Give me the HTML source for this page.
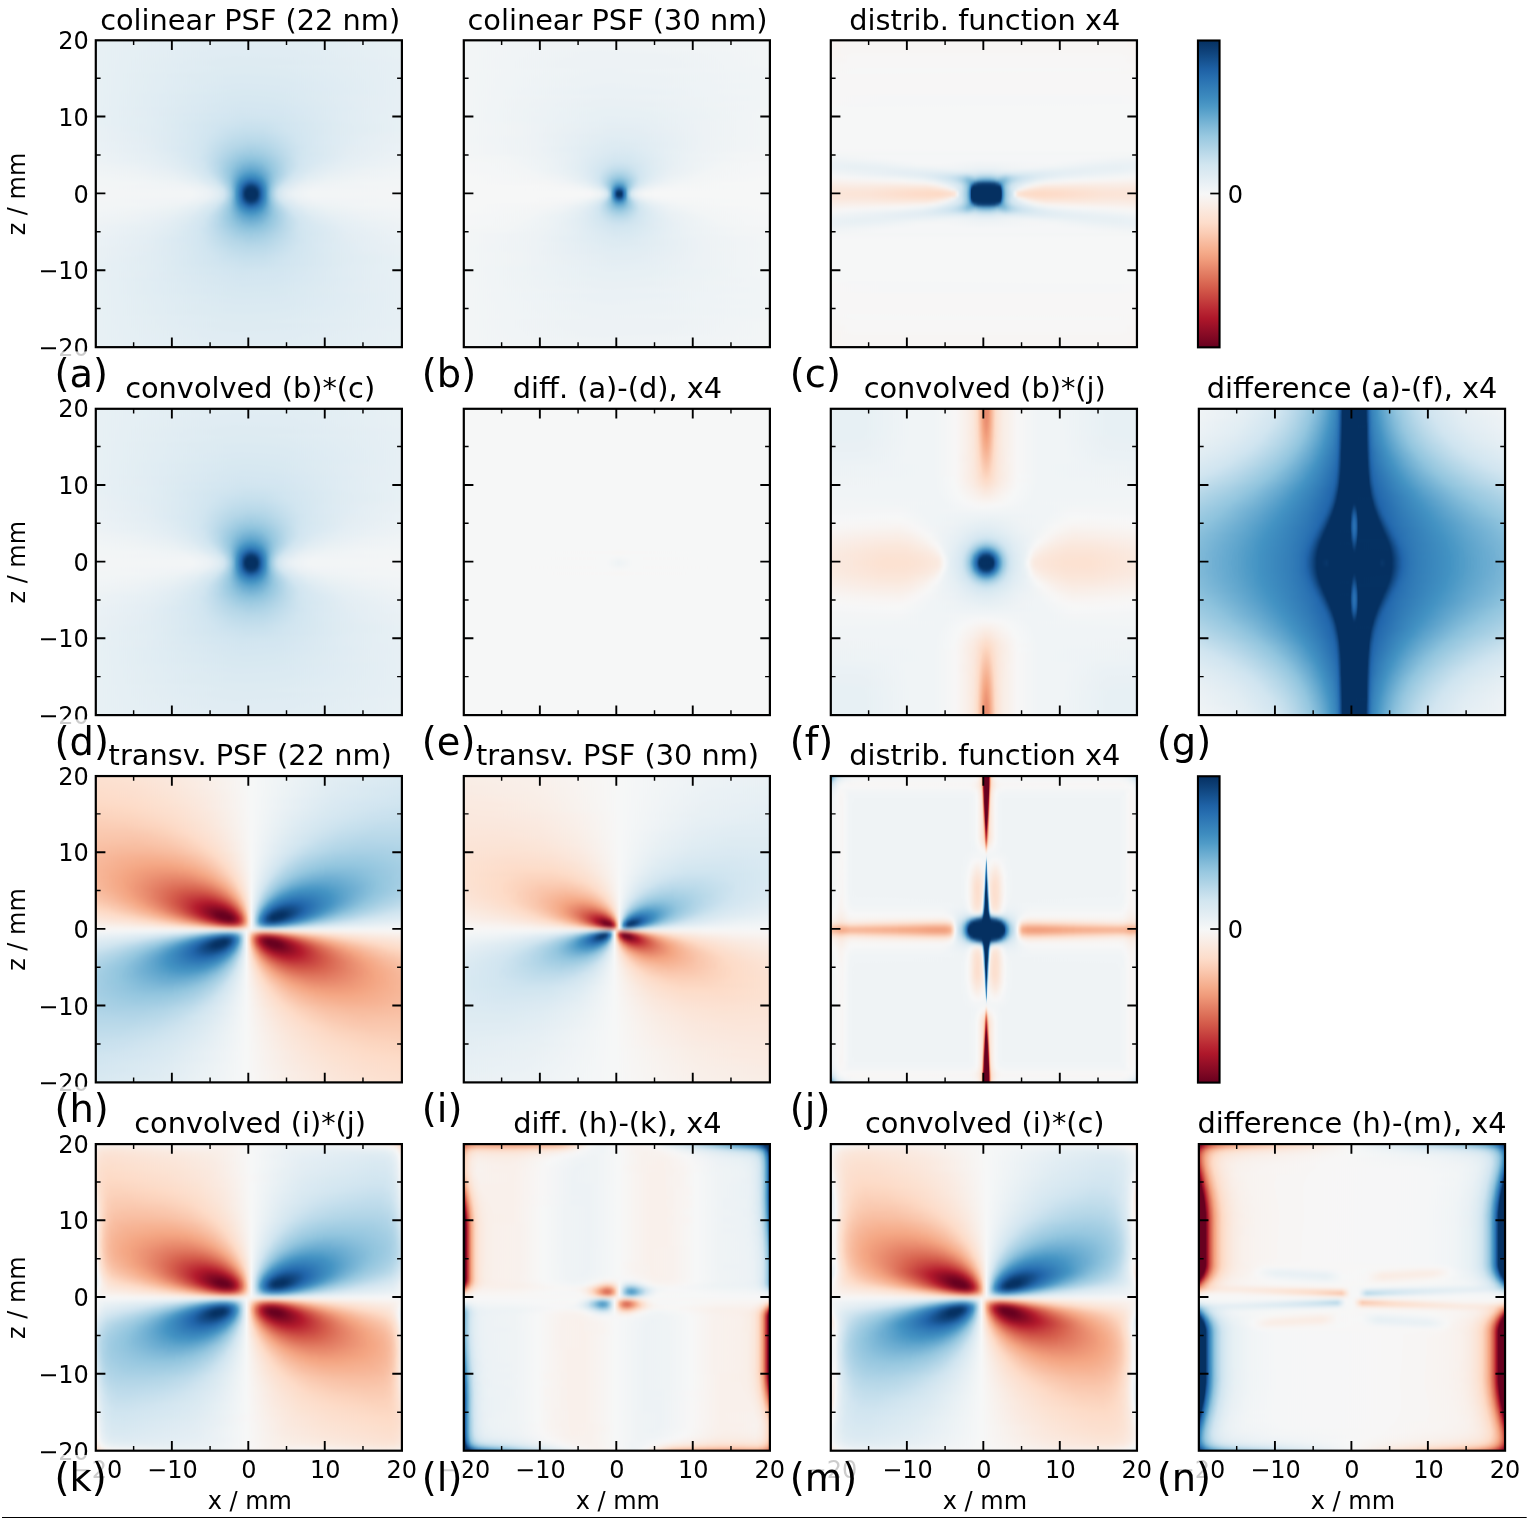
<!DOCTYPE html><html><head><meta charset="utf-8"><title>PSF figure</title><style>html,body{margin:0;padding:0;background:#fff}#fig{position:relative;width:1529px;height:1520px;overflow:hidden;background:#fff}.p{position:absolute;width:306px;height:306px;overflow:hidden;background:#f7f7f7}.q{position:absolute;left:0;top:-6px;margin-top:1px;width:306px;filter:url(#vb)}.q i{display:block;height:3px;width:306px}.f{transform:scaleX(-1)}text{font-family:"DejaVu Sans","Liberation Sans",sans-serif;fill:#000}.t{font-size:24px}.T{font-size:28.8px}.L{font-size:38.4px}.g0{background:linear-gradient(90deg,#e7f0f4 0%,#e1edf3 33%,#e1edf3 50.5%,#e1edf3 68.7%,#e7f0f4 100%)}.g1{background:linear-gradient(90deg,#e7f0f4 0%,#e0ecf3 45.6%,#e1edf3 70.6%,#e7f0f4 100%)}.g2{background:linear-gradient(90deg,#e7f0f4 0%,#e0ecf3 40.7%,#e0ecf3 60.9%,#e7f0f4 100%)}.g3{background:linear-gradient(90deg,#e7f0f4 0%,#e0ecf3 37.5%,#e0ecf3 64.1%,#e7f0f4 100%)}.g4{background:linear-gradient(90deg,#e7f0f4 0%,#e0ecf3 34.9%,#dfecf3 48.2%,#e0ecf3 66.4%,#e7f0f4 100%)}.g5{background:linear-gradient(90deg,#e7f0f4 0%,#deebf2 45.3%,#e0ecf3 68.7%,#e7f0f4 100%)}.g6{background:linear-gradient(90deg,#e7f0f4 0%,#deebf2 40.7%,#deebf2 60.6%,#e7eff4 100%)}.g7{background:linear-gradient(90deg,#e7f0f4 0%,#deebf2 37.8%,#deebf2 63.8%,#e6eff4 100%)}.g8{background:linear-gradient(90deg,#e7f0f4 0%,#e0ecf3 28.1%,#ddebf2 49.5%,#e6eff4 100%)}.g9{background:linear-gradient(90deg,#e7f0f4 0%,#ddebf2 42.7%,#ddebf2 58.9%,#e6eff4 100%)}.ga{background:linear-gradient(90deg,#e7f0f4 0%,#ddebf2 39.4%,#ddebf2 62.2%,#e6eff4 100%)}.gb{background:linear-gradient(90deg,#e7f0f4 0%,#deebf2 30.4%,#dbeaf2 48.9%,#ddebf2 64.4%,#e6eff4 100%)}.gc{background:linear-gradient(90deg,#e7f0f4 0%,#dbeaf2 42.7%,#dbeaf2 58.6%,#e6eff4 100%)}.gd{background:linear-gradient(90deg,#e7f0f4 0%,#ddebf2 33.3%,#dbeaf2 48.2%,#dbeaf2 61.9%,#e6eff4 100%)}.ge{background:linear-gradient(90deg,#e7f0f4 0%,#dae9f2 45.6%,#dbeaf2 64.1%,#e6eff4 100%)}.gf{background:linear-gradient(90deg,#e7f0f4 0%,#dae9f2 41.7%,#dae9f2 59.6%,#e6eff4 100%)}.g10{background:linear-gradient(90deg,#e7f0f4 0%,#d8e9f1 48.2%,#dae9f2 62.2%,#e6eff4 100%)}.g11{background:linear-gradient(90deg,#e7f0f4 0%,#d8e9f1 43%,#d8e9f1 58.3%,#e6eff4 100%)}.g12{background:linear-gradient(90deg,#e7f0f4 0%,#dae9f2 35.6%,#d7e8f1 49.2%,#d8e9f1 61.2%,#e3edf3 86.5%,#e6eff4 100%)}.g13{background:linear-gradient(90deg,#e7f0f4 0%,#d7e8f1 43.7%,#d7e8f1 58%,#e3edf3 86.9%,#e6eff4 100%)}.g14{background:linear-gradient(90deg,#e7f0f4 0%,#d5e7f1 47.9%,#d7e8f1 60.6%,#e4eef4 91.1%,#e6eff4 100%)}.g15{background:linear-gradient(90deg,#e7f0f4 0%,#e1edf3 18%,#d7e8f1 38.8%,#d5e7f1 48.2%,#d5e7f1 58%,#e3edf3 87.2%,#e6eff4 100%)}.g16{background:linear-gradient(90deg,#e7f0f4 0%,#d4e6f1 46.3%,#d5e7f1 60.6%,#e4eef4 91.1%,#e6eff4 100%)}.g17{background:linear-gradient(90deg,#e7f0f4 0%,#e3edf3 14.1%,#d3e6f0 47.2%,#d4e6f1 58.6%,#e1edf3 83.9%,#e7eff4 100%)}.g18{background:linear-gradient(90deg,#e7f0f4 0%,#e3edf3 14.1%,#d5e7f1 37.5%,#d2e5f0 47.9%,#d4e6f1 60.9%,#e0ecf3 81%,#e7f0f4 100%)}.g19{background:linear-gradient(90deg,#e7f0f4 0%,#e1edf3 17.4%,#d0e5f0 47.6%,#d2e6f0 59.6%,#e0ecf3 81.3%,#e7f0f4 100%)}.g1a{background:linear-gradient(90deg,#e7f0f4 0%,#e1edf3 17.4%,#cee3ef 48.5%,#cfe4ef 55.4%,#e0ecf3 81.3%,#e7f0f4 100%)}.g1b{background:linear-gradient(90deg,#e7f0f4 0%,#e1edf3 17.4%,#cbe2ee 49.2%,#cce2ef 54.7%,#e1edf3 84.3%,#e7f0f4 100%)}.g1c{background:linear-gradient(90deg,#e8f0f4 0%,#e0ecf3 20%,#c9e1ee 48.9%,#cae2ee 55.7%,#d1e5f0 61.5%,#deebf2 79.1%,#e7f0f4 100%)}.g1d{background:linear-gradient(90deg,#e9f0f4 0%,#ddebf2 24.5%,#d1e5f0 38.8%,#cce2ef 41.7%,#c6e0ed 47.9%,#c7e0ed 54.7%,#d1e5f0 62.8%,#deebf2 79.1%,#e7f0f4 100%)}.g1e{background:linear-gradient(90deg,#e9f0f4 0%,#e4eef4 12.2%,#dbeaf2 26.5%,#d1e5f0 37.8%,#c7e0ed 44%,#c3deec 48.9%,#c4deec 54.4%,#d1e5f0 63.8%,#deebf2 79.1%,#e8f0f4 100%)}.g1f{background:linear-gradient(90deg,#e9f0f4 0%,#e4eef4 12.8%,#dae9f2 28.1%,#d1e5f0 36.9%,#c4deec 44.3%,#bfdceb 49.2%,#c1ddec 55.4%,#d1e5f0 64.8%,#dbeaf2 75.2%,#e3edf3 85.9%,#e9f0f4 100%)}.g20{background:linear-gradient(90deg,#e9f0f4 0%,#e3edf3 16.1%,#d7e8f1 31%,#d1e5f0 36.2%,#bfdceb 45.3%,#bcdaea 48.9%,#bcdbea 54.1%,#c1ddec 57.6%,#d1e5f0 65.4%,#dbeaf2 75.2%,#e4eef4 88.1%,#e9f0f4 100%)}.g21{background:linear-gradient(90deg,#eaf1f5 0%,#e3edf3 16.4%,#d8e9f1 29.4%,#d1e5f0 35.6%,#bcdbea 44.6%,#b7d8e8 49.8%,#bad9e9 55.4%,#d1e5f0 65.7%,#dae9f2 73.5%,#e4eef4 87.5%,#e9f0f4 100%)}.g22{background:linear-gradient(90deg,#eaf1f5 0%,#e4eef4 14.8%,#dae9f2 28.1%,#d1e5f0 35.2%,#bad9e9 44%,#b2d5e7 49.8%,#b3d6e8 53.7%,#b7d8e9 56.3%,#d1e5f0 66.4%,#dae9f2 73.5%,#e4eef4 86.9%,#eaf1f5 100%)}.g23{background:linear-gradient(90deg,#eaf1f5 0%,#e4eef4 15.4%,#d5e7f1 32%,#d1e5f0 34.9%,#bad9e9 42.7%,#acd2e5 49.2%,#acd2e5 52.1%,#b1d5e7 55.4%,#cae1ee 63.8%,#d5e7f1 69.6%,#e3edf3 83.6%,#eaf1f5 100%)}.g24{background:linear-gradient(90deg,#ebf1f5 0%,#e3edf3 18.7%,#d5e7f1 32%,#cfe4ef 35.6%,#acd2e5 45.9%,#a5cee3 50.5%,#a7d0e4 53.4%,#afd4e6 56.7%,#d1e5f0 66.7%,#d7e8f1 70.6%,#e3edf3 83%,#eaf1f5 100%)}.g25{background:linear-gradient(90deg,#ecf2f5 0%,#e4eef4 17.4%,#ddebf2 26.1%,#d2e6f0 33.9%,#cce2ef 36.2%,#a7d0e4 45.6%,#a2cde3 47.9%,#a0cce2 48.2%,#a0cce2 49.8%,#9dcbe1 50.5%,#9dcbe1 51.1%,#a0cce2 51.5%,#a0cce2 53.1%,#a2cde3 53.4%,#a5cee3 55%,#c9e1ee 64.4%,#d2e6f0 67.7%,#e3edf3 82%,#ecf2f5 100%)}.g26{background:linear-gradient(90deg,#ecf2f5 0%,#e6eff4 16.4%,#e0ecf3 23.9%,#d2e6f0 33.9%,#c2ddec 38.5%,#a0cce2 45.9%,#9bc9e0 47.2%,#96c7df 49.8%,#96c7df 51.5%,#9bc9e0 54.1%,#a5cee3 56.7%,#c7e0ed 64.1%,#cfe4ef 66.1%,#d5e7f1 69.3%,#e4eef4 83%,#ecf2f5 100%)}.g27{background:linear-gradient(90deg,#edf2f5 0%,#e4eef4 19.6%,#ddebf2 27.4%,#d4e6f1 33.3%,#c7e0ed 37.2%,#a0cce2 44.6%,#9bc9e0 45.9%,#96c7df 46.6%,#8dc2dc 49.2%,#8dc2dc 52.1%,#90c4dd 53.4%,#98c8e0 55.4%,#b6d7e8 60.9%,#c5dfec 64.1%,#cae1ee 64.8%,#d1e5f0 66.7%,#d5e7f1 69%,#e4eef4 81.7%,#edf2f5 100%)}.g28{background:linear-gradient(90deg,#edf2f5 0%,#e7f0f4 17%,#e0ecf3 25.8%,#d4e6f1 33.6%,#cfe4ef 35.6%,#c2ddec 37.8%,#c2ddec 38.1%,#8ac0db 47.2%,#81bad8 50.2%,#81bad8 51.5%,#88bfdb 53.7%,#90c4dd 55%,#90c4dd 55.4%,#c0dceb 62.8%,#d1e5f0 66.7%,#d5e7f1 68.7%,#e4eef4 80.4%,#eaf1f5 89.8%,#edf2f5 100%)}.g29{background:linear-gradient(90deg,#eff3f5 0%,#eaf1f5 13.8%,#e4eef4 22.6%,#ddebf2 29.1%,#d1e5f0 35.2%,#c2ddec 38.1%,#bbdaea 39.1%,#bbdaea 39.4%,#90c4dd 45.3%,#87beda 46.3%,#87beda 46.6%,#7bb6d6 48.2%,#75b2d4 50.5%,#77b4d5 52.1%,#81bad8 54.4%,#8ac0db 55.4%,#96c7df 57%,#bddbea 62.5%,#d2e5f0 66.7%,#dfecf3 74.2%,#e5eff4 80%,#eef3f5 100%)}.g2a{background:linear-gradient(90deg,#eff3f5 0%,#ecf2f5 12.8%,#e5eef4 23.9%,#ddebf2 30%,#d3e6f0 34.9%,#c7e0ed 37.5%,#bbdaea 39.4%,#92c5de 44.3%,#7fb9d7 46.3%,#7eb8d7 46.6%,#71b0d3 47.9%,#67aacf 50.5%,#6bacd1 52.4%,#75b2d4 54.1%,#94c6df 57.3%,#a5cee3 59.3%,#c0dceb 62.8%,#d2e6f0 66.4%,#dceaf2 70.9%,#e6eff4 79.4%,#ecf2f5 88.5%,#eff3f5 100%)}.g2b{background:linear-gradient(90deg,#f0f4f6 0%,#edf2f5 12.2%,#e8f0f4 22.6%,#e2edf3 28.4%,#d6e7f1 34.6%,#cfe4f0 36.5%,#bcdaea 39.4%,#acd2e5 41.4%,#a7d0e4 41.7%,#96c7df 43.7%,#6eaed2 46.9%,#5da3cc 49.2%,#59a1ca 50.5%,#59a1ca 51.1%,#61a6cd 53.1%,#78b4d5 55.4%,#93c6de 57.6%,#a2cde3 59.3%,#a7d0e4 59.6%,#c1ddec 62.8%,#d1e5f0 65.4%,#e0ecf3 71.9%,#e6eff4 77.1%,#edf2f5 88.1%,#f0f4f6 100%)}.g2c{background:linear-gradient(90deg,#f0f4f6 0%,#eff3f5 11.2%,#e8f0f4 25.2%,#e0ecf3 31.3%,#d2e6f0 36.5%,#c9e1ee 38.1%,#b7d8e8 40.4%,#a0cce2 42.7%,#90c4dd 44%,#68abd0 46.6%,#509bc8 48.5%,#4997c5 49.5%,#4694c4 50.8%,#4997c5 52.1%,#59a1ca 53.7%,#6eaed2 55.4%,#96c7df 58%,#a5cee3 59.3%,#c2ddec 62.5%,#d0e5f0 64.4%,#d4e6f1 65.4%,#dfecf3 69.6%,#e8f0f4 76.5%,#edf2f5 85.9%,#f0f4f6 100%)}.g2d{background:linear-gradient(90deg,#f2f5f6 0%,#eef3f5 16.7%,#e9f1f4 26.1%,#e1edf3 32.3%,#d2e6f0 37.5%,#c7e0ed 39.1%,#bbdaea 40.4%,#9dcbe1 43%,#88bfdb 44.3%,#4f9bc7 47.2%,#4694c4 47.9%,#3e8cbf 48.9%,#3986bc 50.2%,#3b89be 52.1%,#4493c3 53.4%,#4c99c6 54.1%,#85bdda 57%,#9bc9e0 58.3%,#aed3e6 59.9%,#c2ddec 61.9%,#cfe4ef 63.5%,#d5e7f1 64.8%,#e1edf3 69.3%,#e9f1f4 75.5%,#eff3f5 86.2%,#f1f4f6 100%)}.g2e{background:linear-gradient(90deg,#f2f5f6 0%,#f0f4f6 14.8%,#ecf2f5 25.5%,#e4eef4 32.6%,#d7e8f1 37.5%,#cfe4ef 39.1%,#c2ddec 40.4%,#b3d6e8 41.7%,#96c7df 43.7%,#81bad8 44.6%,#4e9ac7 46.6%,#408fc1 47.2%,#317bb7 48.9%,#2b73b3 49.8%,#2a71b2 50.5%,#2a71b2 51.1%,#2e77b5 52.1%,#3480b9 53.1%,#4291c2 54.4%,#84bcd9 57%,#9dcbe1 58.3%,#b1d5e7 59.6%,#cae1ee 61.9%,#d2e6f0 63.1%,#dae9f2 64.8%,#e6eff4 69.6%,#ecf2f5 76.1%,#f0f4f6 86.9%,#f2f5f6 100%)}.g2f{background:linear-gradient(90deg,#f2f5f6 0%,#f2f5f6 12.8%,#eef3f5 27.1%,#e7f0f4 33.3%,#dae9f2 37.8%,#d3e6f0 39.4%,#c7e0ed 40.7%,#a7d0e4 43%,#92c5de 44%,#81bad8 44.6%,#4997c5 46.3%,#4190c1 46.6%,#3783bb 47.2%,#26a 48.9%,#1b5a9c 49.8%,#195696 50.5%,#195797 51.1%,#2063a6 52.4%,#2b73b2 53.4%,#4392c3 55%,#84bcd9 57%,#95c6df 57.6%,#aed3e6 58.9%,#c9e1ee 60.9%,#d2e5f0 61.9%,#dae9f2 63.5%,#e3edf3 66.1%,#e9f0f4 69%,#eef3f5 74.5%,#f2f5f6 88.5%,#f2f5f6 100%)}.g30{background:linear-gradient(90deg,#f3f5f6 0%,#eff3f6 29.1%,#e9f0f4 34.9%,#dbeaf2 39.1%,#d1e5f0 40.7%,#c5dfec 41.7%,#aed3e6 43%,#97c7df 44%,#81bad8 44.6%,#68abd0 45.3%,#408fc1 46.3%,#2267ab 47.9%,#154e8b 48.9%,#0f437b 49.5%,#0b3b71 50.2%,#0a396e 50.5%,#0a3a6f 51.1%,#0d4077 51.8%,#134a85 52.4%,#1f61a5 53.4%,#246aae 53.7%,#3d8bbf 55%,#4493c3 55.4%,#60a5cd 56%,#91c5de 57.3%,#b1d5e7 58.6%,#cbe2ee 60.2%,#d4e7f1 61.2%,#dae9f2 62.2%,#e9f0f4 66.7%,#eff3f6 72.6%,#f3f5f6 100%)}.g31{background:linear-gradient(90deg,#f3f5f6 0%,#f1f4f6 30.7%,#eaf1f5 36.2%,#e4eef4 38.1%,#dbeaf2 40.1%,#d2e6f0 41.4%,#cae1ee 42%,#aed3e6 43.3%,#92c5de 44.3%,#68abd0 45.3%,#4796c4 45.9%,#3e8dc0 46.3%,#2064a9 47.6%,#154e8b 48.2%,#0b3b71 48.9%,#073467 49.2%,#053162 49.5%,#053061 49.8%,#053061 51.8%,#063163 52.1%,#0d3f76 52.8%,#1c5da0 53.7%,#2369ad 54.1%,#4190c1 55.4%,#8bc1dc 57%,#97c7df 57.3%,#a9d1e5 58%,#c0dceb 58.9%,#d1e5f0 59.9%,#e0ecf3 62.2%,#ebf1f5 66.1%,#f1f4f6 70.9%,#f3f5f6 100%)}.g32{background:linear-gradient(90deg,#f3f5f6 0%,#f2f5f6 31.7%,#ebf1f5 36.9%,#e1edf3 39.8%,#d6e7f1 41.4%,#cfe4f0 42%,#bcdaea 43%,#aad1e5 43.7%,#96c7df 44.3%,#89bfdb 44.6%,#7ab6d6 45%,#4695c4 45.9%,#3c8abe 46.3%,#246aae 47.2%,#1d5fa2 47.6%,#0b3b71 48.5%,#063264 48.9%,#053061 49.2%,#053061 52.4%,#083669 52.8%,#134b86 53.4%,#2064a9 54.1%,#276fb0 54.4%,#3f8ec1 55.4%,#4c99c6 55.7%,#5fa5cd 56%,#8ec3dd 57%,#a5cee3 57.6%,#b7d8e8 58.3%,#c5dfed 58.9%,#d1e5f0 59.6%,#deebf2 61.2%,#e7eff4 63.1%,#ecf2f5 65.1%,#f2f5f6 70%,#f3f5f6 100%)}.g33{background:linear-gradient(90deg,#f2f5f6 0%,#eff3f5 31.3%,#eff3f5 76.5%,#f2f5f6 100%)}.g34{background:linear-gradient(90deg,#f2f5f6 0%,#eff3f5 23.9%,#eff3f5 77.8%,#f2f5f6 100%)}.g35{background:linear-gradient(90deg,#f2f5f6 0%,#eef3f5 47.2%,#f2f5f6 100%)}.g36{background:linear-gradient(90deg,#f2f5f6 0%,#edf2f5 42.4%,#f2f5f6 100%)}.g37{background:linear-gradient(90deg,#f2f5f6 0%,#edf2f5 38.8%,#edf2f5 62.8%,#f2f5f6 100%)}.g38{background:linear-gradient(90deg,#f2f5f6 0%,#edf2f5 37.8%,#edf2f5 65.4%,#f2f5f6 100%)}.g39{background:linear-gradient(90deg,#f2f5f6 0%,#edf2f5 33.9%,#edf2f5 67.7%,#f2f5f6 100%)}.g3a{background:linear-gradient(90deg,#f2f5f6 0%,#edf2f5 32%,#edf2f5 69.6%,#f2f5f6 100%)}.g3b{background:linear-gradient(90deg,#f2f5f6 0%,#edf2f5 31.3%,#edf2f5 71.3%,#f2f5f6 100%)}.g3c{background:linear-gradient(90deg,#f2f5f6 0%,#ecf2f5 47.6%,#f1f4f6 100%)}.g3d{background:linear-gradient(90deg,#f2f5f6 0%,#ecf2f5 43.3%,#f0f4f6 100%)}.g3e{background:linear-gradient(90deg,#f2f5f6 0%,#ecf2f5 40.1%,#ecf2f5 61.5%,#f0f4f6 100%)}.g3f{background:linear-gradient(90deg,#f2f5f6 0%,#ecf2f5 37.5%,#ecf2f5 64.1%,#f0f4f6 100%)}.g40{background:linear-gradient(90deg,#f2f5f6 0%,#ecf2f5 35.6%,#ecf2f5 66.1%,#f0f4f6 88.5%,#f0f4f6 100%)}.g41{background:linear-gradient(90deg,#f2f5f6 0%,#ebf1f5 47.6%,#f0f4f6 100%)}.g42{background:linear-gradient(90deg,#f2f5f6 0%,#eaf1f5 45.3%,#f0f4f6 100%)}.g43{background:linear-gradient(90deg,#f2f5f6 0%,#eaf1f5 41.7%,#eaf1f5 59.9%,#f0f4f6 89.8%,#f0f4f6 100%)}.g44{background:linear-gradient(90deg,#f2f5f6 0%,#eaf1f5 39.1%,#eaf1f5 62.5%,#f0f4f6 90.1%,#f0f4f6 100%)}.g45{background:linear-gradient(90deg,#f2f5f6 0%,#eaf1f5 49.5%,#f0f4f6 100%)}.g46{background:linear-gradient(90deg,#f2f5f6 0%,#e9f0f4 46.6%,#f0f4f6 100%)}.g47{background:linear-gradient(90deg,#f2f5f6 0%,#e9f0f4 42.7%,#e9f0f4 58.9%,#f0f4f6 90.7%,#f0f4f6 100%)}.g48{background:linear-gradient(90deg,#f2f5f6 0%,#e9f0f4 40.1%,#e9f0f4 61.5%,#eff3f5 83%,#f0f4f6 100%)}.g49{background:linear-gradient(90deg,#f2f5f6 0%,#e7f0f4 49.2%,#f1f4f6 100%)}.g4a{background:linear-gradient(90deg,#f2f5f6 0%,#e7f0f4 44%,#e7f0f4 57.6%,#f2f5f6 100%)}.g4b{background:linear-gradient(90deg,#f2f5f6 0%,#edf2f5 23.9%,#e7f0f4 41.4%,#e7f0f4 60.2%,#f2f5f6 100%)}.g4c{background:linear-gradient(90deg,#f2f5f6 0%,#e6eff4 47.2%,#e7f0f4 62.2%,#f2f5f6 100%)}.g4d{background:linear-gradient(90deg,#f2f5f6 0%,#e5eff4 49.5%,#e6eff4 58.6%,#edf2f5 78.7%,#f2f5f6 100%)}.g4e{background:linear-gradient(90deg,#f2f5f6 0%,#eff3f5 17.4%,#e4eef4 47.2%,#e6eff4 60.9%,#edf2f5 78.7%,#f2f5f6 100%)}.g4f{background:linear-gradient(90deg,#f2f5f6 0%,#eff3f5 17.4%,#e4eef3 48.9%,#e4eef4 57.6%,#edf2f5 79.1%,#f2f5f6 100%)}.g50{background:linear-gradient(90deg,#f2f5f6 0%,#eff3f5 17.7%,#e3edf3 47.2%,#e3edf3 54.7%,#edf2f5 79.1%,#f2f5f6 100%)}.g51{background:linear-gradient(90deg,#f2f5f6 0%,#eff3f5 17.7%,#e2edf3 48.9%,#e3edf3 57.6%,#edf2f5 79.1%,#f2f5f6 100%)}.g52{background:linear-gradient(90deg,#f2f5f6 0%,#eff3f5 18%,#e3edf3 42%,#e1edf3 50.2%,#e3edf3 59.6%,#edf2f5 79.1%,#f2f5f6 100%)}.g53{background:linear-gradient(90deg,#f2f5f6 0%,#edf2f5 22.2%,#e0ecf3 47.6%,#e1edf3 58%,#eff3f5 83.3%,#f2f5f6 100%)}.g54{background:linear-gradient(90deg,#f2f5f6 0%,#edf2f5 22.6%,#deebf2 49.5%,#e0ecf3 56.7%,#edf2f5 79.1%,#f2f5f6 100%)}.g55{background:linear-gradient(90deg,#f3f5f6 0%,#ecf2f5 26.1%,#ddebf2 48.2%,#deebf2 56%,#edf2f5 78.7%,#f2f5f6 100%)}.g56{background:linear-gradient(90deg,#f3f5f6 0%,#edf2f5 22.9%,#ddebf2 45.9%,#dceaf2 52.8%,#edf2f5 78.4%,#f3f5f6 100%)}.g57{background:linear-gradient(90deg,#f3f5f6 0%,#edf2f5 23.2%,#dae9f2 49.8%,#dbeaf2 54.7%,#e7f0f4 68.3%,#edf2f5 78.1%,#f3f5f6 100%)}.g58{background:linear-gradient(90deg,#f3f5f6 0%,#edf2f5 23.9%,#e7f0f4 33%,#d8e8f1 49.2%,#d9e9f2 55%,#e6eff4 66.7%,#ecf2f5 74.8%,#f2f5f6 89.8%,#f3f5f6 100%)}.g59{background:linear-gradient(90deg,#f3f5f6 0%,#f2f5f6 12.8%,#edf2f5 24.5%,#e6eff4 34.6%,#d6e7f1 49.2%,#d6e8f1 53.7%,#e4eef4 65.4%,#ecf2f5 74.5%,#f2f5f6 88.5%,#f3f5f6 100%)}.g5a{background:linear-gradient(90deg,#f4f6f6 0%,#f2f5f6 14.4%,#ecf2f5 27.4%,#e6eff4 34.6%,#d3e6f0 48.9%,#d5e7f1 54.4%,#e7f0f4 68.3%,#edf2f5 76.5%,#f3f5f6 93%,#f3f5f6 100%)}.g5b{background:linear-gradient(90deg,#f5f6f7 0%,#f2f5f6 15.7%,#ecf2f5 28.1%,#e3edf3 37.2%,#d2e5f0 47.6%,#cfe4f0 50.5%,#d3e6f0 54.7%,#e3edf3 64.4%,#ecf2f5 73.5%,#f2f5f6 85.6%,#f5f6f7 100%)}.g5c{background:linear-gradient(90deg,#f5f6f7 0%,#f2f5f6 17.4%,#ecf2f5 28.7%,#e1edf3 38.1%,#d3e6f0 45.6%,#cae1ee 49.2%,#cae1ee 52.1%,#e0ecf3 62.5%,#eaf1f5 70.9%,#f2f5f6 83.9%,#f5f6f7 100%)}.g5d{background:linear-gradient(90deg,#f5f6f7 0%,#f2f5f6 19.3%,#eaf1f5 31.3%,#deebf2 39.8%,#d1e5f0 45.3%,#c5dfec 48.2%,#c1ddec 50.5%,#c5dfec 53.1%,#d1e5f0 56.3%,#dbeaf2 60.2%,#e9f0f4 68.7%,#f2f5f6 82.3%,#f5f6f7 100%)}.g5e{background:linear-gradient(90deg,#f5f6f7 0%,#f2f5f6 21.3%,#e7f0f4 34.6%,#e0ecf3 39.1%,#d2e5f0 44.3%,#bad9e9 48.9%,#b7d8e8 50.5%,#b7d8e9 51.8%,#bddbea 53.4%,#d1e5f0 57%,#d8e9f1 59.3%,#e1edf3 63.1%,#e9f0f4 68%,#f2f5f6 80.4%,#f5f6f7 100%)}.g5f{background:linear-gradient(90deg,#f6f7f7 0%,#f2f5f6 23.2%,#edf2f5 30.4%,#e4eef3 37.5%,#dae9f2 41.7%,#d0e5f0 44.3%,#b3d6e7 48.2%,#a9d1e5 49.8%,#a9d1e5 51.5%,#b1d5e7 53.1%,#cde3ef 56.7%,#d4e6f1 58%,#dfecf3 61.9%,#e9f0f4 67%,#f2f5f6 78.1%,#f6f6f7 100%)}.g60{background:linear-gradient(90deg,#f6f7f7 0%,#f3f5f6 22.2%,#eef3f5 31.7%,#e6eff4 37.2%,#dceaf2 41.4%,#d1e5f0 44%,#b8d8e9 46.6%,#a2cde3 48.5%,#97c8df 50.5%,#97c8df 51.1%,#9fcbe2 52.4%,#d2e6f0 57.6%,#ddebf2 60.6%,#e5eef4 63.5%,#ecf2f5 68.3%,#f2f5f6 75.8%,#f6f7f7 100%)}.g61{background:linear-gradient(90deg,#f6f7f7 0%,#f3f5f6 26.5%,#eff3f6 32.3%,#e4eef3 39.4%,#dae9f2 42.4%,#cfe4f0 44.3%,#b7d8e8 46.3%,#93c5de 48.5%,#86bdda 49.5%,#81bad8 50.2%,#80bad8 50.8%,#84bcd9 51.8%,#90c4dd 52.8%,#bcdbea 55.7%,#d0e5f0 57.3%,#dbeaf2 59.3%,#e4eef4 62.2%,#eef3f5 67.7%,#f3f5f6 76.1%,#f6f7f7 100%)}.g62{background:linear-gradient(90deg,#f6f7f7 0%,#f4f5f6 27.8%,#eff3f5 35.2%,#e7f0f4 39.8%,#dbeaf2 43%,#d5e7f1 44%,#cfe4ef 44.6%,#bcdaea 45.9%,#93c6de 47.9%,#74b2d4 49.2%,#68abd0 49.8%,#62a7ce 50.5%,#62a7ce 51.1%,#6eaed2 52.1%,#96c7df 53.7%,#b1d5e7 55%,#c3deec 56%,#d1e5f0 57%,#d8e9f1 58%,#e6eff4 61.2%,#edf2f5 65.1%,#f2f5f6 70.3%,#f6f7f7 84.9%,#f6f7f7 100%)}.g63{background:linear-gradient(90deg,#f6f7f7 0%,#f6f7f7 22.9%,#f4f5f6 32.6%,#f0f4f6 37.5%,#e8f0f4 41.4%,#deebf2 43.7%,#d3e6f0 45%,#cae1ee 45.6%,#b4d6e8 46.6%,#98c8e0 47.6%,#8dc2dc 47.9%,#62a7ce 48.9%,#4b97c5 49.5%,#4390c2 49.8%,#3c89be 50.5%,#3e8abf 51.1%,#4593c3 51.8%,#4f9ac7 52.1%,#5ba2cb 52.4%,#91c5de 53.7%,#9ccae1 54.1%,#afd4e6 54.7%,#cce2ef 56%,#ddebf2 57.6%,#e8f0f4 59.9%,#f0f4f6 64.1%,#f4f6f6 70.3%,#f6f7f7 100%)}.g64{background:linear-gradient(90deg,#f6f7f7 0%,#f5f6f7 34.9%,#f2f5f6 40.1%,#e9f1f4 43.3%,#e4eef3 44.3%,#d8e9f1 45.6%,#cee3ef 46.3%,#bbdaea 46.9%,#aed3e6 47.2%,#8ec3dd 47.9%,#4493c3 48.9%,#3783bb 49.2%,#2c75b4 49.5%,#1d5d9d 50.2%,#195695 50.5%,#195593 50.8%,#1b5997 51.1%,#2061a2 51.5%,#266cad 51.8%,#3b89be 52.4%,#4c99c6 52.8%,#81bad8 53.4%,#96c7df 53.7%,#b3d6e7 54.4%,#c9e1ee 55%,#d0e4f0 55.4%,#dae9f2 56%,#e5eef4 57.3%,#ebf1f5 58.6%,#f3f5f6 62.5%,#f5f6f7 66.7%,#f6f7f7 100%)}.g65{background:linear-gradient(90deg,#f6f7f7 0%,#f6f7f7 38.8%,#f6f6f7 41.1%,#eef3f5 44.3%,#e4eef4 45.6%,#d6e8f1 46.6%,#cee4ef 46.9%,#c0dceb 47.2%,#aed3e6 47.6%,#97c8e0 47.9%,#79b5d5 48.2%,#569fc9 48.5%,#3a87bd 48.9%,#2970b1 49.2%,#1a5899 49.5%,#0e4179 49.8%,#063365 50.2%,#053061 50.5%,#053162 51.1%,#08366a 51.5%,#124984 51.8%,#1f61a5 52.1%,#2f79b6 52.4%,#408fc1 52.8%,#86bdda 53.4%,#a0cce2 53.7%,#b5d7e8 54.1%,#c5dfed 54.4%,#d2e6f0 54.7%,#d9e9f1 55%,#e5eff4 56%,#edf2f5 57%,#f4f6f6 59.3%,#f6f7f7 62.5%,#f6f7f7 100%)}.g66{background:linear-gradient(90deg,#f8f4f2 0%,#f7f5f4 7.6%,#f7f5f4 96.3%,#f8f4f2 96.9%,#f8f4f2 100%)}.g67{background:linear-gradient(90deg,#f8f4f2 0%,#f7f5f4 7.6%,#f7f5f4 96.6%,#f8f4f2 97.2%,#f8f4f2 100%)}.g68{background:linear-gradient(90deg,#f8f4f2 0%,#f7f5f4 4.7%,#f7f5f4 96.9%,#f8f4f2 100%)}.g69{background:linear-gradient(90deg,#f8f4f2 0%,#f7f5f4 4.1%,#f7f5f4 97.6%,#f8f4f2 100%)}.g6a{background:linear-gradient(90deg,#f8f4f2 0%,#f7f6f5 7.6%,#f7f6f5 94%,#f8f4f2 100%)}.g6b{background:linear-gradient(90deg,#f8f5f3 0%,#f7f6f6 6.7%,#f7f6f6 95%,#f7f5f4 100%)}.g6c{background:linear-gradient(90deg,#f7f5f4 0%,#f7f5f4 4.7%,#f7f6f6 5.7%,#f7f6f6 95.9%,#f7f5f4 96.6%,#f7f5f4 100%)}.g6d{background:linear-gradient(90deg,#f7f5f4 0%,#f7f6f6 5.7%,#f7f6f6 96.6%,#f7f5f4 100%)}.g6e{background:linear-gradient(90deg,#f7f5f4 0%,#f7f6f6 4.1%,#f7f6f6 97.6%,#f7f5f4 100%)}.g6f{background:linear-gradient(90deg,#f7f5f4 0%,#f6f7f7 8.6%,#f6f7f7 93.7%,#f7f5f4 100%)}.g70{background:linear-gradient(90deg,#f7f6f5 0%,#f6f7f7 6.3%,#f7f6f5 100%)}.g71{background:#f7f6f6}.g72{background:linear-gradient(90deg,#f7f6f6 0%,#f5f6f7 16.7%,#f5f6f7 93.3%,#f7f6f6 100%)}.g73{background:linear-gradient(90deg,#f7f6f6 0%,#f5f6f7 16.7%,#f5f6f7 94.3%,#f7f6f6 100%)}.g74{background:linear-gradient(90deg,#f7f6f6 0%,#f5f6f7 16.7%,#f5f6f7 94.6%,#f7f6f6 100%)}.g75{background:linear-gradient(90deg,#f7f7f6 0%,#f5f6f7 6.3%,#f6f7f7 100%)}.g76{background:#f6f7f7}.g77{background:linear-gradient(90deg,#f6f6f7 0%,#f6f7f7 100%)}.g78{background:#f4f6f6}.g79{background:linear-gradient(90deg,#f1f4f6 0%,#f5f6f7 15.1%,#f5f6f7 86.2%,#f2f5f6 100%)}.g7a{background:linear-gradient(90deg,#eef3f5 0%,#f5f6f7 21.6%,#f5f6f7 79.7%,#eff3f5 94.6%,#eff3f5 100%)}.g7b{background:linear-gradient(90deg,#ebf1f5 0%,#ecf2f5 9.3%,#f5f6f7 29.1%,#f5f6f7 38.5%,#f1f4f6 48.2%,#f5f6f7 72.2%,#ecf2f5 92.4%,#ebf1f5 100%)}.g7c{background:linear-gradient(90deg,#eaf1f5 0%,#e8f0f4 7%,#eaf1f5 15.7%,#f2f5f6 27.8%,#f4f5f6 35.6%,#eff3f5 47.9%,#eff3f5 53.4%,#f4f5f6 65.1%,#f2f5f6 73.5%,#eaf1f5 85.9%,#e8f0f4 93.3%,#eaf1f5 100%)}.g7d{background:linear-gradient(90deg,#ebf1f5 0%,#e7f0f4 8.6%,#e8f0f4 20%,#f0f4f6 40.1%,#eaf1f5 48.2%,#eaf1f5 53.1%,#eff3f5 58.3%,#f0f4f6 64.1%,#e8f0f4 81.7%,#e7f0f4 93%,#ebf1f5 100%)}.g7e{background:linear-gradient(90deg,#eff3f5 0%,#e5eef4 22.6%,#e6eff4 42%,#e4eef3 46.6%,#e0ecf3 48.9%,#e0ecf3 52.4%,#e4eef3 54.7%,#e6eff4 59.3%,#e4eef4 69.3%,#e6eff4 82.6%,#eaf1f5 94.6%,#eff3f5 100%)}.g7f{background:linear-gradient(90deg,#f3f5f6 0%,#e3edf3 28.1%,#d7e8f1 40.7%,#cee3ef 44.3%,#d4e6f0 46.6%,#d3e6f0 47.2%,#cbe2ee 49.5%,#cbe2ee 52.1%,#d3e6f0 54.4%,#d3e6f0 55.4%,#cee3ef 57%,#d7e8f1 60.9%,#e6eff4 77.1%,#f3f5f6 100%)}.g80{background:linear-gradient(90deg,#f7f5f4 0%,#f6f6f7 4.7%,#eff3f5 21.3%,#e6eff4 29.7%,#e0ecf3 32.6%,#cfe4f0 38.5%,#c1ddec 41.1%,#b2d5e7 43%,#a5cfe4 44%,#a1cde2 44.6%,#a3cee3 45.3%,#b1d5e7 46.9%,#b1d5e7 47.2%,#a2cde3 48.9%,#9dcae1 50.5%,#9fcce2 52.1%,#b1d5e7 54.4%,#aed3e6 55%,#a5cee3 56%,#a1cde2 57%,#a3cee3 57.3%,#bcdaea 59.6%,#cde3ef 62.5%,#dbeaf2 67%,#e4eef4 70.9%,#eaf1f5 75.2%,#f0f4f6 82.6%,#f7f6f5 100%)}.g81{background:linear-gradient(90deg,#f8f2ef 0%,#f6f6f6 23.5%,#f0f4f6 30%,#e6eff4 34.3%,#d0e5f0 39.4%,#c9e1ee 40.4%,#bfdceb 41.4%,#add3e6 42.7%,#92c5de 44%,#88bfdb 44.3%,#7fb9d7 45%,#7cb7d6 45.3%,#7cb7d6 46.3%,#78b4d5 47.2%,#64a7ce 48.2%,#5ba0ca 48.9%,#549bc7 49.8%,#539ac7 50.8%,#549bc7 51.8%,#60a4cc 53.1%,#65a9cf 53.4%,#76b3d4 54.1%,#79b5d5 54.4%,#7cb7d6 56%,#80bad8 56.7%,#8bc1dc 57.3%,#95c6df 57.6%,#afd4e6 58.9%,#c7e0ed 60.9%,#d4e6f1 62.8%,#e7f0f4 67.7%,#f0f4f6 71.6%,#f6f6f6 78.1%,#f8f4f2 94%,#f8f2ef 100%)}.g82{background:linear-gradient(90deg,#f9eee8 0%,#f9efea 6%,#f9f0eb 22.6%,#f8f3f0 31%,#f5f5f5 33.6%,#ecf2f5 36.2%,#d9e9f2 40.1%,#d1e5f0 41.4%,#c4deec 42.4%,#b7d8e8 43%,#a6cfe4 43.7%,#92c5de 44.3%,#7ab6d6 45%,#5ca3cb 45.6%,#3d88be 46.3%,#3178b1 46.6%,#24659d 46.9%,#13497f 47.9%,#10447b 48.2%,#0c3d74 49.5%,#0c3d73 50.2%,#0c3e75 52.1%,#11457c 53.4%,#154c83 53.7%,#205f98 54.4%,#296ca4 54.7%,#367fb8 55%,#529cc8 55.7%,#62a7ce 56%,#7fb9d7 56.7%,#96c7df 57.3%,#b2d5e7 58.3%,#c6e0ed 59.3%,#d2e5f0 60.2%,#e8f0f4 64.4%,#f3f5f5 67%,#f8f3f0 70.3%,#f9f0eb 79.1%,#f9eee8 100%)}.g83{background:linear-gradient(90deg,#faeae1 0%,#f9ebe3 7.6%,#fae9df 20%,#fae9df 31.3%,#f9ede6 34.3%,#f8f2ef 35.9%,#f2f4f6 37.8%,#dae9f2 41.4%,#d1e5f0 42.4%,#cbe2ee 42.7%,#bbdaea 43.3%,#9ac9e0 44.3%,#8ac0db 44.6%,#74b2d4 45%,#569fc9 45.3%,#3885bc 45.6%,#1f60a0 45.9%,#0b3b71 46.3%,#053061 46.6%,#053061 54.7%,#063163 55%,#10467f 55.4%,#2970b0 55.7%,#418ec1 56%,#62a7ce 56.3%,#7eb8d7 56.7%,#91c5de 57%,#abd2e5 57.6%,#bfdceb 58.3%,#cee3ef 58.9%,#d2e6f0 59.3%,#eff3f6 63.1%,#f4f5f5 64.1%,#f8f2ee 65.7%,#f9ede5 67.7%,#fae9df 70%,#fae9df 81.7%,#f9ebe3 93.7%,#faeae1 100%)}.g84{background:linear-gradient(90deg,#fae7dc 0%,#fae7dc 11.5%,#fce2d2 26.1%,#fce1d1 32.3%,#fbe6da 36.2%,#f9ebe3 37.8%,#f5f3f2 39.4%,#edf2f5 40.4%,#ddebf2 41.4%,#cee3ef 42.7%,#bcdbea 43.3%,#a6cfe4 44%,#98c8e0 44.3%,#84bcd9 44.6%,#68abd0 45%,#408fc1 45.3%,#256caf 45.6%,#073466 45.9%,#053061 46.3%,#053061 55.4%,#134a85 55.7%,#317bb7 56%,#4e9ac7 56.3%,#75b2d4 56.7%,#8dc2dc 57%,#9ecbe1 57.3%,#abd2e5 57.6%,#c0dceb 58.3%,#d0e5f0 58.9%,#dfecf3 60.2%,#eff3f5 61.2%,#f5f3f2 61.9%,#f8f0eb 62.8%,#fae7dc 64.8%,#fbe3d5 66.7%,#fce1d1 69.3%,#fce2d2 75.2%,#fae7dc 90.1%,#fae7dc 100%)}.g85{background:linear-gradient(90deg,#fbe6d9 0%,#fbe4d7 12.2%,#fddcca 27.8%,#fddbc7 33.6%,#fddbc7 35.6%,#fce0d0 39.1%,#fbe6da 40.4%,#f9ebe3 40.7%,#f0f3f4 41.4%,#e6eff4 41.7%,#dbeaf2 42%,#c5dfec 43%,#bbdaea 43.3%,#a4cee3 44%,#96c7df 44.3%,#7fb9d7 44.6%,#60a5cd 45%,#3c8abe 45.3%,#2064a9 45.6%,#053061 45.9%,#053061 55.4%,#0c3d74 55.7%,#2b74b3 56%,#4695c4 56.3%,#6daed1 56.7%,#88bfdb 57%,#9bc9e0 57.3%,#a9d1e4 57.6%,#bedbeb 58.3%,#d6e8f1 59.3%,#eaf1f5 59.9%,#f3f3f3 60.2%,#fae9df 60.9%,#fbe5d9 61.2%,#fbe3d5 61.5%,#fcdecc 63.5%,#fddbc7 67.7%,#fddcca 73.9%,#fbe4d7 89.1%,#fbe5d9 100%)}.g86{background:linear-gradient(90deg,#f6f7f7 0%,#f7f6f6 46.6%,#f8f5f3 50.2%,#f7f6f6 55%,#f6f7f7 100%)}.g87{background:linear-gradient(90deg,#f6f7f7 0%,#f7f6f6 41.4%,#f6f7f7 46.9%,#f3f5f6 50.5%,#f6f7f7 54.7%,#f7f6f6 59.9%,#f6f7f7 100%)}.g88{background:linear-gradient(90deg,#f6f7f7 0%,#f6f7f7 46.3%,#eef3f5 50.5%,#f6f7f7 55.4%,#f6f7f7 100%)}.g89{background:linear-gradient(90deg,#e7f0f4 0%,#e7f0f4 11.5%,#f0f4f6 26.5%,#f0f4f6 33.9%,#f7f6f6 40.7%,#f9efe9 44.3%,#fae8de 46.3%,#fce2d2 47.2%,#fdd9c4 47.9%,#fbd0b9 48.2%,#f4a683 49.5%,#ef9979 49.8%,#e98b6e 50.5%,#ea8e70 51.1%,#ec9374 51.5%,#f19e7d 51.8%,#f5a886 52.1%,#facab1 53.1%,#fddbc7 53.7%,#fbe3d4 54.4%,#faeae1 55.7%,#f9ede5 56.3%,#f7f6f6 60.9%,#f0f4f6 67.4%,#f0f4f6 74.8%,#e7f0f4 90.1%,#e7f0f4 100%)}.g8a{background:linear-gradient(90deg,#e7f0f4 0%,#e7f0f4 11.5%,#f0f4f6 26.5%,#f0f4f6 33.9%,#f7f6f6 40.7%,#f9efe9 44.3%,#fae8de 46.3%,#fce2d2 47.2%,#fdd9c4 47.9%,#fbd0b9 48.2%,#f4a683 49.5%,#ec9273 50.2%,#e98c6f 50.5%,#e98b6e 50.8%,#ea8e70 51.1%,#ed9475 51.5%,#f19e7d 51.8%,#f5aa89 52.1%,#facab1 53.1%,#fddbc7 53.7%,#fbe3d4 54.4%,#faeae1 55.7%,#f9ede5 56.3%,#f7f6f6 60.9%,#f0f4f6 67.4%,#f0f4f6 74.8%,#e7f0f4 90.1%,#e7f0f4 100%)}.g8b{background:linear-gradient(90deg,#e7f0f4 0%,#e7f0f4 11.5%,#f0f4f6 26.5%,#f0f4f6 33.9%,#f7f6f6 40.7%,#f9efe9 44.3%,#fae8de 46.3%,#fce2d2 47.2%,#fdd9c4 47.9%,#fbd0b9 48.2%,#f4a683 49.5%,#ec9374 50.2%,#ea8e70 50.5%,#e98c6f 50.8%,#ea8f71 51.1%,#f19f7d 51.8%,#f5aa89 52.1%,#facab1 53.1%,#fddbc7 53.7%,#fbe3d4 54.4%,#faeae1 55.7%,#f9ede5 56.3%,#f7f6f6 60.9%,#f0f4f6 67.4%,#f0f4f6 74.8%,#e7f0f4 90.1%,#e7f0f4 100%)}.g8c{background:linear-gradient(90deg,#e7f0f4 0%,#e7f0f4 11.5%,#f0f4f6 26.5%,#f0f4f6 33.9%,#f7f6f6 40.7%,#f9efe9 44.3%,#fae8de 46.3%,#fce2d2 47.2%,#fdd9c4 47.9%,#fbd0b9 48.2%,#f4a785 49.5%,#f19d7c 49.8%,#ed9475 50.2%,#ea8e70 50.8%,#eb9172 51.1%,#ee9777 51.5%,#f2a17f 51.8%,#f7b596 52.4%,#fcd5bf 53.4%,#fddcc9 53.7%,#fbe3d4 54.4%,#faeae1 55.7%,#f9ede5 56.3%,#f7f6f6 60.9%,#f0f4f6 67.4%,#f0f4f6 74.8%,#e7f0f4 90.1%,#e7f0f4 100%)}.g8d{background:linear-gradient(90deg,#e7f0f4 0%,#e7f0f4 11.5%,#f0f4f6 26.5%,#f0f4f6 33.9%,#f7f6f6 40.7%,#f9efe9 44.3%,#fae8de 46.3%,#fce2d2 47.2%,#fdd9c4 47.9%,#fac8af 48.5%,#f5a987 49.5%,#f19f7d 49.8%,#ee9677 50.2%,#ec9273 50.5%,#eb9172 50.8%,#ec9374 51.1%,#f3a380 51.8%,#fcd5bf 53.4%,#fddcc9 53.7%,#fbe3d4 54.4%,#faeae1 55.7%,#f9ede5 56.3%,#f7f6f6 60.9%,#f0f4f6 67.4%,#f0f4f6 74.8%,#e7f0f4 90.1%,#e7f0f4 100%)}.g8e{background:linear-gradient(90deg,#e7f0f4 0%,#e7f0f4 11.5%,#f0f4f6 26.5%,#f0f4f6 33.9%,#f7f6f6 40.7%,#f9efe9 44.3%,#fae8de 46.3%,#fce2d2 47.2%,#fddbc7 47.9%,#fcd3bc 48.2%,#f5aa89 49.5%,#f2a17f 49.8%,#ef9979 50.2%,#ed9475 50.5%,#ec9374 50.8%,#f09c7b 51.5%,#f4a583 51.8%,#fcd5bf 53.4%,#fddcc9 53.7%,#fbe3d4 54.4%,#faeae1 55.7%,#f9ede5 56.3%,#f7f6f6 60.9%,#f0f4f6 67.4%,#f0f4f6 74.8%,#e7f0f4 90.1%,#e7f0f4 100%)}.g8f{background:linear-gradient(90deg,#e7f0f4 0%,#e7f0f4 11.2%,#f0f4f6 26.5%,#f0f4f6 33.9%,#f7f6f6 40.7%,#f9efe9 44.3%,#fae8de 46.3%,#fbe4d7 46.9%,#fddbc7 47.9%,#facab1 48.5%,#f5ac8b 49.5%,#f4a482 49.8%,#ee9777 50.5%,#ee9677 50.8%,#ef9979 51.1%,#f4a785 51.8%,#fcd6c1 53.4%,#fddcc9 53.7%,#fbe3d4 54.4%,#faeae1 55.7%,#f9ede5 56.3%,#f7f6f6 60.9%,#f0f4f6 67.4%,#f0f4f6 75.2%,#e7f0f4 90.4%,#e7f0f4 100%)}.g90{background:linear-gradient(90deg,#e7f0f4 0%,#e7f0f4 10.9%,#f0f4f6 26.5%,#f0f4f6 33.9%,#f7f6f6 40.7%,#f9efe9 44.3%,#fbe5d8 46.9%,#fcdfcf 47.6%,#fcd4be 48.2%,#f6af8e 49.5%,#f4a784 49.8%,#f19f7d 50.2%,#ef9b7a 50.5%,#ef9a79 50.8%,#f3a280 51.5%,#f5aa88 51.8%,#fcd7c2 53.4%,#fdddcb 53.7%,#fce0d0 54.1%,#fae7dc 55%,#f9ede5 56.3%,#f7f6f6 60.9%,#f0f4f6 67.4%,#f0f4f6 75.2%,#e7f0f4 90.7%,#e7f0f4 100%)}.g91{background:linear-gradient(90deg,#e7f0f4 0%,#e7f0f4 10.2%,#f0f4f6 26.5%,#f0f4f6 33.9%,#f7f6f6 40.7%,#f9efe9 44.3%,#fae7dc 46.6%,#fbe5d8 46.9%,#fddcc9 47.9%,#f5aa88 49.8%,#f3a380 50.2%,#f19d7c 50.8%,#f4a583 51.5%,#f5ac8b 51.8%,#fcd7c2 53.4%,#fce0d0 54.1%,#fbe5d9 54.7%,#fae9df 55.4%,#f9ede5 56.3%,#f7f6f6 60.9%,#f0f4f6 67.4%,#f0f4f6 75.2%,#e7f0f4 91.4%,#e7f0f4 100%)}.g92{background:linear-gradient(90deg,#e7f0f4 0%,#e7f0f4 9.3%,#f0f4f6 26.5%,#f0f4f6 33.9%,#f7f6f6 40.7%,#f9efe9 44.3%,#fae7dc 46.6%,#fbe3d4 47.2%,#fddcc9 47.9%,#fcd6c1 48.2%,#f5ac8b 49.8%,#f3a380 50.5%,#f3a280 50.8%,#f4a482 51.1%,#f5a987 51.5%,#f7b698 52.1%,#fdd9c4 53.4%,#fbe4d6 54.4%,#fae9df 55.4%,#f9ede5 56.3%,#f7f6f6 60.9%,#f0f4f6 67.4%,#f0f4f6 75.2%,#e9f0f4 88.1%,#e7f0f4 100%)}.g93{background:linear-gradient(90deg,#e7f0f4 0%,#e9f0f4 12.5%,#f0f4f6 26.1%,#f0f4f6 33.9%,#f7f6f6 40.7%,#f9efe9 44.3%,#fae7dc 46.6%,#fdddca 47.9%,#fcd7c2 48.2%,#f6af8f 49.8%,#f5aa88 50.2%,#f4a683 50.8%,#f4a785 51.1%,#f6b192 51.8%,#fddac6 53.4%,#fcdecd 53.7%,#fbe6da 54.7%,#f9ede5 56.3%,#f7f6f6 60.9%,#f0f4f6 67.4%,#f0f4f6 75.2%,#e9f0f4 88.8%,#e7f0f4 100%)}.g94{background:linear-gradient(90deg,#e9f0f4 0%,#e9f0f4 11.9%,#f0f4f6 26.1%,#f0f4f6 33.9%,#f7f6f6 40.7%,#f9efe9 44.3%,#fae7dc 46.6%,#fce0d0 47.6%,#fdd9c4 48.2%,#f6b293 49.8%,#f5ad8c 50.2%,#f5aa88 50.8%,#f5ab8a 51.1%,#f7b495 51.8%,#fddbc7 53.4%,#fce2d2 54.1%,#fbe6da 54.7%,#f9ede5 56.3%,#f7f6f6 60.9%,#f0f4f6 67.4%,#f0f4f6 75.5%,#e9f0f4 89.8%,#e9f0f4 100%)}.g95{background:linear-gradient(90deg,#e9f0f4 0%,#e9f0f4 10.6%,#f0f4f6 26.1%,#f0f4f6 33.9%,#f7f6f6 40.7%,#f9efe9 44.3%,#fae7dc 46.6%,#fcdecc 47.9%,#fddac5 48.2%,#f7b697 49.8%,#f5ae8d 50.5%,#f5ad8c 50.8%,#f6b293 51.5%,#f7b89a 51.8%,#fddcc8 53.4%,#fbe6da 54.7%,#f9ede5 56.3%,#f7f6f6 60.9%,#f0f4f6 67.4%,#f0f4f6 75.5%,#e9f0f4 91.1%,#e9f0f4 100%)}.g96{background:linear-gradient(90deg,#e9f0f4 0%,#e9f0f4 8.6%,#f0f4f6 25.8%,#f0f4f6 33.9%,#f7f6f6 40.7%,#f9efe9 44.3%,#fbe6da 46.9%,#fddbc7 48.2%,#f7b99c 49.8%,#f6b293 50.5%,#f6b192 50.8%,#f7b698 51.5%,#f9c2a7 52.1%,#fddcc9 53.4%,#fce2d3 54.1%,#fae8de 55%,#f9f0eb 57.6%,#f7f6f6 60.9%,#f0f4f6 67.4%,#f0f4f6 75.8%,#eaf1f5 87.8%,#e9f0f4 100%)}.g97{background:linear-gradient(90deg,#eaf1f5 0%,#eaf1f5 12.5%,#f0f4f6 25.8%,#f0f4f6 33.9%,#f7f6f6 40.7%,#f9efe9 44.3%,#faeae1 45.6%,#faeae1 45.9%,#fbe6da 46.9%,#fddcc9 48.2%,#f8bda0 49.8%,#f7b89b 50.2%,#f7b697 50.8%,#f7b698 51.1%,#f7ba9d 51.5%,#f9c4aa 52.1%,#fdd9c4 53.1%,#fdddcb 53.4%,#fbe5d8 54.4%,#f9ede5 56.3%,#f7f6f6 60.9%,#f0f4f6 67.4%,#f0f4f6 75.8%,#eaf1f5 88.8%,#eaf1f5 100%)}.g98{background:linear-gradient(90deg,#eaf1f5 0%,#eaf1f5 10.9%,#f0f4f6 25.5%,#f0f4f6 33.9%,#f7f6f6 40.7%,#f9ebe3 45.6%,#fbe6da 46.9%,#fddcca 48.2%,#fdd8c3 48.5%,#f9c5ab 49.5%,#f9c0a5 49.8%,#f7ba9d 50.5%,#f8bb9e 51.1%,#f8bea2 51.5%,#fac7ae 52.1%,#fddac6 53.1%,#fce0d0 53.7%,#fae8de 55%,#f9f0eb 57.6%,#f7f6f6 60.9%,#f0f4f6 67.4%,#f0f4f6 76.1%,#eaf1f5 90.4%,#eaf1f5 100%)}.g99{background:linear-gradient(90deg,#eaf1f5 0%,#ecf2f5 14.8%,#f0f4f6 25.2%,#f0f4f6 33.9%,#f7f6f6 40.7%,#f9ebe3 45.6%,#fbe5d7 47.2%,#fddac6 48.5%,#fac9b0 49.5%,#f9c0a5 50.2%,#f8bda1 50.8%,#f8bfa3 51.1%,#f9c5ab 51.8%,#fddcc8 53.1%,#fae7dc 54.7%,#f9f0eb 57.6%,#f7f6f6 60.9%,#f0f4f6 67.4%,#f0f4f6 76.5%,#ecf2f5 86.9%,#eaf1f5 100%)}.g9a{background:linear-gradient(90deg,#ecf2f5 0%,#ecf2f5 13.1%,#f0f4f6 24.8%,#f0f4f6 33.9%,#f7f6f6 40.7%,#f9efe9 44.3%,#fae8de 46.6%,#fcdecd 48.2%,#fddbc8 48.5%,#fac7ae 49.8%,#f9c2a7 50.5%,#f9c2a7 50.8%,#f9c5ab 51.5%,#fddcca 53.1%,#fbe4d6 54.1%,#fae7dc 54.7%,#f9f0eb 57.6%,#f7f6f6 60.9%,#f0f4f6 67.4%,#f0f4f6 76.8%,#ecf2f5 88.1%,#ecf2f5 100%)}.g9b{background:linear-gradient(90deg,#ecf2f5 0%,#f0f4f6 33.9%,#f7f6f6 40.7%,#f9efe9 44.3%,#fae8de 46.6%,#fddcca 48.5%,#fbcfb8 49.5%,#fac8af 50.2%,#f9c6ac 50.8%,#fac9b0 51.5%,#fcd5c0 52.4%,#fddbc7 52.8%,#fbe6da 54.4%,#f9ede5 56.3%,#f7f6f6 60.9%,#f0f4f6 67.4%,#ecf2f5 100%)}.g9c{background:linear-gradient(90deg,#ecf2f5 0%,#f0f4f6 33.9%,#f7f6f6 40.7%,#f9efe9 44.3%,#fae7dc 46.9%,#fddbc7 48.9%,#fbd2bb 49.5%,#facab1 50.5%,#facbb2 51.1%,#fbcdb5 51.5%,#fddcc9 52.8%,#fbe6da 54.4%,#f9ede5 56.3%,#f7f6f6 60.9%,#f0f4f6 67.4%,#ecf2f5 100%)}.g9d{background:linear-gradient(90deg,#edf2f5 0%,#f0f4f6 33.9%,#f7f6f6 40.7%,#f9efe9 44.3%,#fbe6da 47.2%,#fddac5 49.2%,#fbd2bb 49.8%,#fbceb6 50.8%,#fcd3bd 51.8%,#fddbc7 52.4%,#fbe5d8 54.1%,#f9ede5 56.3%,#f7f6f6 60.9%,#f0f4f6 67.4%,#edf2f5 100%)}.g9e{background:linear-gradient(90deg,#edf2f5 0%,#f0f4f6 33.9%,#f7f6f6 40.7%,#f9ede5 45.3%,#fbe5d8 47.6%,#fcd6c1 49.8%,#fcd3bc 50.5%,#fcd3bc 51.1%,#fbe4d6 53.7%,#fae9df 55%,#f8f4f2 59.6%,#f6f7f7 61.5%,#f0f4f6 67.4%,#edf2f5 100%)}.g9f{background:linear-gradient(90deg,#eef3f5 0%,#f0f4f6 33.9%,#f6f7f7 40.1%,#f8f4f2 42%,#fae9df 46.6%,#fcd7c2 50.5%,#fdd9c4 51.5%,#fbe6da 54.1%,#f9ebe3 55.7%,#f8f3f0 58.9%,#f6f7f7 61.5%,#f0f4f6 67.4%,#eef3f5 100%)}.ga0{background:linear-gradient(90deg,#eff3f5 0%,#f0f4f6 34.3%,#f6f7f7 40.1%,#f8f3f0 42.7%,#faeae1 46.6%,#fddcc9 50.2%,#fddcc9 51.1%,#fcdecb 51.8%,#faeae1 55%,#f7f6f6 60.6%,#f0f4f6 67.4%,#eff3f5 100%)}.ga1{background:linear-gradient(90deg,#eff3f5 0%,#f0f4f6 34.3%,#f6f7f7 40.4%,#f8f4f2 42.4%,#faebe3 46.6%,#fce1d1 49.5%,#fcdecd 50.8%,#fcdfcf 51.5%,#f9ece4 55.4%,#f8f2ef 58%,#f6f7f7 61.2%,#f0f4f6 67.4%,#eff3f5 100%)}.ga2{background:linear-gradient(90deg,#f0f3f6 0%,#f0f4f6 34.3%,#f6f7f7 40.7%,#f8f0eb 45%,#fbe2d3 50.5%,#fbe4d6 51.8%,#f9efe9 56%,#f6f7f7 60.9%,#f0f4f6 67%,#f0f3f6 100%)}.ga3{background:linear-gradient(90deg,#f0f4f6 0%,#f0f4f6 34.6%,#f6f7f7 41.1%,#f9efea 46.3%,#fbe6da 50.5%,#fae7dc 51.8%,#f9eee8 54.7%,#f7f6f6 59.6%,#f6f7f7 60.6%,#f0f4f6 66.7%,#f0f4f6 100%)}.ga4{background:linear-gradient(90deg,#f0f4f6 0%,#f0f4f6 34.9%,#f6f7f7 41.4%,#f8f0eb 46.6%,#fae9df 50.2%,#faeae1 52.1%,#f8f2ef 56.3%,#f6f7f7 59.9%,#f0f4f6 66.4%,#f0f4f6 100%)}.ga5{background:linear-gradient(90deg,#f0f4f6 0%,#f0f4f6 35.2%,#f6f7f7 42%,#f8f2ef 46.3%,#f9ede5 50.2%,#f9ede5 51.5%,#f8f5f3 57%,#f6f7f7 59.6%,#f0f4f6 66.1%,#f0f4f6 100%)}.ga6{background:linear-gradient(90deg,#f1f4f6 0%,#f0f4f6 35.9%,#f6f7f7 42.7%,#f9f0eb 49.5%,#f9f0eb 51.8%,#f6f7f7 58.6%,#f0f4f6 65.7%,#f1f4f6 100%)}.ga7{background:linear-gradient(90deg,#f2f5f6 0%,#f0f4f6 36.5%,#f6f7f7 44%,#f8f3f0 50.2%,#f8f3f0 52.4%,#f6f7f7 57.6%,#f0f4f6 65.1%,#f2f5f6 100%)}.ga8{background:linear-gradient(90deg,#f2f5f6 0%,#f0f4f6 37.2%,#f6f6f7 45.6%,#f7f5f4 49.5%,#f7f7f7 55.4%,#f0f4f6 64.1%,#f2f5f6 100%)}.ga9{background:linear-gradient(90deg,#f2f5f6 0%,#f3f5f6 22.6%,#f0f4f6 28.7%,#f0f4f6 38.5%,#f6f6f7 49.5%,#f0f4f6 62.8%,#f0f4f6 72.6%,#f3f5f6 79.1%,#f2f5f6 100%)}.gaa{background:linear-gradient(90deg,#f3f5f6 0%,#f4f5f6 21.6%,#f0f4f6 29.7%,#f2f5f6 46.6%,#f0f4f6 71.9%,#f4f5f6 79.7%,#f3f5f6 100%)}.gab{background:linear-gradient(90deg,#f3f5f6 0%,#f5f6f7 23.2%,#f0f4f6 30.4%,#eff3f6 43.3%,#f0f4f6 70.9%,#f5f6f7 78.4%,#f3f5f6 100%)}.gac{background:linear-gradient(90deg,#f5f6f7 0%,#f6f7f7 21.9%,#f0f4f6 31.3%,#ecf2f5 53.1%,#f0f4f6 70.3%,#f6f7f7 79.7%,#f5f6f7 100%)}.gad{background:linear-gradient(90deg,#f5f6f7 0%,#f7f7f6 23.2%,#f0f4f6 32%,#e9f1f4 52.1%,#eff3f5 61.5%,#f0f4f6 69.6%,#f7f7f6 78.4%,#f6f6f7 100%)}.gae{background:linear-gradient(90deg,#f7f7f7 0%,#f7f5f4 17%,#f7f6f6 24.8%,#f0f4f6 32.6%,#eff3f5 38.8%,#e6eff4 49.8%,#e8f0f4 55.7%,#eff3f5 62.8%,#f0f4f6 69%,#f7f6f6 76.5%,#f7f5f4 84.6%,#f7f7f7 100%)}.gaf{background:linear-gradient(90deg,#f7f6f5 0%,#f8f4f2 22.9%,#f7f6f6 26.8%,#f0f4f6 33%,#edf2f5 39.8%,#e5eff4 46.9%,#e4eef3 51.8%,#eff3f5 63.8%,#f0f4f6 68.3%,#f6f7f7 73.2%,#f7f6f5 74.8%,#f8f4f2 79.7%,#f7f6f5 100%)}.gb0{background:linear-gradient(90deg,#f7f5f4 0%,#f8f2ef 22.6%,#f7f6f6 28.4%,#e0ecf3 50.2%,#e2edf3 53.7%,#edf2f5 62.5%,#f0f4f6 68%,#f7f6f5 73.2%,#f8f2ef 78.7%,#f7f5f4 100%)}.gb1{background:linear-gradient(90deg,#f8f4f2 0%,#f8f1ec 15.4%,#f8f1ec 22.9%,#f7f6f6 29.7%,#eff3f5 35.2%,#ecf2f5 39.4%,#deebf2 47.9%,#ddebf2 52.4%,#ecf2f5 61.9%,#eff3f5 66.4%,#f7f6f5 71.9%,#f8f1ec 78.7%,#f8f1ec 85.9%,#f8f4f1 100%)}.gb2{background:linear-gradient(90deg,#f8f2ef 0%,#f9eee8 21.6%,#f8f0eb 25.5%,#f7f6f5 30.7%,#f6f7f7 31.7%,#edf2f5 36.5%,#e8f0f4 41.1%,#dae9f2 47.9%,#d8e8f1 50.2%,#d8e9f1 52.4%,#e7f0f4 59.9%,#eff3f5 66.1%,#f7f6f5 70.6%,#f8f1ec 75.5%,#f9eee8 79.7%,#f8f2ef 100%)}.gb3{background:linear-gradient(90deg,#f8f1ed 0%,#f9ede6 14.1%,#f9ede5 21.9%,#f9eee8 25.8%,#f7f6f5 32%,#eff3f5 35.6%,#e5eef4 42%,#d5e7f1 47.9%,#d0e5f0 50.8%,#d8e9f1 55%,#e6eff4 60.2%,#edf2f5 65.1%,#f7f6f5 69.6%,#f9efea 74.5%,#f9ede5 79.7%,#f8f1ec 100%)}.gb4{background:linear-gradient(90deg,#f9efea 0%,#faebe3 15.1%,#faebe2 22.6%,#f9ede6 26.5%,#f8f1ec 29.7%,#f7f6f5 33%,#ecf2f5 37.2%,#e5eff4 41.1%,#dae9f2 45%,#d2e5f0 46.9%,#c5dfec 49.2%,#c1ddec 50.5%,#c4deec 52.1%,#d5e7f1 55.4%,#e3eef3 59.6%,#edf2f5 65.1%,#f7f7f7 68%,#f9eee8 73.9%,#faebe2 78.7%,#faebe3 86.2%,#f9efea 100%)}.gb5{background:linear-gradient(90deg,#f9eee8 0%,#fae9df 16.4%,#fae9de 21.9%,#faeae1 25.5%,#f9efe9 30%,#f7f7f7 34.3%,#edf2f5 36.5%,#e4eef3 41.1%,#d8e9f1 44.3%,#d1e5f0 45.6%,#bbdaea 47.9%,#aed3e6 49.5%,#a9d1e5 50.5%,#a9d1e5 51.1%,#b3d6e7 52.8%,#c2ddec 54.4%,#c7e0ed 54.7%,#d4e6f1 56.3%,#e0ecf3 59.3%,#ecf2f5 64.4%,#f7f7f6 67.4%,#f9eee7 72.2%,#fae9df 78.1%,#fae9df 85.2%,#f9eee8 100%)}.gb6{background:linear-gradient(90deg,#f9ede6 0%,#fae7db 18%,#fae7db 22.6%,#fae9de 26.1%,#f9eee7 31%,#f7f6f6 34.9%,#ecf2f5 37.2%,#e4eef4 40.4%,#d4e6f1 44.3%,#cfe4ef 45%,#c2ddec 45.9%,#92c5de 48.9%,#8ac0db 49.5%,#83bbd9 50.5%,#86bdda 51.5%,#90c3dd 52.4%,#bfdceb 55.4%,#d2e6f0 57%,#dfecf3 59.6%,#ecf2f5 64.4%,#f7f6f6 66.7%,#f8f1ed 68.7%,#f9ede5 71.3%,#fae9df 74.8%,#fae7db 79.1%,#fae8dd 87.5%,#f9ede6 100%)}.gb7{background:linear-gradient(90deg,#f9ece4 0%,#fbe6d9 15.7%,#fbe6d9 24.5%,#f9ece4 31.3%,#f9f0eb 33.6%,#f7f7f6 35.6%,#edf2f5 37.2%,#e2edf3 40.7%,#d8e8f1 43%,#cee3ef 44.3%,#b8d8e9 45.6%,#9bc9e0 46.9%,#93c5de 47.2%,#6aacd0 48.5%,#5aa1cb 49.2%,#549dc8 49.5%,#4c97c5 50.2%,#4b96c5 50.8%,#4e99c6 51.5%,#569fc9 52.1%,#6daed1 53.1%,#95c6df 54.4%,#add3e6 55.4%,#bbdaea 56%,#d2e6f0 57.6%,#dfecf3 59.9%,#e9f0f4 63.5%,#f6f6f7 65.7%,#f8f2ef 67%,#f9ede5 69.6%,#fae9de 72.9%,#fbe6d9 77.1%,#fbe6d9 85.6%,#f9ebe3 100%)}.gb8{background:linear-gradient(90deg,#faebe2 0%,#fbe4d7 16.4%,#fbe4d7 24.2%,#fae7db 28.7%,#faeae1 32%,#f9eee7 33.9%,#f6f6f7 36.2%,#eaf1f5 37.8%,#dbeaf2 42%,#cfe4ef 43.7%,#c5dfec 44.3%,#b7d8e9 45%,#9ecbe1 45.9%,#87beda 46.6%,#4f9ac7 47.9%,#3c88be 48.5%,#317bb7 49.2%,#2970b0 49.8%,#256aab 50.8%,#266bab 51.1%,#2a71b1 51.8%,#3784bb 52.8%,#3e8bbf 53.1%,#4793c3 53.4%,#529dc8 53.7%,#70b0d3 54.4%,#98c8e0 55.4%,#b3d6e8 56.3%,#cce2ef 57.6%,#d1e5f0 58%,#d8e8f1 58.9%,#e1edf3 60.9%,#e9f1f4 63.5%,#f7f7f6 65.4%,#f9f0eb 66.7%,#faebe2 69.3%,#fae8dd 71.6%,#fbe4d7 77.1%,#fbe4d7 84.9%,#faeae1 100%)}.gb9{background:linear-gradient(90deg,#faeae1 0%,#fbe3d5 16.4%,#fbe3d4 23.5%,#fbe5d9 28.7%,#faeae0 33%,#f9efe9 35.2%,#f7f7f7 36.5%,#e7f0f4 38.5%,#e0ecf3 40.7%,#d5e7f1 42.7%,#cae1ee 43.7%,#b4d6e8 44.6%,#a2cde3 45.3%,#88bfdb 45.9%,#4492c3 47.2%,#3a87bd 47.6%,#2970b1 48.2%,#2165a7 48.5%,#114780 49.5%,#0d4077 49.8%,#0a3b70 50.5%,#0a3a6f 50.8%,#0c3d74 51.5%,#0e427a 51.8%,#185493 52.4%,#256aac 53.1%,#3d8bbf 54.1%,#4a97c5 54.4%,#6eaed2 55%,#8ec2dd 55.7%,#9bc9e0 56%,#afd4e6 56.7%,#c0dceb 57.3%,#cbe2ee 58%,#d3e6f0 58.6%,#dae9f2 59.6%,#eaf1f5 63.5%,#f7f6f6 65.1%,#f9f0eb 66.1%,#faeae1 68%,#fbe6d9 72.2%,#fbe3d5 76.8%,#fbe3d5 85.2%,#faeae0 100%)}.gba{background:linear-gradient(90deg,#fae9df 0%,#fae8de 5%,#fce2d2 18.3%,#fbe3d4 26.1%,#fbe6da 31%,#faeae1 34.6%,#f9eee8 35.6%,#f7f7f7 36.9%,#e6eff4 38.8%,#dae9f2 41.7%,#d0e5f0 43%,#bddbea 44%,#a2cde3 45%,#96c7df 45.3%,#86bdda 45.6%,#62a7ce 46.3%,#4b98c6 46.6%,#3d8bbf 46.9%,#2970b1 47.6%,#2063a6 47.9%,#0f437b 48.5%,#08366a 48.9%,#053162 49.2%,#053061 49.5%,#053061 52.1%,#063365 52.4%,#0a3a6f 52.8%,#114882 53.1%,#1a5899 53.4%,#2267ab 53.7%,#2d76b4 54.1%,#4190c2 54.7%,#7cb7d6 55.7%,#8cc1dc 56%,#9bc9e0 56.3%,#b8d8e9 57.3%,#c1ddeb 57.6%,#d1e5f0 58.6%,#ddebf2 60.2%,#e7f0f4 62.8%,#f7f6f5 64.8%,#f9ede6 66.1%,#faeae1 67%,#fbe6da 70%,#fbe3d4 75.5%,#fce2d2 83%,#fae9df 100%)}.gbb{background:linear-gradient(90deg,#fae9df 0%,#fae7dc 7%,#fbe6da 7.3%,#fce2d2 16.4%,#fce2d2 24.8%,#fbe4d6 29.4%,#fae9de 34.3%,#faeae0 34.9%,#f9ede5 35.6%,#f7f6f5 36.9%,#f5f6f7 37.2%,#e4eef4 39.1%,#dae9f2 41.7%,#d2e6f0 42.7%,#c2ddec 43.7%,#a7d0e4 44.6%,#8ec3dd 45.3%,#69abd0 45.9%,#408fc1 46.6%,#2b73b2 47.2%,#2063a8 47.6%,#0d4077 48.2%,#053162 48.5%,#053061 52.8%,#083568 53.1%,#1a5899 53.7%,#2369ae 54.1%,#4695c4 55%,#70b0d3 55.7%,#83bcd9 56%,#94c6df 56.3%,#a0cce2 56.7%,#bddbea 57.6%,#d1e5f0 58.6%,#d8e9f1 59.6%,#e7f0f4 62.8%,#f7f7f7 64.4%,#f9eee7 65.7%,#fae9df 66.7%,#fbe5d8 70.6%,#fce2d2 76.5%,#fce2d2 84.9%,#fae9df 100%)}.gbc{background:linear-gradient(90deg,#f0f4f6 0%,#e4eef4 15.1%,#ddebf2 20.3%,#d1e5f0 26.1%,#b8d8e9 31.3%,#a6cfe4 34.3%,#93c6de 36.9%,#78b4d5 39.4%,#529dc8 42.4%,#4393c3 43.3%,#3a87bd 44.6%,#307ab6 45.3%,#2166ac 45.9%,#185595 46.3%,#053061 46.9%,#053061 54.4%,#08366a 54.7%,#1c5c9f 55.4%,#246aae 55.7%,#337eb8 56.3%,#3b88be 57%,#4291c2 58%,#59a1ca 59.6%,#84bcd9 63.1%,#91c5de 64.4%,#9bcae1 65.7%,#bbdaea 70.6%,#d1e5f0 75.5%,#e3edf3 85.2%,#eaf1f5 92.4%,#eff3f5 100%)}.gbd{background:linear-gradient(90deg,#eff3f5 0%,#e6eff4 13.1%,#d5e7f1 23.9%,#d0e5f0 25.8%,#c2ddec 29.1%,#a2cde3 34.6%,#93c6de 36.5%,#84bcd9 38.1%,#62a7ce 41.1%,#4695c4 43%,#3c8abe 44.3%,#307ab6 45.3%,#2065ab 45.9%,#053061 46.9%,#053061 53.7%,#053061 54.4%,#083568 54.7%,#124984 55%,#1b5a9c 55.4%,#246aae 55.7%,#2c75b4 56%,#3783bb 56.7%,#4393c3 58.3%,#4997c5 58.6%,#7bb6d6 62.5%,#92c5de 64.8%,#b3d6e8 69.6%,#d1e5f0 75.8%,#e3edf3 85.9%,#eff3f5 100%)}.gbe{background:linear-gradient(90deg,#eff3f5 0%,#eaf1f5 7.6%,#e1edf3 16.1%,#d1e5f0 25.2%,#b6d7e8 31%,#94c6df 36.2%,#77b4d5 39.1%,#529dc8 42%,#4494c3 43%,#3885bc 44.6%,#2f79b5 45.3%,#2064aa 45.9%,#053061 46.9%,#053061 54.4%,#073467 54.7%,#1b5a9c 55.4%,#2369ad 55.7%,#327cb7 56.3%,#3986bc 57%,#4695c4 58.6%,#65a9cf 60.9%,#89bfdb 64.1%,#9ccae1 66.4%,#b8d8e9 70.9%,#cae1ee 74.5%,#d2e5f0 76.8%,#e4eef4 87.8%,#edf2f5 100%)}.gbf{background:linear-gradient(90deg,#eef3f5 0%,#e3edf3 14.1%,#d1e5f0 24.5%,#c4deec 27.8%,#b2d5e7 31.3%,#94c6df 35.9%,#7bb6d6 38.5%,#59a1ca 41.4%,#4695c4 42.7%,#3c8abe 44%,#3783bb 44.6%,#2f78b5 45.3%,#276fb0 45.6%,#1f63a8 45.9%,#0d3f76 46.6%,#053061 46.9%,#053061 54.4%,#073466 54.7%,#114781 55%,#1a5899 55.4%,#2368ad 55.7%,#307ab6 56.3%,#3885bc 57%,#4494c3 58.6%,#66a9cf 61.2%,#83bcd9 63.8%,#9ccae1 66.7%,#b3d6e7 70.3%,#c1ddec 73.2%,#d2e5f0 77.4%,#e1edf3 86.2%,#edf2f5 100%)}.gc0{background:linear-gradient(90deg,#edf2f5 0%,#e1edf3 14.4%,#d2e5f0 23.5%,#c3deec 27.4%,#afd4e6 31.3%,#94c6df 35.6%,#75b2d4 38.8%,#4997c5 42.4%,#4494c3 42.7%,#3986bc 44.3%,#2e77b5 45.3%,#276eb0 45.6%,#1f61a6 45.9%,#0d3f76 46.6%,#053061 46.9%,#053061 54.4%,#063264 54.7%,#195898 55.4%,#2267ac 55.7%,#2f79b6 56.3%,#3784bb 57%,#4392c3 58.6%,#67aacf 61.5%,#7db8d7 63.5%,#9ac9e0 66.7%,#b0d4e7 70.3%,#c1ddeb 73.5%,#d1e5f0 77.8%,#e0ecf3 85.9%,#edf2f5 100%)}.gc1{background:linear-gradient(90deg,#edf2f5 0%,#e1edf3 13.5%,#d2e5f0 22.9%,#c1ddeb 27.4%,#add3e6 31.3%,#94c6df 35.2%,#6aacd0 39.4%,#4392c3 42.7%,#3885bc 44.3%,#327cb7 45%,#266caf 45.6%,#1e61a5 45.9%,#0c3d73 46.6%,#053061 46.9%,#053162 54.7%,#195696 55.4%,#2166ab 55.7%,#2f79b5 56.3%,#3783bb 57%,#4393c3 58.9%,#559ec9 60.2%,#7db8d7 63.8%,#95c6df 66.4%,#a8d0e4 69.3%,#bedbeb 73.5%,#d1e5f0 78.4%,#e0ecf3 86.9%,#ecf2f5 100%)}.gc2{background:linear-gradient(90deg,#ecf2f5 0%,#e1edf3 12.5%,#d1e5f0 22.6%,#b9d9e9 28.4%,#a8d0e4 31.7%,#93c6de 34.9%,#7fb9d7 37.2%,#58a0ca 40.7%,#4393c3 42.4%,#3783bb 44.3%,#2c74b3 45.3%,#256caf 45.6%,#1d5fa2 45.9%,#0b3c72 46.6%,#053061 46.9%,#053061 54.7%,#185594 55.4%,#2064aa 55.7%,#286fb1 56%,#2e77b5 56.3%,#3884bb 57.3%,#4291c2 58.9%,#61a6cd 61.5%,#80bad8 64.4%,#97c7df 67%,#b7d8e8 72.6%,#c8e0ed 76.5%,#d2e5f0 79.4%,#e0ecf3 87.8%,#ebf1f5 100%)}.gc3{background:linear-gradient(90deg,#ebf1f5 0%,#e1edf3 11.9%,#d1e5f0 21.6%,#b9d9e9 27.8%,#aad1e5 30.7%,#92c5de 34.6%,#6aacd0 38.8%,#4494c3 42%,#3885bc 44%,#2f79b6 45%,#246aae 45.6%,#1c5da0 45.9%,#0a3b70 46.6%,#053061 46.9%,#053061 54.7%,#185493 55.4%,#1f63a8 55.7%,#276eb0 56%,#2d76b4 56.3%,#3783bb 57.3%,#4392c3 59.3%,#5aa1cb 61.2%,#6fafd2 63.1%,#8ec3dd 66.4%,#9ac9e0 68%,#b7d8e8 73.2%,#d1e5f0 79.7%,#e0ecf3 88.8%,#eaf1f5 100%)}.gc4{background:linear-gradient(90deg,#eaf1f5 0%,#e0ecf3 11.5%,#d1e5f0 20.6%,#b9d9e9 27.1%,#a5cfe4 31%,#91c5de 34.3%,#6daed1 38.1%,#4594c4 41.7%,#3783bb 44%,#2f78b5 45%,#2369ad 45.6%,#1c5c9e 45.9%,#0a396e 46.6%,#053061 46.9%,#053061 54.7%,#1f61a6 55.7%,#266caf 56%,#2b74b3 56.3%,#3681ba 57.3%,#4392c3 59.6%,#5aa1cb 61.5%,#7cb7d6 64.8%,#97c7df 68%,#b7d8e8 73.9%,#cfe4f0 80%,#deebf2 88.8%,#e9f0f4 100%)}.gc5{background:linear-gradient(90deg,#e9f0f4 0%,#deebf2 11.9%,#cfe4f0 20.6%,#b4d6e8 27.4%,#a0cce2 31.3%,#94c6df 33.3%,#85bdda 35.2%,#63a7ce 38.8%,#4594c4 41.4%,#3884bb 43.7%,#2d76b4 45%,#2267ad 45.6%,#1b5a9c 45.9%,#09386c 46.6%,#053061 46.9%,#053061 54.7%,#1e5fa3 55.7%,#256baf 56%,#2f79b5 56.7%,#3783bb 57.6%,#4393c3 59.9%,#64a8ce 62.8%,#83bcd9 66.1%,#95c6df 68.3%,#a3cee3 70.6%,#b9d9e9 75.2%,#d1e5f0 81.7%,#dfecf3 90.4%,#e8f0f4 100%)}.gc6{background:linear-gradient(90deg,#e8f0f4 0%,#dceaf2 12.2%,#cfe4f0 19.6%,#afd4e6 27.8%,#a0cce2 30.7%,#8ec3dd 33.6%,#65a9cf 38.1%,#4594c4 41.1%,#3783bb 43.7%,#2c75b4 45%,#2166ab 45.6%,#1a5899 45.9%,#08366a 46.6%,#053061 46.9%,#053061 54.7%,#0c3d73 55%,#154f8c 55.4%,#1d5ea1 55.7%,#2369ae 56%,#2a71b2 56.3%,#317bb7 57%,#3581ba 57.6%,#4191c2 59.9%,#5aa1cb 62.2%,#82bbd9 66.4%,#83bcd9 66.7%,#91c5de 68.3%,#a3cee3 71.3%,#bcdaea 76.5%,#cfe4f0 82%,#ddebf2 90.4%,#e7eff4 100%)}.gc7{background:linear-gradient(90deg,#e6eff4 0%,#dfecf3 8%,#d1e5f0 17.7%,#c3deec 22.2%,#b2d5e7 26.5%,#99c9e0 31.3%,#8ec3dd 33%,#70b0d3 36.5%,#4d9ac7 40.1%,#4594c4 40.7%,#3581ba 43.7%,#2b73b3 45%,#2064aa 45.6%,#195797 45.9%,#073467 46.6%,#053061 46.9%,#053061 54.7%,#0b3b71 55%,#1c5c9f 55.7%,#2368ad 56%,#2870b1 56.3%,#2f79b6 57%,#347fb9 57.6%,#4291c2 60.2%,#4e9ac7 61.5%,#7db8d7 66.4%,#94c6df 69.3%,#afd4e6 74.5%,#cfe4f0 83%,#dceaf2 91.1%,#e5eff4 100%)}.gc8{background:linear-gradient(90deg,#e5eef4 0%,#dae9f2 10.6%,#cfe4f0 17.4%,#afd4e6 26.1%,#9ecbe1 29.7%,#8ec3dd 32.3%,#70b0d3 35.9%,#6fafd2 36.2%,#4594c4 40.4%,#347fb9 43.7%,#2a71b2 45%,#256caf 45.3%,#1f62a7 45.6%,#10457e 46.3%,#063365 46.6%,#053061 46.9%,#053061 54.7%,#0a3a6f 55%,#134c87 55.4%,#1b5a9c 55.7%,#2166ac 56%,#276eb0 56.3%,#317bb7 57.3%,#4393c3 60.9%,#58a0ca 62.8%,#79b5d5 66.4%,#91c5de 69.6%,#add3e6 74.8%,#cde3ef 83.3%,#d9e9f1 89.8%,#e4eef3 100%)}.gc9{background:linear-gradient(90deg,#e3eef3 0%,#dceaf2 8%,#cfe4f0 16.1%,#c5dfed 19.3%,#afd4e6 25.2%,#a0cce2 28.4%,#8ec3dd 31.7%,#76b3d4 34.9%,#4494c3 40.1%,#2f78b5 44.3%,#2870b1 45%,#246aae 45.3%,#1e61a5 45.6%,#175392 45.9%,#063163 46.6%,#053061 46.9%,#053061 54.7%,#09386d 55%,#1a5899 55.7%,#2064aa 56%,#2a72b2 56.7%,#3580b9 58.3%,#4392c3 61.2%,#63a7ce 64.4%,#64a8ce 64.8%,#7cb7d6 67.4%,#91c5de 70.3%,#aad1e5 75.2%,#b7d8e8 78.1%,#d1e5f0 86.2%,#e2edf3 100%)}.gca{background:linear-gradient(90deg,#e2edf3 0%,#d7e8f1 9.9%,#cfe4f0 14.8%,#bedbeb 20.3%,#afd4e6 24.2%,#99c9e0 29.1%,#8bc1dc 31.3%,#63a7ce 36.5%,#4494c3 39.8%,#3682ba 42.7%,#2d76b4 44.3%,#276fb0 45%,#2368ad 45.3%,#1d5fa2 45.6%,#16518f 45.9%,#053061 46.6%,#053061 54.7%,#08366a 55%,#114781 55.4%,#1f63a8 56%,#246aae 56.3%,#2970b1 56.7%,#337eb8 58.3%,#4392c3 61.5%,#6cadd1 66.1%,#92c5de 71.3%,#aad1e5 76.1%,#c3deec 82.6%,#cde3ef 85.9%,#d7e8f1 91.7%,#e0ecf3 100%)}.gcb{background:linear-gradient(90deg,#e0ecf3 0%,#d7e8f1 8.3%,#cae2ee 15.1%,#b7d8e9 20.9%,#a5cfe4 25.5%,#94c6df 29.1%,#88bfdb 31%,#66a9cf 35.6%,#4392c3 39.4%,#317bb7 43.3%,#2c74b3 44.3%,#266daf 45%,#2166ac 45.3%,#1c5c9f 45.6%,#154f8c 45.9%,#053061 46.6%,#053061 54.7%,#073467 55%,#185594 55.7%,#1e61a5 56%,#2369ae 56.3%,#276fb0 56.7%,#307ab6 58%,#4494c3 62.2%,#6cadd1 66.7%,#91c5de 71.9%,#add3e6 77.8%,#bcdaea 81.7%,#cfe4f0 88.1%,#dfecf3 100%)}.gcc{background:linear-gradient(90deg,#deebf2 0%,#d1e5f0 10.9%,#c5dfed 15.4%,#a8d0e4 23.9%,#95c6df 28.1%,#85bdda 30.7%,#579fca 36.9%,#4494c3 38.8%,#307ab6 43.3%,#2b73b2 44.3%,#256baf 45%,#2064aa 45.3%,#1b5a9c 45.6%,#053061 46.6%,#053061 54.7%,#063264 55%,#175391 55.7%,#1d5fa2 56%,#2267ad 56.3%,#266daf 56.7%,#2b74b3 57.3%,#327db8 58.6%,#4392c3 62.5%,#6cadd1 67.4%,#8ec3dd 72.2%,#a9d1e5 78.1%,#bcdaea 83%,#cae2ee 87.8%,#d4e7f1 92.7%,#dceaf2 100%)}.gcd{background:linear-gradient(90deg,#dceaf2 0%,#cfe4f0 10.2%,#bad9e9 17.7%,#9ecbe1 25.2%,#8ec3dd 28.4%,#82bbd9 30.4%,#5aa1cb 35.9%,#4392c3 38.5%,#2f78b5 43.3%,#2971b2 44.3%,#2369ae 45%,#1f62a7 45.3%,#134b86 45.9%,#0a3b70 46.3%,#053061 46.6%,#053061 55%,#15508d 55.7%,#1c5c9e 56%,#2166ab 56.3%,#256baf 56.7%,#2a72b2 57.3%,#327db8 58.9%,#4494c3 63.1%,#6cadd1 68%,#92c5de 73.9%,#afd4e6 80.7%,#c8e0ed 88.5%,#d1e5f0 92.4%,#dae9f2 100%)}.gce{background:linear-gradient(90deg,#d9e9f2 0%,#d3e6f0 6.3%,#cde3ef 9.6%,#b7d8e8 17.4%,#a5cfe4 22.2%,#8ec3dd 27.4%,#6fafd2 32.3%,#4494c3 37.8%,#2f78b5 43%,#286fb1 44.3%,#2267ad 45%,#1e60a4 45.3%,#185595 45.6%,#09386d 46.3%,#053061 46.6%,#053061 55%,#144e8a 55.7%,#1b5a9b 56%,#1f63a8 56.3%,#2369ae 56.7%,#2b73b2 57.6%,#3e8dc0 62.2%,#4392c3 63.5%,#60a5cd 67%,#73b1d3 69.6%,#8bc1dc 73.5%,#9ecbe1 77.4%,#afd4e6 82%,#c5dfed 89.1%,#cfe4f0 93%,#d8e8f1 100%)}.gcf{background:linear-gradient(90deg,#d7e8f1 0%,#cfe4f0 6.7%,#bedbeb 13.5%,#9bcae1 23.5%,#8ec3dd 26.5%,#6cadd1 32%,#4392c3 37.5%,#2d76b4 43%,#276db0 44.3%,#2166ab 45%,#1c5da0 45.3%,#175391 45.6%,#10467f 45.9%,#083669 46.3%,#053061 46.6%,#053061 55%,#0b3c72 55.4%,#195898 56%,#1e61a5 56.3%,#2267ad 56.7%,#2971b2 57.6%,#3783bb 60.9%,#4594c4 64.4%,#549dc9 66.1%,#76b3d4 70.9%,#8bc1dc 74.5%,#97c7df 76.8%,#afd4e6 83.3%,#c3deec 89.8%,#d1e5f0 95.9%,#d6e7f1 100%)}.gd0{background:linear-gradient(90deg,#d5e7f1 0%,#cfe4f0 4.7%,#bedbeb 11.9%,#aad1e5 18.3%,#91c5de 24.8%,#69abd0 31.7%,#4392c3 36.9%,#3985bc 39.8%,#2970b1 43.7%,#2368ad 44.6%,#1f63a8 45%,#1b5b9d 45.3%,#16508e 45.6%,#063365 46.3%,#053061 46.6%,#053061 55%,#0a396e 55.4%,#185594 56%,#2166ab 56.7%,#266daf 57.3%,#2f79b5 59.3%,#4292c2 64.4%,#61a6cd 68.7%,#82bbd9 73.9%,#93c6de 77.1%,#add3e6 83.9%,#bcdaea 88.8%,#cde3ef 95.6%,#d3e6f0 100%)}.gd1{background:linear-gradient(90deg,#d3e6f0 0%,#cde3ef 4.1%,#bedbeb 10.2%,#a8d0e4 17.7%,#90c4dd 23.9%,#76b3d4 28.7%,#579fca 33.6%,#4594c4 35.9%,#337eb8 40.7%,#266daf 44%,#2166ac 44.6%,#1e60a4 45%,#144d89 45.6%,#053061 46.3%,#053061 55%,#083669 55.4%,#16518f 56%,#1c5c9e 56.3%,#1f63a8 56.7%,#2368ad 57%,#2b73b3 58.6%,#4494c3 65.4%,#5aa1cb 68.3%,#79b5d5 73.2%,#91c5de 77.8%,#a0cce2 81.7%,#b9d9e9 89.4%,#d1e5f0 100%)}.gd2{background:linear-gradient(90deg,#d0e5f0 0%,#b4d6e8 12.2%,#91c5de 22.6%,#73b1d3 28.4%,#4d9ac7 34.3%,#4594c4 35.2%,#3985bc 38.8%,#286fb1 43.3%,#2368ad 44.3%,#2064aa 44.6%,#1d5ea1 45%,#124984 45.6%,#0b3b71 45.9%,#053061 46.3%,#053061 55%,#063163 55.4%,#154e8b 56%,#1a599a 56.3%,#1e60a4 56.7%,#2166ab 57%,#2369ae 57.3%,#2a71b2 58.6%,#4494c3 66.1%,#509bc8 67.7%,#6fafd2 72.6%,#91c5de 79.1%,#b2d5e7 88.5%,#c1ddeb 94%,#cde3ef 100%)}.gd3{background:linear-gradient(90deg,#cbe2ee 0%,#b7d8e8 9.6%,#a4cee3 16.1%,#91c5de 21.3%,#7fb9d7 25.2%,#69abd0 29.1%,#549dc9 32.6%,#4594c4 34.6%,#3b89be 37.5%,#256caf 43.7%,#2166ac 44.3%,#1b5b9d 45%,#10457e 45.6%,#09376b 45.9%,#053061 46.3%,#053061 55.4%,#134a85 56%,#185594 56.3%,#2064a9 57%,#2267ad 57.3%,#2a71b2 58.9%,#4494c3 66.7%,#66a9cf 71.9%,#8fc3dd 79.7%,#b2d5e7 90.1%,#c9e1ee 100%)}.gd4{background:linear-gradient(90deg,#c8e0ed 0%,#add3e6 11.5%,#90c4dd 20.3%,#66a9cf 28.7%,#4594c4 33.9%,#327db8 39.8%,#246aae 43.7%,#2064a9 44.3%,#1d5ea1 44.6%,#195797 45%,#144d89 45.3%,#0e4179 45.6%,#063264 45.9%,#053061 46.3%,#053061 55.4%,#09386d 55.7%,#16518f 56.3%,#1b5a9b 56.7%,#2166ab 57.3%,#2870b1 58.9%,#4494c3 67.4%,#63a7ce 72.2%,#8ec3dd 80.7%,#9bcae1 84.3%,#b2d5e7 91.7%,#c5dfec 100%)}.gd5{background:linear-gradient(90deg,#c2ddec 0%,#acd2e5 9.9%,#90c3dd 19%,#75b2d4 24.8%,#4393c3 33.6%,#2e78b5 40.4%,#2268ad 43.7%,#1e61a5 44.3%,#1b5a9c 44.6%,#114781 45.3%,#0a3a6f 45.6%,#053061 45.9%,#053061 55.4%,#063263 55.7%,#0d4077 56%,#185695 56.7%,#1f62a7 57.3%,#2166ab 57.6%,#266caf 58.6%,#3580ba 63.1%,#4594c4 68.3%,#4e9ac7 69.6%,#6bacd1 74.8%,#90c4dd 82.6%,#a7d0e4 89.8%,#c0dceb 100%)}.gd6{background:linear-gradient(90deg,#bedbeb 0%,#a8d0e4 9.6%,#91c5de 17%,#88bfdb 19.3%,#63a7ce 27.1%,#4292c2 33%,#3580b9 37.8%,#2368ad 43.3%,#2166ab 43.7%,#1c5c9f 44.3%,#185595 44.6%,#134c87 45%,#0e4179 45.3%,#063365 45.6%,#053061 45.9%,#053061 55.7%,#09386d 56%,#15508d 56.7%,#1d5fa2 57.3%,#2064a9 57.6%,#2166ac 58%,#266caf 58.9%,#3682ba 64.1%,#4594c4 69.3%,#5da3cc 73.2%,#67aacf 75.5%,#6fafd2 76.8%,#8bc1dc 83%,#a5cfe4 91.1%,#bad9e9 100%)}.gd7{background:linear-gradient(90deg,#b9d9e9 0%,#a8d0e4 8%,#97c7df 14.1%,#88bfdb 18%,#60a5cd 26.8%,#4392c3 32%,#3682ba 36.9%,#2368ad 43%,#2166ac 43.3%,#1d5ea1 44%,#1a5899 44.3%,#15508d 44.6%,#053061 45.6%,#053061 55.7%,#063264 56%,#0d3f76 56.3%,#185493 57%,#1e60a4 57.6%,#2267ac 58.3%,#266caf 59.3%,#3a87bd 66.1%,#4594c4 70%,#5aa1cb 73.5%,#82bbd9 82%,#94c6df 86.5%,#b7d8e8 100%)}.gd8{background:linear-gradient(90deg,#b5d7e8 0%,#99c9e0 11.9%,#82bbd9 18.3%,#5aa1cb 27.1%,#4594c4 30.7%,#2f79b5 38.8%,#2368ad 42.7%,#2064a9 43.3%,#1b5a9c 44%,#124984 44.6%,#063264 45.3%,#053061 45.6%,#053061 56%,#09376b 56.3%,#144e8a 57%,#1c5c9f 57.6%,#1f61a6 58%,#2267ac 58.6%,#266caf 59.6%,#4393c3 70.3%,#549dc9 73.2%,#85bdda 83.9%,#97c7df 88.8%,#b2d5e7 100%)}.gd9{background:linear-gradient(90deg,#b2d5e7 0%,#94c6df 12.2%,#82bbd9 17%,#6daed1 21.6%,#6cadd1 22.2%,#4392c3 30.7%,#3784bb 35.2%,#2369ad 42.4%,#2064a9 43%,#1b5b9d 43.7%,#185493 44%,#0f427a 44.6%,#08366a 45%,#053061 45.3%,#053162 56.3%,#114780 57%,#15508d 57.3%,#1c5da0 58%,#2065ab 58.6%,#266caf 59.9%,#4392c3 70.9%,#73b1d3 80.7%,#74b2d4 81.3%,#85bdda 85.2%,#91c5de 88.5%,#9bcae1 92%,#aed3e6 100%)}.gda{background:linear-gradient(90deg,#aed3e6 0%,#91c5de 11.5%,#76b3d4 19%,#5da3cc 24.5%,#4494c3 29.4%,#337eb8 36.2%,#2369ad 42%,#2064aa 42.7%,#195696 43.7%,#10447d 44.3%,#053061 45%,#053061 56.3%,#063264 56.7%,#114882 57.3%,#1a5899 58%,#1f62a7 58.6%,#2267ad 59.3%,#317bb7 64.4%,#4392c3 71.6%,#79b5d5 83.3%,#94c6df 90.7%,#aad1e5 100%)}.gdb{background:linear-gradient(90deg,#a9d1e4 0%,#a0cce2 4.4%,#91c5de 10.2%,#8cc1dc 11.2%,#79b5d5 17%,#63a7ce 22.2%,#4392c3 29.1%,#337eb8 35.9%,#2368ad 41.7%,#2064a9 42.4%,#1c5c9e 43%,#195696 43.3%,#10467f 44%,#053162 44.6%,#053061 45%,#053061 50.2%,#063163 50.5%,#053061 51.5%,#053061 56.7%,#073466 57%,#0d4077 57.3%,#175290 58%,#1a5899 58.3%,#1f62a7 58.9%,#2267ad 59.6%,#327cb7 65.1%,#4494c3 72.9%,#549dc9 75.8%,#7cb7d6 85.2%,#80bad8 86.9%,#91c5de 91.4%,#a6cfe4 100%)}.gdc{background:linear-gradient(90deg,#a5cfe4 0%,#8fc3dd 9.3%,#6cadd1 19%,#4392c3 28.4%,#327cb7 35.9%,#2368ad 41.4%,#2064a9 42%,#195696 43%,#10467f 43.7%,#063163 44.3%,#053061 44.6%,#053061 49.8%,#073467 50.2%,#0c3d73 50.5%,#0d3f76 50.8%,#0a3b70 51.1%,#063163 51.5%,#053061 51.8%,#053061 57%,#083568 57.3%,#124983 58%,#1a5899 58.6%,#1f61a6 59.3%,#2064aa 59.6%,#246aae 60.6%,#3784bb 68%,#4392c3 73.2%,#6fafd2 83.3%,#82bbd9 88.1%,#89bfdb 90.7%,#8ec3dd 91.7%,#a3cee3 100%)}.gdd{background:linear-gradient(90deg,#a2cde3 0%,#8fc3dd 8%,#63a7ce 20.3%,#4393c3 27.4%,#2f79b5 36.5%,#2368ad 41.1%,#1f63a8 41.7%,#1b5a9c 42.4%,#144d89 43%,#063163 44%,#053061 44.3%,#053061 49.5%,#063163 49.8%,#0e4179 50.2%,#134c87 50.5%,#144c88 50.8%,#114781 51.1%,#053061 51.8%,#053061 57.3%,#073467 57.6%,#0d3f76 58%,#16508e 58.6%,#1c5c9f 59.3%,#2064aa 59.9%,#246aae 60.9%,#327cb7 66.1%,#4392c3 73.9%,#66a9cf 82%,#82bbd9 89.4%,#93c6de 95%,#9fcbe2 100%)}.gde{background:linear-gradient(90deg,#9fcbe2 0%,#8ec3dd 7%,#63a7ce 19.3%,#4392c3 26.8%,#327cb7 34.9%,#2267ad 40.7%,#2166ab 41.1%,#1d5fa2 41.7%,#144c88 42.7%,#063163 43.7%,#053061 44%,#053061 49.5%,#0a3a6f 49.8%,#134c87 50.2%,#195797 50.5%,#1a5899 50.8%,#185493 51.1%,#10467f 51.5%,#063264 51.8%,#053061 52.1%,#053061 57.6%,#073467 58%,#114780 58.6%,#185595 59.3%,#1e60a4 59.9%,#2064a9 60.2%,#2368ad 60.9%,#2f79b5 65.4%,#4393c3 74.8%,#5da3cc 80.7%,#7fb9d7 89.8%,#92c5de 95.9%,#9bcae1 100%)}.gdf{background:linear-gradient(90deg,#9bcae1 0%,#8ec3dd 5.7%,#7fb9d7 10.6%,#63a7ce 18.3%,#4392c3 26.1%,#307ab6 35.2%,#2369ae 40.1%,#2064aa 40.7%,#195898 41.7%,#16518f 42%,#053162 43.3%,#053061 43.7%,#053061 49.5%,#0e4179 49.8%,#185595 50.2%,#1f61a6 50.5%,#2063a8 50.8%,#1d5ea1 51.1%,#154e8b 51.5%,#09386d 51.8%,#053061 52.1%,#053061 58%,#063365 58.3%,#10447d 58.9%,#1b5a9b 59.9%,#2166ab 60.9%,#246aae 61.5%,#327cb7 67%,#4393c3 75.5%,#579fca 80%,#79b5d5 89.1%,#91c5de 96.9%,#97c8e0 100%)}.ge0{background:linear-gradient(90deg,#98c8e0 0%,#8ec3dd 4.4%,#76b3d4 12.2%,#579fca 20.6%,#4393c3 25.2%,#2f79b5 35.2%,#2368ad 39.8%,#1f63a8 40.4%,#1b5a9c 41.1%,#114781 42%,#08366a 42.7%,#053061 43%,#053061 49.5%,#1c5c9f 50.2%,#2369ad 50.5%,#246aae 50.8%,#2065aa 51.1%,#195696 51.5%,#0d3f76 51.8%,#053061 52.1%,#053061 58.3%,#063163 58.6%,#134a85 59.6%,#1c5c9f 60.6%,#2064aa 61.2%,#2369ae 61.9%,#2c75b4 65.1%,#4393c3 76.1%,#6fafd2 87.5%,#95c6df 100%)}.ge1{background:linear-gradient(90deg,#95c6df 0%,#8ec3dd 3.1%,#79b5d5 10.2%,#5aa1cb 19%,#4393c3 24.5%,#337eb8 33%,#2a71b2 37.2%,#2267ad 39.4%,#2065aa 39.8%,#1a5899 40.7%,#10447d 41.7%,#073466 42.4%,#053061 42.7%,#053061 49.2%,#063264 49.5%,#144c88 49.8%,#1f61a6 50.2%,#276db0 50.5%,#286fb1 50.8%,#246aae 51.1%,#1b5a9b 51.5%,#0f427a 51.8%,#053061 52.1%,#053061 58.6%,#053162 58.9%,#08366a 59.3%,#114781 59.9%,#1b5a9c 60.9%,#1f63a8 61.5%,#2368ad 62.2%,#276db0 63.1%,#2e77b5 66.1%,#4392c3 76.8%,#73b1d3 89.4%,#91c5de 100%)}.ge2{background:linear-gradient(90deg,#92c5de 0%,#88bfdb 4.1%,#67aacf 14.4%,#4393c3 23.9%,#2f78b5 34.6%,#256baf 38.5%,#2166ac 39.1%,#1b5a9c 40.1%,#124983 41.1%,#063163 42%,#053061 42.4%,#053061 49.2%,#073467 49.5%,#144e8a 49.8%,#2064a9 50.2%,#286fb1 50.5%,#2a71b2 50.8%,#266caf 51.1%,#1c5c9f 51.5%,#10447d 51.8%,#053061 52.1%,#053061 59.3%,#073467 59.6%,#0f447c 60.2%,#195898 61.2%,#2064aa 62.2%,#2369ae 62.8%,#2870b1 64.1%,#2f79b5 67%,#4393c3 77.4%,#71b0d3 90.1%,#8ec3dd 100%)}.ge3{background:linear-gradient(90deg,#8fc3dd 0%,#85bdda 4.1%,#62a7ce 15.1%,#4393c3 23.2%,#2b73b3 35.9%,#246aae 38.1%,#2065aa 38.8%,#1a5899 39.8%,#144c88 40.4%,#08366a 41.4%,#053162 41.7%,#053061 42%,#053061 49.2%,#073466 49.5%,#144e8a 49.8%,#1f63a8 50.2%,#276fb0 50.5%,#2971b2 50.8%,#256caf 51.1%,#1c5c9e 51.5%,#0f447c 51.8%,#053061 52.1%,#053061 59.6%,#063163 59.9%,#114882 60.9%,#1b5a9c 61.9%,#1f63a8 62.5%,#246aae 63.5%,#2c74b3 66.1%,#4393c3 78.1%,#6bacd1 89.1%,#8bc1dc 100%)}.ge4{background:linear-gradient(90deg,#8cc1dc 0%,#7bb6d6 6.7%,#65a9cf 13.5%,#4393c3 22.6%,#3480b9 31%,#2b73b3 35.6%,#256baf 37.5%,#2166ac 38.1%,#1b5a9c 39.1%,#0f427a 40.4%,#063365 41.1%,#053061 41.4%,#053162 49.5%,#134b86 49.8%,#1e60a4 50.2%,#266caf 50.5%,#276eb0 50.8%,#2369ad 51.1%,#1a599a 51.5%,#0e427a 51.8%,#053061 52.1%,#053061 59.9%,#053162 60.2%,#134c87 61.5%,#1c5c9f 62.5%,#2064aa 63.1%,#256caf 64.1%,#2a71b2 65.4%,#317bb7 69%,#4393c3 78.7%,#5fa5cd 86.2%,#88bfdb 100%)}.ge5{background:linear-gradient(90deg,#8ac0db 0%,#59a1ca 16.4%,#4393c3 21.9%,#337eb8 31.3%,#2c75b4 34.6%,#246aae 37.2%,#2065aa 37.8%,#1a5899 38.8%,#0d4077 40.1%,#063163 40.7%,#053061 41.1%,#053061 49.5%,#1b5a9c 50.2%,#2267ac 50.5%,#2369ad 50.8%,#1f63a8 51.1%,#185493 51.5%,#0c3d73 51.8%,#053061 52.1%,#053061 60.6%,#073466 60.9%,#0f427a 61.5%,#1b5a9c 62.8%,#1f63a8 63.5%,#256baf 64.4%,#307ab6 68.7%,#4393c3 79.4%,#62a7ce 87.8%,#86bdda 100%)}.ge6{background:linear-gradient(90deg,#87beda 0%,#7bb6d6 5%,#5ca3cb 14.8%,#4393c3 21.6%,#337eb8 31%,#2c75b4 34.3%,#256baf 36.5%,#2166ac 37.2%,#195696 38.5%,#0c3d74 39.8%,#083669 40.1%,#053162 40.4%,#053061 40.7%,#053061 49.5%,#0d3f76 49.8%,#175392 50.2%,#1e5fa3 50.5%,#1f61a6 50.8%,#1c5c9e 51.1%,#144c88 51.5%,#08366a 51.8%,#053061 52.1%,#053061 60.9%,#063264 61.2%,#1a5899 63.1%,#2064aa 64.1%,#246aae 64.8%,#2971b2 66.1%,#307ab6 69%,#4393c3 80%,#5fa5cd 87.5%,#84bcd9 100%)}.ge7{background:linear-gradient(90deg,#85bdda 0%,#65a9cf 11.5%,#4393c3 20.9%,#337eb8 30.7%,#2c75b4 33.9%,#266daf 35.9%,#2065aa 36.9%,#185493 38.1%,#073467 39.8%,#053061 40.1%,#053061 49.5%,#09386c 49.8%,#134a85 50.2%,#185595 50.5%,#195898 50.8%,#175391 51.1%,#0f447c 51.5%,#053162 51.8%,#053162 61.5%,#134b86 62.8%,#195696 63.5%,#2166ac 64.8%,#276db0 65.7%,#2b73b3 67%,#3681ba 72.2%,#4393c3 80.4%,#5ca3cb 87.2%,#71b0d3 94%,#81bad8 100%)}.ge8{background:linear-gradient(90deg,#84bcd9 0%,#5ca3cb 13.8%,#4393c3 20.6%,#3480b9 29.7%,#2c75b4 33.6%,#276eb0 35.2%,#2267ad 36.2%,#1e61a5 36.9%,#144e8a 38.1%,#073467 39.4%,#053061 39.8%,#053162 49.8%,#0d4078 50.2%,#134b86 50.5%,#144e8a 50.8%,#114882 51.1%,#053061 51.8%,#053162 61.9%,#15508d 63.5%,#1d5ea1 64.4%,#2166ab 65.1%,#256baf 65.7%,#2b73b3 67.4%,#307ab6 69.6%,#4393c3 81%,#4695c4 81.3%,#4c99c6 83.6%,#4f9bc7 83.9%,#75b2d4 95.6%,#75b2d4 96.3%,#80bad8 100%)}.ge9{background:linear-gradient(90deg,#81bad8 0%,#81bad8 0.8%,#68abd0 8.9%,#68abd0 9.6%,#65a9cf 9.9%,#65a9cf 10.6%,#62a7ce 10.9%,#62a7ce 11.5%,#5fa5cd 12.5%,#5ca3cb 12.8%,#5ca3cb 13.5%,#59a1ca 13.8%,#59a1ca 14.4%,#569fc9 14.8%,#4c99c6 18%,#4997c5 18.3%,#4393c3 20.3%,#3681ba 28.7%,#2d76b4 33%,#2870b1 34.6%,#2369ae 35.6%,#2064a9 36.2%,#175290 37.5%,#114781 38.1%,#073467 39.1%,#053061 39.4%,#053061 49.8%,#0d4078 50.5%,#0f427a 50.8%,#0c3d74 51.1%,#063264 51.5%,#053061 51.8%,#053162 62.2%,#124984 63.5%,#1c5da0 64.8%,#2065aa 65.4%,#266daf 66.4%,#2b73b3 67.7%,#327cb7 70.6%,#4393c3 81.3%,#4695c4 81.7%,#4f9bc7 84.9%,#529dc8 85.2%,#5ca3cb 88.1%,#6eaed2 94%,#6eaed2 94.6%,#78b4d5 97.2%,#78b4d5 97.9%,#7eb8d7 100%)}.gea{background:linear-gradient(90deg,#81bad8 0%,#7eb8d7 0.8%,#7bb6d6 2.8%,#78b4d5 3.1%,#78b4d5 3.7%,#71b0d3 5.4%,#71b0d3 6%,#6eaed2 6.3%,#6eaed2 7%,#62a7ce 10.6%,#62a7ce 11.2%,#5fa5cd 11.5%,#5ca3cb 13.1%,#59a1ca 13.5%,#4c99c6 17.7%,#4997c5 18%,#4997c5 18.7%,#4695c4 19%,#4393c3 20%,#337eb8 30%,#2e77b5 32.6%,#276eb0 34.6%,#2064a9 35.9%,#175290 37.2%,#114781 37.8%,#073467 38.8%,#053061 39.1%,#053061 50.2%,#083669 50.5%,#09386c 50.8%,#053061 51.5%,#053162 62.5%,#124984 63.8%,#1c5da0 65.1%,#1f61a6 65.4%,#2267ad 66.1%,#266daf 66.7%,#2e77b5 69%,#3480b9 72.2%,#4393c3 81.7%,#4695c4 82%,#4f9bc7 85.2%,#529dc8 85.6%,#529dc8 86.2%,#569fc9 86.5%,#5ca3cb 88.5%,#7db8d7 100%)}.geb{background:linear-gradient(90deg,#80bad8 0%,#71b0d3 5%,#71b0d3 5.7%,#6eaed2 6%,#6eaed2 6.7%,#65a9cf 9.3%,#65a9cf 9.9%,#62a7ce 10.2%,#62a7ce 10.9%,#5fa5cd 11.2%,#5ca3cb 12.8%,#59a1ca 13.1%,#59a1ca 13.8%,#569fc9 14.1%,#569fc9 14.8%,#529dc8 15.1%,#4997c5 18.3%,#4695c4 18.7%,#4695c4 19.3%,#4393c3 19.6%,#3480b9 29.1%,#2e77b5 32.3%,#266caf 34.6%,#2064aa 35.6%,#195898 36.5%,#114882 37.5%,#053061 38.8%,#053061 62.5%,#063264 62.8%,#134a85 64.1%,#1d5ea1 65.4%,#2166ab 66.1%,#266daf 67%,#2c75b4 68.7%,#327cb7 70.9%,#4393c3 82%,#4695c4 82.3%,#4c99c6 84.6%,#4f9bc7 84.9%,#529dc8 86.5%,#569fc9 86.9%,#5ca3cb 88.8%,#62a7ce 90.7%,#62a7ce 91.4%,#65a9cf 91.7%,#65a9cf 92.4%,#68abd0 92.7%,#68abd0 93.3%,#6bacd1 93.7%,#6bacd1 94.3%,#71b0d3 95.9%,#71b0d3 96.6%,#75b2d4 96.9%,#7bb6d6 100%)}.gec{background:linear-gradient(90deg,#7eb8d7 0%,#7bb6d6 2.1%,#78b4d5 2.4%,#71b0d3 5.4%,#6eaed2 5.7%,#68abd0 8.6%,#65a9cf 8.9%,#65a9cf 9.6%,#62a7ce 9.9%,#62a7ce 10.6%,#5fa5cd 10.9%,#5ca3cb 12.5%,#59a1ca 12.8%,#569fc9 14.4%,#529dc8 14.8%,#4f9bc7 16.4%,#4c99c6 16.7%,#4c99c6 17.4%,#4997c5 17.7%,#4695c4 19%,#4393c3 19.3%,#337eb8 29.7%,#2c75b4 32.6%,#266daf 34.3%,#2065ab 35.2%,#1d5ea1 35.9%,#134a85 37.2%,#063365 38.5%,#053061 38.8%,#053061 62.8%,#195797 65.1%,#1e5fa3 65.7%,#2166ac 66.4%,#276eb0 67.4%,#2e77b5 69.3%,#3480b9 72.6%,#4393c3 82%,#4695c4 83%,#4997c5 83.3%,#4c99c6 84.9%,#4f9bc7 85.2%,#5ca3cb 89.1%,#68abd0 93%,#68abd0 93.7%,#6bacd1 94%,#6bacd1 94.6%,#6eaed2 95%,#71b0d3 96.9%,#75b2d4 97.2%,#75b2d4 97.9%,#78b4d5 98.2%,#7bb6d6 100%)}.ged{background:linear-gradient(90deg,#7eb8d7 0%,#7eb8d7 0.8%,#7bb6d6 1.1%,#7bb6d6 1.8%,#78b4d5 2.1%,#78b4d5 3.1%,#75b2d4 3.4%,#75b2d4 4.1%,#71b0d3 4.4%,#6eaed2 6.3%,#6bacd1 6.7%,#6bacd1 7.3%,#68abd0 7.6%,#62a7ce 10.6%,#5fa5cd 10.9%,#5fa5cd 11.5%,#5ca3cb 11.9%,#5ca3cb 12.5%,#59a1ca 12.8%,#59a1ca 13.5%,#569fc9 13.8%,#529dc8 15.4%,#4f9bc7 15.7%,#4c99c6 17%,#4997c5 17.4%,#4695c4 19%,#4393c3 19.3%,#327cb7 30.4%,#2c75b4 32.6%,#266caf 34.3%,#2267ac 34.9%,#195898 36.2%,#114882 37.2%,#053061 38.5%,#053061 62.8%,#063264 63.1%,#15508d 64.8%,#1f61a6 66.1%,#2368ad 66.7%,#276fb0 67.7%,#2e77b5 69.3%,#3480b9 72.6%,#4393c3 82.3%,#4695c4 82.6%,#4997c5 83.9%,#4c99c6 84.3%,#4c99c6 84.9%,#4f9bc7 85.2%,#529dc8 86.9%,#569fc9 87.2%,#569fc9 87.8%,#59a1ca 88.1%,#59a1ca 88.8%,#5ca3cb 89.1%,#5ca3cb 89.8%,#5fa5cd 90.1%,#5fa5cd 90.7%,#62a7ce 91.1%,#62a7ce 91.7%,#65a9cf 92%,#65a9cf 92.7%,#68abd0 93%,#6bacd1 95%,#6eaed2 95.3%,#6eaed2 95.9%,#71b0d3 96.3%,#75b2d4 98.2%,#78b4d5 98.5%,#78b4d5 99.2%,#7bb6d6 99.5%,#7bb6d6 100%)}.gee{background:linear-gradient(90deg,#7eb8d7 0%,#7bb6d6 1.8%,#78b4d5 2.1%,#75b2d4 4.1%,#71b0d3 4.4%,#71b0d3 5%,#6eaed2 5.4%,#6eaed2 6.3%,#6bacd1 6.7%,#6bacd1 7.3%,#68abd0 7.6%,#65a9cf 9.3%,#62a7ce 9.6%,#62a7ce 10.2%,#5fa5cd 10.6%,#5ca3cb 12.5%,#59a1ca 12.8%,#59a1ca 13.5%,#569fc9 13.8%,#529dc8 15.1%,#4f9bc7 15.4%,#4c99c6 17%,#4997c5 17.4%,#4695c4 19%,#4393c3 19.3%,#327cb7 30.4%,#2c75b4 32.6%,#266caf 34.3%,#2267ac 34.9%,#1f63a8 35.2%,#175290 36.5%,#053162 38.5%,#053061 38.8%,#053061 40.1%,#083669 41.7%,#053061 42.7%,#053061 58.9%,#083568 59.6%,#083669 59.9%,#053061 61.2%,#053061 62.8%,#063365 63.1%,#185493 65.1%,#2065ab 66.4%,#246aae 67%,#2c75b4 69%,#337eb8 71.9%,#4393c3 82.3%,#4695c4 82.6%,#4695c4 83.3%,#4997c5 83.6%,#4c99c6 84.9%,#4f9bc7 85.2%,#529dc8 86.9%,#569fc9 87.2%,#569fc9 87.8%,#59a1ca 88.1%,#59a1ca 88.8%,#5ca3cb 89.1%,#5fa5cd 90.7%,#62a7ce 91.1%,#62a7ce 91.7%,#65a9cf 92%,#68abd0 94%,#6bacd1 94.3%,#6bacd1 95%,#6eaed2 95.3%,#6eaed2 95.9%,#71b0d3 96.3%,#71b0d3 97.2%,#75b2d4 97.6%,#75b2d4 98.2%,#78b4d5 98.5%,#78b4d5 99.5%,#7bb6d6 100%)}.gef{background:linear-gradient(90deg,#fce0d0 0%,#fce2d2 8.3%,#fae7dc 23.5%,#f6f7f7 50.8%,#e1edf3 78.1%,#d8e9f1 100%)}.gf0{background:linear-gradient(90deg,#fcdfcf 0%,#fce2d2 10.6%,#fbe6da 22.2%,#f9eee7 36.9%,#f6f7f7 50.8%,#e1edf3 76.8%,#d7e8f1 100%)}.gf1{background:linear-gradient(90deg,#fcdfce 0%,#fce0d0 8.9%,#fbe5d8 21.3%,#f9eee7 37.5%,#f6f7f7 50.8%,#deebf2 80.4%,#d7e8f1 100%)}.gf2{background:linear-gradient(90deg,#fcdecd 0%,#fce0d0 11.2%,#fbe6da 24.8%,#f6f7f7 50.8%,#e1edf3 74.5%,#dae9f2 86.9%,#d5e7f1 100%)}.gf3{background:linear-gradient(90deg,#fdddcb 0%,#fce0d0 13.5%,#fbe5d8 23.9%,#f9ebe3 35.2%,#f6f7f7 50.8%,#e0ecf3 75.5%,#d7e8f1 91.4%,#d5e7f1 100%)}.gf4{background:linear-gradient(90deg,#fdddca 0%,#fcdfcf 12.5%,#fbe5d8 25.2%,#f9ede5 37.5%,#f6f7f7 50.8%,#ddebf2 78.4%,#d4e6f1 100%)}.gf5{background:linear-gradient(90deg,#fddcc9 0%,#fcdecd 11.5%,#fbe3d4 22.2%,#f9ebe3 36.5%,#f6f7f7 50.8%,#ddebf2 77.1%,#d2e6f0 100%)}.gf6{background:linear-gradient(90deg,#fddbc8 0%,#fdddcb 10.6%,#fce2d2 21.6%,#fae9df 34.3%,#f6f7f7 50.8%,#e6eff4 65.7%,#dbeaf2 77.8%,#d1e5f0 100%)}.gf7{background:linear-gradient(90deg,#fddac6 0%,#fdddcb 13.1%,#fce2d2 23.2%,#f9ebe3 37.8%,#f6f7f7 50.8%,#e6eff4 65.1%,#dae9f2 78.4%,#d4e6f1 88.5%,#d1e5f0 100%)}.gf8{background:linear-gradient(90deg,#fdd9c4 0%,#fddcc9 12.5%,#fbe3d4 26.5%,#fae8de 34.3%,#f6f7f7 50.8%,#dbeaf2 75.2%,#d4e6f1 85.9%,#cfe4ef 100%)}.gf9{background:linear-gradient(90deg,#fcd7c2 0%,#fdd9c4 8%,#fce0d0 24.2%,#fbe6da 32.3%,#f6f7f7 50.8%,#dae9f2 75.5%,#cfe4ef 93.7%,#cde3ef 100%)}.gfa{background:linear-gradient(90deg,#fcd5c0 0%,#fdd9c4 11.5%,#fce2d2 27.4%,#fae9df 37.2%,#f6f7f7 50.8%,#e6eff4 63.1%,#d8e9f1 75.8%,#cce2ef 94.3%,#cae2ee 100%)}.gfb{background:linear-gradient(90deg,#fcd4be 0%,#fcd7c2 11.2%,#fcdfcf 25.5%,#fae9df 37.8%,#f6f7f7 50.8%,#e6eff4 62.5%,#d9e9f1 73.9%,#cce2ef 90.4%,#c9e1ee 100%)}.gfc{background:linear-gradient(90deg,#fcd3bc 0%,#fcd5bf 10.9%,#fcdecc 24.8%,#fae7dc 36.2%,#f6f7f7 50.8%,#e3edf3 64.1%,#d7e8f1 74.5%,#cae1ee 90.7%,#c7e0ed 100%)}.gfd{background:linear-gradient(90deg,#fbd0b9 0%,#fcd4be 13.5%,#fcdecc 26.5%,#fae9df 39.1%,#f6f7f7 50.8%,#e1edf3 64.4%,#d5e7f1 74.5%,#c9e1ee 88.1%,#c5dfec 100%)}.gfe{background:linear-gradient(90deg,#fbceb7 0%,#fbd0b9 9.3%,#fcd6c1 19.3%,#fbe4d6 34.6%,#f6f7f7 50.8%,#dbeaf2 68%,#cae2ee 83%,#c4deec 92.4%,#c2ddec 100%)}.gff{background:linear-gradient(90deg,#fbcdb5 0%,#fbceb6 9.6%,#fcd6c1 21.9%,#fbe5d8 36.5%,#f6f7f7 50.8%,#dbeaf2 67%,#c9e1ee 81.7%,#c1ddec 92%,#c1ddeb 100%)}.g100{background:linear-gradient(90deg,#facbb2 0%,#facbb3 10.2%,#fbd2bb 20.3%,#fddbc8 27.8%,#fae8de 40.1%,#f6f7f7 50.8%,#deebf2 64.1%,#c6e0ed 81.3%,#bfdceb 91.1%,#bedbeb 100%)}.g101{background:linear-gradient(90deg,#fac9b0 0%,#fac9b0 11.2%,#facbb3 15.7%,#fbd2bb 22.9%,#fddbc8 29.1%,#fbe5d8 38.1%,#f6f7f7 50.8%,#dbeaf2 65.4%,#c4deec 80.7%,#bcdbea 90.1%,#bcdbea 100%)}.g102{background:linear-gradient(90deg,#fac8af 0%,#fac7ad 3.1%,#fac7ae 12.8%,#fac9b0 17%,#fbd0b9 23.5%,#fddbc8 30.7%,#fbe6da 39.8%,#f6f7f7 50.8%,#ddebf2 63.1%,#c1ddec 79.7%,#bad9e9 88.8%,#bad9e9 100%)}.g103{background:linear-gradient(90deg,#f9c6ac 0%,#f9c4aa 11.9%,#fac7ae 18%,#facbb3 22.6%,#fcd6c1 29.7%,#fddbc8 32%,#fbe2d4 37.8%,#f6f7f7 50.8%,#dceaf2 62.8%,#bfdceb 78.7%,#b7d8e9 87.2%,#b7d8e9 100%)}.g104{background:linear-gradient(90deg,#f9c4a9 0%,#f9c2a7 14.1%,#fac9b0 23.5%,#fbd2bb 29.1%,#fddbc8 33.6%,#fbe6da 41.1%,#f6f7f7 50.8%,#dfecf3 60.9%,#d0e5f0 68.7%,#c4deec 73.5%,#bad9e9 79.7%,#b4d6e8 87.5%,#b6d7e8 100%)}.g105{background:linear-gradient(90deg,#f9c2a7 0%,#f8bfa3 12.8%,#f9c5ab 22.9%,#fbd0b9 29.7%,#fddbc8 34.9%,#fae8de 43%,#f6f7f7 50.8%,#e2edf3 58.9%,#d0e5f0 67.4%,#c1ddec 72.9%,#b7d8e9 78.7%,#b3d6e7 83.3%,#b0d4e7 88.8%,#b3d6e8 100%)}.g106{background:linear-gradient(90deg,#f9c0a5 0%,#f8bda0 7.6%,#f8bda0 16.4%,#f9c3a8 24.2%,#fac7ae 27.1%,#fcd4be 33.3%,#fddbc8 35.9%,#fce1d2 39.8%,#f6f7f7 50.8%,#dceaf2 60.6%,#d1e5f0 65.7%,#cbe2ee 67.4%,#bcdbea 73.2%,#b5d7e8 77.4%,#aed3e6 84.9%,#aed3e6 94%,#b1d5e7 100%)}.g107{background:linear-gradient(90deg,#f8bfa3 0%,#f7ba9d 8.9%,#f7ba9d 17.4%,#f8bfa3 23.9%,#f9c4aa 27.8%,#fbd0b9 33%,#fddcc8 37.5%,#f6f7f7 50.8%,#d1e5f0 64.4%,#c1ddec 69.3%,#b1d5e7 77.1%,#aad1e5 84.3%,#aad1e5 92.7%,#aed3e6 100%)}.g108{background:linear-gradient(90deg,#f8bda0 0%,#f7b698 10.9%,#f7b698 18%,#f8bc9f 25.5%,#facbb2 33%,#fddcc8 38.5%,#fae7db 44%,#f6f7f7 50.8%,#d1e5f0 63.5%,#b9d9e9 70.3%,#aad1e5 77.8%,#a6cfe4 83.6%,#a6cfe4 90.7%,#add2e6 100%)}.g109{background:linear-gradient(90deg,#f8bb9e 0%,#f7b495 8.3%,#f6b192 14.8%,#f6b293 20.3%,#f7b799 25.8%,#f8bda1 29.7%,#fac8af 33.9%,#fddbc8 39.4%,#fae8dd 45%,#f6f7f7 50.8%,#d2e5f0 61.9%,#b8d8e9 68.3%,#a8d0e4 75.2%,#a2cde3 80%,#a0cce2 86.5%,#a3cee3 92%,#aad1e5 100%)}.g10a{background:linear-gradient(90deg,#f7ba9d 0%,#f6b293 8%,#f5ae8d 14.4%,#f5ae8d 20.3%,#f6b394 26.5%,#f7b99c 30%,#f9c2a7 33.6%,#fbceb7 37.2%,#fddbc8 40.4%,#f6f7f7 50.8%,#d2e5f0 60.9%,#b3d6e8 68%,#a5cee3 73.5%,#9dcbe1 79.4%,#9ccae1 87.2%,#a9d1e4 100%)}.g10b{background:linear-gradient(90deg,#f7b99c 0%,#f6af8f 8.6%,#f5aa88 16.7%,#f5aa89 23.2%,#f6b191 28.7%,#f6b394 29.1%,#f7b799 31.7%,#f9c2a7 35.2%,#fbceb7 38.5%,#fddbc7 41.1%,#fbe2d4 44%,#f6f7f7 50.8%,#d0e5f0 60.6%,#b8d8e9 65.1%,#a9d1e5 69%,#9dcbe1 74.2%,#98c8e0 78.4%,#97c8e0 84.9%,#9ccae1 91.4%,#a7d0e4 100%)}.g10c{background:linear-gradient(90deg,#f7b89a 0%,#f5aa88 11.9%,#f4a583 18%,#f4a683 24.5%,#f5aa89 28.4%,#f5ac8b 28.7%,#f6af8e 30.7%,#f6b191 31%,#f6b394 32.3%,#f8bfa4 36.2%,#fddcc9 42.4%,#f6f7f7 50.8%,#d1e5f0 59.6%,#bddbea 62.8%,#acd2e5 66.4%,#a5cee3 68.3%,#a5cee3 69%,#a0cce2 70%,#98c8e0 73.2%,#98c8e0 74.2%,#96c7df 74.5%,#93c6de 76.8%,#92c5de 83.6%,#97c8e0 89.8%,#a5cfe4 100%)}.g10d{background:linear-gradient(90deg,#f7b799 0%,#f3a380 15.1%,#f19f7d 20%,#f19f7d 23.5%,#f3a481 28.4%,#f4a683 28.7%,#f5a886 30.7%,#f5aa89 31%,#f5ac8b 32.3%,#f7b99c 36.2%,#f8bda1 36.9%,#f8bda1 37.2%,#f9c2a7 37.8%,#f9c2a7 38.1%,#fac8af 39.4%,#fddac6 42.7%,#f6f7f7 50.8%,#d1e5f0 58.6%,#b6d7e8 62.8%,#b6d7e8 63.1%,#a5cee3 66.4%,#98c8e0 70%,#96c7df 71.6%,#93c6de 71.9%,#93c6de 72.9%,#90c4dd 73.2%,#90c4dd 74.5%,#8dc2dc 74.8%,#8bc1dc 77.8%,#8cc1dc 83.3%,#92c5de 88.5%,#a5cee3 100%)}.g10e{background:linear-gradient(90deg,#f7b799 0%,#f4a784 10.2%,#f19d7c 16.1%,#ef9979 20.6%,#ef9979 26.5%,#f09c7b 26.8%,#f09c7b 28.4%,#f19e7d 29.7%,#f4a683 32.6%,#f7b596 36.9%,#f9c2a7 39.4%,#fddbc8 43.7%,#f6f7f7 50.8%,#d1e5f0 58%,#aed3e6 62.8%,#aed3e6 63.1%,#a0cce2 65.7%,#93c6de 69%,#90c4dd 70.3%,#8dc2dc 70.6%,#8dc2dc 71.3%,#87beda 73.2%,#87beda 74.5%,#84bcd9 74.8%,#84bcd9 81%,#89bfdb 85.6%,#a5cee3 100%)}.g10f{background:linear-gradient(90deg,#f7b799 0%,#f6b191 4.1%,#f6af8e 4.4%,#f5aa89 7.6%,#f2a07e 12.5%,#ee9878 16.7%,#eb9172 22.9%,#eb9172 26.8%,#ec9374 27.4%,#ec9374 28.7%,#ef9979 31.3%,#f4a683 34.9%,#f6b191 37.5%,#f7b99c 39.1%,#fddbc8 44.3%,#f7f5f4 50.5%,#f6f7f7 50.8%,#d1e5f0 57.3%,#b1d5e7 61.2%,#9dcbe1 64.4%,#87beda 69.3%,#81bad8 71.3%,#7eb8d7 74.2%,#7bb6d6 74.8%,#7bb6d6 78.7%,#83bcd9 84.6%,#96c7df 92.7%,#a0cce2 98.2%,#a2cde3 98.5%,#a2cde3 99.5%,#a5cee3 100%)}.g110{background:linear-gradient(90deg,#f7b799 0%,#f3a481 9.9%,#ec9374 17.4%,#e98b6e 21.9%,#e98b6e 23.2%,#e8896c 24.2%,#e8896c 27.4%,#ea8e70 31%,#ec9374 32.6%,#f2a07e 35.9%,#f5ac8b 38.1%,#f9c2a7 41.7%,#fdddca 45.3%,#f7f5f4 50.5%,#f6f7f7 50.8%,#d1e5f0 56.7%,#c2ddec 58.3%,#bddbea 58.6%,#a9d1e4 61.2%,#86bdda 66.7%,#78b4d5 70.6%,#71b0d3 74.2%,#71b0d3 77.4%,#7db8d7 84.3%,#93c6de 92.4%,#9bc9e0 96.3%,#a0cce2 97.6%,#a2cde3 99.5%,#a5cee3 100%)}.g111{background:linear-gradient(90deg,#f7b799 0%,#f6b191 4.1%,#f6af8e 4.4%,#f6af8e 5%,#f5ac8b 5.4%,#f5ac8b 6%,#f5aa89 6.3%,#f5aa89 7%,#f5a886 7.3%,#f5a886 8%,#f3a481 9.3%,#f3a481 9.9%,#f2a17f 10.2%,#f2a17f 10.9%,#e98c6f 18.3%,#e58368 22.9%,#e58368 24.2%,#e48066 24.8%,#e48066 29.1%,#e68469 31.3%,#ec9374 35.6%,#f3a482 38.5%,#f9c2a7 42.7%,#fddcc8 45.6%,#f7f5f4 50.5%,#f6f7f7 50.8%,#d1e5f0 56%,#b8d8e9 58.3%,#a4cee3 60.6%,#86bdda 64.4%,#77b4d5 67%,#70b0d3 68.7%,#68abd0 72.6%,#68abd0 76.8%,#6bacd1 77.4%,#6bacd1 78.7%,#77b4d5 83.6%,#93c6de 92.7%,#a5cee3 100%)}.g112{background:linear-gradient(90deg,#f7b99c 0%,#f5ac8b 6%,#f5aa89 6.3%,#f4a683 8.9%,#f2a17f 9.9%,#f19e7d 11.5%,#f09c7b 11.9%,#e58167 20.9%,#e17860 25.2%,#e0775e 29.4%,#e17a61 32.3%,#e68469 35.2%,#eb9172 37.5%,#f3a482 40.1%,#f7b698 42.4%,#fddcc9 46.3%,#f7f5f4 50.5%,#f6f7f7 50.8%,#cfe4ef 55.7%,#bddbea 57%,#9fcbe2 59.9%,#7ab6d6 64.1%,#67aacf 67.4%,#5ea4cc 70.6%,#5da3cc 73.9%,#5fa5cd 76.5%,#62a7ce 76.8%,#65a9cf 79.1%,#74b2d4 83.9%,#84bcd9 88.8%,#87beda 89.1%,#87beda 89.8%,#8ac0db 90.1%,#8dc2dc 91.4%,#90c4dd 91.7%,#90c4dd 92.4%,#93c6de 92.7%,#93c6de 93.3%,#96c7df 93.7%,#a5cee3 100%)}.g113{background:linear-gradient(90deg,#f7ba9d 0%,#f4a683 8.9%,#f09c7b 11.5%,#f09c7b 12.2%,#ee9677 13.1%,#ec9374 14.4%,#eb9172 14.8%,#e48065 20%,#dd7059 25.5%,#db6c56 29.4%,#db6d57 31.7%,#dd7059 33.6%,#e17860 35.9%,#e6866a 38.1%,#f3a381 41.4%,#f8bda0 44%,#fddbc7 46.6%,#f7f5f4 50.5%,#f6f7f7 50.8%,#d2e6f0 54.7%,#b0d4e7 57.3%,#8ac0db 60.6%,#68abd0 64.1%,#59a1ca 67%,#519cc8 69.6%,#509bc8 72.2%,#569fc9 76.1%,#59a1ca 76.5%,#5ca3cb 78.1%,#71b0d3 84.3%,#7eb8d7 87.5%,#84bcd9 88.5%,#84bcd9 89.1%,#8ac0db 90.1%,#8ac0db 90.7%,#90c4dd 91.7%,#a7d0e4 100%)}.g114{background:linear-gradient(90deg,#f8bc9f 0%,#f4a683 9.3%,#ee9677 13.1%,#ec9374 14.4%,#e6866a 17.4%,#df755d 21.9%,#db6b55 24.8%,#da6853 26.5%,#d86551 26.8%,#d6614e 29.4%,#d6614e 32.6%,#d86450 34.3%,#dc6e57 36.9%,#df765e 38.1%,#e6866a 40.1%,#f3a381 42.7%,#f9c2a7 45.3%,#fdd9c4 46.9%,#f7f5f4 50.5%,#f6f7f7 50.8%,#d1e5f0 54.4%,#aed3e6 56.7%,#90c4dd 58.9%,#75b2d4 60.9%,#569fc9 64.1%,#569fc9 64.4%,#4f9bc7 65.1%,#4f9bc7 65.4%,#4997c5 66.4%,#4594c3 68.7%,#4695c4 73.5%,#4997c5 74.2%,#4997c5 74.8%,#4c99c6 75.2%,#4c99c6 75.8%,#4f9bc7 76.1%,#529dc8 77.4%,#75b2d4 85.6%,#84bcd9 88.5%,#8ac0db 90.4%,#8dc2dc 90.7%,#a9d1e5 100%)}.g115{background:linear-gradient(90deg,#f8bfa3 0%,#f6b394 5%,#f3a280 10.9%,#e6866a 17.7%,#e27b62 19.6%,#da6954 23.9%,#d6604d 26.1%,#d25849 28.7%,#cf5347 31.3%,#cf5347 33.6%,#d25849 35.9%,#d6604d 37.5%,#dc6e58 39.4%,#e37f65 41.1%,#ec9374 42.7%,#f19e7d 43.3%,#f5aa89 44.3%,#fddbc7 47.6%,#f8f4f2 50.5%,#f6f7f7 50.8%,#d3e6f0 53.7%,#acd2e5 56%,#93c5de 57.6%,#81bad8 58.6%,#6daed1 59.9%,#5da3cc 61.2%,#4997c5 63.1%,#4291c2 64.4%,#3e8cbf 66.4%,#3d8bbf 70.9%,#4494c3 75.5%,#90c4dd 91.1%,#add3e6 100%)}.g116{background:linear-gradient(90deg,#f9c2a7 0%,#f7b697 5.4%,#f4a482 10.9%,#e6866a 17.7%,#e37e64 19%,#e27b62 20%,#df765e 20.6%,#df765e 20.9%,#d65f4d 25.2%,#ce4f45 28.4%,#c94641 31.7%,#c84440 35.2%,#cb4942 36.9%,#d05548 38.8%,#d96753 40.7%,#e68569 43%,#f2a17f 44.6%,#f6b191 45.6%,#fdd9c4 47.9%,#f8f4f2 50.5%,#f6f7f7 50.8%,#d2e6f0 53.4%,#9dcbe1 56%,#93c5de 56.7%,#78b4d5 58%,#579fca 59.9%,#4a97c5 60.9%,#4493c3 61.5%,#3c8abe 63.1%,#3681ba 66.4%,#3783bb 70%,#3a87bd 72.2%,#4292c2 76.1%,#4f9bc7 78.7%,#59a1ca 80%,#59a1ca 80.4%,#5fa5cd 81%,#62a7ce 82%,#68abd0 82.6%,#68abd0 83%,#75b2d4 84.9%,#94c6df 91.1%,#b0d4e7 100%)}.g117{background:linear-gradient(90deg,#f9c6ac 0%,#f7b89b 5.7%,#f4a683 11.5%,#ed9475 15.4%,#d6604d 24.5%,#c53e3d 30.4%,#bf3338 33.9%,#bf3338 35.9%,#c03539 36.9%,#c53e3d 38.8%,#ce4f45 40.7%,#d6604e 42%,#db6b55 42.7%,#e27b62 43.7%,#f3a381 45.6%,#f9c3a8 47.2%,#fdd8c3 48.2%,#f8f4f2 50.5%,#f6f7f7 50.8%,#d2e5f0 53.1%,#8dc2dc 56%,#75b2d4 57%,#5fa5cd 58%,#4795c4 59.3%,#3c8abe 60.6%,#3580b9 62.2%,#307ab6 63.8%,#2e77b5 65.1%,#2e77b5 67.4%,#307ab6 69.3%,#3681ba 72.2%,#4392c3 76.8%,#7cb7d6 85.6%,#94c6df 90.1%,#a7d0e4 95.3%,#b4d6e8 100%)}.g118{background:linear-gradient(90deg,#facab1 0%,#f8bda1 5.7%,#f4a683 12.8%,#e7876b 18.7%,#d86551 23.9%,#d55d4c 24.8%,#d35a4a 25.5%,#ce4f45 26.8%,#bd2d35 32%,#b82431 34.3%,#b6202f 36.5%,#b6212f 37.5%,#ba2832 39.1%,#c13639 40.7%,#cc4b43 42.4%,#d76350 43.7%,#e6866a 45.3%,#f2a07e 46.3%,#f6b090 46.9%,#fdddcb 48.9%,#f6f7f7 50.8%,#d1e5f0 52.8%,#92c5de 55%,#62a7ce 56.7%,#4593c3 58%,#3e8cbf 58.6%,#327cb7 60.2%,#2b74b3 61.5%,#256caf 64.1%,#266caf 66.7%,#2b74b3 69.6%,#4392c3 76.8%,#75b2d4 83.6%,#90c4dd 88.1%,#a9d1e5 94.3%,#bad9e9 100%)}.g119{background:linear-gradient(90deg,#fbd0b9 0%,#fbceb7 0.5%,#fbceb7 1.1%,#fbccb4 1.5%,#fbccb4 2.1%,#facab1 2.4%,#fac8af 3.7%,#f9c6ac 4.1%,#f9c6ac 4.7%,#f9c2a7 5.7%,#f9c2a7 6.3%,#f6af8e 12.2%,#f5a886 13.5%,#f2a17f 15.4%,#ec9374 17.4%,#ec9374 17.7%,#e58368 20.3%,#dd7059 22.9%,#d55e4c 25.2%,#b41c2d 33.3%,#a9152a 35.9%,#a61429 37.8%,#aa162a 39.4%,#b01a2c 40.4%,#b6212f 41.4%,#bd2e35 42.4%,#c3393b 43%,#c94641 43.7%,#d45c4c 44.6%,#e8896c 46.3%,#f5a987 47.2%,#fcdecc 49.2%,#f6f7f7 50.8%,#d2e5f0 52.4%,#92c5de 54.4%,#59a1ca 56%,#4e9ac7 56.3%,#408fc1 57%,#337db8 58.3%,#2870b1 59.6%,#1e61a4 61.9%,#1d5fa2 62.5%,#1c5da0 63.5%,#1d5fa2 65.4%,#2064a9 67%,#2b74b3 70.6%,#4392c3 76.5%,#6eaed2 81.7%,#93c6de 87.2%,#acd2e5 93%,#c0dceb 100%)}.g11a{background:linear-gradient(90deg,#fcd5bf 0%,#fcd5bf 0.8%,#fcd3bc 1.1%,#fbccb4 4.7%,#facab1 5%,#fac8af 6.3%,#f8bda1 9.9%,#f5a886 15.4%,#ee9677 18.7%,#e17860 22.9%,#d35a4a 26.5%,#b41c2d 32.6%,#b1182b 33.3%,#9f1228 35.2%,#970f27 36.5%,#900d26 38.5%,#910d26 39.4%,#970f27 40.7%,#a41329 42%,#b11c2d 43%,#bd2d35 44%,#c94741 45%,#d35a4b 45.6%,#dd6f59 46.3%,#e7876b 46.9%,#f2a07e 47.6%,#f5ac8b 47.9%,#fdd8c3 49.2%,#f8f2ef 50.5%,#f5f6f7 50.8%,#d4e6f1 52.1%,#c9e1ee 52.4%,#95c6df 53.7%,#5da3cc 55%,#4694c4 55.7%,#3f8dc0 56%,#2a71b2 57.6%,#2165a8 58.6%,#185595 60.2%,#15508d 61.2%,#154e8b 61.9%,#144e8a 63.1%,#16508e 64.4%,#195696 65.7%,#2368ad 68.7%,#4291c2 75.5%,#68abd0 79.7%,#8dc2dc 84.6%,#a1cde2 88.5%,#b6d7e8 93.7%,#c7e0ed 100%)}.g11b{background:linear-gradient(90deg,#fddbc7 0%,#fcd5bf 4.1%,#f8bea2 12.2%,#f5a987 17.4%,#ea8e70 21.6%,#d55e4c 27.1%,#b1182b 33.3%,#970f27 35.6%,#840924 37.5%,#7c0722 39.1%,#7b0622 40.1%,#7f0823 41.4%,#880b24 42.4%,#920e26 43%,#a51429 44%,#b82531 45%,#cf5246 46.3%,#db6d57 46.9%,#f4a685 48.2%,#fddbc7 49.5%,#f8f1ed 50.5%,#f5f6f7 50.8%,#cbe2ee 52.1%,#8dc2dc 53.4%,#7bb6d6 53.7%,#5ba2cb 54.4%,#4c98c6 54.7%,#408fc1 55%,#2a71b2 56.3%,#266caf 56.7%,#26a 57%,#1b5a9c 57.6%,#144e8a 58.6%,#10447d 59.6%,#0d4077 60.6%,#0c3e75 61.2%,#0d4077 62.5%,#114882 64.4%,#1a5899 66.7%,#2267ac 68.3%,#4392c2 74.5%,#76b3d4 79.7%,#8fc3dd 83%,#a3cee3 86.5%,#b9d9e9 92%,#c7e0ed 96.6%,#cfe4ef 100%)}.g11c{background:linear-gradient(90deg,#fcdfcf 0%,#fdd9c4 5.7%,#facbb2 11.2%,#f7b596 17.4%,#f5aa89 19.3%,#f5aa89 19.6%,#f09c7b 21.9%,#e48066 25.2%,#d6604d 28.4%,#b1192c 33.9%,#960f27 35.9%,#770522 38.5%,#6e0220 39.4%,#69011f 41.1%,#6c0220 42%,#740421 43%,#8b0c25 44.3%,#a71529 45.3%,#b82531 45.9%,#cd4e45 46.9%,#dc6e58 47.6%,#f3a482 48.5%,#f6b394 48.9%,#fcd3bc 49.5%,#fcdfcf 49.8%,#f9f0eb 50.5%,#f5f6f7 50.8%,#d2e5f0 51.8%,#aed3e6 52.4%,#88bfdb 53.1%,#4c99c6 54.1%,#408ec1 54.4%,#3884bb 54.7%,#256bae 55.7%,#114882 57.3%,#0a3b70 58.3%,#073467 59.3%,#063163 60.6%,#073467 61.9%,#0d3f76 63.5%,#15508d 65.4%,#1f61a6 67%,#2267ac 67.7%,#4291c2 72.9%,#66a9cf 76.1%,#90c4dd 80.7%,#a9d1e5 85.2%,#bddbea 90.1%,#cfe4ef 95.9%,#d5e7f1 100%)}.g11d{background:linear-gradient(90deg,#fbe3d5 0%,#fddcca 7.6%,#fcd3bc 12.5%,#f9c6ac 16.4%,#f7ba9d 19.3%,#f5ab8a 22.2%,#f09c7b 24.5%,#e37e64 27.8%,#d25849 31%,#b51e2e 34.9%,#a81529 35.9%,#710321 39.4%,#67001f 40.7%,#67001f 43%,#69011f 43.7%,#7a0622 44.6%,#8b0c25 45.3%,#af192b 46.3%,#b82531 46.6%,#c03438 46.9%,#d15648 47.6%,#e27c62 48.2%,#f4a684 48.9%,#fddbc7 49.8%,#f9efea 50.5%,#f5f6f7 50.8%,#dae9f2 51.5%,#cae1ee 51.8%,#a0cce2 52.4%,#8ac0db 52.8%,#5ba2cb 53.4%,#4694c4 53.7%,#3b88be 54.1%,#246aae 55%,#1e61a4 55.4%,#154e8b 56%,#0e4179 56.7%,#09376b 57.3%,#063365 57.6%,#053061 58.3%,#053061 60.6%,#073466 61.5%,#0d3f76 62.8%,#2165a9 66.1%,#2a71b2 67.4%,#3e8cbf 70.3%,#4694c4 71.3%,#71b0d3 74.8%,#95c7df 78.7%,#a5cfe4 81.3%,#c2ddec 87.5%,#d3e6f0 93.7%,#dae9f2 100%)}.g11e{background:linear-gradient(90deg,#fae7dc 0%,#fcdfcf 10.6%,#fcd5c0 16.1%,#fac8af 20%,#f7b99c 23.2%,#f5ac8c 25.5%,#f09b7b 27.8%,#e68469 30%,#d96854 32.3%,#c43c3c 35.2%,#b92632 36.5%,#ad1a2c 37.5%,#9e1228 38.5%,#820923 40.1%,#720321 41.4%,#6b0120 42.7%,#6a011f 43.3%,#6c0220 44%,#7b0622 45%,#8b0c25 45.6%,#a21328 46.3%,#b0172b 46.6%,#b92631 46.9%,#ca4841 47.6%,#d45b4b 47.9%,#dc6e58 48.2%,#f09c7b 48.9%,#f6af8f 49.2%,#fcd7c2 49.8%,#f9eee8 50.5%,#f5f6f7 50.8%,#d7e8f1 51.5%,#c3deec 51.8%,#97c7df 52.4%,#7cb7d6 52.8%,#4b98c6 53.4%,#3d8bbf 53.7%,#2b74b3 54.4%,#256baf 54.7%,#195898 55.4%,#114882 56%,#0c3d73 56.7%,#083669 57.3%,#063264 58%,#063365 58.9%,#0a396e 60.2%,#0e427a 61.2%,#1d5ea0 63.5%,#2970b1 65.1%,#3c8abe 67.7%,#4693c3 68.7%,#65a9cf 70.9%,#81bad8 73.2%,#99c8e0 75.8%,#aad1e5 78.4%,#b8d8e9 81%,#cde3ef 86.2%,#d2e6f0 88.1%,#d8e9f1 92%,#e0ecf3 100%)}.g11f{background:linear-gradient(90deg,#f9ebe3 0%,#fbe6da 10.6%,#fcddca 18.7%,#fcd3bd 22.2%,#f9c4aa 25.8%,#f4a888 30.4%,#ea8f71 33%,#df765e 34.9%,#d2594b 36.9%,#c03438 39.1%,#b1212f 40.4%,#9f1429 42%,#950f26 43.3%,#950f26 44%,#981027 44.6%,#9c1127 45%,#a5162a 45.6%,#b4202f 46.3%,#c03539 46.9%,#cf5347 47.6%,#d86451 47.9%,#e8896d 48.5%,#f2a07e 48.9%,#f6b394 49.2%,#fdd9c4 49.8%,#f9eee8 50.5%,#f5f6f7 50.8%,#d7e8f1 51.5%,#c5dfed 51.8%,#9ac9e0 52.4%,#559ec9 53.4%,#4391c2 53.7%,#3a87bd 54.1%,#276daf 55%,#1c5c9d 56%,#175392 57%,#16518f 57.6%,#16518f 58.3%,#1d5d9d 59.9%,#286eae 61.5%,#3682ba 63.5%,#509ac7 65.7%,#71b0d3 68%,#8abfdb 70%,#a0cce2 72.2%,#a9d1e5 73.5%,#bddbea 76.8%,#cae1ee 79.7%,#d5e7f1 83.6%,#e0ecf3 91.1%,#e7eff4 100%)}.g120{background:linear-gradient(90deg,#f8f0eb 0%,#f9eee7 8.6%,#fae8de 17.7%,#fce1d1 24.2%,#fbd4be 29.4%,#f9c2a7 33%,#f6b496 34.9%,#f1a284 36.9%,#ea9174 38.5%,#e68469 39.4%,#db6c59 41.4%,#d35c4e 43%,#d0564b 44.3%,#d25a4d 45.3%,#d66151 45.9%,#db6d59 46.6%,#e37f65 47.2%,#f1a182 48.2%,#f8bb9e 48.9%,#fcd6c1 49.5%,#fce0d0 49.8%,#f8f0eb 50.5%,#f5f6f7 50.8%,#d4e6f0 51.8%,#7ab6d6 53.7%,#62a7ce 54.4%,#4f98c6 55.4%,#4992c3 56%,#458ec1 57%,#4a93c3 58.6%,#559bc8 59.9%,#69abd0 61.9%,#78b4d5 62.8%,#8cc0dc 64.4%,#aad1e5 67.4%,#bddbea 70%,#cbe2ee 72.6%,#d7e8f1 76.5%,#e1edf3 82.6%,#eaf1f5 92.7%,#edf2f5 100%)}.g121{background:linear-gradient(90deg,#f8f5f3 0%,#f8f2ef 18%,#f9eee7 28.1%,#fae7dc 34.6%,#fadecf 38.5%,#f9d0bb 43%,#f9ceb9 45%,#f9cfba 45.6%,#f9d3bf 46.6%,#fad9c8 47.6%,#fbe6da 48.9%,#f6f7f7 50.8%,#d6e7f0 53.4%,#cce2ee 54.4%,#c6dfec 55.4%,#c3ddeb 56.7%,#c5dfec 58.6%,#deebf2 65.4%,#e6eff4 69.6%,#eaf1f5 73.5%,#f0f4f6 83.3%,#f4f5f6 100%)}.g122{background:linear-gradient(90deg,#f9ede5 0%,#f9f0eb 25.2%,#f6f7f7 50.8%,#edf2f5 76.1%,#e9f0f4 100%)}.g123{background:linear-gradient(90deg,#f9ede5 0%,#f9efe9 21.3%,#f6f7f7 50.8%,#ecf2f5 80.4%,#e9f0f4 100%)}.g124{background:linear-gradient(90deg,#f9ece4 0%,#f9efe9 22.6%,#f6f7f7 50.8%,#ecf2f5 79.1%,#e9f0f4 100%)}.g125{background:linear-gradient(90deg,#f9ebe3 0%,#f9efe9 23.9%,#f6f7f7 50.8%,#ecf2f5 77.8%,#e7f0f4 100%)}.g126{background:linear-gradient(90deg,#f9ebe3 0%,#f9efe9 25.2%,#f6f7f7 50.8%,#eaf1f5 81.3%,#e7f0f4 100%)}.g127{background:linear-gradient(90deg,#f9ebe3 0%,#f9eee7 21.6%,#f6f7f7 50.8%,#eaf1f5 80%,#e7f0f4 100%)}.g128{background:linear-gradient(90deg,#faeae1 0%,#f9eee7 23.2%,#f6f7f7 50.8%,#eaf1f5 78.4%,#e6eff4 100%)}.g129{background:linear-gradient(90deg,#faeae1 0%,#f9eee7 24.5%,#f6f7f7 50.8%,#eaf1f5 77.1%,#e6eff4 100%)}.g12a{background:linear-gradient(90deg,#faeae1 0%,#faeae1 8.6%,#f9eee7 25.8%,#f6f7f7 50.8%,#e9f0f4 80%,#e6eff4 100%)}.g12b{background:linear-gradient(90deg,#faeae0 0%,#faeae1 11.9%,#f9eee7 27.1%,#f6f7f7 50.8%,#e9f0f4 78.4%,#e5eef4 100%)}.g12c{background:linear-gradient(90deg,#fae9df 0%,#f9ede5 24.5%,#f6f7f7 50.8%,#e9f0f4 76.8%,#e4eef4 100%)}.g12d{background:linear-gradient(90deg,#fae9df 0%,#fae9df 9.9%,#f9ede5 26.1%,#f6f7f7 50.8%,#e7f0f4 79.4%,#e4eef4 100%)}.g12e{background:linear-gradient(90deg,#fae8de 0%,#f9ebe3 23.9%,#f9f0eb 36.5%,#f6f7f7 50.8%,#e9f0f4 73.9%,#e3eef3 100%)}.g12f{background:linear-gradient(90deg,#fae8de 0%,#fae8de 8.3%,#f9ebe3 25.5%,#f9f0eb 37.2%,#f6f7f7 50.8%,#e7f0f4 76.1%,#e3edf3 100%)}.g130{background:linear-gradient(90deg,#fae8dd 0%,#fae8de 12.8%,#faeae1 23.5%,#f9efe9 35.6%,#f6f7f7 50.8%,#e6eff4 78.1%,#e2edf3 100%)}.g131{background:linear-gradient(90deg,#fae7dc 0%,#fae8de 16.1%,#faeae1 25.2%,#f8f1ed 40.7%,#f6f7f7 50.8%,#e6eff4 76.1%,#e1edf3 100%)}.g132{background:linear-gradient(90deg,#fae7dc 0%,#fae7dc 12.5%,#fae9df 23.5%,#f9efe9 37.2%,#f6f7f7 50.8%,#e6eff4 74.5%,#e1edf3 88.8%,#e1edf3 100%)}.g133{background:linear-gradient(90deg,#fbe6da 0%,#fae7dc 16.7%,#fae9df 25.5%,#f9eee7 35.9%,#f6f7f7 50.8%,#e4eef4 76.1%,#e1edf3 84.9%,#e0ecf3 100%)}.g134{background:linear-gradient(90deg,#fbe6da 0%,#fbe6da 13.1%,#fae8de 24.2%,#f9eee7 36.9%,#f6f7f7 50.8%,#e9f0f4 66.7%,#e3edf3 77.4%,#e0ecf3 88.1%,#e0ecf3 100%)}.g135{background:linear-gradient(90deg,#fbe6da 0%,#fbe5d9 9.6%,#fae8de 26.1%,#f9ede5 35.9%,#f6f7f7 50.8%,#eaf1f5 63.8%,#e3edf3 75.5%,#e0ecf3 83.6%,#dfecf3 100%)}.g136{background:linear-gradient(90deg,#fbe5d8 0%,#fbe5d8 15.1%,#fae7dc 25.2%,#f9ede5 36.9%,#f6f7f7 50.8%,#e9f0f4 64.8%,#e1edf3 76.5%,#deebf2 86.2%,#deebf2 100%)}.g137{background:linear-gradient(90deg,#fbe5d8 0%,#fbe4d7 13.5%,#fbe6da 24.2%,#f9ebe3 35.9%,#f6f7f7 50.8%,#e7f0f4 65.4%,#e1edf3 74.2%,#ddebf2 88.1%,#deebf2 100%)}.g138{background:linear-gradient(90deg,#fbe4d7 0%,#fbe4d6 18%,#fbe6da 26.5%,#f9eee7 40.1%,#f6f7f7 50.8%,#e9f0f4 62.8%,#e0ecf3 74.8%,#ddebf2 83.3%,#ddebf2 100%)}.g139{background:linear-gradient(90deg,#fbe4d6 0%,#fbe3d4 15.4%,#fbe5d8 26.1%,#faeae1 36.5%,#f6f7f7 50.8%,#e7f0f4 63.5%,#dfecf3 74.5%,#dbeaf2 86.2%,#ddebf2 100%)}.g13a{background:linear-gradient(90deg,#fbe4d6 0%,#fce2d3 14.4%,#fbe5d8 28.4%,#faeae1 37.5%,#f6f7f7 50.8%,#e7f0f4 62.5%,#ddebf2 74.8%,#dae9f2 87.2%,#dceaf2 100%)}.g13b{background:linear-gradient(90deg,#fbe3d5 0%,#fce1d2 20.3%,#fbe4d6 28.4%,#fae9df 37.2%,#f6f7f7 50.8%,#e7eff4 61.9%,#ddeaf2 73.2%,#dae9f2 81.3%,#dbeaf2 100%)}.g13c{background:linear-gradient(90deg,#fbe3d4 0%,#fce0d0 15.1%,#fbe2d4 28.7%,#fae9df 38.8%,#f6f7f7 50.8%,#e6eff4 61.5%,#dbeaf2 72.9%,#d8e8f1 86.5%,#dbeaf2 100%)}.g13d{background:linear-gradient(90deg,#fbe3d4 0%,#fcdfcf 12.2%,#fcdfcf 22.6%,#fce1d2 29.1%,#fae9df 39.4%,#f6f7f7 50.8%,#e2edf3 63.1%,#d9e9f2 72.6%,#d7e8f1 78.7%,#d7e8f1 89.1%,#dae9f2 100%)}.g13e{background:linear-gradient(90deg,#fce2d2 0%,#fcdecd 14.8%,#fcdfce 27.1%,#fbe3d5 34.9%,#fae7db 38.5%,#f6f7f7 50.8%,#dfecf3 64.1%,#d8e8f1 71.9%,#d5e7f1 86.9%,#dae9f2 100%)}.g13f{background:linear-gradient(90deg,#fce2d2 0%,#fdddcb 16.4%,#fcdecc 28.1%,#fbe3d5 36.5%,#f9ebe3 43.3%,#f6f7f7 50.8%,#e1edf3 61.9%,#d6e8f1 70.9%,#d3e6f0 79.4%,#d4e6f1 85.2%,#dae9f2 100%)}.g140{background:linear-gradient(90deg,#fce2d2 0%,#fddcc9 17.4%,#fdddca 29.4%,#fcdfce 33.3%,#fbe5d7 39.1%,#f6f7f7 50.8%,#dfecf3 61.5%,#d3e6f0 71.9%,#d2e6f0 84.3%,#d9e9f2 100%)}.g141{background:linear-gradient(90deg,#fce2d2 0%,#fddac6 19.6%,#fddac6 28.1%,#fcdecc 34.3%,#fbe3d5 39.4%,#f9efe9 46.6%,#f6f7f7 50.8%,#dbeaf2 62.8%,#d0e5f0 73.5%,#d0e5f0 81.7%,#d8e9f1 100%)}.g142{background:linear-gradient(90deg,#fce2d2 0%,#fcd7c2 21.3%,#fcd7c2 28.7%,#fdddca 35.2%,#fbe3d5 40.7%,#f6f7f7 50.8%,#dbeaf2 61.5%,#d5e7f1 65.1%,#cde3ef 72.9%,#cde3ef 80.4%,#d8e9f1 100%)}.g143{background:linear-gradient(90deg,#fce2d2 0%,#fddbc7 14.4%,#fcd5c0 20.6%,#fcd4be 29.4%,#fcd7c2 33.3%,#fce0d0 40.1%,#fae7db 43.7%,#f6f7f7 50.8%,#e2edf3 57.3%,#d9e9f1 61.2%,#cce2ef 68.7%,#c9e1ee 72.2%,#c9e1ee 78.4%,#d1e5f0 87.2%,#d8e9f1 100%)}.g144{background:linear-gradient(90deg,#fce2d2 0%,#fddbc7 13.5%,#fcd7c2 16.4%,#fbd2bb 22.2%,#fbd0b9 28.4%,#fcd3bc 33.3%,#fddcc9 38.8%,#fbe6d9 44%,#f6f7f7 50.8%,#d9e9f1 59.9%,#cae1ee 66.7%,#c5dfec 70.9%,#c4deec 75.2%,#c6e0ed 79.1%,#d1e5f0 88.1%,#d8e9f1 100%)}.g145{background:linear-gradient(90deg,#fce2d2 0%,#fddbc7 12.8%,#fdd9c4 13.5%,#fbceb6 24.2%,#fbccb4 31.7%,#fbceb7 34.3%,#fcd7c2 38.5%,#fbe5d7 44.3%,#f6f7f7 50.8%,#ddebf2 57.3%,#cae1ee 63.8%,#c2ddec 67.4%,#c0dceb 70%,#c1ddec 77.1%,#cce2ef 86.2%,#cfe4ef 86.9%,#cfe4ef 88.1%,#d1e5f0 88.8%,#d9e9f2 100%)}.g146{background:linear-gradient(90deg,#fbe2d4 0%,#fddbc7 12.5%,#fdd9c4 13.1%,#fdd9c4 14.1%,#fcd7c2 14.8%,#fcd7c2 15.7%,#fcd5bf 16.4%,#fac9b0 25.5%,#fac8af 33.6%,#facab1 34.3%,#facab1 35.6%,#fbccb4 35.9%,#fbd0b9 38.5%,#fdd9c4 41.1%,#fddcc9 41.7%,#fcdfcf 43.3%,#fae8dd 46.3%,#f6f7f7 50.8%,#dae9f2 57.3%,#cfe4ef 60.9%,#c2ddec 63.8%,#bbdaea 68%,#bcdbea 75.8%,#cfe4ef 88.5%,#d1e5f0 88.8%,#dae9f2 100%)}.g147{background:linear-gradient(90deg,#fbe3d4 0%,#fddbc7 12.5%,#fdd9c4 12.8%,#fdd9c4 14.1%,#fcd7c2 14.4%,#fcd7c2 15.4%,#fcd5bf 15.7%,#fcd5bf 16.7%,#fac7ae 24.8%,#f9c2a7 31.3%,#f9c2a7 33.3%,#f9c4a9 33.9%,#f9c4a9 35.6%,#f9c6ac 36.9%,#fcd3bc 41.1%,#fddcc9 43%,#fddcc9 43.3%,#f6f7f7 50.8%,#c2ddec 61.5%,#b8d8e9 64.8%,#b6d7e8 67.7%,#b3d6e8 68%,#b7d8e9 74.8%,#c5dfec 83%,#cce2ef 86.2%,#cce2ef 87.2%,#d1e5f0 88.8%,#dae9f2 100%)}.g148{background:linear-gradient(90deg,#fbe3d5 0%,#fddbc7 12.8%,#fdd9c4 13.1%,#fcd5bf 16.7%,#fbd0b9 18%,#fbd0b9 19%,#fbceb7 19.3%,#f9c2a7 26.5%,#f8bb9e 33.3%,#f8bfa3 36.9%,#fac7ae 40.1%,#fbd1ba 42.4%,#fddcc9 44.3%,#fce2d2 45.9%,#f6f7f7 50.8%,#bbdaea 61.2%,#b1d5e7 64.1%,#acd2e5 68%,#b3d6e7 74.2%,#d1e5f0 88.8%,#dbeaf2 100%)}.g149{background:linear-gradient(90deg,#fbe4d7 0%,#fddbc7 13.1%,#fcd5bf 16.7%,#fbd0b9 18%,#fbd0b9 19%,#fbceb7 19.3%,#fbceb7 20%,#fbccb4 20.3%,#fbccb4 20.9%,#facab1 21.3%,#facab1 21.9%,#fac8af 22.2%,#fac8af 22.9%,#f8bda0 27.8%,#f7b799 31.3%,#f7b799 32.6%,#f7b596 33%,#f7b596 35.2%,#f8bb9e 39.1%,#f9c3a8 41.4%,#facbb3 43%,#fddbc8 45.3%,#fbe3d4 46.9%,#f6f7f7 50.8%,#d1e5f0 56.3%,#bad9e9 59.3%,#b3d6e7 60.6%,#a9d1e4 63.1%,#a5cee3 66.1%,#a5cee3 68.3%,#a7d0e4 68.7%,#a9d1e5 71.6%,#bddbea 80.4%,#c7e0ed 83.6%,#d1e5f0 88.5%,#dceaf2 100%)}.g14a{background:linear-gradient(90deg,#fbe5d8 0%,#fddbc7 13.8%,#fbd0b9 19%,#fbceb7 19.3%,#fbceb7 20%,#fbccb4 20.3%,#fbccb4 20.9%,#fac8af 21.9%,#f9c6ac 23.5%,#f8bfa4 25.5%,#f6b191 32%,#f5ad8c 34.9%,#f5ad8c 36.9%,#f6b394 40.1%,#f8bb9e 42%,#fac8af 44%,#fddbc8 46.3%,#f6f7f7 50.8%,#d1e5f0 55.4%,#b7d8e9 58%,#a9d1e5 59.9%,#a0cce2 62.2%,#9bcae1 64.4%,#9dcbe1 68.3%,#a0cce2 68.7%,#a6cfe4 72.2%,#bddbea 79.7%,#bddbea 80.4%,#c0dceb 80.7%,#d1e5f0 87.8%,#ddebf2 100%)}.g14b{background:linear-gradient(90deg,#fbe6da 0%,#fce1d1 8.3%,#fddbc7 14.4%,#f9c6ac 23.5%,#f8bfa4 25.2%,#f6b090 30.4%,#f5aa89 33%,#f5a886 33.3%,#f3a380 37.5%,#f3a381 39.1%,#f4a886 40.7%,#f5ac8b 41.7%,#f8bb9e 44%,#fbceb7 45.9%,#fddac6 46.9%,#f6f7f7 50.8%,#cee4ef 54.7%,#b8d8e9 56.3%,#a3cee3 58.6%,#98c8e0 60.2%,#93c5de 61.5%,#8fc3dd 63.8%,#8fc3dd 65.1%,#98c8e0 69%,#a9d1e5 74.2%,#b1d5e7 75.8%,#b3d6e8 77.1%,#bbdaea 78.7%,#d1e5f0 86.9%,#dfecf3 100%)}.g14c{background:linear-gradient(90deg,#fae7dc 0%,#fbe3d5 7.3%,#fddbc7 15.7%,#fac9b0 22.6%,#f7b799 28.1%,#f3a481 33%,#ed9576 37.2%,#ec9374 39.1%,#ee9878 41.1%,#f19d7c 42%,#f3a482 43%,#f6b293 44.6%,#f9c1a6 45.9%,#fddcca 47.9%,#f6f7f7 50.8%,#d2e5f0 53.7%,#bbdaea 55%,#a4cee3 56.7%,#95c7df 58%,#86bdda 59.9%,#7eb8d7 62.2%,#7fb9d7 63.8%,#84bcd9 65.7%,#97c7df 69.6%,#a7d0e4 73.9%,#acd2e5 74.5%,#bedbeb 79.4%,#cfe4f0 84.9%,#dae9f2 92.7%,#e0ecf3 100%)}.g14d{background:linear-gradient(90deg,#fae9de 0%,#fbe2d4 10.2%,#fddbc8 17%,#fcd7c2 18.7%,#f9c4aa 24.8%,#f6b191 29.4%,#f6b191 29.7%,#f3a481 32.3%,#ec9374 34.9%,#e58368 38.5%,#e58267 39.4%,#e58267 40.7%,#e6866a 42%,#e98c6f 43%,#f19d7c 44.6%,#f7b99c 46.6%,#fdddcb 48.5%,#f6f7f7 50.8%,#d2e6f0 53.1%,#a8d0e4 55%,#83bcd9 57.3%,#71b0d3 58.9%,#6bacd1 59.9%,#6aacd0 60.9%,#6bacd1 62.8%,#70b0d3 64.1%,#81bad8 67%,#96c7df 70%,#96c7df 70.3%,#add3e6 74.5%,#bedbeb 78.4%,#cae2ee 82%,#d1e5f0 84.6%,#d7e8f1 88.5%,#e2edf3 100%)}.g14e{background:linear-gradient(90deg,#faeae1 0%,#fae9de 4.1%,#fbe3d4 12.2%,#fdddcb 17.4%,#fcd7c2 20.6%,#f9c6ac 25.5%,#f5ad8c 30.7%,#f3a481 32.3%,#e8896d 35.6%,#de735c 38.8%,#db6b55 41.1%,#db6d57 42.4%,#de725b 43.3%,#e27b62 44.3%,#ea8e70 45.6%,#f09b7b 46.3%,#f4aa89 46.9%,#fac8af 48.2%,#fcdac6 48.9%,#fcdfcf 49.2%,#f6f7f7 50.8%,#d4e6f1 52.4%,#aed3e6 53.7%,#84bcd9 55.4%,#6aacd0 56.7%,#5ca3cb 57.6%,#569fc9 58.3%,#4f9bc7 59.9%,#519cc8 61.2%,#5ea4cc 63.5%,#90c4dd 69.3%,#a0cce2 71.6%,#bddbea 77.1%,#c6e0ed 79.4%,#d2e6f0 83.3%,#dae9f2 88.1%,#e5eef4 100%)}.g14f{background:linear-gradient(90deg,#f9ece4 0%,#fae9de 7.3%,#fbe4d6 13.8%,#fdddcb 19.6%,#fcd5bf 23.2%,#f9c2a7 27.8%,#f8bb9e 28.7%,#f7b99c 29.4%,#f4a683 32.3%,#e6866a 35.9%,#e48066 36.2%,#d86450 39.1%,#d05447 41.1%,#ce4f45 42.4%,#ce4f45 43.3%,#d05548 44.3%,#d66250 45.3%,#df765e 46.3%,#ec9273 47.2%,#f3a786 47.9%,#fcdecc 49.5%,#f8f2ee 50.5%,#f5f6f7 50.8%,#d1e5f0 52.1%,#91c4de 53.7%,#78b4d5 54.4%,#59a1ca 55.4%,#4693c3 56.3%,#3c8abe 57.6%,#3b88be 58.3%,#3d8bbf 60.2%,#4392c3 61.9%,#4f9bc7 63.1%,#82bbd9 67.4%,#98c8e0 69.6%,#aed3e6 72.9%,#c7e0ed 77.8%,#d2e6f0 81%,#dbeaf2 86.5%,#e7eff4 100%)}.g150{background:linear-gradient(90deg,#f9eee8 0%,#fae9df 10.2%,#fbe5d8 16.1%,#fddcca 22.6%,#fcd7c2 24.5%,#fbcdb5 27.1%,#f8bda1 30%,#f3a482 33.6%,#e37e64 36.9%,#d55d4c 39.1%,#c3393b 41.7%,#bd2d35 43%,#bb2a34 43.7%,#bd2d35 45%,#c13739 45.6%,#c43c3c 45.9%,#cc4c44 46.6%,#d76251 47.2%,#e37d63 47.9%,#f09d7d 48.5%,#f8bda1 49.2%,#fcddca 49.8%,#f9efea 50.5%,#f5f6f7 50.8%,#cee3ef 51.8%,#96c6df 52.8%,#5ea4cc 53.7%,#4592c2 54.4%,#3884bb 55%,#317bb7 55.7%,#2c75b4 56.3%,#2a71b2 57.3%,#2a71b2 58%,#2f79b6 59.6%,#4393c3 62.5%,#62a7ce 64.4%,#8bc1dc 67.4%,#9bcae1 69%,#b2d5e7 71.9%,#c8e0ed 75.8%,#d2e6f0 78.7%,#deebf2 85.6%,#eaf1f5 100%)}.g151{background:linear-gradient(90deg,#f9efea 0%,#f9ebe3 11.5%,#fbe5d9 19.3%,#fdddcb 25.2%,#fddac6 26.5%,#fcd3bc 28.4%,#f8bc9f 32.3%,#f5a987 34.6%,#ef9a79 35.9%,#e98c6f 36.9%,#db6c56 38.8%,#d25849 39.8%,#b41c2d 42.7%,#ab162a 43.3%,#9d1128 44.3%,#970f27 45.3%,#9a1027 45.9%,#a5172a 46.6%,#ad1c2d 46.9%,#bd2f36 47.6%,#d05448 48.2%,#da6955 48.5%,#e48066 48.9%,#ef9a7b 49.2%,#f6b394 49.5%,#fcdfce 50.2%,#f9ede5 50.5%,#f3f5f6 50.8%,#cee3ef 51.5%,#97c7df 52.1%,#5ea4cc 52.8%,#4894c3 53.1%,#3a86bc 53.4%,#2971b0 54.1%,#1f60a1 54.7%,#195797 55.4%,#175391 56.3%,#195797 57.3%,#2166ab 58.6%,#4190c1 61.9%,#6cadd1 64.1%,#87beda 65.7%,#98c8e0 67%,#a8d0e4 68.7%,#bcdaea 71.3%,#cae1ee 73.5%,#d3e6f0 76.1%,#e0ecf3 83%,#e7f0f4 89.8%,#ecf2f5 100%)}.g152{background:linear-gradient(90deg,#f8f2ee 0%,#f9efe9 11.5%,#fae7dc 22.6%,#fce0cf 27.8%,#fcdac6 30%,#fcd3bc 31.7%,#f9c4a9 33.9%,#f6af8f 36.2%,#f3a483 37.2%,#e8896c 38.8%,#dc6e57 40.1%,#cd4e45 41.4%,#bf3237 42.4%,#ba2832 42.7%,#ac182b 43.3%,#7f0823 45%,#6d0220 45.9%,#6f0320 46.6%,#780522 47.2%,#800823 47.6%,#910d26 47.9%,#a3162a 48.2%,#b52631 48.5%,#c6413e 48.9%,#d66250 49.2%,#e7876b 49.5%,#f5ad8d 49.8%,#fbd0b9 50.2%,#fae8dd 50.5%,#f2f5f6 50.8%,#d8e9f1 51.1%,#8cc1dc 51.8%,#5fa5cd 52.1%,#408cc0 52.4%,#2f78b5 52.8%,#2266a7 53.1%,#195696 53.4%,#124984 53.7%,#0d4078 54.1%,#0a3a6f 54.4%,#08366a 54.7%,#073467 55.4%,#083669 55.7%,#0f437b 56.7%,#1a5899 57.6%,#2266a9 58.3%,#266caf 58.6%,#337eb8 59.6%,#3c8abe 60.2%,#4795c4 60.9%,#6daed1 62.5%,#8dc1dc 64.1%,#9bcae1 65.1%,#b1d5e7 67%,#cce2ee 70.6%,#d6e7f1 73.2%,#dae9f2 75.2%,#e5eef4 81.7%,#ecf2f5 90.1%,#eff3f6 100%)}.g153{background:linear-gradient(90deg,#f8f4f2 0%,#f8f2ef 11.9%,#f9eee7 22.2%,#fae8de 28.1%,#fbe3d4 31.7%,#fcd8c4 34.9%,#fbceb7 36.5%,#f7b89b 38.8%,#f0a081 40.4%,#e68469 41.7%,#da6a57 42.7%,#c53e3d 44%,#ae2230 45%,#a21a2c 45.3%,#8f0e26 45.9%,#7f0823 46.6%,#7a0622 46.9%,#760521 47.6%,#7c0722 47.9%,#860a24 48.2%,#9a1027 48.5%,#b21b2d 48.9%,#c43c3c 49.2%,#d86550 49.5%,#ec9374 49.8%,#f8bfa4 50.2%,#fbe4d7 50.5%,#f1f4f6 50.8%,#d1e5f0 51.1%,#a0cce2 51.5%,#68abd0 51.8%,#3e8cbf 52.1%,#2b74b3 52.4%,#1e60a3 52.8%,#154f8c 53.1%,#0f437b 53.4%,#0b3c72 53.7%,#0a3b70 54.1%,#0b3b71 54.4%,#0f427a 55%,#16508c 55.7%,#2569a7 56.7%,#307ab6 57.3%,#4d96c5 58.6%,#67aacf 59.6%,#78b4d5 60.2%,#8ec1dc 61.2%,#a5cfe3 62.5%,#c1ddeb 64.8%,#d5e7f1 68%,#dae9f2 69.3%,#e1edf3 72.6%,#eaf1f5 79.4%,#f0f4f6 89.8%,#f2f5f6 100%)}.g154{background:linear-gradient(90deg,#f7f6f5 0%,#f8f4f2 21.9%,#f8f3f0 22.2%,#f8f1ed 30.7%,#f9ebe3 36.2%,#fae8de 38.1%,#fae3d6 39.8%,#fad7c4 42%,#f7c6b0 43.7%,#f1b29c 45%,#e99b87 46.3%,#e28b7d 47.2%,#e0877a 47.9%,#e1887b 48.2%,#e38d7d 48.5%,#e79684 48.9%,#eda38c 49.2%,#f2b49c 49.5%,#f8c8b1 49.8%,#fbdccc 50.2%,#f9ece4 50.5%,#f4f5f6 50.8%,#e1edf3 51.1%,#9cc8df 52.1%,#8cbeda 52.4%,#83b5d6 52.8%,#7eb1d3 53.1%,#7baed2 53.7%,#80b2d4 54.4%,#91c1dc 55.7%,#b7d7e8 57.6%,#c8e0ed 58.9%,#d1e5ef 59.9%,#dae9f1 61.2%,#e0ecf3 62.5%,#e6eff4 64.8%,#eff3f5 70.9%,#f3f5f6 79.7%,#f5f6f7 100%)}.g155{background:linear-gradient(90deg,#539ac7 0%,#73b2d4 0.5%,#91c3dd 0.8%,#a7d0e4 1.1%,#b9d9e9 1.5%,#c6e0ed 1.8%,#d0e4ef 2.1%,#dceaf2 2.8%,#e6eff4 3.7%,#ecf2f5 4.7%,#f2f5f6 7%,#f3f5f6 9.3%,#f3f5f6 45.6%,#f7f6f6 47.2%,#f9f0eb 48.2%,#f9ebe3 48.5%,#fbe3d5 48.9%,#fbccb4 49.2%,#e7876b 49.5%,#940e26 49.8%,#67001f 50.2%,#67001f 51.5%,#c2383a 51.8%,#f5aa89 52.1%,#fddbc7 52.4%,#fae7dc 52.8%,#f9ede6 53.1%,#f8f1ed 53.4%,#f7f5f4 54.1%,#f6f6f7 54.7%,#f3f5f6 56%,#f2f5f6 94.3%,#eef3f5 96.3%,#e5eef4 97.9%,#deebf2 98.5%,#d4e7f0 99.2%,#c2ddec 100%)}.g156{background:linear-gradient(90deg,#a4cee3 0%,#b6d7e8 0.5%,#c5dfec 0.8%,#d0e4ef 1.1%,#deebf2 1.8%,#e7f0f4 2.4%,#eef3f5 3.4%,#f4f5f6 5%,#f7f7f6 9.3%,#f7f6f6 45.9%,#f8f2ef 47.6%,#f9f0eb 47.9%,#fae9de 48.5%,#fce2d2 48.9%,#facbb2 49.2%,#e8896c 49.5%,#970f27 49.8%,#67001f 50.2%,#67001f 51.5%,#c33a3b 51.8%,#f5aa89 52.1%,#fdd9c4 52.4%,#fbe5d8 52.8%,#faeae1 53.1%,#f8f0eb 53.7%,#f8f4f2 54.4%,#f7f6f6 55.4%,#f6f6f7 95%,#f3f5f6 96.9%,#edf2f5 98.2%,#e6eff4 99.2%,#dceaf2 100%)}.g157{background:linear-gradient(90deg,#cde3ef 0%,#dae9f2 0.8%,#ecf2f5 2.1%,#f2f5f6 2.8%,#f7f7f7 4.4%,#f7f5f4 6.7%,#f7f5f4 45%,#f8f3f0 46.9%,#faebe3 48.2%,#fae7dc 48.5%,#fce1d1 48.9%,#facbb3 49.2%,#ea8e70 49.5%,#9f1228 49.8%,#67001f 50.2%,#67001f 51.5%,#c6413e 51.8%,#f5ac8b 52.1%,#fdd8c3 52.4%,#fbe4d6 52.8%,#fae9df 53.1%,#f8f1ed 54.1%,#f8f4f2 55%,#f7f5f4 56.7%,#f7f5f4 94.6%,#f7f6f6 96.3%,#f3f5f6 98.5%,#e7eff4 100%)}.g158{background:linear-gradient(90deg,#ddebf2 0%,#f0f4f6 2.1%,#f5f6f7 2.8%,#f7f7f7 3.4%,#f7f6f6 45.6%,#f8f3f0 47.2%,#f9ede5 48.2%,#fae9df 48.5%,#fbe3d4 48.9%,#fbd2bb 49.2%,#ef9979 49.5%,#ae182b 49.8%,#67001f 50.2%,#67001f 51.5%,#ce5045 51.8%,#f7b697 52.1%,#fddcca 52.4%,#fbe6da 52.8%,#faeae1 53.1%,#f8f2ef 54.1%,#f7f5f4 55%,#f7f6f6 56%,#f7f7f7 98.2%,#edf2f5 100%)}.g159{background:linear-gradient(90deg,#e5eff4 0%,#f5f6f7 2.4%,#f7f6f6 3.1%,#f3f5f6 5.4%,#f3f5f6 44.6%,#f7f6f5 47.2%,#f8f2ef 47.9%,#f9ece4 48.5%,#fae7db 48.9%,#fddbc7 49.2%,#f5a988 49.5%,#bc2b34 49.8%,#67001f 50.2%,#67001f 51.5%,#d86451 51.8%,#f9c2a7 52.1%,#fce0d0 52.4%,#fae9df 52.8%,#f9eee7 53.1%,#f7f5f4 54.1%,#f6f6f7 54.7%,#f3f5f6 57%,#f3f5f6 95.9%,#f7f6f6 98.2%,#f6f7f7 98.9%,#f0f4f6 100%)}.g15a{background:linear-gradient(90deg,#eaf1f5 0%,#f6f7f7 2.4%,#f7f6f5 3.1%,#f7f6f6 4.1%,#f1f4f6 6%,#f1f4f6 45.3%,#f3f5f6 46.6%,#f7f6f6 47.6%,#f9eee8 48.5%,#fae9df 48.9%,#fcdfcf 49.2%,#f7b596 49.5%,#c6413e 49.8%,#67001f 50.2%,#67001f 51.1%,#6b0120 51.5%,#e17860 51.8%,#facbb3 52.1%,#fbe4d6 52.4%,#f9ebe3 52.8%,#f8f3f0 53.4%,#f7f5f4 53.7%,#f7f7f7 54.1%,#f2f5f6 55%,#f1f4f6 56.3%,#f1f4f6 95.6%,#f7f7f7 97.2%,#f7f5f4 98.2%,#f6f7f7 99.2%,#f2f5f6 100%)}.g15b{background:linear-gradient(90deg,#edf2f5 0%,#f6f7f7 2.1%,#f7f5f4 3.1%,#f7f6f6 4.1%,#f0f4f6 6%,#f0f4f6 9.3%,#f0f4f6 44.3%,#f1f4f6 46.3%,#f6f7f7 47.6%,#f7f5f4 47.9%,#f9efea 48.5%,#faeae1 48.9%,#fce2d2 49.2%,#f8bea2 49.5%,#d05447 49.8%,#67001f 50.2%,#67001f 51.1%,#800823 51.5%,#e7886b 51.8%,#fcd3bc 52.1%,#fbe6da 52.4%,#f9ede5 52.8%,#f7f6f5 53.7%,#f0f4f6 55.4%,#f0f4f6 57.3%,#f0f4f6 94.3%,#f2f5f6 95.9%,#f6f7f7 96.9%,#f7f5f4 97.9%,#f7f6f6 98.9%,#f3f5f6 100%)}.g15c{background:linear-gradient(90deg,#eef3f5 0%,#f6f7f7 2.1%,#f7f5f4 2.8%,#f7f5f4 3.7%,#f6f7f7 4.4%,#f0f4f6 6%,#eff3f5 8%,#eff3f5 44.6%,#f0f4f6 46.3%,#f6f7f7 47.6%,#f7f5f4 47.9%,#f8f3f0 48.2%,#f9ebe3 48.9%,#fbe3d5 49.2%,#f9c6ac 49.5%,#d86551 49.8%,#67001f 50.2%,#67001f 51.1%,#950f26 51.5%,#ee9677 51.8%,#fdd8c3 52.1%,#fae7dc 52.4%,#f8f1ed 53.1%,#f7f6f6 53.7%,#f1f4f6 55%,#eff3f5 56.7%,#eff3f5 94%,#f2f5f6 95.9%,#f7f6f6 97.2%,#f7f5f4 97.9%,#f7f6f6 99.2%,#f4f6f6 100%)}.g15d{background:linear-gradient(90deg,#eff3f5 0%,#f6f7f7 2.1%,#f7f5f4 2.8%,#f7f5f4 3.7%,#f6f7f7 4.4%,#f0f4f6 6%,#eff3f5 8%,#eff3f5 45%,#f2f5f6 46.9%,#f6f7f7 47.6%,#f7f5f4 47.9%,#f9f0eb 48.5%,#f9ebe3 48.9%,#fbe5d7 49.2%,#fbccb4 49.5%,#df765e 49.8%,#68001f 50.2%,#67001f 51.1%,#ab162a 51.5%,#f3a381 51.8%,#fddcc9 52.1%,#fae8dd 52.4%,#f9eee7 52.8%,#f7f6f6 53.7%,#f0f4f6 55%,#eff3f5 56.3%,#eff3f5 94%,#f2f5f6 95.9%,#f7f6f6 97.2%,#f7f5f4 97.6%,#f7f5f4 98.9%,#f5f6f7 100%)}.g15e{background:linear-gradient(90deg,#f0f4f6 0%,#f7f6f6 2.4%,#f7f5f4 3.7%,#f6f7f7 4.4%,#f0f4f6 6%,#eff3f5 7.3%,#eff3f5 45%,#f2f5f6 46.9%,#f6f7f7 47.6%,#f7f5f4 47.9%,#f9f0eb 48.5%,#fbe6d9 49.2%,#fcd3bc 49.5%,#e6866a 49.8%,#7c0722 50.2%,#67001f 50.5%,#67001f 51.1%,#ba2833 51.5%,#f5ae8d 51.8%,#fcdecc 52.1%,#fae8de 52.4%,#f9eee7 52.8%,#f7f6f6 53.7%,#f0f4f6 55%,#eff3f5 56.3%,#eff3f5 94%,#f2f5f6 95.9%,#f7f6f6 97.2%,#f7f5f4 97.6%,#f7f5f4 98.9%,#f5f6f7 100%)}.g15f{background:linear-gradient(90deg,#f0f4f6 0%,#f7f6f6 2.4%,#f7f5f4 3.7%,#f6f7f7 4.4%,#f0f4f6 6%,#eff3f5 7.3%,#eff3f5 45%,#f2f5f6 46.9%,#f6f7f7 47.6%,#f7f5f4 47.9%,#f9f0eb 48.5%,#fbe6da 49.2%,#fdd9c4 49.5%,#ee9677 49.8%,#930e26 50.2%,#67001f 50.5%,#67001f 51.1%,#c63f3d 51.5%,#f7b89a 51.8%,#fce0d0 52.1%,#fae9df 52.4%,#f8f4f2 53.4%,#f7f6f6 53.7%,#f0f4f6 55%,#eff3f5 56.3%,#eff3f5 94%,#f2f5f6 95.9%,#f7f6f6 97.2%,#f7f5f4 97.6%,#f7f5f4 98.9%,#f5f6f7 100%)}.g160{background:linear-gradient(90deg,#f0f4f6 0%,#f7f6f6 2.4%,#f7f5f4 3.7%,#f6f7f7 4.4%,#f0f4f6 6%,#eff3f5 7.3%,#eff3f5 45%,#f2f5f6 46.9%,#f6f7f7 47.6%,#f7f5f4 47.9%,#f9f0eb 48.5%,#fae7dc 49.2%,#fddcc9 49.5%,#f4a684 49.8%,#ae192b 50.2%,#67001f 50.5%,#67001f 51.1%,#d15648 51.5%,#f9c1a6 51.8%,#fce2d2 52.1%,#fae9df 52.4%,#f9eee7 52.8%,#f7f6f6 53.7%,#f0f4f6 55%,#eff3f5 56.3%,#eff3f5 94%,#f2f5f6 95.9%,#f7f6f6 97.2%,#f7f5f4 97.6%,#f7f5f4 98.9%,#f5f6f7 100%)}.g161{background:linear-gradient(90deg,#f0f4f6 0%,#f7f6f6 2.4%,#f7f5f4 3.7%,#f6f7f7 4.4%,#f0f4f6 6%,#eff3f5 7.3%,#eff3f5 45%,#f2f5f6 46.9%,#f6f7f7 47.6%,#f7f5f4 47.9%,#f9ede5 48.9%,#fae7dc 49.2%,#fcdecd 49.5%,#f6b191 49.8%,#bd2d35 50.2%,#67001f 50.5%,#67001f 51.1%,#da6a55 51.5%,#fac9b0 51.8%,#fbe3d5 52.1%,#fae9df 52.4%,#f9eee7 52.8%,#f7f6f6 53.7%,#f0f4f6 55%,#eff3f5 56.3%,#eff3f5 94%,#f2f5f6 95.9%,#f7f6f6 97.2%,#f7f5f4 97.6%,#f7f5f4 98.9%,#f5f6f7 100%)}.g162{background:linear-gradient(90deg,#f0f4f6 0%,#f7f6f6 2.4%,#f7f5f4 3.7%,#f6f7f7 4.4%,#f0f4f6 6%,#eff3f5 7.3%,#eff3f5 45%,#f2f5f6 46.9%,#f6f7f7 47.6%,#f7f5f4 47.9%,#f9ede5 48.9%,#fae8de 49.2%,#fce0d0 49.5%,#f8bb9e 49.8%,#c94741 50.2%,#67001f 50.5%,#67001f 50.8%,#7a0622 51.1%,#e37f65 51.5%,#fbd0b9 51.8%,#fbe4d6 52.1%,#f9eee7 52.8%,#f7f6f6 53.7%,#f0f4f6 55%,#eff3f5 56.3%,#eff3f5 94%,#f2f5f6 95.9%,#f7f6f6 97.2%,#f7f5f4 97.6%,#f7f5f4 98.9%,#f5f6f7 100%)}.g163{background:linear-gradient(90deg,#f0f4f6 0%,#f7f6f6 2.4%,#f7f5f4 3.7%,#f6f7f7 4.4%,#f0f4f6 6%,#eff3f5 7.3%,#eff3f5 45%,#f2f5f6 46.9%,#f6f7f7 47.6%,#f7f5f4 47.9%,#f9ede5 48.9%,#fae8de 49.2%,#fce2d2 49.5%,#f9c4a9 49.8%,#d55f4d 50.2%,#68001f 50.5%,#67001f 50.8%,#970f27 51.1%,#eb9172 51.5%,#fcd6c1 51.8%,#fbe5d8 52.1%,#f9eee7 52.8%,#f7f6f6 53.7%,#f0f4f6 55%,#eff3f5 56.3%,#eff3f5 94%,#f2f5f6 95.9%,#f7f6f6 97.2%,#f7f5f4 97.6%,#f7f5f4 98.9%,#f5f6f7 100%)}.g164{background:linear-gradient(90deg,#f0f4f6 0%,#f7f6f6 2.4%,#f7f5f4 3.7%,#f6f7f7 4.4%,#f0f4f6 6%,#eff3f5 7.3%,#eff3f5 45%,#f2f5f6 46.9%,#f6f7f7 47.6%,#f7f5f4 47.9%,#f9ede5 48.9%,#fbe3d4 49.5%,#fbccb4 49.8%,#df755d 50.2%,#7e0723 50.5%,#67001f 50.8%,#b21c2d 51.1%,#f2a17f 51.5%,#fddbc7 51.8%,#fbe5d8 52.1%,#faeae1 52.4%,#f7f6f6 53.7%,#f0f4f6 55%,#eff3f5 56.3%,#eff3f5 94%,#f2f5f6 95.9%,#f7f6f6 97.2%,#f7f5f4 97.6%,#f7f5f4 98.9%,#f5f6f7 100%)}.g165{background:linear-gradient(90deg,#f0f4f6 0%,#f7f6f6 2.4%,#f7f5f4 3.7%,#f6f7f7 4.4%,#f0f4f6 6%,#eff3f5 7.3%,#eff3f5 45%,#f2f5f6 46.9%,#f6f7f7 47.6%,#f7f5f4 47.9%,#f9ede5 48.9%,#fbe3d5 49.5%,#fcd3bc 49.8%,#e8896c 50.2%,#9d1128 50.5%,#6c0220 50.8%,#c13639 51.1%,#f6af8e 51.5%,#fdddcb 51.8%,#fbe6da 52.1%,#faeae1 52.4%,#f7f6f6 53.7%,#f0f4f6 55%,#eff3f5 56.3%,#eff3f5 94%,#f2f5f6 95.9%,#f7f6f6 97.2%,#f7f5f4 97.6%,#f7f5f4 98.9%,#f5f6f7 100%)}.g166{background:linear-gradient(90deg,#f0f4f6 0%,#f7f6f6 2.4%,#f7f5f4 3.7%,#f6f7f7 4.4%,#f0f4f6 6%,#eff3f5 7.3%,#eff3f5 45%,#f2f5f6 46.9%,#f6f7f7 47.6%,#f7f5f4 47.9%,#f9ede5 48.9%,#fbe4d6 49.5%,#fdd8c3 49.8%,#f09c7b 50.2%,#b51f2e 50.5%,#880b24 50.8%,#ce4f45 51.1%,#f7ba9d 51.5%,#fcdfce 51.8%,#fbe6da 52.1%,#faeae1 52.4%,#f7f6f6 53.7%,#f0f4f6 55%,#eff3f5 56.3%,#eff3f5 94%,#f2f5f6 95.9%,#f7f6f6 97.2%,#f7f5f4 97.6%,#f7f5f4 98.9%,#f5f6f7 100%)}.g167{background:linear-gradient(90deg,#f0f4f6 0%,#f7f6f6 2.4%,#f7f5f4 3.7%,#f6f7f7 4.4%,#f0f4f6 6%,#eff3f5 7.3%,#eff3f5 45%,#f2f5f6 46.9%,#f6f7f7 47.6%,#f7f5f4 47.9%,#f9ede5 48.9%,#fbe5d7 49.5%,#fddcc8 49.8%,#f5aa89 50.2%,#c33a3b 50.5%,#a51429 50.8%,#d96652 51.1%,#f9c3a8 51.5%,#fce0d0 51.8%,#faeae1 52.4%,#f7f6f6 53.7%,#f0f4f6 55%,#eff3f5 56.3%,#eff3f5 94%,#f2f5f6 95.9%,#f7f6f6 97.2%,#f7f5f4 97.6%,#f7f5f4 98.9%,#f5f6f7 100%)}.g168{background:linear-gradient(90deg,#f0f4f6 0%,#f7f6f6 2.4%,#f7f5f4 3.7%,#f6f7f7 4.4%,#f0f4f6 6%,#eff3f5 7.3%,#eff3f5 45%,#f2f5f6 46.9%,#f6f7f7 47.6%,#f7f5f4 47.9%,#f9ede5 48.9%,#fbe5d8 49.5%,#fcdecc 49.8%,#f7b697 50.2%,#cf5246 50.5%,#b92631 50.8%,#e27c62 51.1%,#facbb3 51.5%,#fce1d2 51.8%,#faeae1 52.4%,#f7f6f6 53.7%,#f0f4f6 55%,#eff3f5 56.3%,#eff3f5 94%,#f2f5f6 95.9%,#f7f6f6 97.2%,#f7f5f4 97.6%,#f7f5f4 98.9%,#f5f6f7 100%)}.g169{background:linear-gradient(90deg,#f0f4f6 0%,#f7f6f6 2.4%,#f7f5f4 3.7%,#f6f7f7 4.4%,#f0f4f6 6%,#eff3f5 7.3%,#eff3f5 45%,#f2f5f6 46.9%,#f6f7f7 47.6%,#f7f6f5 47.9%,#f8f1ec 48.5%,#fbe6da 49.5%,#fce1d1 49.8%,#f9c3a8 50.2%,#db6d57 50.5%,#c7433f 50.8%,#ec9374 51.1%,#fcd5c0 51.5%,#fbe4d6 51.8%,#fae8de 52.1%,#f8f2ee 53.1%,#f7f6f6 53.7%,#f0f4f6 55%,#eff3f5 56.3%,#eff3f5 94%,#f2f5f6 95.9%,#f7f6f6 97.2%,#f7f5f4 97.6%,#f7f5f4 98.9%,#f5f6f7 100%)}.g16a{background:linear-gradient(90deg,#f0f4f6 0%,#f7f6f6 2.4%,#f7f5f4 3.7%,#f6f7f7 4.4%,#f0f4f6 6%,#eff3f5 7.3%,#eff3f5 45%,#f0f4f6 46.6%,#f7f7f6 47.9%,#f9f0eb 48.9%,#fbe6d9 49.8%,#fcd3bd 50.2%,#e8896d 50.5%,#d76350 50.8%,#f5ab8a 51.1%,#fcdfcd 51.5%,#fae8dd 51.8%,#f8f4f1 53.1%,#f6f7f7 53.7%,#f0f4f6 55%,#eff3f5 56.3%,#eff3f5 94%,#f2f5f6 95.9%,#f7f6f6 97.2%,#f7f5f4 97.6%,#f7f5f4 98.9%,#f5f6f7 100%)}.g16b{background:linear-gradient(90deg,#f0f4f6 0%,#f7f6f6 2.4%,#f7f5f4 3.7%,#f6f7f7 4.4%,#f0f4f6 6%,#eff3f5 7.3%,#eff3f5 45.3%,#f0f4f6 46.6%,#f7f7f6 48.2%,#faebe3 49.8%,#fce0d0 50.2%,#f5ad8d 50.5%,#e98c6f 50.8%,#f9c5ab 51.1%,#fbe6da 51.5%,#f9ede5 51.8%,#f7f7f7 53.4%,#f1f4f6 54.7%,#eff3f5 56.3%,#eff3f5 94%,#f2f5f6 95.9%,#f7f6f6 97.2%,#f7f5f4 97.6%,#f7f5f4 98.9%,#f5f6f7 100%)}.g16c{background:linear-gradient(90deg,#f0f4f6 0%,#f7f6f6 2.4%,#f7f5f4 3.7%,#f6f7f7 4.4%,#f0f4f6 6%,#eff3f5 7.3%,#eff3f5 45.3%,#f0f4f6 46.9%,#f7f7f7 48.5%,#f8f1ed 49.8%,#faeae1 50.2%,#fbd1bb 50.5%,#f8bda1 50.8%,#fcdfce 51.1%,#f9eee8 51.5%,#f8f2ee 51.8%,#f6f6f7 53.1%,#f2f5f6 54.1%,#eff3f5 56%,#eff3f5 94%,#f2f5f6 95.9%,#f7f6f6 97.2%,#f7f5f4 97.6%,#f7f5f4 98.9%,#f5f6f7 100%)}.g16d{background:linear-gradient(90deg,#f0f4f6 0%,#f7f6f6 2.4%,#f7f5f4 3.7%,#f6f7f7 4.4%,#f0f4f6 6%,#eff3f5 7.3%,#eff3f5 45.6%,#f0f4f6 47.2%,#f6f6f7 49.2%,#f7f6f5 49.8%,#f8f3f0 50.2%,#fae8de 50.5%,#fce2d2 50.8%,#f9ede6 51.1%,#f7f5f4 51.5%,#f6f6f7 52.1%,#eff3f5 55.7%,#eff3f5 94%,#f2f5f6 95.9%,#f7f6f6 97.2%,#f7f5f4 97.6%,#f7f5f4 98.9%,#f5f6f7 100%)}.g16e{background:linear-gradient(90deg,#f0f4f6 0%,#f6f7f7 2.1%,#f7f5f4 2.8%,#f6f7f7 4.7%,#f0f4f6 6%,#eff3f5 7.3%,#eff3f5 43.7%,#f4f6f6 50.2%,#f7f3f1 50.8%,#f5f5f5 51.1%,#f3f5f6 51.5%,#eff3f5 57.6%,#eff3f5 94%,#f2f5f6 95.9%,#f7f6f6 97.2%,#f7f5f4 97.6%,#f7f5f4 98.9%,#f5f6f7 100%)}.g16f{background:linear-gradient(90deg,#f0f4f6 0%,#f6f7f7 2.1%,#f7f5f4 2.8%,#f6f7f7 4.7%,#f0f4f6 6%,#eff3f5 7.3%,#eff3f5 43%,#f3f5f6 47.9%,#f2f5f6 50.2%,#eff3f6 50.8%,#f2f5f6 51.5%,#f3f5f6 54.1%,#eff3f5 58.3%,#eff3f5 94%,#f2f5f6 95.9%,#f7f6f6 97.2%,#f7f5f4 97.6%,#f7f5f4 98.9%,#f5f6f7 100%)}.g170{background:linear-gradient(90deg,#f0f4f6 0%,#f6f7f7 2.1%,#f7f5f4 2.8%,#f6f7f7 4.7%,#f0f4f6 6%,#eff3f5 7.3%,#eff3f5 42.7%,#f0f4f6 44.6%,#f6f6f7 46.9%,#f6f6f7 48.5%,#f1f4f6 50.5%,#c7e0ed 50.8%,#f2f5f6 51.1%,#f6f6f7 52.8%,#f6f6f7 54.4%,#eff3f5 58.6%,#eff3f5 94%,#f2f5f6 95.9%,#f7f6f6 97.2%,#f7f5f4 97.6%,#f7f5f4 98.9%,#f5f6f7 100%)}.g171{background:linear-gradient(90deg,#f0f4f6 0%,#f7f6f6 2.4%,#f7f5f4 3.7%,#f6f7f7 4.4%,#f0f4f6 6%,#eff3f5 7.3%,#eff3f5 42.7%,#f0f4f6 44.3%,#f7f7f7 46.3%,#f8f4f2 48.2%,#f7f7f7 49.5%,#f4f6f6 50.2%,#e2edf3 50.5%,#5ea4cc 50.8%,#f1f4f6 51.1%,#f7f7f6 52.1%,#f8f4f2 53.4%,#f6f6f7 55.4%,#f0f4f6 57.3%,#eff3f5 58.9%,#eff3f5 94%,#f2f5f6 95.9%,#f7f6f6 97.2%,#f7f5f4 97.6%,#f7f5f4 98.9%,#f5f6f7 100%)}.g172{background:linear-gradient(90deg,#f0f4f6 0%,#f7f6f6 2.4%,#f7f5f4 3.7%,#f6f7f7 4.4%,#f0f4f6 6%,#eff3f5 7.3%,#eff3f5 42.4%,#f0f4f6 44%,#f6f7f7 45.6%,#f8f1ed 47.6%,#f8f1ed 48.2%,#f6f6f7 50.2%,#c5dfec 50.5%,#3986bc 50.8%,#e9f0f4 51.1%,#f7f7f7 51.5%,#f8f1ed 53.4%,#f8f2ef 54.4%,#f6f6f7 56%,#f0f4f6 57.6%,#eff3f5 59.3%,#eff3f5 94%,#f2f5f6 95.9%,#f7f6f6 97.2%,#f7f5f4 97.6%,#f7f5f4 98.9%,#f5f6f7 100%)}.g173{background:linear-gradient(90deg,#f0f4f6 0%,#f7f6f6 2.4%,#f7f5f4 3.7%,#f6f7f7 4.4%,#f0f4f6 6%,#eff3f5 7.3%,#eff3f5 42.4%,#f2f5f6 44.3%,#f6f7f7 45.3%,#f9eee7 47.6%,#f9eee7 48.2%,#f8f5f3 49.8%,#f4f6f6 50.2%,#a0cce2 50.5%,#2f78b5 50.8%,#dbeaf2 51.1%,#f7f6f5 51.5%,#f8f1ed 52.4%,#f9eee7 53.4%,#f9eee7 54.1%,#f7f7f6 56%,#f6f6f7 56.3%,#f1f4f6 57.6%,#eff3f5 59.3%,#eff3f5 94%,#f2f5f6 95.9%,#f7f6f6 97.2%,#f7f5f4 97.6%,#f7f5f4 98.9%,#f5f6f7 100%)}.g174{background:linear-gradient(90deg,#f0f4f6 0%,#f6f7f7 2.1%,#f7f5f4 2.8%,#f6f7f7 4.7%,#f0f4f6 6%,#eff3f5 7.3%,#eff3f5 42%,#f0f4f6 43.7%,#f6f6f7 45%,#f7f6f6 45.3%,#f9ede5 46.9%,#faeae1 47.6%,#f9ebe3 48.5%,#f8f3f0 49.8%,#f0f4f6 50.2%,#7eb8d7 50.5%,#256caf 50.8%,#c7e0ed 51.1%,#f7f6f5 51.5%,#f8f2ef 51.8%,#f9ede5 52.8%,#faeae1 53.4%,#faeae1 54.1%,#f8f4f1 55.7%,#f7f7f6 56.3%,#f5f6f7 56.7%,#f0f4f6 58%,#eff3f5 60.2%,#eff3f5 94%,#f2f5f6 95.9%,#f7f6f6 97.2%,#f7f5f4 97.6%,#f7f5f4 98.9%,#f5f6f7 100%)}.g175{background:linear-gradient(90deg,#f0f4f6 0%,#f7f6f6 2.4%,#f7f5f4 3.7%,#f6f7f7 4.4%,#f0f4f6 6%,#eff3f5 7.3%,#eff3f5 42%,#f2f5f6 44%,#f7f7f7 45%,#fae7dc 47.6%,#fae8de 48.5%,#f9eee8 49.5%,#f8f2ee 49.8%,#e9f0f4 50.2%,#5ba2cb 50.5%,#1d5fa2 50.8%,#acd2e5 51.1%,#f6f6f7 51.5%,#f8f0eb 51.8%,#fae9df 52.8%,#fae7dc 53.7%,#faebe2 54.7%,#f7f6f5 56.3%,#f6f7f7 56.7%,#f0f4f6 58%,#eff3f5 59.6%,#eff3f5 94%,#f2f5f6 95.9%,#f7f6f6 97.2%,#f7f5f4 97.6%,#f7f5f4 98.9%,#f5f6f7 100%)}.g176{background:linear-gradient(90deg,#f0f4f6 0%,#f6f7f7 2.1%,#f7f5f4 2.8%,#f6f7f7 4.7%,#f0f4f6 6%,#eff3f5 7.3%,#eff3f5 42%,#f2f5f6 44%,#f6f6f7 44.6%,#f7f6f6 45%,#f8f4f2 45.3%,#fae7dc 46.9%,#fbe4d7 47.9%,#fae8dd 48.9%,#f9ede6 49.5%,#f8f1ed 49.8%,#e0ecf3 50.2%,#408ec1 50.5%,#15508d 50.8%,#91c4dd 51.1%,#f2f5f6 51.5%,#f9efe9 51.8%,#fbe5d9 53.1%,#fbe4d7 53.7%,#fbe6da 54.4%,#f7f7f7 56.7%,#f1f4f6 58%,#eff3f5 59.6%,#eff3f5 94%,#f2f5f6 95.9%,#f7f6f6 97.2%,#f7f5f4 97.6%,#f7f5f4 98.9%,#f5f6f7 100%)}.g177{background:linear-gradient(90deg,#f0f4f6 0%,#f7f6f6 2.4%,#f7f5f4 3.7%,#f6f7f7 4.4%,#f0f4f6 6%,#eff3f5 7.3%,#eff3f5 42%,#f0f4f6 43.3%,#f6f7f7 44.6%,#f8f1ed 45.6%,#fae8dd 46.6%,#fbe2d4 47.6%,#fbe3d5 48.5%,#f9ebe3 49.5%,#f8f2ef 49.8%,#d4e7f1 50.2%,#337eb8 50.5%,#0e4179 50.8%,#71b0d3 51.1%,#ebf1f5 51.5%,#f9efe9 51.8%,#faeae1 52.1%,#fbe5d8 52.8%,#fce2d3 53.4%,#fce2d3 53.7%,#fbe4d7 54.4%,#f8f2ef 56%,#f7f6f6 56.7%,#f5f6f7 57%,#f2f5f6 57.6%,#eff3f5 59.6%,#eff3f5 94%,#f2f5f6 95.9%,#f7f6f6 97.2%,#f7f5f4 97.6%,#f7f5f4 98.9%,#f5f6f7 100%)}.g178{background:linear-gradient(90deg,#f0f4f6 0%,#f7f6f6 2.4%,#f7f5f4 3.7%,#f6f7f7 4.4%,#f0f4f6 6%,#eff3f5 7.3%,#eff3f5 42%,#f0f4f6 43.3%,#f6f7f7 44.6%,#f8f3f0 45.3%,#fbe4d7 46.9%,#fce0d0 47.6%,#fce2d3 48.5%,#faeae1 49.5%,#f8f4f2 49.8%,#c2ddec 50.2%,#266caf 50.5%,#063365 50.8%,#519cc8 51.1%,#e2edf3 51.5%,#f9efea 51.8%,#fae9df 52.1%,#fbe3d5 52.8%,#fce1d2 53.1%,#fce0d0 53.7%,#fbe5d8 54.7%,#f8f4f2 56.3%,#f7f6f6 56.7%,#f6f7f7 57%,#f2f5f6 57.6%,#eff3f5 59.6%,#eff3f5 94%,#f2f5f6 95.9%,#f7f6f6 97.2%,#f7f5f4 97.6%,#f7f5f4 98.9%,#f5f6f7 100%)}.g179{background:linear-gradient(90deg,#f0f4f6 0%,#f6f7f7 1.8%,#f7f5f4 3.7%,#f6f7f7 4.4%,#f0f4f6 6%,#eff3f5 7.6%,#eff3f5 42%,#f0f4f6 43.3%,#f6f7f7 44.6%,#f9f0eb 45.6%,#fbe3d5 46.9%,#fcdfcf 47.6%,#fcdfcf 48.2%,#fbe6da 49.2%,#faebe2 49.5%,#f6f6f6 49.8%,#acd2e5 50.2%,#1b5a9c 50.5%,#053061 50.8%,#3c8abe 51.1%,#d8e8f1 51.5%,#f8f1ed 51.8%,#fae9de 52.1%,#fbe5d8 52.4%,#fce0d0 53.1%,#fcdfcf 53.7%,#fce2d2 54.4%,#f8f1ed 56%,#f6f7f7 57%,#f2f5f6 57.6%,#eff3f5 59.6%,#eff3f5 94%,#f2f5f6 95.9%,#f7f6f6 97.2%,#f7f5f4 97.6%,#f7f5f4 98.9%,#f5f6f7 100%)}.g17a{background:linear-gradient(90deg,#f0f4f6 0%,#f6f7f7 1.8%,#f7f5f4 3.7%,#f6f7f7 4.7%,#f0f4f6 6%,#eff3f5 7.6%,#eff3f5 42%,#f0f4f6 43.3%,#f6f7f7 44.6%,#f9f0eb 45.6%,#fbe3d4 46.9%,#fcdfcf 47.6%,#fcdfcf 48.2%,#fbe6da 49.2%,#f9ece4 49.5%,#eff3f5 49.8%,#94c6df 50.2%,#114781 50.5%,#053061 50.8%,#2f79b5 51.1%,#c9e1ee 51.5%,#f8f4f2 51.8%,#fae9df 52.1%,#fbe5d8 52.4%,#fce0d0 53.1%,#fcdfcf 53.7%,#fbe4d6 54.7%,#f8f1ed 56%,#f6f7f7 57%,#f2f5f6 57.6%,#eff3f5 59.6%,#eff3f5 94%,#f2f5f6 95.9%,#f7f6f6 97.2%,#f7f5f4 97.6%,#f7f5f4 98.9%,#f5f6f7 100%)}.g17b{background:linear-gradient(90deg,#f0f4f6 0%,#f6f7f7 1.8%,#f7f5f4 3.7%,#f6f7f7 4.7%,#f0f4f6 6%,#eff3f5 7.6%,#eff3f5 42%,#f0f4f6 43.3%,#f6f7f7 44.6%,#f9f0eb 45.6%,#fbe3d5 46.9%,#fcdfcf 47.6%,#fcdfcf 48.2%,#fbe4d6 48.9%,#fae7dc 49.2%,#f9eee7 49.5%,#e7eff4 49.8%,#78b4d5 50.2%,#083669 50.5%,#053061 50.8%,#2267ab 51.1%,#b3d6e8 51.5%,#f6f6f6 51.8%,#faeae1 52.1%,#fbe5d9 52.4%,#fce0d0 53.1%,#fcdfcf 53.7%,#fbe4d6 54.7%,#f8f1ed 56%,#f6f7f7 57%,#f2f5f6 57.6%,#eff3f5 59.6%,#eff3f5 93.7%,#f2f5f6 95.9%,#f7f6f6 97.2%,#f7f5f4 97.6%,#f7f5f4 98.9%,#f5f6f7 100%)}.g17c{background:linear-gradient(90deg,#f0f4f6 0%,#f7f6f6 2.1%,#f7f5f4 3.7%,#f6f7f7 4.7%,#f0f4f6 6.3%,#eff3f5 8.6%,#eff3f5 42%,#f0f4f6 43.3%,#f6f7f7 44.6%,#f8f3f0 45.3%,#fbe6da 46.6%,#fcdfcf 47.6%,#fce0cf 48.2%,#fbe4d6 48.9%,#fae7dc 49.2%,#f9f0eb 49.5%,#ddebf2 49.8%,#5aa1cb 50.2%,#053061 50.5%,#053061 50.8%,#185493 51.1%,#a0cce2 51.5%,#eff3f6 51.8%,#f9ece4 52.1%,#fbe6da 52.4%,#fbe3d4 52.8%,#fce0d0 53.1%,#fcdfcf 53.7%,#fce2d2 54.4%,#f7f6f6 56.7%,#f6f7f7 57%,#f2f5f6 57.6%,#eff3f5 59.3%,#eff3f5 92.7%,#f0f4f6 95.3%,#f7f6f6 97.2%,#f8f5f3 98.2%,#f5f6f7 100%)}.g17d{background:linear-gradient(90deg,#f0f4f6 0%,#f6f7f7 1.8%,#f8f4f2 3.4%,#f6f7f7 4.7%,#f0f4f6 6.3%,#eff3f5 42.4%,#f0f4f6 43.3%,#f6f7f7 44.6%,#f8f3f0 45.3%,#fbe4d6 46.9%,#fcdfcf 47.9%,#fce2d2 48.5%,#fbe4d7 48.9%,#fae9de 49.2%,#f8f3f0 49.5%,#d3e6f0 49.8%,#408fc1 50.2%,#053061 50.5%,#053061 50.8%,#0d3f76 51.1%,#86bdda 51.5%,#e7f0f4 51.8%,#f9eee7 52.1%,#fbe6da 52.4%,#fbe3d5 52.8%,#fcdfcf 53.7%,#fbe2d4 54.4%,#fae7dc 55%,#f8f4f2 56.3%,#f7f6f6 56.7%,#f5f6f7 57%,#f1f4f6 58%,#eff3f5 59.3%,#f0f4f6 95.3%,#f6f7f7 96.9%,#f8f4f2 98.2%,#f5f6f7 100%)}.g17e{background:linear-gradient(90deg,#f1f4f6 0%,#f6f7f7 1.8%,#f8f4f2 3.4%,#f6f7f7 4.7%,#f0f4f6 6.7%,#eff3f5 42.7%,#f0f4f6 43.7%,#f6f6f7 44.6%,#f7f6f5 45%,#f8f1ec 45.6%,#fbe4d7 46.9%,#fce1d1 47.6%,#fce1d1 48.2%,#fbe3d4 48.5%,#fbe5d9 48.9%,#faeae1 49.2%,#f6f6f6 49.5%,#c2ddec 49.8%,#337db8 50.2%,#053061 50.5%,#053061 50.8%,#053162 51.1%,#68abd0 51.5%,#deebf2 51.8%,#f8f1ed 52.1%,#fae8dd 52.4%,#fce2d3 53.1%,#fce0d0 53.7%,#fce1d2 54.1%,#fbe5d9 54.7%,#f8f4f2 56.3%,#f7f6f6 56.7%,#f5f6f7 57%,#eff3f5 58.6%,#eff3f5 62.2%,#f0f4f6 95%,#f7f6f6 97.2%,#f8f4f2 97.9%,#f8f4f2 98.5%,#f6f6f7 100%)}.g17f{background:linear-gradient(90deg,#f2f5f6 0%,#f7f7f7 1.8%,#f8f4f2 2.8%,#f8f4f2 3.7%,#f7f7f7 4.7%,#f2f5f6 6%,#f0f4f6 7.6%,#f0f4f6 38.8%,#eef3f5 42.7%,#f1f4f6 44%,#f7f7f6 45%,#fbe6d9 46.9%,#fbe3d5 47.2%,#fce2d3 47.9%,#fbe4d7 48.5%,#fae7dc 48.9%,#f9ede6 49.2%,#eff3f5 49.5%,#acd2e5 49.8%,#246aad 50.2%,#053061 50.5%,#053061 51.1%,#4996c5 51.5%,#d3e6f0 51.8%,#f7f5f4 52.1%,#faeae1 52.4%,#fbe6d9 52.8%,#fbe3d5 53.1%,#fce2d3 53.4%,#fbe3d4 54.1%,#fae7db 54.7%,#f7f6f5 56.3%,#f6f6f7 56.7%,#eff3f6 58%,#eef3f5 59.9%,#f0f4f6 62.5%,#f0f4f6 94%,#f2f5f6 95.6%,#f6f7f7 96.6%,#f8f4f2 97.9%,#f8f4f2 98.5%,#f6f7f7 100%)}.g180{background:linear-gradient(90deg,#f3f5f6 0%,#f6f7f7 1.5%,#f8f3f0 3.1%,#f8f4f1 3.7%,#f6f7f7 5%,#f2f5f6 7%,#f2f5f6 35.2%,#edf2f5 43.3%,#f5f6f7 45%,#f7f6f6 45.3%,#faeae1 46.6%,#fbe5d8 47.6%,#fbe5d9 48.2%,#faeae1 48.9%,#f8f2ee 49.2%,#e5eef4 49.5%,#93c5de 49.8%,#175290 50.2%,#053061 50.5%,#053061 51.1%,#3681ba 51.5%,#bfdceb 51.8%,#f1f4f6 52.1%,#f9eee8 52.4%,#fae9de 52.8%,#fbe6da 53.1%,#fbe5d8 54.1%,#f9ebe3 55%,#f8f2ef 55.7%,#f6f6f7 56.3%,#eef3f5 57.6%,#edf2f5 59.6%,#f2f5f6 66.1%,#f2f5f6 94.6%,#f6f6f7 96.3%,#f8f3f0 98.5%,#f7f7f6 100%)}.g181{background:linear-gradient(90deg,#f4f6f6 0%,#f7f7f7 1.1%,#f8f2ef 3.1%,#f6f6f7 5.7%,#f3f5f6 7.6%,#f3f5f6 36.5%,#ebf1f5 41.4%,#eaf1f5 43.7%,#ecf2f5 44.3%,#f6f6f6 45.6%,#f9ede5 46.9%,#faeae0 47.9%,#faebe2 48.2%,#f8f0eb 48.9%,#f4f5f6 49.2%,#d6e7f1 49.5%,#6bacd1 49.8%,#08366a 50.2%,#053061 50.5%,#053061 51.1%,#2368aa 51.5%,#a1cde2 51.8%,#e4eef4 52.1%,#f7f4f2 52.4%,#f9efea 52.8%,#f9ece4 53.1%,#faeae0 53.7%,#f9ebe3 54.4%,#f7f5f4 55.7%,#f5f6f6 56%,#eaf1f5 57.6%,#ebf1f5 59.6%,#f3f5f6 65.1%,#f3f5f6 94%,#f6f6f7 95.9%,#f8f2ef 98.2%,#f7f6f5 100%)}.g182{background:linear-gradient(90deg,#f7f7f7 0%,#f7f6f5 1.1%,#f8f1ec 2.8%,#f8f1ec 3.7%,#f7f7f7 6%,#f5f6f7 36.2%,#f4f5f6 37.8%,#e9f0f4 41.4%,#e4eef4 43.7%,#e5eff4 44.6%,#eef3f5 46.3%,#f1f3f4 46.9%,#f1f3f3 47.9%,#edf2f4 48.5%,#e7f0f4 48.9%,#d8e8f1 49.2%,#a8d0e4 49.5%,#3681ba 49.8%,#053061 50.2%,#053061 51.1%,#0c3d73 51.5%,#63a7ce 51.8%,#c1ddeb 52.1%,#e0ecf3 52.4%,#eaf1f5 52.8%,#f0f2f3 53.4%,#f2f3f3 54.4%,#f0f3f5 55%,#e6eff4 56.7%,#e4eef4 57.6%,#e7f0f4 59.6%,#f4f5f6 63.5%,#f5f6f7 65.4%,#f7f7f7 95.3%,#f8f1ec 97.9%,#f8f1ec 98.5%,#f8f4f2 100%)}.g183{background:linear-gradient(90deg,#f7f5f4 0%,#f9efe9 2.8%,#f9eee8 3.4%,#f7f5f4 6%,#f7f6f5 7.6%,#f7f5f4 36.5%,#f6f6f7 38.5%,#f2f5f6 39.4%,#e7f0f4 41.1%,#dceaf2 43.3%,#cde3ef 45.3%,#b8d8e9 47.2%,#a6cee3 48.2%,#9ec9e1 48.5%,#8ec1dc 48.9%,#72aed2 49.2%,#3c81b6 49.5%,#0a3b70 49.8%,#053061 50.2%,#053061 51.5%,#18538d 51.8%,#5397c5 52.1%,#7fb8d7 52.4%,#96c5de 52.8%,#a8cfe4 53.4%,#b5d6e8 54.1%,#c8e1ed 55.7%,#d9e9f2 57.6%,#e6eff4 60.2%,#f2f5f6 62.2%,#f6f6f7 63.1%,#f7f5f4 64.8%,#f7f6f5 94%,#f7f5f4 95.3%,#f9eee8 98.2%,#f9efe9 98.9%,#f8f2ef 100%)}.g184{background:linear-gradient(90deg,#f8f2ef 0%,#f8f1ed 1.1%,#f9ebe3 2.8%,#f9ebe3 3.7%,#f8f1ec 5.4%,#f8f3f0 7%,#f9eee7 36.5%,#f9f0eb 38.1%,#f7f5f4 39.4%,#f5f6f6 39.8%,#deebf2 41.7%,#d5e7f1 42.7%,#cbe2ee 43.3%,#c4deec 43.7%,#a3cee3 44.6%,#95c5de 45%,#72b0d3 45.6%,#63a5cd 45.9%,#458bbf 46.6%,#24649b 47.6%,#1b568d 48.2%,#0c3d73 49.2%,#053061 49.5%,#053061 51.8%,#063264 52.1%,#0e4179 52.4%,#215f97 53.7%,#28689e 54.1%,#4a91c2 55%,#68a9cf 55.7%,#8abfdb 56.3%,#9bc9e0 56.7%,#a8d0e4 57%,#c6e0ed 58%,#d4e6f0 58.6%,#dfecf3 59.9%,#f6f6f6 61.9%,#f9efe9 63.8%,#f9eee7 65.1%,#f8f3f0 92.4%,#f8f2ee 95.6%,#f9ebe3 97.9%,#f9ebe3 98.5%,#f9efe9 100%)}.g185{background:linear-gradient(90deg,#f9ede5 0%,#fbe6da 2.4%,#fbe5d7 3.4%,#faebe3 6.3%,#faebe3 8.6%,#fcdfce 35.6%,#fce0d0 37.5%,#fbe5d8 38.8%,#fae7dc 39.1%,#f7f5f3 40.1%,#f1f4f6 40.4%,#dceaf2 41.4%,#d3e6f0 42%,#c5dfec 42.7%,#acd2e5 43.3%,#9ccae1 43.7%,#87beda 44%,#6eaed2 44.3%,#549cc8 44.6%,#3f89be 45%,#2c72ae 45.3%,#1c5995 45.6%,#114780 45.9%,#0a3a6f 46.3%,#063163 46.6%,#053061 46.9%,#053061 54.7%,#073467 55%,#0c3d73 55.4%,#154d87 55.7%,#2264a1 56%,#327cb7 56.3%,#5ca3cc 57%,#79b5d5 57.3%,#90c3dd 57.6%,#a2cde3 58%,#bddbea 58.6%,#d0e5f0 59.3%,#deebf2 60.2%,#f5f6f6 61.2%,#f8f3f0 61.5%,#f9eee7 61.9%,#fbe6da 62.5%,#fbe3d5 63.1%,#fce0d0 64.1%,#fcdfce 66.1%,#faebe3 93%,#faebe2 95.3%,#fbe5d7 98.2%,#fbe5d9 98.9%,#fae9de 100%)}.g186{background:linear-gradient(90deg,#fcdcca 0%,#fcdcca 0.5%,#fbd0b9 2.8%,#fbcfb8 3.4%,#fcd9c5 6.3%,#fcd9c5 8.3%,#fcd7c3 8.9%,#fcd7c3 10.9%,#fcd5c0 11.2%,#fcd5c0 13.1%,#fbd4be 13.5%,#fbceb7 21.6%,#fbccb4 22.2%,#facab1 25.5%,#fac8af 26.1%,#f8bfa4 33.3%,#f8bfa4 37.2%,#f9c4aa 38.1%,#facbb2 38.8%,#fbd1ba 39.1%,#fbe3d5 39.8%,#f7f5f4 40.4%,#edf2f5 40.7%,#e1edf3 41.1%,#bedbeb 42.4%,#b1d5e7 42.7%,#8dc2dc 43.3%,#71b0d3 43.7%,#519cc8 44%,#3885bc 44.3%,#266cad 44.6%,#144c88 45%,#083568 45.3%,#053061 45.6%,#053061 56%,#0a3b70 56.3%,#1b5999 56.7%,#2d76b4 57%,#418ec1 57.3%,#5da3cc 57.6%,#7cb7d6 58%,#95c7df 58.3%,#a8d0e4 58.6%,#c2ddec 59.3%,#dceaf2 60.2%,#f2f5f6 60.9%,#f8f1ed 61.2%,#fce0d0 61.9%,#fcd6c1 62.2%,#fbceb6 62.5%,#fac9b0 62.8%,#f9c2a7 63.8%,#f8bfa4 64.4%,#f8bfa4 68.3%,#f9c2a7 69%,#f9c2a7 70.3%,#f9c4a9 70.9%,#f9c6ac 73.9%,#fbccb4 78.1%,#fbccb4 79.4%,#fbceb7 80%,#fcd9c5 93.3%,#fcd9c5 95.3%,#fbd0b9 97.6%,#fbcfb8 98.2%,#fbd3bd 99.2%,#fcd6c2 100%)}.g187{background:linear-gradient(90deg,#f8bda0 0%,#f8bb9e 0.8%,#f5ae8d 2.8%,#f5ad8c 3.1%,#f6af8e 4.1%,#f7b99c 6.3%,#f7b99c 8.9%,#f7b495 16.4%,#f6b293 17.4%,#f6b293 19.3%,#f6b090 20%,#f6b090 21.6%,#f5ae8d 22.2%,#f5a987 28.1%,#f2a281 32.3%,#f1a07f 35.2%,#f2a280 37.2%,#f3a583 37.8%,#f6af8e 38.8%,#f7b799 39.1%,#f9c5ab 39.4%,#fcd7c2 39.8%,#fbe4d7 40.1%,#f9f0eb 40.4%,#f1f4f6 40.7%,#d6e7f1 41.4%,#b5d7e8 42.4%,#a7d0e4 42.7%,#94c6df 43%,#7ab6d6 43.3%,#59a1ca 43.7%,#3c8abe 44%,#2970b1 44.3%,#15508d 44.6%,#053061 45%,#053061 56.3%,#09386d 56.7%,#1d5ea1 57%,#317bb7 57.3%,#4392c3 57.6%,#66a9cf 58%,#84bcd9 58.3%,#9bcae1 58.6%,#add3e6 58.9%,#bad9e9 59.3%,#dae9f2 60.2%,#f7f7f7 60.9%,#fce0cf 61.5%,#f8bfa3 62.2%,#f6b394 62.5%,#f5ad8c 62.8%,#f4a685 63.5%,#f2a280 64.4%,#f1a07f 66.4%,#f2a281 69.3%,#f5a988 75.2%,#f5ac8b 75.8%,#f5ac8b 77.1%,#f5ae8d 77.8%,#f5ae8d 79.4%,#f6b090 80%,#f6b090 81.7%,#f6b293 82.3%,#f6b293 84.3%,#f7b495 85.2%,#f7b99c 92.7%,#f7b89a 95.6%,#f5ae8d 97.6%,#f5ad8c 98.2%,#f6af8e 98.9%,#f7b495 100%)}.g188{background:linear-gradient(90deg,#f8f4f1 0%,#f8f0eb 1.1%,#f9eee8 2.4%,#f9ede6 5%,#f8f4f2 28.4%,#f8f4f2 34.6%,#f8f1ed 39.4%,#f8f1ed 43.7%,#f7f6f6 50.5%,#eff3f5 58%,#ecf2f5 65.1%,#eef3f5 78.1%,#f5f5f4 93.3%,#f8f3f0 96.3%,#f9f0eb 97.2%,#faeae1 98.2%,#fbe5d8 98.9%,#fcddca 99.5%,#fcd5c0 100%)}.g189{background:linear-gradient(90deg,#f9eee8 0%,#f9ebe3 0.8%,#fae9de 2.4%,#fae7dc 6%,#f9f0eb 33%,#f9f0eb 41.7%,#f6f7f7 50.8%,#ecf2f5 61.5%,#e7f0f4 75.8%,#e9f0f4 92%,#ecf2f5 95.3%,#f3f5f6 97.2%,#f7f5f3 98.2%,#f9ece4 99.2%,#fbe3d5 100%)}.g18a{background:linear-gradient(90deg,#faeae1 0%,#fae7dc 1.1%,#fbe5d8 2.4%,#fbe4d6 5%,#f9efe9 40.4%,#f6f7f7 50.8%,#e9f0f4 64.4%,#e3edf3 83.3%,#e3eef3 94.3%,#e9f1f4 96.9%,#f6f6f6 98.5%,#f8f2ee 99.2%,#fae9df 100%)}.g18b{background:linear-gradient(90deg,#fae9de 0%,#fbe5d9 1.1%,#fbe2d4 2.8%,#fbe2d4 7%,#f9ede5 37.5%,#f8f1ed 44.6%,#f6f7f7 50.8%,#edf2f5 58.3%,#e6eff4 67.4%,#deebf2 90.4%,#dfecf3 94%,#e2edf3 95.9%,#ebf1f5 97.9%,#f5f6f7 98.9%,#f7f5f4 99.2%,#f9ece4 100%)}.g18c{background:linear-gradient(90deg,#fae7dc 0%,#fbe2d4 1.8%,#fce0d0 4.1%,#fae7db 25.5%,#f9ede5 38.8%,#f6f7f7 50.8%,#ecf2f5 59.3%,#e4eef4 68%,#dceaf2 90.1%,#deebf2 95.6%,#e6eff4 97.6%,#ebf1f5 98.2%,#f7f7f7 99.2%,#f9eee8 100%)}.g18d{background:linear-gradient(90deg,#fbe6da 0%,#fce2d3 1.5%,#fcdfcf 3.7%,#fbe6da 26.5%,#f9ebe3 38.1%,#f6f7f7 50.8%,#e4eef4 66.7%,#dae9f2 91.4%,#dae9f2 94.3%,#dfecf3 96.6%,#e9f0f4 98.2%,#f5f6f7 99.2%,#f8f5f3 99.5%,#f9f0eb 100%)}.g18e{background:linear-gradient(90deg,#fbe5d8 0%,#fce0cf 2.1%,#fcdecd 5.4%,#fbe5d8 25.8%,#f9ebe3 38.8%,#f6f7f7 50.8%,#e3edf3 67.7%,#d8e9f1 90.7%,#d9e9f1 94.3%,#ddebf2 96.6%,#e4eef4 97.9%,#f3f5f6 99.2%,#f7f6f5 99.5%,#f8f1ed 100%)}.g18f{background:linear-gradient(90deg,#fbe4d7 0%,#fcdfcf 1.8%,#fcdecb 3.7%,#fbe4d6 25.2%,#f9ebe3 39.4%,#f6f7f7 50.8%,#e3edf3 66.7%,#d7e8f1 91.4%,#d8e8f1 94.6%,#dceaf2 96.6%,#e6eff4 98.2%,#f7f6f6 99.5%,#f8f2ef 100%)}.g190{background:linear-gradient(90deg,#fbe4d6 0%,#fcdfcd 1.8%,#fdddca 4.1%,#fbe4d6 27.4%,#fae9df 37.2%,#f6f7f7 50.8%,#e7f0f4 61.5%,#e0ecf3 69.3%,#d6e7f1 90.4%,#d7e8f1 95%,#dbeaf2 96.6%,#e5eef4 98.2%,#ecf2f5 98.9%,#f6f7f7 99.5%,#f8f3f0 100%)}.g191{background:linear-gradient(90deg,#fbe4d6 0%,#fcdfcf 1.1%,#fddcc9 3.4%,#fddcc9 7%,#fbe3d4 26.8%,#fae9df 37.8%,#f6f7f7 50.8%,#e9f0f4 59.9%,#e0ecf3 68.3%,#d4e7f1 91.4%,#d5e7f1 94.6%,#dbeaf2 96.9%,#e7eff4 98.5%,#f5f6f7 99.5%,#f8f4f1 100%)}.g192{background:linear-gradient(90deg,#fbe4d6 0%,#fcdecd 1.5%,#fddbc7 4.1%,#fce0d0 23.2%,#fae8de 37.2%,#f7f6f6 50.5%,#e9f0f4 59.6%,#deebf2 69%,#d3e6f0 90.4%,#d4e7f1 95%,#d8e9f1 96.6%,#e2edf3 98.2%,#f4f5f6 99.5%,#f8f4f2 100%)}.g193{background:linear-gradient(90deg,#fbe4d6 0%,#fdddcb 1.8%,#fddac5 4.4%,#fcdfcf 22.9%,#fbe6da 35.2%,#f9ede5 42.4%,#f7f6f6 50.5%,#e7f0f4 60.2%,#deebf2 67.7%,#d8e9f1 75.8%,#d2e5f0 91.1%,#d2e6f0 94.3%,#d7e8f1 96.6%,#dceaf2 97.6%,#e4eef4 98.5%,#f3f5f6 99.5%,#f7f5f4 100%)}.g194{background:linear-gradient(90deg,#fbe5d8 0%,#fcdfcf 1.1%,#fddcc9 2.1%,#fdd9c4 3.7%,#fdd8c3 7%,#fcdfcd 23.5%,#fbe4d6 33.3%,#faeae1 40.7%,#f6f7f7 50.8%,#deebf2 66.7%,#d7e8f1 76.1%,#d0e5f0 91.7%,#d1e5f0 94.6%,#d7e8f1 96.9%,#e3eef3 98.5%,#f7f6f6 100%)}.g195{background:linear-gradient(90deg,#fbe6da 0%,#fcdecd 1.5%,#fdd9c4 3.1%,#fcd7c2 4.4%,#fcd7c2 8.3%,#fcdecd 25.2%,#fbe3d4 33%,#f9eee7 44%,#f6f7f7 50.8%,#e1edf3 63.5%,#dae9f2 69.6%,#cfe4ef 89.8%,#cfe4ef 93.7%,#d4e7f1 96.6%,#d9e9f2 97.6%,#e2edf3 98.5%,#f7f7f7 100%)}.g196{background:linear-gradient(90deg,#fae7dc 0%,#fcdfcd 1.5%,#fcd7c2 3.4%,#fcd5bf 5%,#fcd5bf 8%,#fdddca 24.5%,#fce2d2 32.6%,#fae9df 40.7%,#f6f7f7 50.8%,#e7f0f4 58.9%,#dceaf2 67%,#d4e7f1 75.5%,#cce2ef 89.8%,#cce2ef 93.7%,#d4e7f1 96.9%,#e1edf3 98.5%,#e9f1f4 99.2%,#f6f6f7 100%)}.g197{background:linear-gradient(90deg,#fae9de 0%,#fce1d1 1.1%,#fdd9c4 2.8%,#fcd3bd 5%,#fcd3bc 7.3%,#fdd8c3 19%,#fce1d1 33%,#faeae1 42%,#f6f7f7 50.8%,#dbeaf2 66.4%,#cae1ee 89.4%,#cae1ee 93.3%,#cee3ef 95.6%,#d5e7f1 97.2%,#dceaf2 98.2%,#e3eef3 98.9%,#f4f6f6 100%)}.g198{background:linear-gradient(90deg,#faeae1 0%,#fbe4d6 0.8%,#fdddcb 1.8%,#fcd7c2 3.1%,#fcd3bc 4.4%,#fbd1ba 9.9%,#fdd8c3 22.6%,#fce0d0 33.3%,#fae9df 41.7%,#f6f7f7 50.8%,#e1edf3 61.5%,#d9e9f1 67.4%,#cbe2ee 82%,#c6e0ed 90.7%,#c8e0ed 94.3%,#cbe2ee 95.6%,#d5e7f1 97.6%,#deebf2 98.5%,#f3f5f6 100%)}.g199{background:linear-gradient(90deg,#f9ece4 0%,#fae8dd 0.5%,#fcdfcf 1.5%,#fcd3bd 3.7%,#fbcfb8 6%,#fbcfb8 10.2%,#fcd6c1 23.2%,#fcdfcd 33%,#fae8de 41.4%,#f6f7f7 50.8%,#e6eff4 58.6%,#d7e8f1 67.4%,#cbe2ee 78.4%,#c4deec 89.8%,#c4deec 92.7%,#c9e1ee 95.6%,#d4e6f1 97.6%,#dceaf2 98.5%,#f1f4f6 100%)}.g19a{background:linear-gradient(90deg,#f9ede6 0%,#fbe3d4 1.1%,#fddcc9 2.1%,#fddbc7 2.4%,#fcd7c2 2.8%,#fbd0b9 4.1%,#fbcdb5 6.3%,#fbcdb5 11.2%,#fcd4be 23.9%,#fcdfcd 34.3%,#faeae1 43.3%,#f6f7f7 50.8%,#e0ecf3 61.2%,#d5e7f1 68%,#c9e1ee 77.4%,#c1ddec 88.5%,#c1ddec 93%,#c9e1ee 96.3%,#dbeaf2 98.5%,#e3eef3 99.2%,#f0f4f6 100%)}.g19b{background:linear-gradient(90deg,#f9efea 0%,#faeae1 0.5%,#fce0d0 1.5%,#fdd9c4 2.4%,#fbd0b9 3.7%,#facbb2 6.3%,#facbb2 12.5%,#fbd0b9 22.6%,#fdd8c3 30%,#fbe5d9 40.4%,#f6f7f7 50.8%,#e0ecf3 60.6%,#c9e1ee 74.5%,#c1ddec 82.3%,#bedbeb 89.8%,#bfdceb 93.3%,#c5dfec 95.9%,#cae2ee 96.9%,#d6e7f1 98.2%,#e2edf3 99.2%,#eef3f5 100%)}.g19c{background:linear-gradient(90deg,#f8f1ec 0%,#f9ebe3 0.5%,#fce0d0 1.5%,#fdd9c4 2.4%,#fbd0b9 3.7%,#facab1 5.4%,#fac8af 10.9%,#facbb3 20.9%,#fcd4be 29.4%,#fddbc8 33.3%,#fbe4d6 40.1%,#f6f7f7 50.8%,#ddebf2 61.2%,#c9e1ee 72.2%,#c1ddec 77.8%,#bcdaea 87.5%,#bcdaea 92.7%,#c1ddeb 95.6%,#cae2ee 97.2%,#d7e8f1 98.5%,#ebf1f5 100%)}.g19d{background:linear-gradient(90deg,#f8f2ee 0%,#fae8de 0.8%,#fce1d1 1.5%,#fcd5c0 2.8%,#fbccb4 4.1%,#fac7ad 6.7%,#f9c5ab 12.5%,#fac9b0 22.6%,#fbd2bb 30%,#fddbc8 34.6%,#fbe3d4 40.1%,#f6f7f7 50.8%,#dceaf2 61.2%,#c4deec 72.9%,#bcdbea 79.1%,#b8d8e9 88.5%,#b9d9e9 93.3%,#bfdceb 95.9%,#cbe2ee 97.6%,#d9e9f2 98.9%,#e9f1f4 100%)}.g19e{background:linear-gradient(90deg,#f8f3f0 0%,#fbe5d8 1.1%,#fcd5bf 2.8%,#fbcdb5 3.7%,#fac7ae 5%,#f9c3a8 8.3%,#f9c3a8 16.4%,#fac7ae 24.2%,#fbd0b9 30.7%,#fcd6c1 33.9%,#fddac5 34.9%,#fbe4d6 41.4%,#f6f7f7 50.8%,#ddebf2 59.9%,#d1e5f0 65.7%,#c3deec 71.3%,#bad9e9 77.4%,#b5d7e8 84.9%,#b5d7e8 92%,#bad9e9 95.3%,#bedbeb 96.3%,#c8e0ed 97.6%,#d7e8f1 98.9%,#e7eff4 100%)}.g19f{background:linear-gradient(90deg,#f8f4f2 0%,#fbe5d8 1.1%,#fcd7c2 2.4%,#facbb3 3.7%,#fac7ad 4.7%,#f9c3a8 6%,#f9c0a5 9.3%,#f9c0a5 17%,#f9c5ab 25.8%,#facbb3 30.4%,#fddbc8 37.2%,#fae7dc 43.7%,#f6f7f7 50.8%,#c1ddec 70%,#b5d7e8 78.1%,#b2d5e7 84.6%,#b2d5e7 91.4%,#b4d6e8 94%,#b8d8e9 95.6%,#bfdceb 96.9%,#c9e1ee 97.9%,#dae9f2 99.2%,#e5eef4 100%)}.g1a0{background:linear-gradient(90deg,#f7f5f4 0%,#f9efe9 0.5%,#fbe5d8 1.1%,#fddbc7 2.1%,#fcd3bc 2.8%,#fac8af 4.1%,#f9c1a6 6%,#f8bda0 11.2%,#f8bda0 17.7%,#f8bfa3 22.9%,#fac7ad 29.7%,#fbceb6 33.3%,#fddbc8 38.1%,#fce1d2 41.4%,#f6f7f7 50.8%,#dbeaf2 59.6%,#d1e5f0 63.5%,#c9e1ee 65.7%,#bcdaea 70.6%,#b3d6e7 76.1%,#aed3e6 83.6%,#aed3e6 89.8%,#b0d4e7 93.3%,#b4d6e8 95.3%,#bad9e9 96.6%,#c2ddec 97.6%,#e2edf3 100%)}.g1a1{background:linear-gradient(90deg,#f7f5f4 0%,#fae9df 0.8%,#fdddcb 1.8%,#fbceb6 3.1%,#f9c4aa 4.4%,#f8bea2 6%,#f8bca0 7.3%,#f7b99c 12.2%,#f7ba9c 22.2%,#f8bda1 26.8%,#f9c2a7 30%,#fbcfb7 35.6%,#fddcc8 39.4%,#fae8dd 45%,#f6f7f7 50.8%,#d1e5f0 62.5%,#bbdaea 68.3%,#afd4e6 74.2%,#a9d1e5 80.7%,#a9d1e5 89.1%,#add3e6 93.7%,#b0d4e7 95%,#b5d7e8 96.3%,#bedceb 97.6%,#c7e0ed 98.2%,#e0ecf3 100%)}.g1a2{background:linear-gradient(90deg,#f7f5f4 0%,#fae9df 0.8%,#fdd9c4 2.1%,#fbccb4 3.1%,#f9c2a7 4.4%,#f8bb9e 6.3%,#f7b89b 8.3%,#f7b495 16.4%,#f7b596 22.9%,#f7b799 25.8%,#f8bfa4 31.7%,#fac8af 34.9%,#fddcc8 40.4%,#fbe2d4 43.3%,#f6f7f7 50.8%,#d1e5f0 61.2%,#c3deec 64.4%,#b3d6e8 69%,#a9d1e5 73.5%,#a4cee3 81.3%,#a6cfe4 90.7%,#aed3e6 95.3%,#b6d7e8 96.9%,#bfdceb 97.9%,#ddebf2 100%)}.g1a3{background:linear-gradient(90deg,#f7f5f4 0%,#fbe4d7 1.1%,#fcd3bc 2.4%,#facbb2 3.1%,#f9c2a7 4.1%,#f8bfa3 4.7%,#f7b799 7.6%,#f7b495 9.9%,#f6b191 17%,#f6b191 23.9%,#f6b394 26.8%,#f8bda1 33%,#fbccb4 37.5%,#fddbc8 41.1%,#fbe5d7 44.6%,#f6f7f7 50.8%,#cfe4f0 60.9%,#c1ddeb 63.8%,#b3d6e8 67%,#a7d0e4 71.6%,#a0cce2 77.4%,#a1cde2 88.5%,#a4cee3 91.4%,#abd2e5 95.3%,#b3d6e8 96.9%,#bcdbea 97.9%,#dbeaf2 100%)}.g1a4{background:linear-gradient(90deg,#f7f5f4 0%,#fae8de 0.8%,#fddcc8 1.8%,#fbd1ba 2.4%,#f9c6ac 3.4%,#f8bb9e 5%,#f6b293 9.6%,#f5ac8b 19.6%,#f5ac8b 25.5%,#f6b191 29.4%,#f6b394 30.7%,#f7b596 31%,#f7b596 31.7%,#f7b799 32%,#f7b799 32.6%,#f9c6ac 37.2%,#fddcc8 42%,#f6f7f7 50.8%,#d0e5f0 59.9%,#b6d7e8 64.8%,#a9d1e5 68%,#a0cce2 72.2%,#9bc9e0 75.8%,#9ac9e0 81.7%,#9ccae1 86.9%,#a1cde2 91.7%,#a9d1e4 95.3%,#aed3e6 96.6%,#bad9e9 97.9%,#c2ddec 98.5%,#d9e9f1 100%)}.g1a5{background:linear-gradient(90deg,#f8f4f2 0%,#fbe3d4 1.1%,#fddbc7 1.8%,#fcd5bf 2.1%,#f9c4aa 3.4%,#f7ba9d 5%,#f6b394 7.6%,#f5ae8d 11.2%,#f4a784 21.3%,#f5a886 27.4%,#f6af8e 31.7%,#f6b191 32%,#f6b394 33.3%,#f8bda1 36.5%,#facab1 39.4%,#fddbc8 42.7%,#f6f7f7 50.8%,#cfe4f0 59.3%,#bbdaea 62.5%,#a5cee3 67.4%,#a5cee3 68%,#a0cce2 69%,#a0cce2 69.6%,#9bc9e0 70.9%,#9bc9e0 71.9%,#98c8e0 72.2%,#94c6df 77.1%,#97c8e0 85.9%,#9fcbe2 92%,#a5cfe4 95%,#aed3e6 96.9%,#b7d8e9 97.9%,#c0dceb 98.5%,#d7e8f1 100%)}.g1a6{background:linear-gradient(90deg,#f8f4f2 0%,#fae7dc 0.8%,#fbe3d4 1.1%,#fddbc7 1.8%,#facab1 2.8%,#f8bea2 4.1%,#f7b799 5.4%,#f6b394 6.7%,#f5aa88 12.5%,#f2a17f 21.3%,#f2a17f 27.1%,#f3a481 27.8%,#f3a481 29.1%,#f5a886 31.7%,#f5aa89 32%,#f5ac8b 33.3%,#f7b799 36.5%,#f8bb9e 37.2%,#f8bfa4 38.5%,#fddbc8 43.3%,#f6f7f7 50.8%,#d2e6f0 58%,#b6d7e8 62.2%,#b6d7e8 62.5%,#aed3e6 63.5%,#a7d0e4 65.4%,#a2cde3 66.1%,#98c8e0 69%,#96c7df 70.6%,#93c6de 70.9%,#93c6de 71.9%,#90c4dd 72.2%,#90c4dd 73.9%,#8dc2dc 74.2%,#8dc2dc 80.4%,#95c6df 87.2%,#a2cde3 94.6%,#aad1e5 96.6%,#b2d5e7 97.6%,#bddbea 98.5%,#d5e7f1 100%)}.g1a7{background:linear-gradient(90deg,#f8f4f2 0%,#fae7dc 0.8%,#fdd9c4 1.8%,#fbceb7 2.4%,#f9c2a7 3.4%,#f7b799 5%,#f6b191 7%,#f4a785 12.2%,#f3a380 15.1%,#ef9979 23.2%,#ef9979 27.1%,#f09c7b 27.8%,#f09c7b 29.4%,#f3a481 32.6%,#f5aa89 34.9%,#f7b99c 38.5%,#f9c2a7 39.8%,#f9c2a7 40.1%,#fddbc8 44%,#f6f7f7 50.8%,#d1e5f0 57.6%,#aed3e6 62.2%,#aed3e6 62.5%,#a7d0e4 63.5%,#9dcbe1 65.4%,#8dc2dc 69.6%,#8dc2dc 70.3%,#87beda 72.2%,#87beda 73.9%,#84bcd9 74.2%,#84bcd9 78.1%,#87beda 81%,#98c8e0 91.1%,#a2cde3 95.3%,#abd2e5 96.9%,#b3d6e8 97.9%,#c1ddeb 98.9%,#d4e6f1 100%)}.g1a8{background:linear-gradient(90deg,#f8f4f2 0%,#f9ede5 0.5%,#fae7dc 0.8%,#fcd3bc 2.1%,#f9c2a7 3.4%,#f7b596 5.4%,#f6af8e 7.3%,#f4a482 12.5%,#ef9b7a 17.4%,#eb9172 24.5%,#eb9172 27.8%,#ec9374 28.7%,#ec9374 30%,#f19e7d 33.9%,#f5aa89 36.9%,#f7b99c 39.8%,#fbccb4 42.7%,#fcd3bc 43.3%,#fddbc8 44.6%,#f6f7f7 50.8%,#d1e5f0 57%,#c7e0ed 58%,#a5cee3 62.5%,#9dcbe1 63.8%,#87beda 68.3%,#7eb8d7 71.6%,#7bb6d6 73.9%,#7bb6d6 77.1%,#7eb8d7 78.1%,#81bad8 81.3%,#a0cce2 95%,#a7d0e4 96.6%,#aed3e6 97.6%,#c5dfec 99.2%,#d2e6f0 100%)}.g1a9{background:linear-gradient(90deg,#f8f4f2 0%,#fae7dc 0.8%,#fcd3bc 2.1%,#f9c2a7 3.4%,#f8bb9e 4.1%,#f6b394 5.7%,#f5ac8b 8.3%,#f5aa89 8.6%,#f3a481 11.9%,#e98b6e 22.9%,#e98b6e 24.5%,#e8896c 24.8%,#e8896c 29.1%,#e98c6f 31.3%,#ee9677 34.6%,#f4a784 37.8%,#f5ae8d 39.1%,#f9c6ac 42.7%,#fddcc8 45.3%,#f6f7f7 50.8%,#cfe4ef 56.7%,#bddbea 58.3%,#a5cee3 61.2%,#87beda 65.7%,#79b5d5 69%,#71b0d3 72.6%,#71b0d3 76.5%,#75b2d4 77.1%,#78b4d5 80%,#9dcbe1 94.6%,#a5cee3 96.3%,#b1d5e7 97.9%,#bedbeb 98.9%,#d1e5f0 100%)}.g1aa{background:linear-gradient(90deg,#f8f4f2 0%,#fae7dc 0.8%,#fddac5 1.8%,#fbceb7 2.4%,#f9c2a7 3.4%,#f7b99c 4.4%,#f6b394 5.7%,#f5aa89 8.3%,#f4a683 10.2%,#ea8d70 19.3%,#e58368 23.5%,#e48065 27.4%,#e48065 30%,#e68469 32.6%,#eb9072 35.9%,#f19d7c 38.1%,#f7b799 41.7%,#facab1 44%,#fddac6 45.6%,#f6f7f7 50.8%,#d1e5f0 55.7%,#acd2e5 59.3%,#7db8d7 65.1%,#6daed1 68.3%,#67aacf 71.6%,#68abd0 76.5%,#6bacd1 76.8%,#6bacd1 77.8%,#71b0d3 80.4%,#90c4dd 90.1%,#9bc9e0 94%,#a2cde3 95.9%,#b1d5e7 97.9%,#c2ddec 99.2%,#d1e5f0 100%)}.g1ab{background:linear-gradient(90deg,#f7f5f4 0%,#f9eee7 0.5%,#fbe3d4 1.1%,#fddbc7 1.8%,#fbceb7 2.4%,#f8bfa4 3.7%,#f6b394 5.7%,#f5a886 8.9%,#f3a481 11.2%,#f2a17f 11.5%,#e88a6e 18.7%,#e27b62 24.2%,#e27b62 24.8%,#e17860 25.2%,#df755d 29.1%,#e0775f 32.6%,#e37f65 34.9%,#e98c6f 37.5%,#f19d7c 39.8%,#f5a987 41.1%,#f7b698 42.7%,#fddbc7 46.3%,#f6f7f7 50.8%,#d2e6f0 55%,#a1cde2 59.3%,#75b2d4 64.1%,#64a8ce 67%,#5ea4cc 69%,#5ba2cb 70.9%,#5ca3cb 74.5%,#5fa5cd 75.2%,#5fa5cd 76.1%,#62a7ce 76.5%,#62a7ce 77.4%,#70b0d3 82%,#76b3d4 83%,#8ac0db 89.1%,#8dc2dc 89.4%,#90c4dd 90.7%,#93c6de 91.1%,#93c6de 91.7%,#98c8e0 92.7%,#98c8e0 93.3%,#a2cde3 95.9%,#b1d5e7 97.9%,#b8d8e9 98.5%,#c2ddec 99.2%,#d1e5f0 100%)}.g1ac{background:linear-gradient(90deg,#f7f6f5 0%,#f9efe9 0.5%,#fbe4d6 1.1%,#fddcc8 1.8%,#facbb3 2.8%,#f9c4a9 3.4%,#f8bb9e 4.4%,#f6b192 6.3%,#f3a481 10.6%,#f3a481 11.2%,#f19e7d 12.2%,#f09c7b 13.5%,#ee9677 14.4%,#eb9172 16.4%,#e58267 20%,#de735c 24.5%,#dd7059 26.1%,#dc6e57 26.5%,#da6a55 29.4%,#da6a55 32%,#dd7059 34.9%,#df765e 36.2%,#e8896d 39.1%,#f09c7b 41.1%,#f4a784 42%,#f7b698 43.7%,#fddcc9 46.9%,#f6f7f7 50.8%,#d1e5f0 54.7%,#a9d1e4 57.6%,#7bb6d6 61.5%,#68abd0 63.5%,#65a9cf 64.1%,#5fa5cd 64.8%,#5fa5cd 65.1%,#569fc9 66.7%,#4e9ac7 69.6%,#4f9bc7 73.2%,#5ca3cb 77.8%,#7eb8d7 85.9%,#84bcd9 87.8%,#8ac0db 88.8%,#8ac0db 89.4%,#93c6de 91.1%,#93c6de 91.7%,#a2cde3 95.6%,#aed3e6 97.6%,#bad9e9 98.5%,#cae1ee 99.5%,#d1e5f0 100%)}.g1ad{background:linear-gradient(90deg,#f7f7f6 0%,#fbe5d8 1.1%,#fddcca 1.8%,#fac9b0 3.1%,#f8bfa4 4.1%,#f6b394 6.3%,#f3a481 11.2%,#d86551 26.5%,#d86551 27.1%,#d7634f 27.4%,#d6604d 28.7%,#d55d4c 31.7%,#d6604d 34.6%,#db6b55 37.2%,#e48065 39.8%,#ec9374 41.7%,#f4a886 43.3%,#f8bc9f 45%,#fddbc7 47.2%,#f6f7f7 50.8%,#d4e6f1 54.1%,#a6cfe4 57%,#90c4dd 58.6%,#78b4d5 60.2%,#71b0d3 60.9%,#68abd0 61.5%,#569fc9 63.5%,#4997c5 65.4%,#4493c3 67%,#4291c2 68.7%,#4493c3 72.6%,#4997c5 74.8%,#4c99c6 75.2%,#4c99c6 75.8%,#4f9bc7 76.1%,#58a0ca 78.4%,#7bb6d6 85.6%,#7bb6d6 85.9%,#7eb8d7 86.2%,#7eb8d7 86.5%,#81bad8 86.9%,#81bad8 87.2%,#84bcd9 87.5%,#84bcd9 87.8%,#8dc2dc 89.4%,#a2cde3 95.3%,#a7d0e4 96.3%,#b7d8e9 98.2%,#c0dceb 98.9%,#d2e5f0 100%)}.g1ae{background:linear-gradient(90deg,#f5f6f7 0%,#faebe3 0.8%,#fce2d3 1.5%,#fddac6 2.1%,#facbb3 3.1%,#f8bda1 4.7%,#f7b698 6%,#f3a481 11.5%,#ea8e70 16.7%,#e8896c 17.4%,#e6866a 18.3%,#d7634f 25.5%,#d05548 29.1%,#ce4f45 32.3%,#ce4f45 34.3%,#cf5246 34.6%,#d05548 36.2%,#d96753 39.1%,#dd7059 40.1%,#e7876b 42%,#ef9979 43.3%,#f4a886 44.3%,#fdd9c4 47.6%,#f6f7f7 50.8%,#d2e6f0 53.7%,#9ac9e0 57%,#73b1d3 59.3%,#58a0ca 61.2%,#4d9ac7 62.2%,#4493c3 63.5%,#3f8ec0 64.8%,#3b88be 67.4%,#3b88be 69.3%,#408fc1 74.2%,#4494c3 75.5%,#80bad8 86.5%,#92c5de 90.4%,#a6cfe4 95.6%,#aed3e6 96.9%,#bad9e9 98.2%,#d3e6f0 100%)}.g1af{background:linear-gradient(90deg,#f3f5f6 0%,#f8f3f0 0.5%,#fbe3d5 1.5%,#fddcca 2.1%,#fbcfb8 3.1%,#f9c5ab 4.1%,#f8bb9e 5.7%,#f4a683 11.5%,#ec9374 15.7%,#e37e64 19.6%,#e37e64 20%,#e17860 20.6%,#e17860 20.9%,#de735c 21.6%,#d65f4d 25.2%,#cc4c44 28.7%,#c7423f 32%,#c6403e 33.3%,#c6413e 35.6%,#cc4b43 38.1%,#d55f4d 40.4%,#e0775f 42.4%,#f19e7d 44.6%,#f6af8e 45.6%,#fdd8c3 47.9%,#f6f7f7 50.8%,#d1e5f0 53.4%,#96c7df 56.3%,#7ab6d6 57.6%,#67aacf 58.6%,#4d9ac7 60.2%,#3f8ec0 61.9%,#3884bb 63.8%,#3480b9 65.7%,#347fb9 68.3%,#3783bb 71.3%,#4594c4 76.8%,#71b0d3 83.6%,#8ec3dd 88.8%,#abd2e5 95.9%,#bad9e9 97.9%,#c1ddec 98.5%,#d5e7f1 100%)}.g1b0{background:linear-gradient(90deg,#f0f4f6 0%,#f7f5f4 0.5%,#faeae0 1.1%,#fce2d2 1.8%,#fddbc8 2.4%,#fbcfb8 3.4%,#f9c0a5 5.4%,#f7b99c 7%,#f19f7d 14.1%,#e68469 19%,#d6614e 24.5%,#cd4d44 27.4%,#c3393b 31%,#be3036 33.6%,#be2f36 35.2%,#be2f36 36.2%,#bf3338 37.5%,#c53e3d 39.4%,#ce4f45 41.1%,#d96753 42.7%,#e37e64 44%,#e98b6e 44.6%,#f2a17f 45.6%,#f6af8e 46.3%,#fddcca 48.5%,#f6f7f7 50.8%,#d1e5f0 53.1%,#92c5de 55.7%,#62a7ce 57.6%,#4593c3 59.3%,#3885bc 60.9%,#2f78b5 63.5%,#2c74b3 65.4%,#2c75b4 67.7%,#337eb8 71.6%,#4393c3 76.8%,#6fafd2 83%,#88bfdb 86.9%,#94c6df 89.1%,#abd2e5 95%,#b6d7e8 96.9%,#c5dfed 98.5%,#d8e8f1 100%)}.g1b1{background:linear-gradient(90deg,#edf2f5 0%,#f6f6f7 0.5%,#f8f1ed 0.8%,#fbe4d6 1.8%,#fddbc8 2.8%,#fbd0b9 3.7%,#f9c2a7 6%,#f6af8e 11.5%,#f4a683 13.5%,#f09c7b 15.7%,#e0775e 21.6%,#d55e4c 24.8%,#be3036 31%,#b82431 33.3%,#b41d2d 35.2%,#b41d2e 37.5%,#b82531 39.4%,#c3393b 41.4%,#ca4841 42.4%,#d86551 44%,#e58368 45.3%,#f19d7c 46.3%,#f5ae8d 46.9%,#fdddca 48.9%,#f6f7f7 50.8%,#d1e5f0 52.8%,#99c9e0 54.7%,#5fa5cd 56.7%,#4795c4 57.6%,#3f8dc0 58.3%,#3783bb 59.3%,#2c75b4 60.9%,#266daf 62.5%,#2369ad 64.8%,#2369ad 66.1%,#2a71b2 69.6%,#4393c3 76.8%,#6fafd2 82.3%,#8fc3dd 87.2%,#9bc9e0 89.4%,#acd2e5 94%,#b9d9e9 96.6%,#c7e0ed 98.2%,#dbeaf2 100%)}.g1b2{background:linear-gradient(90deg,#eaf1f5 0%,#f3f5f6 0.5%,#f8f4f2 0.8%,#faeae1 1.5%,#fce0d0 2.4%,#fcd3bc 4.1%,#facab1 5.4%,#facab1 5.7%,#f9c2a7 7.3%,#f6af8e 13.1%,#f4a683 14.8%,#f09c7b 17%,#e58368 20.6%,#d6614e 24.8%,#b6202f 32.3%,#b0182b 33.6%,#a21328 36.5%,#a11328 37.8%,#a51429 39.4%,#a81529 39.8%,#ae192b 40.7%,#b6212f 41.7%,#c13639 43%,#ce5146 44.3%,#d7624f 45%,#ec9273 46.6%,#f4a785 47.2%,#f6b090 47.6%,#fcd6c1 48.9%,#fdddcb 49.2%,#f8f3f0 50.5%,#f6f7f7 50.8%,#d2e5f0 52.4%,#8fc3dd 54.4%,#569fc9 56%,#4c98c6 56.3%,#3f8dc0 57%,#317bb7 58.3%,#2165a9 60.6%,#1c5c9f 62.2%,#1b5a9b 63.8%,#1c5c9f 65.7%,#2267ac 68.3%,#4191c2 76.1%,#75b2d4 82%,#78b4d5 82.6%,#81bad8 83.6%,#81bad8 83.9%,#8ac0db 84.9%,#8ac0db 85.2%,#90c4dd 85.9%,#90c4dd 86.2%,#9bc9e0 87.8%,#b1d5e7 93.7%,#bddbea 96.3%,#cae1ee 97.9%,#deebf2 100%)}.g1b3{background:linear-gradient(90deg,#e6eff4 0%,#f6f6f7 0.8%,#f8f2ef 1.1%,#fbe4d6 2.4%,#fdd9c4 4.1%,#fbd0b9 5.4%,#f8bb9e 11.5%,#f3a481 17%,#ea8e70 20.3%,#d55d4c 26.1%,#d05548 26.8%,#b3192c 32.6%,#920e26 36.5%,#8d0c25 37.5%,#8b0c25 38.8%,#8d0c25 39.8%,#950f26 41.1%,#a51429 42.4%,#af1a2c 43%,#b72330 43.7%,#bb2a34 44%,#c84440 45%,#d2584a 45.6%,#e17960 46.6%,#f19f7e 47.6%,#f5ab8a 47.9%,#fcd7c2 49.2%,#f8f2ef 50.5%,#f5f6f7 50.8%,#d4e6f1 52.1%,#94c6de 53.7%,#5ba2cb 55%,#4493c3 55.7%,#3d8bbf 56%,#256caf 58%,#1b5b9d 59.3%,#175391 60.2%,#134c87 61.5%,#134a85 62.8%,#154e8b 64.8%,#195696 66.4%,#2064a9 68.3%,#2267ad 69%,#4291c2 75.5%,#4997c5 76.5%,#6aacd0 79.7%,#8ac0db 83.6%,#93c6de 84.9%,#a4cee3 88.1%,#c5dfec 96.3%,#d5e7f1 98.5%,#e3edf3 100%)}.g1b4{background:linear-gradient(90deg,#e1edf3 0%,#f2f5f6 0.8%,#f7f5f4 1.1%,#fae7dc 2.4%,#fcdfcf 3.7%,#fcd5c0 6%,#f9c0a5 12.5%,#f6b394 15.7%,#f3a380 19%,#ea8d70 21.9%,#dc6e57 25.5%,#d45c4b 27.1%,#cf5347 28.1%,#b1182b 33%,#960f27 35.2%,#7f0823 37.8%,#790622 39.1%,#770522 40.4%,#7c0722 41.4%,#850a24 42.4%,#950f26 43.3%,#ab172a 44.3%,#b21c2d 44.6%,#bd2e35 45.3%,#ce5146 46.3%,#db6c56 46.9%,#f4a685 48.2%,#fddbc7 49.5%,#f8f1ed 50.5%,#f5f6f7 50.8%,#cce2ef 52.1%,#8ec2dd 53.4%,#6bacd1 54.1%,#4c98c6 54.7%,#408fc1 55%,#347fb9 55.7%,#256bae 56.7%,#1e5fa2 57.3%,#185493 58%,#10457e 59.3%,#0c3d73 60.6%,#0b3b71 61.2%,#0c3d74 62.8%,#0f437b 64.1%,#16508e 66.1%,#2064aa 68.3%,#2369ae 69%,#4594c3 74.8%,#65a9cf 77.8%,#7eb8d7 80.4%,#95c6df 83.3%,#add3e6 87.8%,#cfe4ef 96.6%,#dae9f2 98.5%,#e8f0f4 100%)}.g1b5{background:linear-gradient(90deg,#dfecf3 0%,#f6f6f7 1.1%,#faeae1 2.4%,#fbe6da 3.1%,#fce2d2 4.1%,#fddac6 7%,#f9c4a9 14.4%,#f5ac8b 19.6%,#f19f7e 21.6%,#e68469 24.8%,#d96652 27.8%,#c13639 31.7%,#b72230 33%,#ae172b 33.9%,#850a24 36.9%,#730421 38.5%,#68001f 40.1%,#68001f 41.1%,#69011f 41.7%,#740421 43%,#850a24 44%,#960f27 44.6%,#aa162a 45.3%,#b31d2d 45.6%,#c13639 46.3%,#d05447 46.9%,#d76450 47.2%,#df745c 47.6%,#f4a785 48.5%,#fcd5bf 49.5%,#fce0cf 49.8%,#f8f0eb 50.5%,#f5f6f7 50.8%,#d3e6f0 51.8%,#a0cce2 52.8%,#8dc2dc 53.1%,#529dc8 54.1%,#4392c3 54.4%,#3a87bd 54.7%,#2267ab 56%,#195696 56.7%,#0f447c 57.6%,#083568 58.9%,#053162 60.6%,#053162 61.5%,#083568 62.5%,#0f447c 64.4%,#1d5fa2 67%,#2369ad 68%,#4190c2 72.9%,#4a98c5 73.9%,#63a7ce 75.8%,#8dc2dc 80%,#9dcbe1 82.3%,#acd2e5 84.9%,#bad9e9 88.1%,#cde3ef 93.3%,#d6e7f1 96.6%,#deebf2 98.2%,#edf2f5 100%)}.g1b6{background:linear-gradient(90deg,#e3eef3 0%,#f6f7f7 1.1%,#f8f1ed 1.8%,#faebe2 2.8%,#fbe5d8 4.1%,#fce1d1 6%,#fddac6 10.9%,#fbd0b9 14.4%,#f8bda0 19.3%,#f2a17f 24.2%,#e58167 27.4%,#d35b4b 30.7%,#be3137 33.6%,#b6202f 34.6%,#b01a2c 35.2%,#a61429 35.9%,#7d0722 38.5%,#6d0220 39.8%,#67001f 41.1%,#67001f 42.7%,#6c0220 43.3%,#7e0723 44.3%,#8f0d25 45%,#b2192c 45.9%,#b82531 46.3%,#d05548 47.2%,#d86551 47.6%,#e8896d 48.2%,#f19e7d 48.5%,#f6af8f 48.9%,#fcdecc 49.8%,#f9f0eb 50.5%,#f5f6f7 50.8%,#cfe4f0 51.8%,#97c7df 52.8%,#569fc9 53.7%,#4392c3 54.1%,#256caf 55.4%,#1f63a8 55.7%,#134a85 56.7%,#0a396e 57.6%,#053061 58.6%,#063163 61.2%,#09386c 62.2%,#0f447c 63.5%,#1f63a7 66.1%,#266daf 67%,#3d8bbf 70.3%,#509bc8 72.2%,#579fca 72.6%,#73b1d3 74.8%,#81bad8 76.1%,#93c5de 78.1%,#9dcbe1 79.4%,#add3e6 82%,#c0dceb 85.9%,#cce2ef 89.1%,#ddebf2 96.9%,#e3edf3 98.2%,#f2f5f6 100%)}.g1b7{background:linear-gradient(90deg,#eaf1f5 0%,#f5f6f7 0.8%,#f7f6f5 1.1%,#f8f1ed 1.8%,#fae8de 4.1%,#fdddcb 13.8%,#fcd5c0 17%,#f9c4a9 21.6%,#f7b495 24.5%,#f2a382 27.1%,#e98c6f 29.4%,#dc6e57 32%,#cd4d44 34.3%,#c13739 35.6%,#ba2832 36.5%,#af1b2d 37.5%,#9a1027 38.8%,#810823 40.7%,#7c0722 41.4%,#7a0622 42.7%,#800823 43.7%,#890b24 44.3%,#981027 45%,#ab162a 45.6%,#b41d2e 45.9%,#c2383a 46.6%,#d15749 47.2%,#d96753 47.6%,#e98b6e 48.2%,#f19e7d 48.5%,#f6af8f 48.9%,#fcdecc 49.8%,#f9f0eb 50.5%,#f5f6f7 50.8%,#cfe4f0 51.8%,#97c8e0 52.8%,#579fca 53.7%,#4594c3 54.1%,#3480b9 54.7%,#2267ab 55.7%,#16518f 56.7%,#0d4078 58%,#0c3d74 58.6%,#0c3e75 59.9%,#0f447c 60.9%,#175391 62.5%,#1b5b9c 63.1%,#2266a9 64.1%,#2970b1 65.1%,#3b88bd 67.4%,#529dc8 69.6%,#6fafd2 71.6%,#87beda 73.5%,#9ecbe1 76.1%,#b3d6e8 79.4%,#cce2ef 84.9%,#d4e6f1 87.8%,#e3edf3 97.2%,#ebf1f5 98.9%,#f3f5f6 100%)}.g1b8{background:linear-gradient(90deg,#f2f5f6 0%,#f7f6f5 0.8%,#f8f0eb 2.1%,#f9ece4 4.1%,#fbe6da 11.9%,#fcddca 19.3%,#fbd1ba 23.2%,#f9c4a9 26.1%,#f6b394 29.1%,#f6af8f 29.4%,#f1a080 31.3%,#e27b62 34.6%,#cc4b43 37.8%,#bd2f36 39.8%,#b22230 41.4%,#ae1e2e 42.4%,#b01f2e 43.7%,#b42431 44.3%,#bc2d35 45%,#c33a3b 45.6%,#d2594b 46.6%,#d96653 46.9%,#de735c 47.2%,#f19f7e 48.2%,#f5ad8c 48.5%,#fcd7c2 49.5%,#f8f1ec 50.5%,#f5f6f7 50.8%,#d5e7f1 51.8%,#c7e0ed 52.1%,#96c7df 53.1%,#62a7ce 54.1%,#4895c4 54.7%,#3985bc 55.4%,#2971b1 56.7%,#256aab 57.3%,#2265a6 58.6%,#2468a9 59.9%,#2970b0 61.2%,#3884bb 63.5%,#4894c4 65.1%,#59a1ca 66.4%,#7bb6d6 68.7%,#8dc2dc 70.3%,#9ac9e0 71.6%,#acd2e5 73.9%,#bbdaea 76.1%,#bbdaea 76.5%,#c8e0ed 78.7%,#d4e6f0 82.3%,#d9e9f1 84.9%,#e7f0f4 96.9%,#f2f5f6 100%)}.g1b9{background:linear-gradient(90deg,#f7f6f6 0%,#f8f1ed 2.4%,#f9f0eb 4.1%,#f9eee7 10.2%,#f9ede5 10.6%,#fae8de 18.3%,#fbe3d4 23.2%,#fcd8c4 28.1%,#fbccb4 31%,#f7b597 34.6%,#f1a283 36.9%,#e37f65 40.4%,#df755f 42%,#df755e 43.7%,#e58368 45.3%,#ee9a7c 46.6%,#f6b293 47.6%,#fcd4be 48.9%,#fce2d3 49.5%,#f6f6f7 50.8%,#d7e8f1 52.1%,#8bbfdb 54.7%,#75b2d4 55.7%,#6aacd0 56.3%,#60a4cc 57.3%,#5ea2cb 58%,#5ea2cb 59.3%,#62a5cd 60.2%,#6fafd2 61.9%,#94c5de 65.1%,#a7d0e4 67%,#b3d6e8 68.7%,#c9e1ed 72.2%,#d3e6f0 74.8%,#dbeaf2 78.4%,#e3edf3 83.3%,#edf2f5 97.2%,#f2f5f6 100%)}.g1ba{background:linear-gradient(90deg,#f7f6f5 0%,#f8f2ef 18.7%,#f9efe9 26.1%,#fae8de 33.6%,#fad8c6 41.4%,#fad7c5 44%,#fadbca 45.6%,#fadfd0 46.6%,#faeae0 48.5%,#f6f7f7 50.8%,#d5e6f0 55.4%,#cee3ee 57.6%,#cee3ee 59.6%,#e1edf3 67%,#eaf1f5 73.5%,#f0f4f6 83%,#f5f6f7 100%)}.g1bb{background:linear-gradient(90deg,#dc6d58 0%,#e6866a 0.8%,#ed9779 1.5%,#f2a687 2.4%,#f5b293 4.1%,#f6b395 5.7%,#f5af91 10.2%,#f5b092 16.7%,#f7b698 21.6%,#f9c3a8 29.4%,#facbb2 32%,#fce1d2 35.9%,#f8f3f0 40.1%,#f6f6f6 41.4%,#f0f4f6 44%,#f0f4f6 45.3%,#f7f6f6 50.8%,#f8f3f0 54.7%,#f8f3f0 58.3%,#f6f6f6 63.1%,#dbeaf2 71.6%,#cfe4ef 74.8%,#bedbeb 78.1%,#add3e6 81%,#8dc1dc 85.2%,#69abd0 89.1%,#69abd0 89.4%,#5fa3cc 90.7%,#458ec1 94%,#3982ba 95.3%,#2c72ad 96.3%,#2263a0 96.9%,#1d5b97 97.2%,#114780 97.9%,#0b3b71 98.2%,#073467 98.5%,#053061 98.9%,#053061 100%)}.g1bc{background:linear-gradient(90deg,#f1a07f 0%,#f5ab8b 0.5%,#f8bda0 1.1%,#fac7ae 1.8%,#fbd0b9 2.4%,#fcd9c5 4.1%,#fcd9c5 7.6%,#fcd7c3 8.6%,#fcd7c3 16.7%,#fcd9c5 17.4%,#fcdac7 20.6%,#fcdcc9 20.9%,#fbe6d9 31.7%,#f7f5f4 38.5%,#f6f6f7 39.8%,#f1f4f6 42%,#f0f4f6 45.3%,#f6f7f7 49.5%,#f7f6f6 51.8%,#f8f2ef 56.7%,#f8f3f0 61.5%,#f7f5f4 64.4%,#f4f6f6 67%,#deebf2 77.4%,#d0e5f0 82.3%,#add3e6 91.4%,#a4cee3 93%,#95c6df 94.6%,#8dc1dc 95.3%,#76b3d4 96.3%,#6cadd1 96.6%,#60a5cd 96.9%,#4692c2 97.6%,#2f78b5 98.2%,#2367a8 98.5%,#16518f 98.9%,#0a3a6f 99.2%,#053061 99.5%,#053061 100%)}.g1bd{background:linear-gradient(90deg,#f7b698 0%,#fac9b0 0.8%,#fcd7c2 1.5%,#fcdbc8 1.8%,#fbe3d4 3.1%,#fbe6d9 4.4%,#fbe4d7 12.2%,#fbe5d8 17.4%,#f9efe9 30.4%,#f6f6f7 37.2%,#f1f4f6 40.7%,#f0f4f6 45.3%,#f6f7f7 50.5%,#f8f2ef 56.3%,#f8f1ed 59.6%,#f8f2ef 63.8%,#f7f6f6 68.7%,#d3e6f0 90.7%,#cee3ef 92.7%,#c5dfec 94.3%,#bedbeb 95%,#b0d4e7 95.9%,#a1cde2 96.6%,#97c7df 96.9%,#7ab6d6 97.6%,#4e9ac7 98.2%,#3b88be 98.5%,#2d76b4 98.9%,#1d5ea0 99.2%,#0c3e75 99.5%,#053061 100%)}.g1be{background:linear-gradient(90deg,#f9c2a7 0%,#fcd5bf 0.8%,#fddbc7 1.1%,#fce1d2 1.8%,#fae7dc 2.8%,#f9ebe3 4.7%,#faeae1 10.2%,#faeae1 17.4%,#f6f6f7 33.3%,#eff3f5 42.4%,#f6f7f7 50.5%,#f8f1ed 58.6%,#f8f2ee 65.1%,#f7f6f5 70.6%,#f6f6f7 72.6%,#e9f0f4 81%,#dbeaf2 93%,#d3e6f0 95%,#c7e0ed 95.9%,#b8d8e9 96.6%,#aed3e6 96.9%,#a4cee3 97.2%,#96c7df 97.6%,#83bcd9 97.9%,#6bacd1 98.2%,#4e9ac7 98.5%,#3a87bd 98.9%,#2971b2 99.2%,#175392 99.5%,#053162 100%)}.g1bf{background:linear-gradient(90deg,#fac7ae 0%,#fddac6 0.8%,#fbe4d7 1.8%,#faeae1 2.8%,#f9eee8 4.7%,#f9ede5 12.2%,#f9ede6 17%,#f7f7f7 29.7%,#eff3f6 37.8%,#eff3f5 43.3%,#f6f7f7 50.5%,#f8f1ed 58.3%,#f8f1ed 65.7%,#f7f6f6 72.9%,#ebf1f5 82.3%,#e6eff4 90.7%,#e1edf3 93.3%,#dceaf2 94.6%,#d2e6f0 95.9%,#c5dfec 96.6%,#b0d4e7 97.2%,#92c5de 97.9%,#7bb6d6 98.2%,#5fa5cd 98.5%,#408fc1 98.9%,#307ab6 99.2%,#1d5ea1 99.5%,#09386d 100%)}.g1c0{background:linear-gradient(90deg,#facab1 0%,#fcd5bf 0.5%,#fddcc9 0.8%,#fbe6d9 1.8%,#faeae1 2.4%,#f9eee7 3.4%,#f8f0eb 5%,#f9eee8 10.2%,#f9eee8 15.4%,#f8f1ed 20.6%,#f7f7f7 27.8%,#eff3f5 36.2%,#eff3f5 43.3%,#f6f7f7 50.5%,#f8f1ed 58.3%,#f9f0eb 63.5%,#f8f1ed 67%,#f7f6f6 74.2%,#edf2f5 83%,#e9f1f4 90.1%,#e5eef4 93.3%,#dceaf2 95.3%,#d2e5f0 96.3%,#cbe2ee 96.6%,#b7d8e8 97.2%,#99c9e0 97.9%,#83bcd9 98.2%,#67aacf 98.5%,#4594c4 98.9%,#337eb8 99.2%,#2064a9 99.5%,#0c3e75 100%)}.g1c1{background:linear-gradient(90deg,#fbccb4 0%,#fcd6c1 0.5%,#fdddca 0.8%,#fae7db 1.8%,#f9ede5 2.8%,#f8f1ed 4.7%,#f9efe9 14.1%,#f8f1ed 19.6%,#f6f7f7 27.1%,#edf2f5 38.5%,#eff3f5 43.3%,#f6f7f7 50.5%,#f8f1ed 58%,#f9f0eb 64.8%,#f7f6f6 74.8%,#edf2f5 83.6%,#eaf1f5 90.7%,#e7f0f4 93%,#deebf2 95.3%,#d4e6f1 96.3%,#cfe4ef 96.6%,#c5dfec 96.9%,#bad9e9 97.2%,#9ccae1 97.9%,#87beda 98.2%,#6bacd1 98.5%,#4a98c5 98.9%,#3581ba 99.2%,#2166ac 99.5%,#0e4179 100%)}.g1c2{background:linear-gradient(90deg,#fbccb4 0%,#fcd7c2 0.5%,#fdddcb 0.8%,#fae7dc 1.8%,#f9ebe3 2.4%,#f8f1ed 4.4%,#f9f0eb 17%,#f7f6f6 26.1%,#edf2f5 36.9%,#eff3f5 43.3%,#f6f7f7 50.5%,#f8f3f0 54.7%,#f9f0eb 60.9%,#f9f0eb 65.4%,#f8f1ed 65.7%,#f8f1ed 68%,#f8f2ef 68.3%,#f8f3f0 71.3%,#f6f7f7 75.5%,#eff3f5 82.3%,#ecf2f5 90.1%,#e8f0f4 93%,#e4eef4 94.3%,#dceaf2 95.6%,#d0e5f0 96.6%,#c7e0ed 96.9%,#aed3e6 97.6%,#9ecbe1 97.9%,#8ac0db 98.2%,#6eaed2 98.5%,#4c99c6 98.9%,#2267ac 99.5%,#0f427a 100%)}.g1c3{background:linear-gradient(90deg,#facbb3 0%,#fcd6c1 0.5%,#fce1d1 1.1%,#fae7dc 1.8%,#f9ebe3 2.4%,#f8f1ed 4.1%,#f8f2ef 5.4%,#f9f0eb 8.9%,#f9f0eb 16.4%,#f7f6f6 25.8%,#edf2f5 36.2%,#eff3f5 43.3%,#f6f7f7 50.5%,#f8f1ed 58%,#f9f0eb 65.7%,#f8f1ed 66.1%,#f8f1ed 68.3%,#f7f6f6 75.5%,#eff3f5 82.6%,#ecf2f5 91.1%,#e7f0f4 93.7%,#e0ecf3 95.3%,#dae9f2 95.9%,#d1e5f0 96.6%,#bddbea 97.2%,#a0cce2 97.9%,#8ac0db 98.2%,#6eaed2 98.5%,#4c99c6 98.9%,#3783bb 99.2%,#2369ad 99.5%,#0f437b 100%)}.g1c4{background:linear-gradient(90deg,#fac8af 0%,#fddbc8 0.8%,#fbe6da 1.8%,#f9eee7 3.1%,#f8f1ed 4.4%,#f9f0eb 16.4%,#f7f6f6 25.8%,#edf2f5 35.9%,#eff3f5 43.3%,#f6f7f7 50.5%,#f9f0eb 60.6%,#f9f0eb 65.7%,#f8f1ed 66.1%,#f8f1ed 68.3%,#f8f2ef 68.7%,#f8f3f0 71.6%,#f6f7f7 75.8%,#f0f4f6 81%,#ecf2f5 91.4%,#e9f0f4 93.3%,#e0ecf3 95.3%,#dae9f2 95.9%,#d1e5f0 96.6%,#bddbea 97.2%,#a0cce2 97.9%,#8ac0db 98.2%,#6eaed2 98.5%,#4e9ac7 98.9%,#3783bb 99.2%,#2369ad 99.5%,#0f437b 100%)}.g1c5{background:linear-gradient(90deg,#f8bfa4 0%,#fcd7c2 0.8%,#fdddcb 1.1%,#fbe4d7 1.8%,#faebe3 2.8%,#f9eee8 3.4%,#f8f1ed 4.7%,#f9f0eb 16.1%,#f7f6f6 25.5%,#edf2f5 35.9%,#eff3f5 43.3%,#f6f7f7 50.5%,#f9f0eb 60.6%,#f9f0eb 65.7%,#f8f1ed 66.1%,#f8f2ef 70.3%,#f6f7f7 75.8%,#eff3f5 83%,#ecf2f5 91.7%,#e9f0f4 93.3%,#e4eef4 94.6%,#dae9f2 95.9%,#d1e5f0 96.6%,#bddbea 97.2%,#b1d5e7 97.6%,#a0cce2 97.9%,#8ac0db 98.2%,#6eaed2 98.5%,#4f9bc7 98.9%,#3783bb 99.2%,#2369ad 99.5%,#0f437b 100%)}.g1c6{background:linear-gradient(90deg,#f7b596 0%,#f9c3a8 0.5%,#fbceb7 0.8%,#fdd9c4 1.1%,#fcdecd 1.5%,#fbe5d8 2.1%,#f9ebe3 3.1%,#f8f1ed 5%,#f9f0eb 16.1%,#f7f6f6 25.5%,#edf2f5 35.6%,#eff3f5 43.3%,#f6f7f7 50.5%,#f9f0eb 60.6%,#f9f0eb 65.7%,#f8f1ed 66.1%,#f8f2ef 70.3%,#f6f7f7 75.8%,#eff3f5 83%,#edf2f5 89.1%,#e9f0f4 93.3%,#e0ecf3 95.3%,#dae9f2 95.9%,#d1e5f0 96.6%,#cae1ee 96.9%,#b1d5e7 97.6%,#a0cce2 97.9%,#8bc1dc 98.2%,#4f9bc7 98.9%,#3783bb 99.2%,#2369ad 99.5%,#0f437b 100%)}.g1c7{background:linear-gradient(90deg,#f4a886 0%,#f9c5ab 0.8%,#fbd0b9 1.1%,#fddac6 1.5%,#fbe3d4 2.1%,#f9ece4 3.4%,#f8f1ed 5.7%,#f9f0eb 16.1%,#f7f6f6 25.5%,#edf2f5 35.6%,#eff3f5 43.3%,#f6f7f7 50.5%,#f9f0eb 60.6%,#f9f0eb 65.7%,#f8f1ed 66.1%,#f8f2ef 70.3%,#f6f7f7 75.8%,#eff3f5 83%,#edf2f5 89.1%,#e9f0f4 93.3%,#e0ecf3 95.3%,#dae9f2 95.9%,#d1e5f0 96.6%,#cae1ee 96.9%,#b1d5e7 97.6%,#8dc2dc 98.2%,#4f9bc7 98.9%,#3783bb 99.2%,#2369ad 99.5%,#0f437b 100%)}.g1c8{background:linear-gradient(90deg,#ed9576 0%,#f5aa89 0.5%,#f8bb9e 0.8%,#fac7ae 1.1%,#fcd3bc 1.5%,#fddbc7 1.8%,#fcdfcf 2.1%,#fbe6d9 2.8%,#f9ece4 3.7%,#f9f0eb 5.4%,#f9f0eb 16.1%,#f7f6f6 25.5%,#edf2f5 35.6%,#edf2f5 41.1%,#f6f7f7 50.5%,#f9f0eb 60.6%,#f9f0eb 65.7%,#f8f1ed 66.1%,#f8f2ef 70.3%,#f6f7f7 75.8%,#eff3f5 83%,#eaf1f5 92.7%,#e6eff4 94.3%,#e0ecf3 95.3%,#dae9f2 95.9%,#d1e5f0 96.6%,#cae1ee 96.9%,#b1d5e7 97.6%,#8dc2dc 98.2%,#4f9bc7 98.9%,#3783bb 99.2%,#2369ad 99.5%,#0f437b 100%)}.g1c9{background:linear-gradient(90deg,#e48066 0%,#ef9b7a 0.5%,#f6af8e 0.8%,#f8bda1 1.1%,#fac9b0 1.5%,#fcd5bf 1.8%,#fddcc9 2.1%,#fbe3d5 2.8%,#fae9de 3.4%,#f9ede6 4.4%,#f9f0eb 5.7%,#f9f0eb 16.1%,#f7f6f6 25.5%,#edf2f5 35.6%,#edf2f5 41.1%,#f6f7f7 50.5%,#f9f0eb 60.6%,#f9f0eb 66.1%,#f8f1ed 66.4%,#f8f1ed 68.3%,#f8f2ef 68.7%,#f8f4f2 73.2%,#f6f7f7 75.8%,#eff3f5 83%,#eaf1f5 92.7%,#e6eff4 94.3%,#e0ecf3 95.3%,#dae9f2 95.9%,#d1e5f0 96.6%,#cae1ee 96.9%,#b1d5e7 97.6%,#8dc2dc 98.2%,#4f9bc7 98.9%,#3783bb 99.2%,#2369ad 99.5%,#0f437b 100%)}.g1ca{background:linear-gradient(90deg,#da6853 0%,#e7876b 0.5%,#f2a17f 0.8%,#f6b293 1.1%,#f9c0a5 1.5%,#fcd7c2 2.1%,#fdddcb 2.4%,#fbe4d6 3.1%,#fae9de 3.7%,#f9ede6 4.7%,#f9f0eb 6.3%,#f9f0eb 16.1%,#f7f6f6 25.5%,#edf2f5 35.6%,#edf2f5 41.1%,#f6f7f7 50.5%,#f9f0eb 60.6%,#f9f0eb 66.1%,#f8f1ed 66.4%,#f8f1ed 68.3%,#f8f2ef 68.7%,#f8f4f2 73.2%,#f6f7f7 75.8%,#eff3f5 83%,#eaf1f5 92.7%,#e6eff4 94.3%,#e0ecf3 95.3%,#d7e8f1 96.3%,#cae1ee 96.9%,#b1d5e7 97.6%,#8dc2dc 98.2%,#4f9bc7 98.9%,#3783bb 99.2%,#2369ad 99.5%,#0f437b 100%)}.g1cb{background:linear-gradient(90deg,#ce4f45 0%,#de725b 0.5%,#ea8e70 0.8%,#f4a684 1.1%,#f7b698 1.5%,#f9c4a9 1.8%,#fdd9c4 2.4%,#fcdecd 2.8%,#fbe5d7 3.4%,#faebe2 4.4%,#f9eee8 5.7%,#f9f0eb 7%,#f9f0eb 16.1%,#f7f6f6 25.5%,#edf2f5 35.6%,#edf2f5 41.1%,#f6f7f7 50.5%,#f9f0eb 60.6%,#f9f0eb 66.1%,#f8f1ed 66.4%,#f8f1ed 68.3%,#f8f2ef 68.7%,#f8f4f2 73.2%,#f6f7f7 75.8%,#eff3f5 83%,#eaf1f5 92.7%,#e6eff4 94.3%,#e0ecf3 95.3%,#d7e8f1 96.3%,#cae1ee 96.9%,#b1d5e7 97.6%,#8dc2dc 98.2%,#71b0d3 98.5%,#4f9bc7 98.9%,#3783bb 99.2%,#2369ad 99.5%,#10457e 100%)}.g1cc{background:linear-gradient(90deg,#c13639 0%,#d45d4c 0.5%,#e37d63 0.8%,#ee9777 1.1%,#f5ac8b 1.5%,#f8bb9e 1.8%,#fcd3bc 2.4%,#fddbc7 2.8%,#fcdfcf 3.1%,#fbe5d9 3.7%,#f9ece4 5%,#f9eee8 6%,#f9f0eb 8%,#f9f0eb 16.1%,#f6f7f7 25.8%,#eff3f5 33%,#edf2f5 41.1%,#f6f7f7 50.5%,#f9f0eb 60.6%,#f9f0eb 66.1%,#f6f7f7 75.8%,#eff3f5 83%,#eaf1f5 92.7%,#e3edf3 95%,#d7e8f1 96.3%,#d2e6f0 96.6%,#cae1ee 96.9%,#b1d5e7 97.6%,#a1cde2 97.9%,#8dc2dc 98.2%,#71b0d3 98.5%,#509bc8 98.9%,#3885bc 99.2%,#246aae 99.5%,#10467f 100%)}.g1cd{background:linear-gradient(90deg,#b31d2d 0%,#c94741 0.5%,#db6b55 0.8%,#e8896c 1.1%,#f2a17f 1.5%,#f6b293 1.8%,#f9c0a5 2.1%,#fcd7c2 2.8%,#fce0d0 3.4%,#fbe6da 4.1%,#faebe3 5%,#f9efe9 6.7%,#f9f0eb 8.3%,#f9f0eb 16.1%,#f7f6f6 25.5%,#edf2f5 35.6%,#edf2f5 41.1%,#f6f7f7 50.5%,#f9f0eb 60.6%,#f9f0eb 66.1%,#f8f1ed 66.4%,#f8f1ed 68.3%,#f8f2ef 68.7%,#f8f4f2 73.2%,#f6f7f7 75.8%,#edf2f5 85.2%,#ecf2f5 91.7%,#e7f0f4 94%,#e3edf3 95%,#d7e8f1 96.3%,#d2e6f0 96.6%,#c0dceb 97.2%,#a2cde3 97.9%,#8fc3dd 98.2%,#74b2d4 98.5%,#529dc8 98.9%,#3986bc 99.2%,#266caf 99.5%,#124983 100%)}.g1ce{background:linear-gradient(90deg,#9c1127 0%,#be3137 0.5%,#d25849 0.8%,#e17860 1.1%,#ed9475 1.5%,#f5aa88 1.8%,#f7b99c 2.1%,#f9c6ac 2.4%,#fddac6 3.1%,#fce2d3 3.7%,#faeae1 5%,#f9ede6 6%,#f9f0eb 8.6%,#f9f0eb 16.1%,#f7f6f6 25.5%,#edf2f5 35.6%,#edf2f5 41.1%,#f6f7f7 50.5%,#f9f0eb 60.6%,#f9f0eb 66.1%,#f8f1ed 66.4%,#f8f1ed 68.3%,#f8f2ef 68.7%,#f8f4f2 73.2%,#f6f7f7 75.8%,#edf2f5 85.2%,#ecf2f5 91.7%,#e7f0f4 94%,#dbeaf2 95.9%,#d2e6f0 96.6%,#c0dceb 97.2%,#b3d6e8 97.6%,#a4cee3 97.9%,#90c4dd 98.2%,#76b3d4 98.5%,#569fc9 98.9%,#3b88bd 99.2%,#276fb0 99.5%,#144c88 100%)}.g1cf{background:linear-gradient(90deg,#810823 0%,#b31c2d 0.5%,#c94741 0.8%,#da6a55 1.1%,#e7876b 1.5%,#f2a07e 1.8%,#f6b293 2.1%,#fbccb4 2.8%,#fcd6c1 3.1%,#fddcca 3.4%,#fbe3d5 4.1%,#faebe2 5.4%,#f9efe9 7.3%,#f9efe9 8.6%,#f9f0eb 8.9%,#f9f0eb 16.1%,#f6f7f7 25.8%,#eff3f5 33%,#edf2f5 41.1%,#f6f7f7 50.5%,#f9f0eb 60.6%,#f9f0eb 66.1%,#f8f1ed 66.4%,#f8f1ed 68.3%,#f8f2ef 68.7%,#f8f4f2 73.2%,#f6f7f7 75.8%,#edf2f5 85.2%,#ecf2f5 92%,#e7f0f4 94%,#e1edf3 95.3%,#dbeaf2 95.9%,#d3e6f0 96.6%,#cce2ef 96.9%,#c1ddec 97.2%,#a5cfe4 97.9%,#93c6de 98.2%,#79b5d5 98.5%,#5aa1cb 98.9%,#3c8abe 99.2%,#2971b2 99.5%,#15508d 100%)}.g1d0{background:linear-gradient(90deg,#6a011f 0%,#a01228 0.5%,#c13639 0.8%,#d45b4b 1.1%,#e27b62 1.5%,#ee9677 1.8%,#f5aa89 2.1%,#fac7ae 2.8%,#fbd2bb 3.1%,#fddac6 3.4%,#fcdfcd 3.7%,#fae7db 4.7%,#f9ebe3 5.7%,#f9efe9 7.6%,#f9efe9 8.9%,#f9f0eb 9.3%,#f9f0eb 16.1%,#f6f7f7 25.8%,#eff3f5 33%,#edf2f5 41.1%,#f6f7f7 50.5%,#f9f0eb 60.6%,#f9f0eb 66.1%,#f6f7f7 75.8%,#eff3f5 83%,#eaf1f5 93%,#e1edf3 95.3%,#d8e9f1 96.3%,#cde3ef 96.9%,#b6d7e8 97.6%,#96c7df 98.2%,#7cb7d6 98.5%,#3f8dc0 99.2%,#2c74b3 99.5%,#185493 100%)}.g1d1{background:linear-gradient(90deg,#67001f 0%,#8d0c25 0.5%,#b82531 0.8%,#cd4e45 1.1%,#dd7059 1.5%,#e98c6f 1.8%,#f3a481 2.1%,#f7b596 2.4%,#fbceb6 3.1%,#fcd7c2 3.4%,#fdddcb 3.7%,#fbe6da 4.7%,#f9ede5 6.3%,#f9efe9 8%,#f9efe9 9.3%,#f9f0eb 9.6%,#f9f0eb 16.1%,#f6f7f7 25.8%,#eff3f5 33%,#edf2f5 41.1%,#f6f7f7 50.5%,#f9f0eb 60.6%,#f9f0eb 66.1%,#f6f7f7 75.8%,#eff3f5 83%,#edf2f5 89.8%,#e9f0f4 93.7%,#dceaf2 95.9%,#cfe4ef 96.9%,#c5dfec 97.2%,#a9d1e5 97.9%,#98c8e0 98.2%,#80bad8 98.5%,#4190c1 99.2%,#2f78b5 99.5%,#1a599a 100%)}.g1d2{background:linear-gradient(90deg,#67001f 0%,#7c0722 0.5%,#af182b 0.8%,#c7423f 1.1%,#d86551 1.5%,#f19e7d 2.1%,#f6b090 2.4%,#facbb2 3.1%,#fddcc8 3.7%,#fbe3d4 4.4%,#fae7dc 5%,#f9ebe3 6%,#f9efe9 8%,#f9f0eb 16.1%,#f6f7f7 25.8%,#eff3f5 33%,#edf2f5 41.1%,#f6f7f7 50.5%,#f9f0eb 60.6%,#f9f0eb 66.1%,#f6f7f7 75.8%,#eff3f5 83%,#edf2f5 89.8%,#e9f0f4 93.7%,#e6eff4 94.6%,#ddebf2 95.9%,#d5e7f1 96.6%,#cfe4f0 96.9%,#c5dfed 97.2%,#acd2e5 97.9%,#9bcae1 98.2%,#84bcd9 98.5%,#66a9cf 98.9%,#4493c3 99.2%,#327cb7 99.5%,#1d5fa2 100%)}.g1d3{background:linear-gradient(90deg,#67001f 0%,#6b0120 0.5%,#a31329 0.8%,#c13739 1.1%,#d55d4c 1.5%,#e37d63 1.8%,#ee9777 2.1%,#f5ac8b 2.4%,#fac7ae 3.1%,#fbd2bb 3.4%,#fddbc7 3.7%,#fae7db 5%,#f9ede5 6.7%,#f9efe9 8.3%,#f9f0eb 16.1%,#f6f7f7 25.8%,#eff3f5 33%,#edf2f5 41.1%,#f6f7f7 50.5%,#f9f0eb 60.6%,#f9f0eb 66.1%,#f8f1ed 66.4%,#f8f1ed 68.3%,#f8f2ef 68.7%,#f8f4f2 73.2%,#f6f7f7 75.8%,#edf2f5 85.2%,#ecf2f5 92%,#e7f0f4 94.3%,#e3edf3 95.3%,#d6e7f1 96.6%,#d1e5f0 96.9%,#bcdbea 97.6%,#9ecbe1 98.2%,#88bfdb 98.5%,#6cadd1 98.9%,#4997c5 99.2%,#3480b9 99.5%,#2065aa 100%)}.g1d4{background:linear-gradient(90deg,#67001f 0%,#67001f 0.5%,#981027 0.8%,#bd2d35 1.1%,#d05548 1.5%,#df765e 1.8%,#ec9273 2.1%,#f5a886 2.4%,#f9c5ab 3.1%,#fbcfb8 3.4%,#fdd9c4 3.7%,#fcdecc 4.1%,#fae8de 5.4%,#f9ede5 6.7%,#f9efe9 8.3%,#f9f0eb 16.1%,#f6f7f7 25.8%,#eff3f5 33%,#edf2f5 41.1%,#f6f7f7 50.5%,#f9f0eb 60.6%,#f9f0eb 66.1%,#f8f1ed 66.4%,#f8f1ed 68.3%,#f8f2ef 68.7%,#f8f4f2 73.2%,#f6f7f7 75.8%,#edf2f5 85.2%,#ecf2f5 92.4%,#e7f0f4 94.3%,#deebf2 95.9%,#d2e6f0 96.9%,#cae2ee 97.2%,#b2d5e7 97.9%,#a2cde3 98.2%,#8ec3dd 98.5%,#72b1d3 98.9%,#529cc8 99.2%,#3885bc 99.5%,#256baf 100%)}.g1d5{background:linear-gradient(90deg,#67001f 0%,#67001f 0.5%,#8f0d25 0.8%,#b92732 1.1%,#ce5045 1.5%,#dd715a 1.8%,#ea8e70 2.1%,#f4a683 2.4%,#f9c3a8 3.1%,#fbceb7 3.4%,#fdddcb 4.1%,#fbe4d6 4.7%,#fae9df 5.7%,#f9eee7 7.3%,#f9f0eb 10.2%,#f8f1ed 18.3%,#f6f7f7 25.8%,#eff3f5 33%,#edf2f5 41.1%,#f6f7f7 50.5%,#f9f0eb 60.6%,#f9f0eb 66.1%,#f6f7f7 75.8%,#eff3f5 83%,#edf2f5 90.1%,#eaf1f5 93.3%,#e1edf3 95.6%,#d8e9f1 96.6%,#d4e6f1 96.9%,#cce2ef 97.2%,#b5d7e8 97.9%,#94c6df 98.5%,#79b5d5 98.9%,#59a1ca 99.2%,#3c8abe 99.5%,#2a71b2 100%)}.g1d6{background:linear-gradient(90deg,#67001f 0%,#67001f 0.5%,#8b0c25 0.8%,#b82531 1.1%,#cd4d44 1.5%,#dd7059 1.8%,#f3a481 2.4%,#f7b596 2.8%,#fbcdb5 3.4%,#fcd7c2 3.7%,#fdddcb 4.1%,#fbe6da 5%,#fae9df 5.7%,#f9eee7 7.3%,#f9f0eb 10.2%,#f8f1ed 18.3%,#f6f7f7 25.8%,#eff3f5 33%,#edf2f5 41.1%,#f6f7f7 50.5%,#f9f0eb 60.6%,#f9f0eb 66.1%,#f6f7f7 75.8%,#eff3f5 83%,#edf2f5 90.1%,#eaf1f5 93.3%,#e6eff4 95%,#e0ecf3 95.9%,#d9e9f1 96.6%,#cfe4ef 97.2%,#b7d8e9 97.9%,#97c8e0 98.5%,#7fb9d7 98.9%,#408fc1 99.5%,#2e77b5 100%)}.g1d7{background:linear-gradient(90deg,#67001f 0%,#67001f 0.5%,#8a0b25 0.8%,#b82531 1.1%,#cc4c44 1.5%,#dd7059 1.8%,#f3a481 2.4%,#f7b596 2.8%,#f9c2a7 3.1%,#fcd7c2 3.7%,#fdddcb 4.1%,#fce0d0 4.4%,#fbe6da 5%,#fae9df 5.7%,#f9eee7 7.3%,#f9f0eb 10.2%,#f8f1ed 18.3%,#f6f7f7 25.8%,#eff3f5 33%,#edf2f5 41.1%,#f6f7f7 50.5%,#f9f0eb 60.6%,#f9f0eb 66.1%,#f6f7f7 75.8%,#edf2f5 85.2%,#ecf2f5 92.7%,#e3edf3 95.6%,#dae9f2 96.6%,#d1e5f0 97.2%,#bbdaea 97.9%,#add3e6 98.2%,#9bcae1 98.5%,#85bdda 98.9%,#67aacf 99.2%,#4493c3 99.5%,#327cb7 100%)}.g1d8{background:linear-gradient(90deg,#67001f 0%,#67001f 0.5%,#8a0b25 0.8%,#b82531 1.1%,#cc4c44 1.5%,#dd7059 1.8%,#f3a481 2.4%,#f7b596 2.8%,#f9c2a7 3.1%,#fcd7c2 3.7%,#fdddcb 4.1%,#fce0d0 4.4%,#fbe6da 5%,#fae9df 5.7%,#f9eee7 7.3%,#f9f0eb 10.2%,#f8f1ed 18.3%,#f6f7f7 25.8%,#eff3f5 33%,#edf2f5 41.1%,#f6f7f7 50.5%,#f9f0eb 60.6%,#f9f0eb 66.1%,#f6f7f7 75.8%,#eff3f5 83%,#edf2f5 90.4%,#eaf1f5 93.7%,#deebf2 96.3%,#d2e5f0 97.2%,#c9e1ee 97.6%,#b0d4e7 98.2%,#9fcbe2 98.5%,#8ac0db 98.9%,#6eaed2 99.2%,#4c99c6 99.5%,#3681ba 100%)}.g1d9{background:linear-gradient(90deg,#67001f 0%,#67001f 0.5%,#8a0b25 0.8%,#b82531 1.1%,#cc4c44 1.5%,#dd7059 1.8%,#f3a481 2.4%,#f7b596 2.8%,#f9c2a7 3.1%,#fcd7c2 3.7%,#fdddcb 4.1%,#fce0d0 4.4%,#fbe6da 5%,#fae9df 5.7%,#f9eee7 7.3%,#f9f0eb 10.2%,#f8f1ed 18.3%,#f6f7f7 25.8%,#eff3f5 33%,#edf2f5 41.1%,#f6f7f7 50.5%,#f9f0eb 60.6%,#f9f0eb 66.1%,#f6f7f7 75.8%,#eff3f5 83%,#edf2f5 90.7%,#eaf1f5 93.7%,#e7eff4 95%,#e1edf3 95.9%,#d8e8f1 96.9%,#cbe2ee 97.6%,#c1ddeb 97.9%,#b3d6e7 98.2%,#a4cee3 98.5%,#90c4dd 98.9%,#75b2d4 99.2%,#549dc9 99.5%,#3a87bd 100%)}.g1da{background:linear-gradient(90deg,#67001f 0%,#67001f 0.5%,#8a0b25 0.8%,#b82531 1.1%,#cc4c44 1.5%,#dd7059 1.8%,#f3a481 2.4%,#f7b596 2.8%,#f9c2a7 3.1%,#fcd7c2 3.7%,#fdddcb 4.1%,#fce0d0 4.4%,#fbe6da 5%,#fae9df 5.7%,#f9eee7 7.3%,#f9f0eb 10.2%,#f8f1ed 18.3%,#f6f7f7 25.8%,#eff3f5 33%,#edf2f5 41.1%,#f6f7f7 50.5%,#f9f0eb 60.6%,#f9f0eb 66.1%,#f6f7f7 75.8%,#eff3f5 83%,#ecf2f5 93%,#e4eef4 95.6%,#ddebf2 96.6%,#d4e7f1 97.2%,#cee3ef 97.6%,#b7d8e8 98.2%,#a8d0e4 98.5%,#95c6df 98.9%,#7bb6d6 99.2%,#5ca3cb 99.5%,#3e8cbf 100%)}.g1db{background:linear-gradient(90deg,#67001f 0%,#67001f 0.5%,#8a0b25 0.8%,#b82531 1.1%,#cc4c44 1.5%,#dd7059 1.8%,#f3a481 2.4%,#f7b596 2.8%,#f9c2a7 3.1%,#fcd7c2 3.7%,#fdddcb 4.1%,#fce0d0 4.4%,#fbe6da 5%,#fae9df 5.7%,#f9eee7 7.3%,#f9f0eb 10.2%,#f8f1ed 18.3%,#f6f7f7 25.8%,#eff3f5 33%,#edf2f5 41.1%,#f6f7f7 50.5%,#f9f0eb 60.6%,#f9f0eb 66.1%,#f6f7f7 75.8%,#eff3f5 83%,#edf2f5 91.1%,#eaf1f5 94%,#e3edf3 95.9%,#dae9f2 96.9%,#d0e5f0 97.6%,#b9d9e9 98.2%,#99c9e0 98.9%,#81bad8 99.2%,#63a7ce 99.5%,#4291c2 100%)}.g1dc{background:linear-gradient(90deg,#67001f 0%,#67001f 0.5%,#8a0b25 0.8%,#b82531 1.1%,#cc4c44 1.5%,#dd7059 1.8%,#f3a481 2.4%,#f7b596 2.8%,#f9c2a7 3.1%,#fcd7c2 3.7%,#fdddcb 4.1%,#fce0d0 4.4%,#fbe6da 5%,#fae9df 5.7%,#f9eee7 7.3%,#f9f0eb 10.2%,#f8f1ed 18.3%,#f6f7f7 25.8%,#eff3f5 33%,#edf2f5 41.1%,#f6f7f7 50.5%,#f9f0eb 60.6%,#f9f0eb 66.1%,#f6f7f7 75.8%,#eff3f5 83%,#edf2f5 91.1%,#eaf1f5 94%,#e1edf3 96.3%,#d1e5f0 97.6%,#bcdbea 98.2%,#9ecbe1 98.9%,#87beda 99.2%,#6aacd0 99.5%,#4695c4 100%)}.g1dd{background:linear-gradient(90deg,#67001f 0%,#67001f 0.5%,#8a0b25 0.8%,#b82531 1.1%,#cc4c44 1.5%,#dd7059 1.8%,#f3a481 2.4%,#f7b596 2.8%,#f9c2a7 3.1%,#fcd7c2 3.7%,#fdddcb 4.1%,#fce0d0 4.4%,#fbe6da 5%,#fae9df 5.7%,#f9eee7 7.3%,#f9f0eb 10.2%,#f8f1ed 18.3%,#f6f7f7 25.8%,#eff3f5 33%,#edf2f5 40.7%,#f6f7f7 50.5%,#f9f0eb 60.6%,#f8f1ed 68.3%,#f6f7f7 75.8%,#eff3f5 83%,#ecf2f5 93.3%,#e6eff4 95.6%,#dbeaf2 96.9%,#d2e6f0 97.6%,#cae2ee 97.9%,#bfdceb 98.2%,#a1cde2 98.9%,#8cc1dc 99.2%,#70b0d3 99.5%,#4e9ac7 100%)}.g1de{background:linear-gradient(90deg,#67001f 0%,#67001f 0.5%,#8a0b25 0.8%,#b82531 1.1%,#cc4c44 1.5%,#dd7059 1.8%,#f3a481 2.4%,#f7b596 2.8%,#f9c2a7 3.1%,#fcd7c2 3.7%,#fdddcb 4.1%,#fce0d0 4.4%,#fbe6da 5%,#fae9df 5.7%,#f9eee7 7.3%,#f9f0eb 10.2%,#f8f1ed 18.3%,#f6f7f7 25.8%,#eff3f5 33%,#edf2f5 40.7%,#f6f7f7 50.5%,#f9f0eb 60.6%,#f8f1ed 68.3%,#f6f7f7 75.8%,#eff3f5 83%,#edf2f5 91.4%,#eaf1f5 94.3%,#e0ecf3 96.6%,#d4e6f1 97.6%,#cce2ef 97.9%,#b4d6e8 98.5%,#91c5de 99.2%,#76b3d4 99.5%,#559ec9 100%)}.g1df{background:linear-gradient(90deg,#67001f 0%,#67001f 0.5%,#8a0b25 0.8%,#b82531 1.1%,#cc4c44 1.5%,#dd7059 1.8%,#f3a481 2.4%,#f7b596 2.8%,#f9c2a7 3.1%,#fcd7c2 3.7%,#fdddcb 4.1%,#fce0d0 4.4%,#fbe6da 5%,#fae9df 5.7%,#f9eee7 7.3%,#f9f0eb 10.2%,#f8f1ed 18.3%,#f6f7f7 25.8%,#eff3f5 33%,#edf2f5 40.7%,#f6f7f7 50.5%,#f9f0eb 60.6%,#f8f1ed 68.3%,#f6f7f7 75.8%,#eff3f5 83%,#edf2f5 91.7%,#eaf1f5 94.3%,#e3edf3 96.3%,#d9e9f2 97.2%,#cfe4ef 97.9%,#b6d7e8 98.5%,#a7d0e4 98.9%,#95c6df 99.2%,#7ab6d6 99.5%,#5ba2cb 100%)}.g1e0{background:linear-gradient(90deg,#67001f 0%,#67001f 0.5%,#8a0b25 0.8%,#b82531 1.1%,#cc4c44 1.5%,#dd7059 1.8%,#f3a481 2.4%,#f7b596 2.8%,#f9c2a7 3.1%,#fcd7c2 3.7%,#fdddcb 4.1%,#fce0d0 4.4%,#fbe6da 5%,#fae9df 5.7%,#f9eee7 7.3%,#f9f0eb 10.2%,#f8f1ed 18.3%,#f6f7f7 25.8%,#eff3f5 33%,#edf2f5 40.7%,#f6f7f7 50.5%,#f9f0eb 60.6%,#f8f1ed 68.3%,#f6f7f7 75.8%,#eff3f5 83%,#edf2f5 91.7%,#eaf1f5 94.3%,#e3edf3 96.3%,#dae9f2 97.2%,#cfe4f0 97.9%,#b8d8e9 98.5%,#a9d1e5 98.9%,#97c8e0 99.2%,#7fb9d7 99.5%,#60a5cd 100%)}.g1e1{background:linear-gradient(90deg,#67001f 0%,#67001f 0.5%,#8a0b25 0.8%,#b82531 1.1%,#cc4c44 1.5%,#dd7059 1.8%,#f3a481 2.4%,#f7b596 2.8%,#f9c2a7 3.1%,#fcd7c2 3.7%,#fdddcb 4.1%,#fce0d0 4.4%,#fbe6da 5%,#fae9df 5.7%,#f9eee7 7.3%,#f9f0eb 10.2%,#f8f1ed 18.3%,#f6f7f7 25.8%,#eff3f5 33%,#edf2f5 40.7%,#f6f7f7 50.5%,#f9f0eb 60.6%,#f8f1ed 68.3%,#f6f7f7 75.8%,#eff3f5 83%,#edf2f5 91.7%,#eaf1f5 94.6%,#e1edf3 96.6%,#d1e5f0 97.9%,#bad9e9 98.5%,#9ac9e0 99.2%,#82bbd9 99.5%,#63a7ce 100%)}.g1e2{background:linear-gradient(90deg,#67001f 0%,#67001f 0.5%,#8a0b25 0.8%,#b82531 1.1%,#cc4c44 1.5%,#dd7059 1.8%,#f3a481 2.4%,#f7b596 2.8%,#f9c2a7 3.1%,#fcd7c2 3.7%,#fdddcb 4.1%,#fce0d0 4.4%,#fbe6da 5%,#fae9df 5.7%,#f9eee7 7.3%,#f9f0eb 10.2%,#f8f1ed 18.3%,#f6f7f7 25.8%,#eff3f5 33%,#edf2f5 40.7%,#f6f7f7 50.5%,#f8f3f0 54.7%,#f9f0eb 60.9%,#f8f1ed 68.3%,#f6f7f7 75.8%,#eff3f5 83%,#edf2f5 92%,#eaf1f5 94.6%,#e1edf3 96.6%,#d7e8f1 97.6%,#d1e5f0 97.9%,#bbdaea 98.5%,#9bc9e0 99.2%,#84bcd9 99.5%,#65a9cf 100%)}.g1e3{background:linear-gradient(90deg,#67001f 0%,#67001f 0.5%,#8a0b25 0.8%,#b82531 1.1%,#cc4c44 1.5%,#dd7059 1.8%,#f3a481 2.4%,#f7b596 2.8%,#f9c2a7 3.1%,#fcd7c2 3.7%,#fdddcb 4.1%,#fbe6da 5%,#f9ede5 6.7%,#f9f0eb 10.2%,#f8f1ed 18.3%,#f6f7f7 25.8%,#eff3f5 33.3%,#edf2f5 40.7%,#f6f7f7 50.5%,#f8f3f0 54.7%,#f8f1ed 60.6%,#f9f0eb 60.9%,#f8f1ed 68.3%,#f6f7f7 75.8%,#edf2f5 85.6%,#edf2f5 92%,#eaf1f5 94.6%,#e1edf3 96.6%,#dbeaf2 97.2%,#d1e5f0 97.9%,#bbdaea 98.5%,#9bc9e0 99.2%,#84bcd9 99.5%,#67aacf 100%)}.g1e4{background:linear-gradient(90deg,#67001f 0%,#67001f 0.5%,#8a0b25 0.8%,#b82531 1.1%,#cc4c44 1.5%,#dd7059 1.8%,#f3a481 2.4%,#f7b596 2.8%,#f9c2a7 3.1%,#fcd7c2 3.7%,#fdddcb 4.1%,#fbe6da 5%,#f9ede5 6.7%,#f9f0eb 9.9%,#f8f1ed 18.3%,#f6f7f7 25.8%,#eff3f5 33.3%,#edf2f5 40.4%,#f6f7f7 50.5%,#f8f2ef 56.3%,#f8f1ed 60.6%,#f9f0eb 60.9%,#f8f1ed 68.3%,#f6f7f7 75.8%,#eff3f5 83.3%,#edf2f5 92%,#eaf1f5 94.6%,#e1edf3 96.6%,#dbeaf2 97.2%,#d1e5f0 97.9%,#bbdaea 98.5%,#9bc9e0 99.2%,#84bcd9 99.5%,#68abd0 100%)}.g1e5{background:linear-gradient(90deg,#67001f 0%,#67001f 0.5%,#8a0b25 0.8%,#b82531 1.1%,#cc4c44 1.5%,#dd7059 1.8%,#f3a481 2.4%,#f7b596 2.8%,#f9c2a7 3.1%,#fcd7c2 3.7%,#fdddcb 4.1%,#fbe6da 5%,#f9ede5 6.7%,#f9f0eb 9.9%,#f8f1ed 18.3%,#f6f7f7 25.8%,#eff3f5 33.3%,#edf2f5 40.1%,#f6f7f7 50.5%,#f8f2ef 56.7%,#f9f0eb 61.5%,#f8f1ed 68%,#f6f7f7 75.8%,#eff3f5 83.3%,#edf2f5 92%,#eaf1f5 94.6%,#e1edf3 96.6%,#dbeaf2 97.2%,#d1e5f0 97.9%,#bbdaea 98.5%,#9bc9e0 99.2%,#84bcd9 99.5%,#68abd0 100%)}.g1e6{background:linear-gradient(90deg,#67001f 0%,#67001f 0.5%,#8a0b25 0.8%,#b82531 1.1%,#cc4c44 1.5%,#dd7059 1.8%,#f3a481 2.4%,#f7b596 2.8%,#f9c2a7 3.1%,#fcd7c2 3.7%,#fdddcb 4.1%,#fbe6da 5%,#f9ede5 6.7%,#f9f0eb 9.6%,#f8f1ed 18%,#f6f7f7 25.8%,#eff3f5 33.6%,#edf2f5 38.8%,#f6f7f7 50.5%,#f9f0eb 62.5%,#f8f1ed 68%,#f6f7f7 75.8%,#eff3f5 83.6%,#edf2f5 92.4%,#eaf1f5 94.6%,#e1edf3 96.6%,#dbeaf2 97.2%,#d1e5f0 97.9%,#bbdaea 98.5%,#9bc9e0 99.2%,#84bcd9 99.5%,#68abd0 100%)}.g1e7{background:linear-gradient(90deg,#67001f 0%,#67001f 0.5%,#8b0c25 0.8%,#b82431 1.1%,#cc4c44 1.5%,#dd7059 1.8%,#f3a481 2.4%,#f7b596 2.8%,#f9c2a7 3.1%,#fcd7c2 3.7%,#fdddcb 4.1%,#fbe6da 5%,#f9ede5 6.7%,#f9f0eb 9.6%,#f8f1ed 17.7%,#f6f7f7 25.8%,#eff3f5 33.9%,#eff3f5 40.4%,#f7f6f6 47.2%,#f6f6f7 54.1%,#f8f1ed 61.2%,#f8f1ed 67.4%,#f6f7f7 75.8%,#eff3f5 83.6%,#ecf2f5 94%,#e6eff4 95.9%,#dbeaf2 97.2%,#d1e5f0 97.9%,#bbdaea 98.5%,#9bc9e0 99.2%,#84bcd9 99.5%,#66a9cf 100%)}.g1e8{background:linear-gradient(90deg,#67001f 0%,#6b0120 0.5%,#9d1128 0.8%,#be3137 1.1%,#d25849 1.5%,#e17960 1.8%,#ec9374 2.1%,#f5a987 2.4%,#f9c5ab 3.1%,#fdd9c4 3.7%,#fce1d1 4.4%,#fbe6da 5%,#fae9df 5.7%,#f9ede6 7.3%,#f9efea 10.2%,#f8f1ed 18%,#f6f7f7 26.8%,#eff3f5 35.9%,#f0f4f6 39.4%,#f5f6f6 42.4%,#f7f5f3 44%,#f9efea 46.3%,#f8f1ec 48.9%,#f6f7f7 50.8%,#eef3f5 52.8%,#edf2f5 55.4%,#f7f6f5 58.9%,#f8f2ee 61.9%,#f8f1ed 63.8%,#f8f2ef 68.7%,#f6f7f7 75.8%,#eff3f5 83.6%,#edf2f5 91.7%,#e9f0f4 95%,#e0ecf3 96.6%,#dae9f2 97.2%,#d0e5f0 97.9%,#b9d9e9 98.5%,#abd2e5 98.9%,#9ac9e0 99.2%,#82bbd9 99.5%,#65a9cf 100%)}.g1e9{background:linear-gradient(90deg,#750421 0%,#a1162a 0.5%,#c13739 0.8%,#d45d4d 1.1%,#e27c62 1.5%,#ee9677 1.8%,#f4aa89 2.1%,#f7ba9d 2.4%,#f9c6ac 2.8%,#fbd1ba 3.1%,#fcd9c5 3.4%,#fcdecd 3.7%,#fbe4d7 4.4%,#fae8de 5%,#f9ede6 6.7%,#f9efe9 8.6%,#f8f0eb 19%,#f7f6f6 27.4%,#f2f5f6 35.2%,#f2f5f6 38.5%,#f5f6f6 39.8%,#f8f3f0 41.7%,#f9eee7 43%,#fcdfcf 45.6%,#fbdcca 46.9%,#fcdecd 47.9%,#fbe2d4 48.5%,#faeae1 49.5%,#f6f7f7 50.8%,#ddebf2 52.8%,#d7e8f1 53.4%,#d3e6f0 54.4%,#d6e8f1 55.7%,#e7eff4 58%,#f4f5f6 60.2%,#f8f5f3 62.2%,#f8f3f0 66.4%,#f7f6f6 72.6%,#eef3f5 81.7%,#ebf1f5 93.7%,#e8f0f4 95.3%,#e3eef3 96.3%,#deebf2 96.9%,#d1e5f0 97.9%,#bddbea 98.5%,#9fcbe2 99.2%,#8bc1dc 99.5%,#6daed1 100%)}.g1ea{background:linear-gradient(90deg,#c1383a 0%,#d45e4f 0.5%,#e37e64 0.8%,#ee9778 1.1%,#f4ac8c 1.5%,#f8bb9e 1.8%,#fcd3bc 2.4%,#fcdfcf 3.1%,#fbe5d9 3.7%,#faebe3 4.7%,#f9f0eb 6.7%,#f8f0eb 17%,#f7f6f5 31.3%,#f7f5f4 36.9%,#f8f4f2 38.1%,#f8f0eb 39.8%,#fbe6da 41.7%,#fcd7c3 43.3%,#f8bda1 45%,#f6b496 45.6%,#f4ab8d 46.3%,#f3aa8b 46.9%,#f5af90 47.6%,#f7b99c 48.2%,#f9c0a5 48.5%,#fcdcc9 49.5%,#f8f1ed 50.5%,#f5f6f7 50.8%,#d9e9f1 51.8%,#aed3e6 53.1%,#a0cce2 53.7%,#98c7df 54.7%,#a0cce2 55.7%,#c4deec 57.6%,#d3e6f0 58.6%,#dbeaf2 59.3%,#e9f1f4 60.9%,#f3f5f6 63.1%,#f6f6f6 68%,#eef3f5 84.3%,#eef3f5 92%,#eaf1f5 95.6%,#e1edf3 97.2%,#d5e7f1 98.2%,#c4deec 98.9%,#a8d0e4 99.5%,#95c6df 100%)}.g1eb{background:linear-gradient(90deg,#ee9c7e 0%,#f5b092 0.5%,#facbb2 1.1%,#fcdbc9 1.8%,#fce1d1 2.1%,#fae7db 2.8%,#f9ede5 3.7%,#f9efea 4.4%,#f8f2ef 6%,#f8f3f0 17.4%,#f7f6f6 29.4%,#f7f5f4 36.2%,#f8f2ef 38.1%,#f9ece4 39.8%,#fae8dd 40.4%,#fddcca 41.7%,#f9c3a8 43%,#f5ac8b 44%,#ef9979 44.6%,#e17860 45.9%,#dd7059 46.6%,#de735c 47.2%,#e17860 47.6%,#e88a6e 48.2%,#f4a886 48.9%,#fac7ae 49.5%,#fdd9c5 49.8%,#f9eee8 50.5%,#f5f6f7 50.8%,#d8e9f1 51.5%,#8fc3dd 52.8%,#6fafd2 53.4%,#64a8ce 53.7%,#5ca3cb 54.1%,#569fc9 54.7%,#58a0ca 55%,#62a7ce 55.7%,#74b2d4 56.3%,#9ccae1 57.6%,#d0e4f0 59.6%,#dceaf2 60.6%,#e6eff4 61.5%,#ebf1f5 62.2%,#f2f5f6 63.8%,#f6f6f7 67.4%,#f6f6f7 72.2%,#f2f5f6 82.3%,#f0f4f6 94.6%,#ecf2f5 96.6%,#e5eef4 97.9%,#deebf2 98.5%,#d4e7f0 99.2%,#cde3ef 99.5%,#c3deec 100%)}.g1ec{background:linear-gradient(90deg,#fbdccb 0%,#fbe5d9 0.8%,#f9eee7 2.1%,#f8f2ef 3.4%,#f8f4f2 4.7%,#f8f5f3 17.7%,#f6f7f7 27.1%,#f5f6f7 35.6%,#f7f6f5 37.8%,#f8f1ed 39.4%,#f9eee7 40.1%,#fae9df 40.7%,#fcddcb 42%,#fbd2bb 42.7%,#f4a787 44.3%,#ed9677 45%,#e68569 45.6%,#e17960 46.3%,#e0775e 46.9%,#e17960 47.2%,#e6866a 47.9%,#f09e7e 48.5%,#f5ac8c 48.9%,#f8bb9e 49.2%,#fddbc7 49.8%,#f9efe9 50.5%,#f5f6f7 50.8%,#cbe2ee 51.8%,#a5cee3 52.4%,#76b3d4 53.4%,#63a7ce 54.1%,#5da3cc 54.7%,#63a7ce 55.4%,#70b0d3 56%,#a4cee3 57.6%,#d1e5f0 59.3%,#e6eff4 60.9%,#f3f5f6 62.8%,#f7f7f6 64.4%,#f7f6f5 66.4%,#f6f7f7 75.8%,#f3f5f6 95.9%,#eef3f5 98.2%,#e3edf3 100%)}.g1ed{background:linear-gradient(90deg,#f8f3f0 0%,#f7f6f5 3.1%,#f7f6f5 38.8%,#f9f0eb 41.4%,#fbe6da 43.3%,#fad3c0 45.6%,#f9cfba 46.6%,#f9cfba 46.9%,#f9d1bd 47.6%,#fadbca 48.5%,#fae8dd 49.5%,#f6f6f7 50.8%,#d5e6f0 52.8%,#c8e0ed 53.7%,#c4deeb 54.7%,#c4deeb 55%,#cae1ed 56%,#dfebf2 58%,#ecf2f5 59.9%,#f3f5f6 61.5%,#f6f7f7 63.1%,#f6f6f7 97.9%,#f4f5f6 100%)}.g1ee{background:linear-gradient(90deg,#e7eff4 0%,#f2f5f6 1.8%,#f6f5f5 3.1%,#f8f0eb 7.6%,#f9efe9 12.5%,#f9efea 22.9%,#f8f1ed 33.3%,#f6f7f7 51.8%,#eff3f5 70.9%,#edf2f5 83.9%,#eef3f5 91.7%,#f4f5f6 95.9%,#f7f4f2 97.9%,#faeae1 100%)}.g1ef{background:linear-gradient(90deg,#f0f4f6 0%,#f5f6f6 0.8%,#f7f5f4 1.5%,#f8f1ec 2.8%,#f9ede6 4.4%,#faeae0 9.3%,#f9ebe3 24.5%,#f6f7f7 51.1%,#e6eff4 82.3%,#e6eff4 92.7%,#ebf1f5 95.9%,#f5f6f6 98.5%,#f7f5f4 99.2%,#f8f2ee 100%)}.g1f0{background:linear-gradient(90deg,#f6f6f7 0%,#f8f1ed 1.5%,#faeae1 3.7%,#fae7dc 6.7%,#fbe6da 8.6%,#fbe6da 13.8%,#faeae1 26.5%,#f6f7f7 51.1%,#e7eff4 72.6%,#e1edf3 84.9%,#e3edf3 94.3%,#ecf2f5 97.9%,#f6f6f7 99.5%,#f7f5f4 100%)}.g1f1{background:linear-gradient(90deg,#f7f6f5 0%,#f9ece4 2.1%,#fae7db 4.7%,#fbe5d7 7.3%,#fbe4d7 12.8%,#faeae1 29.4%,#f6f7f7 51.1%,#e6eff4 71.6%,#deebf2 87.2%,#deebf2 91.4%,#e2edf3 95.6%,#ecf2f5 98.5%,#f6f6f7 100%)}.g1f2{background:linear-gradient(90deg,#f8f5f3 0%,#f9efea 1.1%,#faeae1 2.4%,#fbe5d9 4.7%,#fbe3d5 7.3%,#fbe3d4 12.2%,#fae9df 30%,#f6f7f7 50.8%,#e3edf3 73.9%,#dceaf2 88.1%,#dceaf2 92.7%,#dfecf3 95.3%,#e9f0f4 98.2%,#f5f6f7 100%)}.g1f3{background:linear-gradient(90deg,#f8f4f2 0%,#faeae1 2.1%,#fbe4d6 5%,#fce2d2 8.3%,#fce2d2 13.1%,#fbe5d8 22.9%,#faeae1 33.3%,#f6f7f7 50.8%,#e1edf3 74.2%,#dae9f2 87.8%,#dae9f2 91.7%,#ddebf2 95%,#e8f0f4 98.2%,#f5f6f7 100%)}.g1f4{background:linear-gradient(90deg,#f7f5f4 0%,#f9ede5 1.5%,#fbe6da 3.4%,#fbe3d5 5%,#fce0d0 8.6%,#fce0d0 12.8%,#fbe4d6 22.6%,#fae9df 32.6%,#f6f7f7 50.8%,#e4eef4 69%,#ddebf2 79.1%,#d9e9f1 88.5%,#dae9f2 93%,#deebf2 95.9%,#e7f0f4 98.2%,#f5f6f7 100%)}.g1f5{background:linear-gradient(90deg,#f7f6f5 0%,#f8f1ed 0.8%,#f9ebe3 1.8%,#fbe4d7 4.1%,#fce0d0 7%,#fcdfcf 11.9%,#fce2d2 19.6%,#fbe6da 28.4%,#f6f7f7 50.8%,#e0ecf3 73.2%,#d8e8f1 87.5%,#d8e9f1 92.7%,#ddebf2 95.6%,#e6eff4 97.9%,#f6f6f7 100%)}.g1f6{background:linear-gradient(90deg,#f7f7f7 0%,#faeae1 2.1%,#fbe4d6 4.1%,#fce0d0 6%,#fcdfcd 9.6%,#fcdfcf 16.1%,#fbe6da 29.7%,#f6f7f7 50.8%,#e0ecf3 71.9%,#d7e8f1 86.2%,#d7e8f1 91.7%,#dbeaf2 95.3%,#e6eff4 97.9%,#f7f7f6 100%)}.g1f7{background:linear-gradient(90deg,#f4f6f6 0%,#f7f6f5 0.5%,#faebe2 2.1%,#fbe3d4 4.4%,#fcdfcf 6.7%,#fcdecc 9.6%,#fcdecd 15.4%,#fbe4d6 27.4%,#f9ebe3 38.1%,#f6f7f7 50.8%,#ddebf2 74.2%,#d5e7f1 86.9%,#d5e7f1 91.1%,#dae9f2 95%,#e4eef4 97.6%,#f6f6f7 99.5%,#f7f5f4 100%)}.g1f8{background:linear-gradient(90deg,#f2f5f6 0%,#f7f7f7 0.5%,#fae9df 2.4%,#fce2d2 4.7%,#fcdecd 7%,#fdddcb 8.9%,#fdddcb 14.8%,#fce2d2 25.2%,#faeae1 37.5%,#f6f7f7 50.8%,#ddebf2 72.9%,#d4e6f1 88.5%,#d5e7f1 92.4%,#dbeaf2 95.6%,#e3edf3 97.2%,#f4f5f6 99.2%,#f7f7f6 99.5%,#f8f4f1 100%)}.g1f9{background:linear-gradient(90deg,#f0f4f6 0%,#f7f6f5 0.8%,#f8f0eb 1.5%,#fae8de 2.8%,#fce2d2 4.7%,#fcdfcf 5.7%,#fddcc9 9.6%,#fdddcb 18%,#fbe3d4 28.4%,#faeae1 38.1%,#f6f7f7 50.8%,#ddebf2 71.6%,#d3e6f0 87.2%,#d4e6f1 92%,#dae9f2 95.3%,#e3eef3 97.2%,#f5f6f7 99.2%,#f7f5f4 99.5%,#f8f1ed 100%)}.g1fa{background:linear-gradient(90deg,#edf2f5 0%,#f7f7f7 0.8%,#f8f4f2 1.1%,#faeae1 2.4%,#fae7dc 3.1%,#fce0d0 5%,#fdddcb 7%,#fddbc7 10.6%,#fddcca 18.7%,#fce2d2 28.1%,#faeae1 38.8%,#f6f7f7 50.8%,#deebf2 69%,#d5e7f1 79.7%,#d2e5f0 85.9%,#d2e6f0 91.4%,#d8e9f1 95%,#e6eff4 97.6%,#f7f7f6 99.2%,#f9efea 100%)}.g1fb{background:linear-gradient(90deg,#eaf1f5 0%,#f4f6f6 0.8%,#f7f5f4 1.1%,#f9ede6 2.1%,#fae7dc 3.1%,#fcdfcf 5.4%,#fddcc9 7.3%,#fddac5 10.2%,#fddac5 15.1%,#fce1d1 28.4%,#faeae1 39.4%,#f6f7f7 50.8%,#ddebf2 69.3%,#d0e5f0 85.9%,#d1e5f0 91.4%,#d7e8f1 94.6%,#e2edf3 96.9%,#f5f6f7 98.9%,#f7f5f4 99.2%,#f9ede6 100%)}.g1fc{background:linear-gradient(90deg,#e7f0f4 0%,#f7f7f6 1.1%,#f9eee7 2.1%,#fae9df 2.8%,#fce0d0 4.7%,#fddbc7 7.6%,#fcd7c2 10.9%,#fdd9c4 17.7%,#fce2d2 30.7%,#f9ebe3 41.1%,#f6f7f7 50.8%,#deebf2 67%,#d5e7f1 75.8%,#cee3ef 85.9%,#cfe4ef 90.4%,#d5e7f1 94.3%,#dae9f2 95.6%,#e4eef4 97.2%,#f7f7f7 98.9%,#f8f4f2 99.2%,#f9ebe3 100%)}.g1fd{background:linear-gradient(90deg,#e8f0f4 0%,#ebf1f5 0.5%,#f6f6f7 1.1%,#f8f4f2 1.5%,#faeae0 2.8%,#fbe3d4 4.1%,#fcdecd 5.4%,#fdd9c4 8%,#fcd5c0 11.2%,#fcd7c2 19%,#fce0d0 30.7%,#fbe6da 36.5%,#f6f7f7 50.8%,#dceaf2 68%,#cbe2ee 85.6%,#cce2ef 90.1%,#d7e8f1 95%,#e0ecf3 96.6%,#f3f5f6 98.5%,#f7f6f5 98.9%,#f9eee8 99.5%,#f9ece4 100%)}.g1fe{background:linear-gradient(90deg,#e9f0f4 0%,#e9f0f4 0.5%,#f4f6f6 1.1%,#f7f5f4 1.5%,#f9efe9 2.1%,#fbe6da 3.4%,#fdddcb 5.7%,#fcd6c1 8.6%,#fcd3bd 11.2%,#fcd4be 17.4%,#fcdfcf 30.7%,#f9ede5 43%,#f6f7f7 50.8%,#dbeaf2 67.4%,#c9e1ee 84.9%,#cae1ee 89.8%,#d4e6f1 94.3%,#e0ecf3 96.6%,#ecf2f5 97.9%,#f5f6f7 98.5%,#f7f5f4 98.9%,#f9ede5 99.5%,#f9ede5 100%)}.g1ff{background:linear-gradient(90deg,#eaf1f5 0%,#edf2f5 0.8%,#f7f6f6 1.5%,#f9ede5 2.4%,#fbe4d6 3.7%,#fcdecd 5%,#fcd5bf 8.3%,#fbd1ba 11.2%,#fbd2bb 18%,#fdd8c3 24.8%,#fbe6da 38.1%,#f6f7f7 50.8%,#d9e9f2 67.7%,#c6e0ed 84.3%,#c6e0ed 89.1%,#cce2ef 92.4%,#ddebf2 96.3%,#e9f0f4 97.6%,#f6f7f7 98.5%,#f9efea 99.2%,#f9eee7 99.5%,#f9eee7 100%)}.g200{background:linear-gradient(90deg,#ebf1f5 0%,#ecf2f5 0.8%,#f7f7f7 1.5%,#f9ede6 2.4%,#fbe4d6 3.7%,#fce0d0 4.4%,#fcd7c2 7%,#fbd1ba 9.3%,#fbceb7 12.5%,#fbd0b9 19%,#fdd8c3 26.8%,#fae7dc 39.8%,#f6f7f7 50.8%,#d6e8f1 68.7%,#c9e1ee 78.1%,#c3deec 84.9%,#c4deec 89.1%,#c7e0ed 91.4%,#cce2ef 93%,#ddebf2 96.3%,#e9f0f4 97.6%,#f7f7f7 98.5%,#f9efe9 99.2%,#f9efe9 100%)}.g201{background:linear-gradient(90deg,#edf2f5 0%,#edf2f5 0.8%,#f6f7f7 1.5%,#faeae1 2.8%,#fce2d2 4.1%,#fcd4be 7.3%,#fbcfb8 9.3%,#facbb3 12.8%,#fbceb6 20%,#fcd6c1 27.4%,#fddbc7 30%,#fbe5d8 38.8%,#f6f7f7 50.8%,#e2edf3 60.9%,#cbe2ee 74.2%,#c4deec 79.4%,#c1ddeb 83.6%,#c1ddeb 88.5%,#c8e0ed 92.4%,#dae9f2 95.9%,#e6eff4 97.2%,#f3f5f6 98.2%,#f7f6f6 98.5%,#f8f2ef 98.9%,#f9f0eb 99.2%,#f9efea 100%)}.g202{background:linear-gradient(90deg,#eef3f5 0%,#eff3f6 1.1%,#f5f6f7 1.5%,#faeae1 2.8%,#fce2d2 4.1%,#fcd3bd 7%,#facbb2 10.6%,#fac9b0 14.8%,#facbb3 21.3%,#fbd0b9 25.2%,#fddbc8 31.7%,#fbe4d6 38.8%,#f6f7f7 50.8%,#e0ecf3 61.2%,#cfe4f0 70.9%,#c9e1ee 73.5%,#c1ddec 78.4%,#bcdbea 84.6%,#bfdceb 89.8%,#c8e0ed 93%,#d7e8f1 95.6%,#dfecf3 96.6%,#edf2f5 97.9%,#f3f5f6 98.2%,#f7f6f6 98.5%,#f8f2ee 98.9%,#f8f1ec 100%)}.g203{background:linear-gradient(90deg,#eff3f6 0%,#eff3f6 1.1%,#f5f6f7 1.5%,#f8f4f2 1.8%,#faeae1 2.8%,#fbe3d4 3.7%,#fcd5bf 6.3%,#fbcdb5 8.3%,#fac7ad 12.5%,#fac7ae 20%,#fbceb6 25.8%,#fddbc8 33.3%,#fae7dc 41.7%,#f6f7f7 50.8%,#c4deec 74.2%,#bcdbea 79.4%,#b9d9e9 84.9%,#bcdbea 90.1%,#c3deec 92.4%,#d8e9f1 95.9%,#e9f0f4 97.6%,#f3f5f6 98.2%,#f7f5f4 98.5%,#f8f2ee 98.9%,#f8f2ee 100%)}.g204{background:linear-gradient(90deg,#f0f4f6 0%,#f1f4f6 1.1%,#f5f6f7 1.5%,#f8f4f2 1.8%,#f9ede5 2.4%,#fae7dc 3.1%,#fcdecd 4.4%,#fcd3bc 6.3%,#facab1 8.6%,#fac7ad 10.2%,#f9c3a8 13.5%,#f9c3a8 18%,#f9c5ab 21.3%,#fbd0b9 29.4%,#fddbc8 34.6%,#fae8dd 42.7%,#f6f7f7 50.8%,#ddebf2 61.2%,#cfe4f0 68%,#c4deec 72.2%,#bad9e9 78.1%,#b7d8e8 82%,#b7d8e8 87.8%,#bad9e9 90.4%,#bfdceb 92%,#c7e0ed 93.7%,#dae9f2 96.3%,#e4eef4 97.2%,#f3f5f6 98.2%,#f7f5f4 98.5%,#f8f3f0 98.9%,#f8f2ef 100%)}.g205{background:linear-gradient(90deg,#f2f5f6 0%,#f2f5f6 1.1%,#f5f6f7 1.5%,#f8f4f2 1.8%,#f9ede5 2.4%,#fbe4d6 3.4%,#fcd5bf 5.7%,#fbcfb8 6.7%,#fac7ae 8.6%,#f9c3a8 10.6%,#f9c0a5 13.8%,#f9c1a6 20.3%,#f9c5ab 24.8%,#facbb3 29.1%,#fddbc8 35.9%,#faeae1 44.6%,#f6f7f7 50.8%,#bfdceb 72.6%,#b5d7e8 78.7%,#b2d5e7 84.6%,#b5d7e8 89.4%,#bfdceb 92.7%,#cce2ef 94.6%,#e0ecf3 96.9%,#f7f6f5 98.5%,#f8f4f2 98.9%,#f8f4f1 100%)}.g206{background:linear-gradient(90deg,#f3f5f6 0%,#f3f5f6 1.1%,#f6f6f7 1.5%,#f9ece4 2.4%,#fce1d1 3.7%,#fcd5c0 5.4%,#fbcdb5 6.7%,#f9c3a8 9.3%,#f8bfa3 11.5%,#f8bda0 14.1%,#f8bea2 21.6%,#fac7ad 28.4%,#fbd2bb 33.6%,#fddbc8 36.9%,#fbe2d4 41.1%,#f6f7f7 50.8%,#dceaf2 59.9%,#cfe4f0 65.4%,#bcdbea 71.6%,#b3d6e7 77.1%,#aed3e6 83.3%,#b0d4e7 88.5%,#b9d9e9 92%,#c0dceb 93.3%,#dbeaf2 96.6%,#e7f0f4 97.6%,#f7f6f6 98.5%,#f8f5f3 98.9%,#f8f4f2 100%)}.g207{background:linear-gradient(90deg,#f4f6f6 0%,#f6f7f7 1.5%,#faebe2 2.4%,#fbe2d3 3.4%,#fcd3bd 5.4%,#fac7ad 7.3%,#f8bda1 10.6%,#f7b99c 13.8%,#f7b99b 16.1%,#f7ba9c 22.2%,#f8bea2 26.1%,#f9c5ab 30%,#fbcfb7 34.3%,#fddcc8 38.5%,#fbe5d8 43%,#f6f7f7 50.8%,#d0e4f0 63.8%,#c0ddeb 68%,#b5d7e8 72.6%,#aad1e5 79.7%,#a9d1e5 86.2%,#aed3e6 89.8%,#b9d9e9 92.7%,#c3deec 94.3%,#d7e8f1 96.3%,#e6eff4 97.6%,#f6f7f7 98.5%,#f7f6f5 100%)}.g208{background:linear-gradient(90deg,#f5f6f7 0%,#f7f6f6 1.5%,#faeae1 2.4%,#fcdfcd 3.7%,#fbd0b9 5.4%,#f9c6ac 7%,#f8bb9e 10.2%,#f7b495 15.4%,#f7b596 22.6%,#f7ba9d 27.1%,#f8bfa4 30.4%,#fac9b0 33.9%,#fddbc8 39.4%,#fbe2d4 42.7%,#f6f7f7 50.8%,#d1e5f0 62.2%,#c0dceb 66.4%,#aed3e6 72.2%,#a5cfe4 78.4%,#a4cee3 84.6%,#a9d1e4 89.1%,#b5d7e8 92.7%,#c1ddeb 94.3%,#dceaf2 96.9%,#f5f6f7 98.5%,#f7f6f6 100%)}.g209{background:linear-gradient(90deg,#f6f7f7 0%,#f7f7f7 1.1%,#f7f5f4 1.5%,#f9ede6 2.1%,#fbe3d4 3.1%,#fddcc8 4.1%,#fbccb4 5.7%,#f9c4a9 7%,#f8bda0 8.6%,#f7b698 10.9%,#f6b090 16.7%,#f6b191 23.2%,#f7b596 27.1%,#f8bda1 31.7%,#fbccb4 36.5%,#fddbc8 40.4%,#f6f7f7 50.8%,#d1e5f0 61.2%,#c5dfec 63.8%,#b1d5e7 69%,#a7d0e4 72.9%,#a2cde3 76.1%,#9fcbe2 83%,#a4cee3 88.5%,#a9d1e4 90.4%,#b4d6e8 93%,#bedbeb 94.3%,#dae9f2 96.9%,#e3edf3 97.6%,#f4f5f6 98.5%,#f6f7f7 98.9%,#f6f7f7 100%)}.g20a{background:linear-gradient(90deg,#f7f7f6 0%,#f7f6f6 1.1%,#f7f5f4 1.5%,#fbe5d8 2.8%,#fddac6 4.1%,#fcd3bc 4.7%,#facab1 5.7%,#f9c2a7 7%,#f7b99c 8.9%,#f6b192 12.2%,#f5ae8d 14.8%,#f5ac8b 17.7%,#f5ac8b 22.2%,#f5ac8b 24.5%,#f6b191 28.1%,#f8bb9e 33%,#fac8af 36.9%,#fddcc8 41.4%,#f6f7f7 50.8%,#d1e5f0 60.2%,#bddbea 64.1%,#a9d1e5 69.3%,#9dcbe1 75.2%,#9ac9e0 82.3%,#9fcbe2 87.8%,#a8d0e4 91.1%,#aed3e6 92.4%,#bcdaea 94.3%,#c5dfed 95.3%,#e2edf3 97.6%,#f3f5f6 98.5%,#f6f6f7 100%)}.g20b{background:linear-gradient(90deg,#f7f6f6 0%,#f7f6f5 1.1%,#f8f4f2 1.5%,#f9ebe3 2.1%,#fbe5d7 2.8%,#fddcc9 3.7%,#fbd1ba 4.7%,#f9c6ac 6%,#f8bfa4 7%,#f7b799 8.9%,#f5ae8d 12.5%,#f5aa88 15.4%,#f4a784 22.9%,#f5aa89 27.8%,#f5ac8b 29.1%,#f6af8e 29.4%,#f6b191 31.3%,#f7b596 32.3%,#f7b596 33%,#f9c4a9 37.2%,#fddbc8 42%,#f6f7f7 50.8%,#d1e5f0 59.6%,#b8d8e9 63.8%,#a5cee3 68.7%,#98c8e0 73.9%,#94c6df 80%,#9ac9e0 87.2%,#a6cfe4 91.4%,#b3d6e8 93.7%,#c0dceb 95%,#dceaf2 97.2%,#f2f5f6 98.5%,#f5f6f7 100%)}.g20c{background:linear-gradient(90deg,#f7f6f6 0%,#f8f4f2 1.5%,#fae7dc 2.4%,#fce0d0 3.1%,#fddcc8 3.7%,#fbccb4 5%,#f8bfa4 6.7%,#f6b394 9.3%,#f5aa88 13.1%,#f4a583 16.1%,#f2a17f 20.6%,#f2a17f 25.2%,#f5a886 30.4%,#f5aa89 30.7%,#f5aa89 31.3%,#f7b799 35.6%,#f8bb9e 36.2%,#f8bda1 37.2%,#fac8af 39.1%,#fac8af 39.4%,#fddcc8 43%,#f6f7f7 50.8%,#d0e5f0 58.9%,#b8d8e9 62.5%,#b8d8e9 62.8%,#a9d1e5 65.4%,#9bc9e0 69.3%,#9bc9e0 70%,#96c7df 71.3%,#96c7df 72.2%,#93c6de 72.6%,#93c6de 73.5%,#90c4dd 73.9%,#90c4dd 75.8%,#8dc2dc 76.5%,#8dc2dc 80.4%,#95c6df 86.5%,#9ccae1 89.4%,#a9d1e4 92.4%,#b4d6e8 94%,#bedbeb 95%,#e0ecf3 97.6%,#f1f4f6 98.5%,#f5f6f7 100%)}.g20d{background:linear-gradient(90deg,#f7f6f5 0%,#f7f5f4 1.1%,#f8f3f0 1.5%,#faeae1 2.1%,#fdddcb 3.4%,#fac8af 5.4%,#f8bda0 7%,#f6b394 8.9%,#f4a785 12.8%,#f3a380 15.1%,#f09c7b 20%,#ef9a79 24.2%,#f09c7b 27.8%,#f19e7d 28.1%,#f19e7d 29.4%,#f2a17f 29.7%,#f2a17f 30.4%,#f4a683 32.3%,#f6b394 36.2%,#f8bb9e 37.8%,#f8bb9e 38.1%,#f9c2a7 39.1%,#f9c2a7 39.4%,#fddac6 43.3%,#f6f7f7 50.8%,#d4e7f1 57.3%,#b1d5e7 62.5%,#b1d5e7 62.8%,#a9d1e5 63.8%,#a9d1e5 64.1%,#9dcbe1 66.4%,#8dc2dc 71.3%,#8dc2dc 71.9%,#8ac0db 72.2%,#8ac0db 73.5%,#87beda 73.9%,#86bdda 79.1%,#89bfdb 82.6%,#8fc3dd 85.9%,#9bcae1 90.1%,#a5cee3 92%,#afd4e6 93.7%,#c0dceb 95.3%,#e4eef4 97.9%,#f0f4f6 98.5%,#f3f5f6 98.9%,#f3f5f6 100%)}.g20e{background:linear-gradient(90deg,#f7f5f4 0%,#f7f5f4 1.1%,#f8f3f0 1.5%,#fbe3d5 2.8%,#fddbc7 3.7%,#facab1 5%,#f9c2a7 6%,#f7b799 7.6%,#f6af8e 9.6%,#f4a683 12.5%,#ef9b7a 17%,#ec9374 21.9%,#ec9374 28.1%,#ee9677 28.7%,#ef9979 31%,#f3a380 33.9%,#f6b394 37.8%,#f7b99c 39.1%,#fddbc8 44.3%,#f6f7f7 50.8%,#d1e5f0 57.3%,#b6d7e8 60.6%,#a7d0e4 62.8%,#8dc2dc 68%,#84bcd9 70.6%,#81bad8 72.9%,#7eb8d7 73.5%,#7eb8d7 79.4%,#88bfdb 84.9%,#97c7df 89.4%,#a5cee3 92.4%,#b3d6e8 94.3%,#bbdaea 95%,#deebf2 97.6%,#f0f4f6 98.5%,#f3f5f6 100%)}.g20f{background:linear-gradient(90deg,#f7f6f5 0%,#f7f5f4 1.1%,#f8f3f0 1.5%,#fbe3d4 2.8%,#fddbc7 3.7%,#fcd5c0 4.1%,#f9c4a9 5.7%,#f6b394 8.3%,#f6af8e 9.3%,#f4a784 11.5%,#f19d7c 14.4%,#ea8e70 21.3%,#e98b6e 23.2%,#e98b6e 28.7%,#ec9374 32.6%,#f19d7c 35.2%,#f5a987 37.5%,#f8bda1 41.1%,#fddbc8 45%,#f6f7f7 50.8%,#d1e5f0 56.7%,#bbdaea 58.9%,#a2cde3 62.2%,#84bcd9 67.4%,#78b4d5 70.9%,#75b2d4 72.6%,#75b2d4 78.1%,#7cb7d6 82%,#86bdda 85.9%,#98c8e0 90.4%,#a5cee3 92.7%,#bddbea 95.3%,#d2e6f0 96.6%,#deebf2 97.6%,#f0f4f6 98.5%,#f3f5f6 100%)}.g210{background:linear-gradient(90deg,#f7f6f6 0%,#f7f5f4 1.1%,#f8f3f0 1.5%,#faeae1 2.1%,#fbe3d5 2.8%,#fddbc7 3.7%,#facab1 5%,#f9c4a9 5.7%,#f7b99c 7%,#f5a886 10.6%,#f09c7b 14.1%,#e8896d 20.6%,#e58368 23.9%,#e58167 28.4%,#e68569 31.3%,#ea8d70 34.3%,#ee9878 36.5%,#f4a784 38.8%,#f8bfa4 42.4%,#fddcc8 45.6%,#f6f7f7 50.8%,#d1e5f0 56%,#c2ddec 57.3%,#a1cde2 60.9%,#7db8d7 66.1%,#74b2d4 68%,#6cadd1 70.6%,#69abd0 74.5%,#6bacd1 77.4%,#6eaed2 78.1%,#6eaed2 79.1%,#77b4d5 82.3%,#84bcd9 86.2%,#98c8e0 90.7%,#aed3e6 94%,#bddbea 95.3%,#d2e6f0 96.6%,#deebf2 97.6%,#f0f4f6 98.5%,#f3f5f6 98.9%,#f4f5f6 100%)}.g211{background:linear-gradient(90deg,#f7f7f6 0%,#f7f6f6 0.8%,#f8f4f2 1.5%,#fae7dc 2.4%,#fce0d0 3.1%,#fddbc7 3.7%,#facab1 5%,#f9c4a9 5.7%,#f7b89a 7.3%,#f5aa89 9.9%,#f09c7b 13.5%,#e68569 20.3%,#e27b62 24.5%,#e27b62 25.8%,#e17860 26.1%,#e0775f 29.4%,#e17a61 32%,#e58368 34.9%,#ea8f71 37.2%,#f3a380 39.8%,#f7b698 42.4%,#fddcc9 46.3%,#f6f7f7 50.8%,#cfe4ef 55.7%,#b7d8e8 57.6%,#9fcbe2 59.9%,#82bbd9 63.1%,#71b0d3 65.4%,#68abd0 67.4%,#61a6cd 69.6%,#5fa5cd 75.2%,#70b0d3 82%,#81bad8 86.2%,#90c4dd 89.1%,#90c4dd 89.4%,#9bc9e0 91.1%,#9bc9e0 91.4%,#aed3e6 94%,#bddbea 95.3%,#d2e6f0 96.6%,#e4eef4 97.9%,#f0f4f6 98.5%,#f3f5f6 98.9%,#f5f6f7 100%)}.g212{background:linear-gradient(90deg,#f6f7f7 0%,#f7f6f6 1.1%,#f8f5f3 1.5%,#fae8dd 2.4%,#fddcc8 3.7%,#fac8af 5.4%,#f8bda1 6.7%,#f6b191 8.6%,#f5aa89 9.9%,#f5aa89 10.2%,#f4a683 10.9%,#f3a481 11.9%,#f09c7b 13.1%,#e48065 20.6%,#de735c 24.8%,#de735c 25.8%,#dd7059 26.1%,#dc6e57 28.1%,#db6d57 31%,#de735c 34.3%,#e37e64 36.9%,#ee9677 40.1%,#f3a381 41.4%,#f6b090 42.7%,#f9c0a5 44.3%,#fddbc7 46.6%,#f6f7f7 50.8%,#d2e6f0 54.7%,#b0d4e7 57.3%,#9dcbe1 58.9%,#87beda 60.9%,#6bacd1 63.8%,#5ca3cb 66.4%,#519cc8 70.3%,#529dc8 73.5%,#569fc9 74.5%,#569fc9 75.5%,#59a1ca 75.8%,#59a1ca 76.5%,#61a6cd 79.1%,#79b5d5 84.9%,#8ac0db 88.1%,#8ac0db 88.5%,#93c6de 89.8%,#93c6de 90.1%,#9bc9e0 91.1%,#9bc9e0 91.4%,#acd2e5 93.7%,#c4deec 95.6%,#e0ecf3 97.6%,#f2f5f6 98.5%,#f6f6f7 100%)}.g213{background:linear-gradient(90deg,#f5f6f7 0%,#f6f7f7 1.1%,#f7f6f5 1.5%,#fae9df 2.4%,#fce2d3 3.1%,#fdd9c4 4.1%,#fbcdb5 5%,#f9c1a6 6.3%,#f7b697 8%,#f5a886 10.6%,#f3a481 11.9%,#ef9979 13.8%,#e17960 21.3%,#db6b55 25.8%,#da6853 26.1%,#d7634f 28.7%,#d6614e 32%,#d86551 34.9%,#dd7059 37.2%,#e58368 39.8%,#f3a381 42.7%,#f8bb9e 44.6%,#fdd9c4 46.9%,#f7f5f4 50.5%,#f6f7f7 50.8%,#d1e5f0 54.4%,#aed3e6 56.7%,#90c4dd 58.9%,#81bad8 59.9%,#7bb6d6 60.6%,#75b2d4 60.9%,#59a1ca 63.8%,#59a1ca 64.1%,#529dc8 64.8%,#4f9bc7 65.7%,#4997c5 66.7%,#4594c3 70.6%,#4997c5 74.2%,#4c99c6 74.5%,#4f9bc7 76.1%,#5ea4cc 79.7%,#79b5d5 85.2%,#7eb8d7 85.9%,#84bcd9 87.5%,#8ac0db 88.1%,#8ac0db 88.5%,#a3cee3 92.4%,#b1d5e7 94%,#c1ddeb 95.3%,#d0e5f0 96.3%,#dceaf2 97.2%,#f3f5f6 98.5%,#f5f6f7 98.9%,#f7f7f7 100%)}.g214{background:linear-gradient(90deg,#f3f5f6 0%,#f7f7f7 1.5%,#faeae1 2.4%,#fbe3d5 3.1%,#fddbc8 4.1%,#fac9b0 5.7%,#f8bc9f 7.3%,#f5ad8c 9.9%,#f09c7b 13.5%,#da6853 24.5%,#d55d4c 27.1%,#d55d4c 27.8%,#d35a4a 28.1%,#d05447 31%,#d05548 34.9%,#d55d4c 36.9%,#d96753 38.5%,#df755d 40.1%,#e7876b 41.7%,#ec9374 42.7%,#f19e7d 43.3%,#f5aa89 44.3%,#fddbc7 47.6%,#f6f7f7 50.8%,#d4e6f1 53.7%,#acd2e5 56%,#93c5de 57.6%,#81bad8 58.6%,#69abd0 60.2%,#5aa1cb 61.5%,#4a98c5 63.1%,#4493c3 64.1%,#3e8cbf 66.7%,#3d8bbf 70.3%,#4291c2 74.2%,#4e9ac7 77.4%,#6bacd1 82.6%,#6bacd1 83%,#93c6de 89.4%,#9ecbe1 91.4%,#aad1e5 93%,#bbdaea 94.6%,#deebf2 97.2%,#f4f6f6 98.5%,#f7f7f6 98.9%,#f7f6f5 100%)}.g215{background:linear-gradient(90deg,#f1f4f6 0%,#f4f6f6 1.5%,#f8f4f2 1.8%,#f9ece4 2.4%,#fcdfce 3.7%,#fddac6 4.4%,#facbb3 5.7%,#f9c3a8 6.7%,#f7b698 8.6%,#f4a784 11.9%,#d7624e 24.8%,#ce4f45 28.7%,#c84440 33%,#c84440 34.9%,#cd4e45 37.8%,#d45d4c 39.8%,#de735c 41.7%,#e68569 43%,#f2a280 44.6%,#f6b191 45.6%,#fdd9c4 47.9%,#f6f7f7 50.8%,#d2e6f0 53.4%,#b1d5e7 55%,#93c5de 56.7%,#6cadd1 58.6%,#5ca3cb 59.6%,#4a98c5 60.9%,#4493c3 61.5%,#3d8bbf 62.8%,#3783bb 65.4%,#3681ba 68.3%,#3a87bd 71.9%,#4392c3 76.1%,#5fa5cd 80.7%,#5fa5cd 81%,#6bacd1 82.6%,#6bacd1 83%,#8fc3dd 88.5%,#9fcbe2 91.1%,#b0d4e7 93.3%,#bad9e9 94.3%,#dceaf2 96.9%,#f7f7f7 98.5%,#f7f5f4 98.9%,#f8f4f2 100%)}.g216{background:linear-gradient(90deg,#eef3f5 0%,#eff3f6 1.1%,#f7f5f4 1.8%,#f9ede6 2.4%,#fbe3d5 3.4%,#fddac5 4.7%,#fbd2bb 5.4%,#fac9b0 6.3%,#f7ba9d 8.6%,#f5aa88 11.9%,#ed9475 16.1%,#d6604d 24.5%,#c94741 28.7%,#c94741 29.1%,#c53d3d 30.7%,#bf3338 33.9%,#bf3338 35.9%,#c43b3c 38.5%,#ce4f45 40.7%,#d86551 42.4%,#e27b62 43.7%,#ea8e70 44.6%,#f5aa89 45.9%,#fdd8c3 48.2%,#f6f7f7 50.8%,#d2e5f0 53.1%,#8dc2dc 56%,#75b2d4 57%,#5fa5cd 58%,#4795c4 59.3%,#3f8dc0 60.2%,#3783bb 61.5%,#317bb7 63.5%,#2e77b5 65.1%,#2e77b5 67.7%,#3783bb 72.9%,#4494c3 77.1%,#85bdda 86.2%,#a0cce2 90.7%,#b4d6e8 93.3%,#c1ddec 94.6%,#cfe4f0 95.6%,#e2edf3 97.2%,#f7f6f6 98.5%,#f8f3f0 98.9%,#f8f2ef 100%)}.g217{background:linear-gradient(90deg,#eaf1f5 0%,#edf2f5 1.1%,#f4f5f6 1.5%,#f7f5f4 1.8%,#fae7dc 3.1%,#fddcc8 4.7%,#fbcdb5 6.3%,#f9c2a7 8%,#f6b191 11.2%,#f4a583 13.8%,#ef9979 16.1%,#e37f65 20%,#d86551 23.2%,#d35a4a 24.8%,#c53e3d 28.7%,#bc2c35 31.7%,#b72230 33.9%,#b51e2e 35.6%,#b51f2e 37.5%,#b72330 38.5%,#be3137 40.4%,#c6403e 41.7%,#d15648 43%,#da6853 44%,#ea8e70 45.6%,#f4a886 46.6%,#f6b090 46.9%,#fdddcb 48.9%,#f6f7f7 50.8%,#d2e5f0 52.8%,#92c5de 55%,#62a7ce 56.7%,#4493c3 58%,#3581ba 59.6%,#2c74b3 61.2%,#2870b1 62.2%,#246aae 63.8%,#246aae 65.7%,#266caf 67.7%,#307ab6 71.9%,#4393c3 77.4%,#73b1d3 83%,#81bad8 84.9%,#92c5de 87.5%,#a9d1e5 91.4%,#b6d7e8 93%,#c1ddec 94.3%,#d1e5f0 95.6%,#deebf2 96.9%,#f2f5f6 98.2%,#f7f6f6 98.5%,#f8f2ee 98.9%,#f9f0eb 100%)}.g218{background:linear-gradient(90deg,#e7f0f4 0%,#e9f1f4 0.8%,#f5f6f7 1.5%,#fbe5d8 3.4%,#fddbc8 5%,#fbceb7 6.7%,#f8bda1 9.6%,#f7b799 10.9%,#f7b799 11.2%,#f6b394 11.9%,#f6b394 12.2%,#f6af8e 12.8%,#f6af8e 13.1%,#f3a481 15.1%,#f3a481 15.4%,#eb9172 18.3%,#d6614e 24.2%,#c6413e 27.8%,#b61f2e 32%,#ad162a 33.9%,#a51429 35.2%,#a01228 37.2%,#a21328 38.8%,#ab172a 40.4%,#b31e2e 41.4%,#b82531 42%,#c43b3c 43.3%,#d35a4b 44.6%,#e8896c 46.3%,#f5a987 47.2%,#fcdecc 49.2%,#f6f7f7 50.8%,#d2e6f0 52.4%,#92c5de 54.4%,#62a7ce 55.7%,#4d9ac7 56.3%,#408ec0 57%,#2e77b5 58.6%,#2165a8 60.6%,#1b5b9d 62.5%,#1a599a 64.1%,#1c5c9f 66.1%,#2165aa 68.3%,#4494c3 77.4%,#64a8ce 80.7%,#84bcd9 84.3%,#87beda 84.9%,#90c4dd 85.9%,#90c4dd 86.2%,#a5cee3 89.4%,#a5cee3 89.8%,#bddbea 93.3%,#e3edf3 97.2%,#f6f7f7 98.5%,#f9eee8 99.2%,#f9ede5 100%)}.g219{background:linear-gradient(90deg,#e3edf3 0%,#e6eff4 0.5%,#f7f6f6 1.5%,#faeae1 2.8%,#fdddca 5%,#fac8af 8.6%,#fac8af 8.9%,#f9c2a7 9.9%,#f9c2a7 10.2%,#f8bda1 10.9%,#f8bda1 11.2%,#f3a481 16.7%,#ee9777 18.7%,#da6954 24.2%,#d55f4d 25.2%,#c6413e 28.4%,#b3192c 32.3%,#9d1128 34.6%,#930e26 35.9%,#880b24 38.1%,#8a0b25 40.1%,#910d26 41.1%,#9d1128 42%,#ac182b 43%,#b11c2d 43.3%,#be3137 44.3%,#d2584a 45.6%,#dc6e58 46.3%,#e6866a 46.9%,#f5ac8b 47.9%,#fdd8c3 49.2%,#f8f2ef 50.5%,#f5f6f7 50.8%,#ddebf2 51.8%,#c9e1ee 52.4%,#95c6df 53.7%,#4e9ac7 55.4%,#4493c3 55.7%,#3e8cbf 56%,#2f79b5 57%,#246aad 58%,#2165a8 58.3%,#175391 59.9%,#124984 61.5%,#114882 63.1%,#144c88 64.8%,#175290 66.1%,#2267ac 69.3%,#4594c3 76.5%,#6fafd2 80.7%,#90c4dd 84.6%,#acd2e5 89.4%,#acd2e5 89.8%,#bedbeb 92.7%,#e3edf3 97.2%,#f4f6f6 98.5%,#f7f5f4 98.9%,#f9ede5 99.5%,#faeae0 100%)}.g21a{background:linear-gradient(90deg,#e6eff4 0%,#f6f6f7 1.1%,#f8f5f3 1.5%,#f9efe9 2.1%,#fbe6da 3.4%,#fce0d0 4.7%,#fddcc8 6%,#fac8af 10.2%,#f6af8f 16.4%,#f2a17f 19%,#eb9172 21.3%,#d86551 26.1%,#d6604d 26.5%,#cb4942 28.7%,#b0182b 33%,#870a24 36.5%,#770522 38.8%,#750421 39.8%,#770522 41.1%,#7f0823 42%,#920e26 43.3%,#a9162a 44.3%,#b72230 45%,#ce5146 46.3%,#db6c56 46.9%,#f4a685 48.2%,#fddbc7 49.5%,#f8f1ed 50.5%,#f5f6f7 50.8%,#cbe2ee 52.1%,#8dc2dc 53.4%,#7bb6d6 53.7%,#4b98c6 54.7%,#408ec1 55%,#2e77b5 56%,#2064a8 57%,#124984 58.6%,#0c3d74 59.9%,#0a3a6f 61.5%,#0c3d73 63.1%,#0e427a 64.1%,#185594 66.7%,#2267ac 68.7%,#3f8ec0 74.2%,#4f9bc7 76.1%,#59a1ca 76.8%,#84bcd9 81.3%,#99c9e0 84.3%,#bddbea 91.4%,#d9e9f2 95.9%,#e3edf3 97.2%,#f6f6f7 98.9%,#f8f4f2 99.2%,#f9ece4 100%)}.g21b{background:linear-gradient(90deg,#edf2f5 0%,#f6f6f7 0.8%,#f7f5f4 1.1%,#f9eee8 2.1%,#fbe5d7 4.1%,#fddcc9 7%,#f8bb9e 16.1%,#f5ac8b 19.3%,#f4a684 20.3%,#f19e7d 21.6%,#ea8f71 23.5%,#d96652 27.8%,#ce5045 29.7%,#c13739 31.7%,#b61f2e 33.3%,#b0182b 33.9%,#940e26 35.9%,#780522 38.1%,#68001f 40.1%,#69011f 42%,#710321 43%,#810823 44%,#9b1127 45%,#a61429 45.3%,#b01a2c 45.6%,#b82431 45.9%,#be3137 46.3%,#d55e4d 47.2%,#dc6e58 47.6%,#f3a482 48.5%,#f6b394 48.9%,#fcd3bc 49.5%,#fcdfcf 49.8%,#f9f0eb 50.5%,#f5f6f7 50.8%,#d2e5f0 51.8%,#9ccae1 52.8%,#89bfdb 53.1%,#5fa5cd 53.7%,#4c99c6 54.1%,#408ec1 54.4%,#3884bb 54.7%,#246aad 55.7%,#1b5b9d 56.3%,#144c88 57%,#0c3d73 58%,#073467 58.9%,#063163 59.6%,#053162 61.5%,#0d4077 63.8%,#2267ab 67.7%,#4291c2 72.9%,#4b98c6 73.9%,#63a7ce 75.8%,#96c7df 81.3%,#aed3e6 85.9%,#dfecf3 96.6%,#e6eff4 97.6%,#f6f6f7 99.2%,#f8f1ec 100%)}.g21c{background:linear-gradient(90deg,#f2f5f6 0%,#f7f6f5 0.8%,#f9ede6 2.4%,#fbe6da 4.4%,#fddac6 10.6%,#fbceb7 14.4%,#f9c2a7 17.7%,#f7b596 20.6%,#f5ac8b 22.2%,#f09c7b 24.5%,#e98b6e 26.5%,#df745c 28.7%,#d96753 29.7%,#d2584a 31%,#bd2e35 33.9%,#b41e2e 34.9%,#b11b2c 35.2%,#a81529 35.9%,#760521 39.1%,#6e0220 39.8%,#67001f 40.7%,#67001f 43.3%,#69011f 43.7%,#790622 44.6%,#8b0c25 45.3%,#ae182b 46.3%,#b82431 46.6%,#d15648 47.6%,#e27c62 48.2%,#f4a684 48.9%,#fddbc7 49.8%,#f9efea 50.5%,#f5f6f7 50.8%,#dae9f2 51.5%,#cae1ee 51.8%,#8ac0db 52.8%,#5ba2cb 53.4%,#4694c4 53.7%,#3b88be 54.1%,#2b73b3 54.7%,#246aae 55%,#1e61a4 55.4%,#154e8b 56%,#0b3b71 57%,#063365 57.6%,#053061 58.3%,#053061 60.6%,#063163 61.2%,#083669 61.9%,#10467f 63.5%,#1e61a4 65.7%,#256bae 66.7%,#4694c4 71.3%,#76b3d4 75.2%,#92c5de 78.1%,#a0cce2 80%,#b2d5e7 83.3%,#cce2ef 89.4%,#ddebf2 95.3%,#e9f1f4 97.9%,#f7f7f7 99.5%,#f8f4f2 100%)}.g21d{background:linear-gradient(90deg,#f6f6f7 0%,#f9ebe3 3.7%,#fbe6da 7%,#fcddca 14.4%,#fcd5bf 17.7%,#f8bda1 23.2%,#f5ac8c 26.1%,#f2a281 27.4%,#e98c6f 29.7%,#e7876b 30%,#e17960 31.3%,#d55f4e 33.3%,#c94641 34.9%,#bb2933 36.5%,#af1c2d 37.5%,#9b1127 38.8%,#800823 40.4%,#750421 41.4%,#6e0220 42.4%,#6d0220 43.7%,#730421 44.3%,#7e0723 45%,#981027 45.9%,#b1182b 46.6%,#b92732 46.9%,#d45b4b 47.9%,#e68469 48.5%,#f09c7b 48.9%,#f6b090 49.2%,#fcd7c2 49.8%,#f9eee8 50.5%,#f5f6f7 50.8%,#d7e8f1 51.5%,#c3deec 51.8%,#97c7df 52.4%,#63a7ce 53.1%,#4d9ac7 53.4%,#3d8bbf 53.7%,#256caf 54.7%,#1f63a8 55%,#1a599a 55.4%,#124984 56%,#0c3e75 56.7%,#09376b 57.3%,#073467 58%,#073467 58.6%,#09386d 59.9%,#0d4078 60.9%,#1c5c9d 63.1%,#286fb0 64.8%,#3a87bd 67%,#4793c3 68.3%,#579fca 69.6%,#66a9cf 70.6%,#8ac0db 73.5%,#9bcae1 75.5%,#b3d6e8 79.1%,#b3d6e8 79.4%,#b8d8e9 80%,#c9e1ee 83.6%,#d2e5f0 86.2%,#e6eff4 96.3%,#f0f4f6 98.9%,#f7f7f6 100%)}.g21e{background:linear-gradient(90deg,#f7f5f4 0%,#f8f1ed 1.8%,#f9eee8 3.4%,#f9ebe3 6%,#fbe6da 14.1%,#fcdfce 20%,#fcd5c0 23.9%,#fac7ae 27.1%,#f4ab8b 31.3%,#eb9173 33.9%,#e27b62 35.6%,#d45d4e 37.5%,#c13739 39.8%,#ba2d35 40.4%,#b02330 41.4%,#a81c2d 42.4%,#a1172a 43.7%,#a4192b 44.6%,#b01f2e 45.6%,#bd2d35 46.3%,#c7423f 46.9%,#d45c4c 47.6%,#db6c56 47.9%,#ea8f71 48.5%,#f2a280 48.9%,#f6b394 49.2%,#fdd9c4 49.8%,#f9eee8 50.5%,#f5f6f7 50.8%,#d7e8f1 51.5%,#c5dfed 51.8%,#9bcae1 52.4%,#6fafd2 53.1%,#4b98c6 53.7%,#418ec0 54.1%,#337db8 54.7%,#2970b0 55.4%,#2266a7 56%,#1d5d9d 57%,#1c5b9a 58%,#1e5e9d 58.6%,#2367a7 59.9%,#2e77b5 61.5%,#3681ba 62.5%,#4792c3 64.1%,#5fa5cd 65.7%,#78b4d5 67.4%,#88beda 68.7%,#97c7df 70%,#a6cfe4 71.6%,#bbdaea 74.5%,#c4deec 76.1%,#d1e5f0 79.4%,#d7e8f1 81.7%,#deebf2 85.9%,#e9f0f4 95.6%,#eff3f5 98.5%,#f4f5f6 100%)}.g21f{background:linear-gradient(90deg,#f8f3f0 0%,#f9f0eb 4.1%,#f9ede5 12.8%,#fae9de 19.3%,#fce2d2 25.8%,#fcd9c6 29.7%,#fbcdb5 32.6%,#f8bda1 35.2%,#f2a485 38.1%,#e68469 41.1%,#df755e 42.7%,#dc6e5a 43.7%,#dc6e5a 44.6%,#de735d 45.3%,#e48065 46.3%,#eb9375 47.2%,#f1a283 47.9%,#f7b697 48.5%,#f8bfa3 48.9%,#fce0d0 49.8%,#f8f0eb 50.5%,#f5f6f7 50.8%,#d4e6f0 51.8%,#a0cce2 53.1%,#82bad8 54.1%,#6cadd1 55%,#61a5cd 55.7%,#5da2cb 56%,#589ec9 57%,#589ec9 57.6%,#5ca1cb 58.6%,#69abd0 60.2%,#8ec2dc 63.1%,#acd2e5 66.1%,#c1ddec 69%,#d1e5f0 72.2%,#d8e9f1 74.8%,#e2edf3 81%,#edf2f5 96.6%,#f2f5f6 100%)}.g220{background:linear-gradient(90deg,#f7f5f4 0%,#f8f2ef 19%,#f9eee8 28.1%,#fae9de 34.3%,#fbe4d7 37.2%,#fad7c4 42%,#f9d3bf 44.6%,#fad9c8 46.9%,#fadfd0 47.9%,#fbe6da 48.9%,#f6f7f7 50.8%,#e9f1f4 51.8%,#d7e7f0 53.7%,#cbe2ed 55.7%,#c8e0ed 56.7%,#c8e0ed 57.6%,#cee3ee 59.9%,#dfebf2 64.8%,#e8f0f4 70.6%,#eff3f6 80.4%,#f5f6f7 100%)}.g221{background:linear-gradient(90deg,#720321 0%,#910d26 0.8%,#a2172a 1.1%,#ae202f 1.5%,#c13739 2.1%,#d1564a 3.1%,#df755d 4.4%,#e8896d 5.7%,#eb9173 6.3%,#f2a484 8.6%,#f4ac8d 10.2%,#f7b89a 13.1%,#f9c5ab 18.3%,#fac7ae 18.7%,#fcdcc9 28.1%,#f7f6f6 49.5%,#d7e8f1 69.6%,#c6dfed 77.1%,#a8d0e4 86.9%,#a0cce2 88.8%,#91c3dd 91.4%,#7bb7d6 93.7%,#67aacf 95%,#4f99c6 96.3%,#3c87bd 97.2%,#2f79b6 97.9%,#2366a6 98.5%,#1c5c9b 98.9%,#09386c 100%)}.g222{background:linear-gradient(90deg,#aa182b 0%,#b92732 0.5%,#c33a3b 0.8%,#d35b4c 1.5%,#df755d 2.1%,#ec9374 3.1%,#f2a180 3.7%,#f6b191 4.7%,#f8bb9e 5.7%,#f9c3a8 6.7%,#fbd0b9 8.9%,#fcd9c4 12.2%,#fce0d0 17.7%,#fae9df 29.4%,#f6f7f7 50.2%,#d8e8f1 82.3%,#cde3ef 88.5%,#c4deec 91.1%,#bcdbea 92.4%,#acd2e5 94.3%,#a0cce2 95.3%,#8ec2dc 96.3%,#7db8d7 96.9%,#67aacf 97.6%,#4390c2 98.5%,#317bb7 99.2%,#286fb0 99.5%,#1f61a3 100%)}.g223{background:linear-gradient(90deg,#c03539 0%,#d45d4c 0.8%,#dc6e57 1.1%,#ed9576 2.1%,#f2a07e 2.4%,#f8bb9e 3.7%,#fbd0b9 5.4%,#fcdac6 6.7%,#fce0cf 8.6%,#fbe5d7 11.9%,#fae8de 16.4%,#f6f7f7 50.2%,#e4eef4 81.7%,#deebf2 88.1%,#d7e8f1 91.4%,#d0e4ef 93.3%,#c4deec 94.6%,#abd2e5 96.3%,#95c7df 97.2%,#8cc1dc 97.6%,#80bad8 97.9%,#4391c2 99.2%,#2f78b5 100%)}.g224{background:linear-gradient(90deg,#c84540 0%,#dc6e57 0.8%,#e37e64 1.1%,#f4a583 2.1%,#f8bc9f 3.1%,#fac7ae 3.7%,#fcd5bf 4.7%,#fddbc7 5.4%,#fcdecd 6%,#fbe5d7 8%,#fae8dd 9.9%,#f9ece4 14.8%,#f9f0eb 23.9%,#f6f7f7 50.2%,#ecf2f5 79.7%,#e8f0f4 85.2%,#e2edf3 90.1%,#deebf2 92%,#d5e7f1 94%,#cee3ef 95%,#c0dceb 95.9%,#add3e6 96.9%,#92c5de 97.9%,#65a9cf 98.9%,#408fc1 99.5%,#3682ba 100%)}.g225{background:linear-gradient(90deg,#ca4842 0%,#d65f4d 0.5%,#e58368 1.1%,#f19f7d 1.8%,#f6b394 2.4%,#fac7ae 3.4%,#fddac6 4.7%,#fcdfcd 5.4%,#fbe6da 7.3%,#fae9df 8.6%,#f9ede6 12.2%,#f8f0eb 17.7%,#f7f6f6 45%,#eff3f6 78.7%,#e8f0f4 89.1%,#e4eef3 91.4%,#dbeaf2 93.7%,#d3e6f0 95%,#c6e0ed 95.9%,#abd2e5 97.2%,#98c8e0 97.9%,#8bc1dc 98.2%,#6bacd1 98.9%,#4392c3 99.5%,#3884bb 100%)}.g226{background:linear-gradient(90deg,#c84440 0%,#d35a4a 0.5%,#e48065 1.1%,#eb9072 1.5%,#f5aa88 2.1%,#f8bb9e 2.8%,#fcd5bf 4.1%,#fddcc9 4.7%,#fce2d2 5.7%,#fae7dc 7.3%,#faebe3 8.9%,#f9efea 12.8%,#f8f1ed 16.7%,#f7f6f6 43%,#f2f5f6 76.1%,#ebf1f5 88.5%,#e2edf3 92.7%,#dae9f2 94.3%,#d2e6f0 95.3%,#cae1ee 95.9%,#acd2e5 97.2%,#97c8e0 97.9%,#7ab6d6 98.5%,#408fc1 99.5%,#3681ba 100%)}.g227{background:linear-gradient(90deg,#c13739 0%,#ce5045 0.5%,#e17860 1.1%,#ef9979 1.8%,#f4a683 2.1%,#f9c0a5 3.1%,#fbceb6 3.7%,#fdd8c3 4.4%,#fcdecc 5%,#fbe5d8 6.3%,#fae9df 7.6%,#f9eee7 9.9%,#f8f1ec 13.1%,#f8f3f0 19.6%,#f7f6f6 41.1%,#f3f5f6 74.5%,#eff3f5 86.2%,#e7f0f4 91.4%,#deebf2 93.7%,#d5e7f1 95%,#cee3ef 95.6%,#c1ddec 96.3%,#a9d1e4 97.2%,#93c6de 97.9%,#84bcd9 98.2%,#5fa5cd 98.9%,#4997c5 99.2%,#2f79b6 100%)}.g228{background:linear-gradient(90deg,#b92631 0%,#c6413e 0.5%,#d25849 0.8%,#db6d57 1.1%,#e48065 1.5%,#f19e7d 2.1%,#f5aa89 2.4%,#f8bc9f 3.1%,#f9c4a9 3.4%,#fcd6c1 4.4%,#fdddcb 5%,#fbe3d4 6%,#fae9df 7.6%,#f9efe9 10.6%,#f8f1ed 12.8%,#f8f4f2 22.6%,#f7f5f4 37.8%,#f7f6f6 39.1%,#f5f6f7 70.3%,#f0f4f6 85.2%,#eaf1f5 90.4%,#e1edf3 93%,#d4e6f1 95%,#cbe2ee 95.6%,#add3e6 96.9%,#98c8e0 97.6%,#8ac0db 97.9%,#67aacf 98.5%,#519cc8 98.9%,#3f8ec0 99.2%,#276fb0 100%)}.g229{background:linear-gradient(90deg,#aa162a 0%,#bd2e35 0.5%,#d55f4d 1.1%,#de735c 1.5%,#ed9475 2.1%,#f3a380 2.4%,#f7b799 3.1%,#fbccb4 4.1%,#fddcc8 5%,#fbe5d8 6.7%,#f9ebe3 8.6%,#f8f1ed 12.5%,#f8f4f2 20.9%,#f7f5f4 36.5%,#f7f6f6 37.8%,#f5f6f7 72.2%,#f0f4f6 85.9%,#edf2f5 88.8%,#e7f0f4 91.4%,#deebf2 93.3%,#d2e5f0 95%,#b8d8e9 96.3%,#a7d0e4 96.9%,#8fc3dd 97.6%,#7fb9d7 97.9%,#59a1ca 98.5%,#4392c3 98.9%,#2b74b3 99.5%,#1e61a4 100%)}.g22a{background:linear-gradient(90deg,#900d26 0%,#b11a2c 0.5%,#c03539 0.8%,#d7634f 1.5%,#e0775f 1.8%,#e8896c 2.1%,#f4a683 2.8%,#f7b99c 3.4%,#fac8af 4.1%,#fddac5 5%,#fbe2d4 6.3%,#fae9df 8%,#f9efe9 10.6%,#f8f2ef 13.8%,#f8f4f2 20%,#f7f5f4 35.6%,#f7f6f6 36.5%,#f5f6f7 73.5%,#f2f5f6 83.9%,#eaf1f5 90.1%,#e4eef3 92%,#dbeaf2 93.7%,#cfe4f0 95%,#c2ddec 95.6%,#a9d1e5 96.6%,#93c6de 97.2%,#83bcd9 97.6%,#5ea4cc 98.2%,#4795c4 98.5%,#2f78b5 99.2%,#2166aa 99.5%,#144e8a 100%)}.g22b{background:linear-gradient(90deg,#760521 0%,#991027 0.5%,#b51f2e 0.8%,#c33a3b 1.1%,#da6853 1.8%,#e27b62 2.1%,#f09c7b 2.8%,#f6b394 3.4%,#fac9b0 4.4%,#fddac6 5.4%,#fbe3d4 6.7%,#faeae1 8.6%,#f9f0eb 11.5%,#f8f3f0 16.1%,#f8f4f2 25.2%,#f7f5f4 25.8%,#f7f5f4 34.9%,#f7f6f6 35.9%,#f5f6f7 74.2%,#f2f5f6 83.9%,#edf2f5 88.5%,#e9f0f4 90.4%,#e1edf3 92.4%,#d0e5f0 94.6%,#bcdbea 95.6%,#a2cde3 96.6%,#87beda 97.2%,#76b3d4 97.6%,#4c99c6 98.2%,#3c8abe 98.5%,#246aae 99.2%,#185493 99.5%,#0a3b70 100%)}.g22c{background:linear-gradient(90deg,#67001f 0%,#7f0823 0.5%,#a21328 0.8%,#b92631 1.1%,#c6413e 1.5%,#d25849 1.8%,#dc6e57 2.1%,#e48065 2.4%,#f19f7d 3.1%,#f7b596 3.7%,#f8bda1 4.1%,#facbb2 4.7%,#fddbc8 5.7%,#fbe6da 7.6%,#f9ede6 10.2%,#f8f1ed 12.8%,#f8f3f0 16.4%,#f8f4f2 24.8%,#f7f5f4 25.2%,#f7f5f4 34.6%,#f7f6f6 35.2%,#f5f6f7 74.8%,#f0f4f6 85.9%,#eaf1f5 89.8%,#e0ecf3 92.4%,#d1e5f0 94.3%,#bedbeb 95.3%,#a5cee3 96.3%,#8bc1dc 96.9%,#67aacf 97.6%,#3f8ec0 98.2%,#276fb0 98.9%,#1b5a9c 99.2%,#0e4179 99.5%,#053061 100%)}.g22d{background:linear-gradient(90deg,#67001f 0%,#69011f 0.5%,#870a24 0.8%,#aa152a 1.1%,#bd2d35 1.5%,#c94741 1.8%,#d55d4c 2.1%,#de725b 2.4%,#ed9475 3.1%,#f3a380 3.4%,#f7b799 4.1%,#f9c6ac 4.7%,#fcd7c2 5.7%,#fddcc8 6%,#fce2d3 7%,#f9ebe3 9.6%,#f9efe9 11.2%,#f8f3f0 16.4%,#f8f4f2 24.5%,#f7f5f4 24.8%,#f7f5f4 34.3%,#f7f6f6 34.6%,#f5f6f7 75.2%,#f2f5f6 83.6%,#eaf1f5 89.4%,#e0ecf3 92%,#d2e5f0 94%,#c7e0ed 94.6%,#a7d0e4 95.9%,#8fc3dd 96.6%,#7fb9d7 96.9%,#6cadd1 97.2%,#4291c2 97.9%,#2b73b3 98.5%,#1e60a4 98.9%,#114781 99.2%,#063163 99.5%,#053061 100%)}.g22e{background:linear-gradient(90deg,#67001f 0%,#67001f 0.5%,#700320 0.8%,#930e26 1.1%,#b21a2c 1.5%,#ce4f45 2.1%,#d86550 2.4%,#e0775f 2.8%,#ef9979 3.4%,#f4a683 3.7%,#f6b191 4.1%,#fac8af 5%,#fdd9c4 6%,#fbe2d4 7.3%,#fae7db 8.3%,#f9ebe3 9.9%,#f9efe9 11.5%,#f8f3f0 16.7%,#f8f4f2 24.5%,#f7f5f4 24.8%,#f7f5f4 33.9%,#f7f6f6 34.3%,#f5f6f7 75.2%,#f2f5f6 83.3%,#eaf1f5 89.1%,#e1edf3 91.7%,#d3e6f0 93.7%,#c2ddec 94.6%,#a0cce2 95.9%,#84bcd9 96.6%,#5ea4cc 97.2%,#4896c5 97.6%,#3b88be 97.9%,#2267ab 98.5%,#15508d 98.9%,#08366a 99.2%,#053061 99.5%,#053061 100%)}.g22f{background:linear-gradient(90deg,#67001f 0%,#67001f 0.8%,#7c0722 1.1%,#9e1228 1.5%,#b72230 1.8%,#c53e3d 2.1%,#db6b55 2.8%,#ea8e70 3.4%,#f19d7c 3.7%,#f5a987 4.1%,#f6b394 4.4%,#f9c3a8 5%,#fddac6 6.3%,#fbe3d4 7.6%,#fae7dc 8.6%,#f9ede5 10.6%,#f8f1ed 13.8%,#f8f3f0 17%,#f8f4f2 24.5%,#f7f5f4 25.2%,#f7f5f4 33.9%,#f7f6f6 34.3%,#f5f6f7 74.8%,#f0f4f6 84.9%,#e9f0f4 89.4%,#e1edf3 91.4%,#d0e5f0 93.7%,#b5d7e8 95%,#97c7df 95.9%,#89bfdb 96.3%,#78b4d5 96.6%,#4f9bc7 97.2%,#3e8dc0 97.6%,#266caf 98.2%,#195898 98.5%,#0d3f76 98.9%,#053061 99.2%,#053061 100%)}.g230{background:linear-gradient(90deg,#67001f 0%,#69011f 1.1%,#ab162a 1.8%,#bd2d35 2.1%,#d55e4c 2.8%,#de725b 3.1%,#ec9374 3.7%,#f5ac8b 4.4%,#f9c5ab 5.4%,#fcd7c2 6.3%,#fce2d2 7.6%,#faeae1 9.9%,#f9f0eb 12.8%,#f8f3f0 17.4%,#f8f4f2 24.8%,#f7f5f4 25.2%,#f7f5f4 33.9%,#f7f6f6 34.3%,#f5f6f7 74.8%,#f0f4f6 84.6%,#e9f0f4 89.1%,#e0ecf3 91.4%,#d1e5f0 93.3%,#cde3ef 93.7%,#b7d8e9 94.6%,#9bc9e0 95.6%,#7eb8d7 96.3%,#4392c2 97.2%,#2b73b3 97.9%,#1e61a5 98.2%,#063163 98.9%,#053061 100%)}.g231{background:linear-gradient(90deg,#67001f 0%,#67001f 1.1%,#750421 1.5%,#991027 1.8%,#b51d2d 2.1%,#c2383a 2.4%,#ce5146 2.8%,#d96652 3.1%,#e98b6e 3.7%,#f4a683 4.4%,#f6b191 4.7%,#fac8af 5.7%,#fdd9c4 6.7%,#fddcca 7%,#fbe4d6 8.3%,#f9ebe3 10.6%,#f9f0eb 13.1%,#f8f3f0 17.4%,#f8f4f2 24.8%,#f7f5f4 25.5%,#f7f5f4 33.9%,#f7f6f6 34.3%,#f5f6f7 74.5%,#f0f4f6 84.6%,#e7f0f4 89.4%,#ddebf2 91.7%,#d3e6f0 93%,#c9e1ee 93.7%,#bbdaea 94.3%,#a0cce2 95.3%,#93c6de 95.6%,#75b2d4 96.3%,#4a98c5 96.9%,#307ab6 97.6%,#2369ae 97.9%,#185493 98.2%,#0a3a6f 98.5%,#053061 98.9%,#053061 100%)}.g232{background:linear-gradient(90deg,#67001f 0%,#67001f 1.5%,#a81529 2.1%,#bb2a34 2.4%,#c84540 2.8%,#d45b4b 3.1%,#dd7059 3.4%,#f2a17f 4.4%,#f7b596 5%,#f9c4aa 5.7%,#fbd1ba 6.3%,#fddbc7 7%,#fce1d2 8%,#fae7dc 9.3%,#f9ede5 11.2%,#f8f1ed 14.4%,#f8f2ef 17.4%,#f8f3f0 17.7%,#f8f4f2 25.2%,#f7f5f4 25.5%,#f7f5f4 33.9%,#f7f6f6 34.3%,#f5f6f7 74.5%,#f0f4f6 84.3%,#e9f0f4 88.8%,#e1edf3 90.7%,#d1e5f0 93%,#c5dfed 93.7%,#b7d8e8 94.3%,#a5cee3 95%,#8dc2dc 95.6%,#569fc9 96.6%,#4190c1 96.9%,#2a71b2 97.6%,#1d5fa2 97.9%,#053061 98.5%,#053061 100%)}.g233{background:linear-gradient(90deg,#67001f 0%,#67001f 1.5%,#760521 1.8%,#981027 2.1%,#b51d2d 2.4%,#ce5146 3.1%,#d86551 3.4%,#e88a6e 4.1%,#f4a683 4.7%,#f9c0a5 5.7%,#fbceb6 6.3%,#fdd8c3 7%,#fcdecd 7.6%,#fbe3d5 8.6%,#faeae1 10.6%,#f9f0eb 13.5%,#f8f3f0 18%,#f8f4f2 25.5%,#f7f5f4 25.8%,#f7f5f4 33.9%,#f7f6f6 34.3%,#f5f6f7 74.2%,#f0f4f6 83.9%,#e9f0f4 88.5%,#deebf2 91.1%,#d2e6f0 92.7%,#c1ddec 93.7%,#b2d5e7 94.3%,#9fcbe2 95%,#93c6de 95.3%,#74b2d4 95.9%,#4997c5 96.6%,#3c8abe 96.9%,#2369ae 97.6%,#175392 97.9%,#0a3b70 98.2%,#053061 98.5%,#053061 100%)}.g234{background:linear-gradient(90deg,#67001f 0%,#68001f 1.8%,#ab162a 2.4%,#bd2d35 2.8%,#c94741 3.1%,#d55d4c 3.4%,#dd715a 3.7%,#ec9374 4.4%,#f5ac8b 5%,#f9c4aa 6%,#fbd1ba 6.7%,#fddbc7 7.3%,#fcdfcf 8%,#fae7dc 9.6%,#f9eee7 12.2%,#f8f1ed 14.8%,#f8f3f0 18.3%,#f8f4f2 25.5%,#f7f5f4 26.1%,#f7f5f4 33.9%,#f7f6f6 34.3%,#f5f6f7 73.9%,#f2f5f6 81.7%,#eaf1f5 87.8%,#e1edf3 90.4%,#d1e5f0 92.7%,#c5dfed 93.3%,#b7d8e8 94%,#a5cee3 94.6%,#8dc2dc 95.3%,#7eb8d7 95.6%,#4291c2 96.6%,#2b73b3 97.2%,#1e61a5 97.6%,#053162 98.2%,#053061 100%)}.g235{background:linear-gradient(90deg,#67001f 0%,#67001f 1.8%,#7e0723 2.1%,#9f1228 2.4%,#b82431 2.8%,#c53e3d 3.1%,#db6b55 3.7%,#ea8d70 4.4%,#f5a987 5%,#fac9b0 6.3%,#fdd9c4 7.3%,#fbe4d6 8.9%,#faeae1 10.9%,#f9efe9 13.1%,#f8f3f0 18.3%,#f8f4f2 25.8%,#f7f5f4 26.1%,#f7f5f4 33.9%,#f7f6f6 34.6%,#f5f6f7 73.9%,#f0f4f6 83.6%,#e9f0f4 88.1%,#ddebf2 91.1%,#d2e6f0 92.4%,#cfe4ef 92.7%,#bcdaea 93.7%,#97c7df 95%,#88bfdb 95.3%,#64a8ce 95.9%,#3e8cbf 96.6%,#276db0 97.2%,#1a5899 97.6%,#0d4078 97.9%,#053061 98.2%,#053061 100%)}.g236{background:linear-gradient(90deg,#67001f 0%,#67001f 1.8%,#730421 2.1%,#960f27 2.4%,#b41b2d 2.8%,#ce4f45 3.4%,#d86550 3.7%,#e0775f 4.1%,#f4a583 5%,#f6af8f 5.4%,#f8bfa4 6%,#fcd3bc 7%,#fddbc8 7.6%,#fce2d2 8.6%,#fbe6da 9.6%,#f9ede5 11.9%,#f8f1ed 15.1%,#f8f2ef 18.3%,#f8f3f0 18.7%,#f8f4f2 25.8%,#f7f5f4 26.5%,#f7f5f4 34.3%,#f7f6f6 34.6%,#f5f6f7 73.5%,#f0f4f6 83.3%,#e9f0f4 88.1%,#e0ecf3 90.4%,#d1e5f0 92.4%,#c7e0ed 93%,#b1d5e7 94%,#9ecbe1 94.6%,#92c5de 95%,#5ea4cc 95.9%,#4896c5 96.3%,#3b88be 96.6%,#2368ad 97.2%,#175290 97.6%,#09386d 97.9%,#053061 98.2%,#053061 100%)}.g237{background:linear-gradient(90deg,#67001f 0%,#67001f 1.8%,#6a011f 2.1%,#ae172a 2.8%,#be3036 3.1%,#d65f4d 3.7%,#e68469 4.4%,#ed9475 4.7%,#f3a280 5%,#f5ac8b 5.4%,#f9c4aa 6.3%,#fddbc7 7.6%,#fbe3d4 8.9%,#f9ebe3 11.5%,#f9f0eb 14.1%,#f8f3f0 18.7%,#f8f4f2 26.1%,#f7f5f4 26.5%,#f7f5f4 34.3%,#f7f6f6 34.6%,#f5f6f7 73.5%,#f0f4f6 83.3%,#e7f0f4 88.5%,#dbeaf2 91.1%,#d1e5f0 92.4%,#b7d8e8 93.7%,#9bc9e0 94.6%,#8ec3dd 95%,#7fb9d7 95.3%,#6cadd1 95.6%,#4392c3 96.3%,#2c75b4 96.9%,#1f63a8 97.2%,#063264 97.9%,#053061 98.2%,#053061 100%)}.g238{background:linear-gradient(90deg,#67001f 0%,#67001f 2.1%,#a9152a 2.8%,#bc2b34 3.1%,#c84540 3.4%,#d45b4b 3.7%,#dd6f59 4.1%,#eb9172 4.7%,#f19f7d 5%,#f5aa89 5.4%,#f6b394 5.7%,#facab1 6.7%,#fddac5 7.6%,#fbe4d6 9.3%,#f9ebe3 11.5%,#f8f1ed 15.4%,#f8f3f0 19%,#f8f4f2 26.1%,#f7f5f4 26.5%,#f7f5f4 34.3%,#f7f6f6 34.6%,#f5f6f7 73.5%,#f0f4f6 83.3%,#e7f0f4 88.5%,#dbeaf2 91.1%,#cfe4f0 92.4%,#bddbea 93.3%,#98c8e0 94.6%,#8bc1dc 95%,#7bb6d6 95.3%,#4190c1 96.3%,#2a72b2 96.9%,#1e5fa3 97.2%,#053061 97.9%,#053061 100%)}.g239{background:linear-gradient(90deg,#67001f 0%,#67001f 2.1%,#820923 2.4%,#a51429 2.8%,#ba2832 3.1%,#d25849 3.7%,#dc6e57 4.1%,#f19e7d 5%,#f5aa88 5.4%,#f8bb9e 6%,#fcd5bf 7.3%,#fdd9c4 7.6%,#fbe4d6 9.3%,#faeae1 11.2%,#f9efe9 13.5%,#f8f3f0 19%,#f8f4f2 26.1%,#f7f5f4 26.5%,#f7f5f4 34.3%,#f7f6f6 34.6%,#f5f6f7 73.5%,#f0f4f6 83%,#e9f0f4 87.8%,#ddebf2 90.7%,#d2e6f0 92%,#cae1ee 92.7%,#acd2e5 94%,#a2cde3 94.3%,#8ac0db 95%,#79b5d5 95.3%,#529dc8 95.9%,#3f8ec1 96.3%,#2870b1 96.9%,#1c5c9f 97.2%,#0f447c 97.6%,#053061 97.9%,#053061 100%)}.g23a{background:linear-gradient(90deg,#67001f 0%,#67001f 2.1%,#810823 2.4%,#a21328 2.8%,#ba2832 3.1%,#d25849 3.7%,#e37e64 4.4%,#f09c7b 5%,#f6b394 5.7%,#f8bb9e 6%,#fac8af 6.7%,#fcd5bf 7.3%,#fdd9c4 7.6%,#fbe4d6 9.3%,#faeae1 11.2%,#f9efe9 13.5%,#f8f3f0 19%,#f8f4f2 26.1%,#f7f5f4 26.5%,#f7f5f4 33.9%,#f7f6f6 34.6%,#f5f6f7 73.5%,#f0f4f6 83%,#e9f0f4 87.8%,#ddebf2 90.7%,#d2e6f0 92%,#cae1ee 92.7%,#acd2e5 94%,#a2cde3 94.3%,#88bfdb 95%,#78b4d5 95.3%,#65a9cf 95.6%,#4f9bc7 95.9%,#3f8ec0 96.3%,#2870b1 96.9%,#1b5a9c 97.2%,#0f437b 97.6%,#053061 97.9%,#053061 100%)}.g23b{background:linear-gradient(90deg,#67001f 0%,#67001f 2.1%,#810823 2.4%,#a21328 2.8%,#ba2832 3.1%,#d25849 3.7%,#e37e64 4.4%,#f09c7b 5%,#f6b394 5.7%,#f8bb9e 6%,#fcd5bf 7.3%,#fddcc9 8%,#fce0d0 8.6%,#faeae1 11.2%,#f9efe9 13.5%,#f8f3f0 18.7%,#f8f4f2 25.8%,#f7f5f4 26.5%,#f7f5f4 33.9%,#f7f6f6 34.3%,#f5f6f7 73.5%,#f0f4f6 83.3%,#e9f0f4 87.8%,#ddebf2 90.7%,#d2e6f0 92%,#cae1ee 92.7%,#acd2e5 94%,#a2cde3 94.3%,#88bfdb 95%,#78b4d5 95.3%,#65a9cf 95.6%,#4f9bc7 95.9%,#3f8ec0 96.3%,#2870b1 96.9%,#1b5a9c 97.2%,#0f437b 97.6%,#053061 97.9%,#053061 100%)}.g23c{background:linear-gradient(90deg,#67001f 0%,#67001f 2.1%,#810823 2.4%,#a21328 2.8%,#ba2832 3.1%,#d25849 3.7%,#e37e64 4.4%,#f19e7d 5%,#f5a886 5.4%,#f6b394 5.7%,#f8bb9e 6%,#fcd5bf 7.3%,#fddcc9 8%,#fbe4d6 9.3%,#f9ebe3 11.5%,#f8f1ed 15.4%,#f8f2ef 18.3%,#f8f3f0 18.7%,#f8f4f2 25.8%,#f7f5f4 26.1%,#f7f5f4 33.9%,#f7f6f6 34.3%,#f5f6f7 73.9%,#f0f4f6 83.3%,#e7f0f4 88.5%,#ddebf2 90.7%,#d2e6f0 92%,#cae1ee 92.7%,#acd2e5 94%,#a2cde3 94.3%,#8ac0db 95%,#65a9cf 95.6%,#4f9bc7 95.9%,#3f8ec0 96.3%,#2870b1 96.9%,#1b5a9c 97.2%,#0f437b 97.6%,#053061 97.9%,#053061 100%)}.g23d{background:linear-gradient(90deg,#67001f 0%,#67001f 2.1%,#810823 2.4%,#a21328 2.8%,#ba2832 3.1%,#c6413e 3.4%,#d25849 3.7%,#dc6e57 4.1%,#f19e7d 5%,#f5a886 5.4%,#f8bb9e 6%,#fcd5bf 7.3%,#fddcc9 8%,#fbe4d6 9.3%,#f9ebe3 11.5%,#f8f1ed 15.4%,#f8f2ef 18.3%,#f8f3f0 18.7%,#f8f4f2 25.8%,#f7f5f4 26.1%,#f7f5f4 33.6%,#f7f6f6 34.3%,#f5f6f7 73.9%,#f0f4f6 83.3%,#e7f0f4 88.5%,#ddebf2 90.7%,#d2e6f0 92%,#cae1ee 92.7%,#acd2e5 94%,#a2cde3 94.3%,#8ac0db 95%,#529dc8 95.9%,#3f8ec0 96.3%,#2870b1 96.9%,#1b5a9c 97.2%,#0f437b 97.6%,#053061 97.9%,#053061 100%)}.g23e{background:linear-gradient(90deg,#67001f 0%,#67001f 2.1%,#810823 2.4%,#a21328 2.8%,#ba2832 3.1%,#c6413e 3.4%,#d25849 3.7%,#dc6e57 4.1%,#f19e7d 5%,#f5a886 5.4%,#f8bb9e 6%,#fcd5bf 7.3%,#fddcc9 8%,#fbe4d6 9.3%,#f9ebe3 11.5%,#f8f1ed 15.4%,#f8f2ef 18.3%,#f8f3f0 18.7%,#f8f4f2 25.8%,#f7f5f4 26.1%,#f7f5f4 33.6%,#f7f6f6 33.9%,#f5f6f7 73.9%,#f0f4f6 83.3%,#e7f0f4 88.5%,#ddebf2 90.7%,#d2e6f0 92%,#cae1ee 92.7%,#acd2e5 94%,#a2cde3 94.3%,#8ac0db 95%,#529dc8 95.9%,#3f8ec0 96.3%,#2870b1 96.9%,#1b5a9c 97.2%,#0f437b 97.6%,#053061 97.9%,#053061 100%)}.g23f{background:linear-gradient(90deg,#67001f 0%,#67001f 2.1%,#810823 2.4%,#a21328 2.8%,#ba2832 3.1%,#c6413e 3.4%,#d25849 3.7%,#dc6e57 4.1%,#f19e7d 5%,#f5a886 5.4%,#f8bb9e 6%,#fcd5bf 7.3%,#fddcc9 8%,#fbe4d6 9.3%,#f9ebe3 11.5%,#f9f0eb 14.1%,#f8f3f0 18.7%,#f8f4f2 25.8%,#f7f5f4 26.1%,#f7f5f4 33.6%,#f7f6f6 33.9%,#f5f6f7 73.9%,#f0f4f6 83.3%,#e7f0f4 88.5%,#ddebf2 90.7%,#d2e6f0 92%,#cae1ee 92.7%,#acd2e5 94%,#a2cde3 94.3%,#8ac0db 95%,#529dc8 95.9%,#3f8ec0 96.3%,#2870b1 96.9%,#1b5a9c 97.2%,#0f437b 97.6%,#053061 97.9%,#053061 100%)}.g240{background:linear-gradient(90deg,#67001f 0%,#67001f 2.1%,#810823 2.4%,#a21328 2.8%,#ba2832 3.1%,#c6413e 3.4%,#d25849 3.7%,#dc6e57 4.1%,#f19e7d 5%,#f5a886 5.4%,#f8bb9e 6%,#fcd5bf 7.3%,#fddcc9 8%,#fbe4d6 9.3%,#f9ebe3 11.5%,#f9f0eb 14.1%,#f8f3f0 18.7%,#f8f4f2 25.5%,#f7f5f4 26.1%,#f7f5f4 33.6%,#f7f6f6 33.9%,#f5f6f7 73.9%,#f0f4f6 83.3%,#e7f0f4 88.5%,#ddebf2 90.7%,#d2e6f0 92%,#cae1ee 92.7%,#acd2e5 94%,#a2cde3 94.3%,#8ac0db 95%,#529dc8 95.9%,#3f8ec0 96.3%,#2870b1 96.9%,#1b5a9c 97.2%,#0f437b 97.6%,#053061 97.9%,#053061 100%)}.g241{background:linear-gradient(90deg,#67001f 0%,#67001f 2.1%,#810823 2.4%,#a21328 2.8%,#ba2832 3.1%,#c6413e 3.4%,#d25849 3.7%,#dc6e57 4.1%,#f19e7d 5%,#f5a886 5.4%,#f8bb9e 6%,#fcd5bf 7.3%,#fddcc9 8%,#fbe4d6 9.3%,#f9ebe3 11.5%,#f9f0eb 14.1%,#f8f3f0 18.7%,#f8f4f2 25.5%,#f7f5f4 25.8%,#f7f5f4 33.6%,#f7f6f6 33.9%,#f5f6f7 74.2%,#f0f4f6 83.3%,#e7f0f4 88.5%,#ddebf2 90.7%,#d2e6f0 92%,#cae1ee 92.7%,#acd2e5 94%,#a2cde3 94.3%,#8ac0db 95%,#529dc8 95.9%,#3f8ec0 96.3%,#2870b1 96.9%,#1b5a9c 97.2%,#0f437b 97.6%,#053061 97.9%,#053061 100%)}.g242{background:linear-gradient(90deg,#67001f 0%,#67001f 2.1%,#810823 2.4%,#a21328 2.8%,#ba2832 3.1%,#c6413e 3.4%,#d25849 3.7%,#dc6e57 4.1%,#f19e7d 5%,#f5a886 5.4%,#f8bb9e 6%,#fcd5bf 7.3%,#fddcc9 8%,#fbe4d6 9.3%,#f9ebe3 11.5%,#f9f0eb 14.1%,#f8f3f0 18.7%,#f8f4f2 25.5%,#f7f5f4 25.8%,#f7f5f4 33.3%,#f7f6f6 33.6%,#f5f6f7 74.2%,#f0f4f6 83.3%,#e7f0f4 88.5%,#ddebf2 90.7%,#d2e6f0 92%,#cae1ee 92.7%,#acd2e5 94%,#a2cde3 94.3%,#8ac0db 95%,#529dc8 95.9%,#3f8ec0 96.3%,#2870b1 96.9%,#1b5a9c 97.2%,#0f437b 97.6%,#053061 97.9%,#053061 100%)}.g243{background:linear-gradient(90deg,#67001f 0%,#67001f 2.1%,#810823 2.4%,#a21328 2.8%,#ba2832 3.1%,#c6413e 3.4%,#d25849 3.7%,#dc6e57 4.1%,#f19e7d 5%,#f5a987 5.4%,#f8bb9e 6%,#fcd5bf 7.3%,#fddcc9 8%,#fbe4d6 9.3%,#f9ebe3 11.5%,#f9f0eb 14.1%,#f8f3f0 18.7%,#f8f4f2 25.5%,#f7f5f4 25.8%,#f7f5f4 33.3%,#f7f6f6 33.6%,#f5f6f7 74.2%,#f0f4f6 83.3%,#e7f0f4 88.5%,#ddebf2 90.7%,#d2e6f0 92%,#cae1ee 92.7%,#acd2e5 94%,#a2cde3 94.3%,#8ac0db 95%,#529dc8 95.9%,#3f8ec0 96.3%,#2870b1 96.9%,#1b5a9c 97.2%,#0f437b 97.6%,#053061 97.9%,#053061 100%)}.g244{background:linear-gradient(90deg,#67001f 0%,#67001f 2.1%,#810823 2.4%,#a21328 2.8%,#ba2832 3.1%,#c6413e 3.4%,#d25849 3.7%,#dc6e57 4.1%,#f19e7d 5%,#f5aa89 5.4%,#f8bb9e 6%,#fcd5bf 7.3%,#fddcc9 8%,#fbe4d6 9.3%,#f9ebe3 11.5%,#f9f0eb 14.1%,#f8f3f0 18.7%,#f7f5f4 25.8%,#f7f5f4 33%,#f7f6f6 33.6%,#f5f6f7 74.2%,#f0f4f6 83.3%,#e7f0f4 88.5%,#ddebf2 90.7%,#cfe4ef 92.4%,#cae1ee 92.7%,#acd2e5 94%,#98c8e0 94.6%,#8ac0db 95%,#529dc8 95.9%,#3f8ec0 96.3%,#2870b1 96.9%,#1b5a9c 97.2%,#0f437b 97.6%,#053061 97.9%,#053061 100%)}.g245{background:linear-gradient(90deg,#67001f 0%,#67001f 2.1%,#810823 2.4%,#a31329 2.8%,#ba2832 3.1%,#c6413e 3.4%,#d25849 3.7%,#dc6e57 4.1%,#f19e7d 5%,#f5aa89 5.4%,#f8bb9e 6%,#fac9b0 6.7%,#fcd5bf 7.3%,#fdd9c4 7.6%,#fbe4d6 9.3%,#f9ebe3 11.5%,#f8f1ed 15.1%,#f8f4f2 20.6%,#f7f6f6 33%,#f5f6f7 75.2%,#f0f4f6 83.6%,#e7f0f4 88.5%,#ddebf2 90.7%,#cfe4ef 92.4%,#bcdaea 93.3%,#acd2e5 94%,#98c8e0 94.6%,#8ac0db 95%,#66a9cf 95.6%,#3f8ec0 96.3%,#2870b1 96.9%,#1b5b9d 97.2%,#0f437b 97.6%,#053061 97.9%,#053061 100%)}.g246{background:linear-gradient(90deg,#67001f 0%,#68001f 2.1%,#ac162a 2.8%,#bd2e35 3.1%,#d55d4c 3.7%,#e58368 4.4%,#ec9374 4.7%,#f5ac8b 5.4%,#f9c4aa 6.3%,#fbd1ba 7%,#fddbc7 7.6%,#fbe6d9 9.6%,#f9eee7 12.5%,#f7f6f5 21.3%,#f7f6f6 76.8%,#f5f6f7 80.7%,#e7f0f4 88.5%,#dfecf3 90.4%,#d1e5f0 92.4%,#c5dfed 93%,#b7d8e8 93.7%,#9ac9e0 94.6%,#8dc2dc 95%,#7eb8d7 95.3%,#4291c2 96.3%,#2b74b3 96.9%,#1f61a6 97.2%,#053162 97.9%,#053061 100%)}.g247{background:linear-gradient(90deg,#67001f 0%,#67001f 1.8%,#7d0722 2.1%,#9f1228 2.4%,#b72330 2.8%,#c53e3d 3.1%,#d15648 3.4%,#e37e64 4.1%,#f09c7b 4.7%,#f5a987 5%,#f8bb9e 5.7%,#fbcfb8 6.7%,#fddac5 7.3%,#fbe4d7 8.9%,#faebe2 10.9%,#f9f0eb 13.8%,#f8f2ef 16.7%,#f7f7f6 19.6%,#f1f4f6 22.6%,#eff3f6 26.1%,#f7f6f6 47.6%,#f6f7f7 54.4%,#f8f2ef 71.9%,#f8f2ef 78.1%,#f6f6f7 82%,#e8f0f4 88.5%,#ddebf2 91.1%,#cfe4f0 92.7%,#c3deec 93.3%,#acd2e5 94.3%,#97c7df 95%,#88bfdb 95.3%,#65a9cf 95.9%,#4f9bc7 96.3%,#3e8dc0 96.6%,#266daf 97.2%,#1a5899 97.6%,#0d4077 97.9%,#053061 98.2%,#053061 100%)}.g248{background:linear-gradient(90deg,#67001f 0%,#67001f 1.5%,#7c0722 1.8%,#9f1228 2.1%,#b82431 2.4%,#c53e3d 2.8%,#db6b55 3.4%,#ea8f71 4.1%,#f5aa89 4.7%,#f8bb9e 5.4%,#fbd0b9 6.3%,#fddbc7 7%,#fbe3d4 8.3%,#faebe3 10.6%,#f9f0eb 13.1%,#f8f3f0 17%,#f7f6f6 18.7%,#e9f1f4 24.5%,#e9f0f4 29.4%,#edf2f5 41.7%,#f5f6f7 45.6%,#f7f6f6 47.9%,#f6f7f7 53.7%,#f8f4f2 57%,#f9f0eb 59.9%,#f9ede5 73.2%,#f9ede6 76.5%,#f9efea 78.4%,#f6f7f7 82.3%,#eaf1f5 88.5%,#e1edf3 90.7%,#d7e8f1 92.4%,#d1e5f0 93%,#c5dfec 93.7%,#b5d7e8 94.3%,#98c8e0 95.3%,#79b5d5 95.9%,#4f9bc7 96.6%,#3e8dc0 96.9%,#276db0 97.6%,#1a5899 97.9%,#0d3f76 98.2%,#053061 98.5%,#053061 100%)}.g249{background:linear-gradient(90deg,#67001f 0%,#67001f 0.8%,#6d0220 1.1%,#8a0b25 1.5%,#aa182b 1.8%,#bd2e35 2.1%,#d6604e 2.8%,#de735c 3.1%,#ee9677 3.7%,#f5ae8d 4.4%,#f8bfa4 5%,#fcd3bd 6%,#fdd8c3 6.3%,#fbe3d4 7.6%,#fae7dc 8.6%,#f9ede6 10.6%,#f7f7f6 19.3%,#ebf1f5 25.2%,#e6eff4 40.7%,#e9f1f4 42.7%,#f6f7f7 46.9%,#f7f6f6 54.7%,#f9ede6 58.9%,#faebe3 60.6%,#f9ece4 70%,#f9eee8 76.1%,#f7f6f5 81.3%,#f6f7f7 82%,#e9f1f4 89.4%,#e1edf3 91.4%,#d2e6f0 93.3%,#c1ddeb 94.3%,#b1d5e7 95%,#9ccae1 95.6%,#81bad8 96.3%,#4593c3 97.2%,#2b74b3 97.9%,#1f61a3 98.2%,#124984 98.5%,#073467 98.9%,#053061 99.2%,#053061 100%)}.g24a{background:linear-gradient(90deg,#67001f 0%,#6d0220 0.5%,#830924 0.8%,#a4162a 1.1%,#bb2b34 1.5%,#d45c4c 2.1%,#dd7059 2.4%,#ec9374 3.1%,#f2a281 3.4%,#f5ad8c 3.7%,#f8bfa4 4.4%,#fbceb6 5%,#fcd9c4 5.7%,#fce1d1 6.7%,#fbe6da 7.6%,#f9ebe3 9.3%,#f9efea 10.9%,#f8f3f0 14.8%,#f7f6f6 20.3%,#f1f4f6 25.8%,#e9f1f4 41.7%,#f6f7f7 46.9%,#f7f6f6 54.7%,#f9efe9 58.3%,#f9ede6 59.9%,#f8f3f0 75.5%,#f7f7f6 80%,#ecf2f5 89.1%,#e0ecf3 92.4%,#d3e6f0 94%,#c1ddec 95%,#b1d5e7 95.6%,#9bcae1 96.3%,#8fc3dd 96.6%,#6bacd1 97.2%,#569fc9 97.6%,#4491c2 97.9%,#2a71b2 98.5%,#1d5d9d 98.9%,#10447d 99.2%,#073467 99.5%,#053061 100%)}.g24b{background:linear-gradient(90deg,#8e0d25 0%,#ab1d2d 0.5%,#bf3338 0.8%,#cd4d44 1.1%,#e17860 1.8%,#e8896d 2.1%,#f3a786 2.8%,#f9c3a8 3.7%,#fcd6c1 4.7%,#fcdecd 5.4%,#fbe4d7 6.3%,#f9ede5 8.6%,#f8f0eb 10.6%,#f8f3f0 13.5%,#f7f7f6 23.2%,#f1f4f6 40.7%,#f2f5f6 44%,#f7f6f6 48.2%,#f6f7f7 53.4%,#f8f3f0 57.6%,#f8f2ef 60.6%,#f7f7f6 76.1%,#f2f5f6 86.5%,#ebf1f5 90.7%,#e1edf3 93%,#d5e7f1 94.6%,#cbe2ee 95.3%,#bddbea 95.9%,#abd2e5 96.6%,#94c6de 97.2%,#73b1d3 97.9%,#4a96c5 98.5%,#2e77b5 99.2%,#2163a4 99.5%,#144c88 100%)}.g24c{background:linear-gradient(90deg,#ca4842 0%,#d55f4e 0.5%,#e6866a 1.1%,#f2a382 1.8%,#f7b89b 2.4%,#fcd4be 3.7%,#fdddca 4.4%,#fbe5d7 5.7%,#faeae1 7.3%,#f9efea 9.6%,#f8f4f2 16.1%,#f7f6f5 26.1%,#f7f7f6 66.1%,#f4f6f6 81%,#f0f4f6 88.5%,#ebf1f5 91.1%,#e1edf3 93.7%,#d6e8f1 95.3%,#cae1ee 96.3%,#a9d1e4 97.6%,#91c4de 98.2%,#6eaed2 98.9%,#59a1ca 99.2%,#4793c3 99.5%,#3884bb 100%)}.g24d{background:linear-gradient(90deg,#e98b6e 0%,#f3a585 0.8%,#f7b799 1.5%,#fbd0b9 2.8%,#fddcca 3.7%,#fbe5d9 6%,#fae8de 7.3%,#f9ebe3 10.2%,#f8f4f2 46.9%,#f6f7f7 50.2%,#f1f4f6 59.6%,#e7f0f4 89.8%,#dfecf3 94%,#d2e6f0 96.3%,#c4deec 97.2%,#a7d0e4 98.5%,#92c4de 99.2%,#74b2d4 100%)}.g24e{background:linear-gradient(90deg,#fac8af 0%,#fbd7c3 1.1%,#fbe3d4 2.8%,#fae9df 5.4%,#faebe2 7%,#faebe2 12.8%,#fce2d2 30.4%,#fbdecd 43%,#fbdfd0 46.6%,#fbe5d7 47.2%,#f7f5f4 49.2%,#f6f7f7 50.2%,#f5f6f7 52.1%,#f0f4f6 52.8%,#d9e9f1 54.7%,#d7e8f1 55.7%,#d6e7f1 61.5%,#ddebf2 76.1%,#e4eef3 84.6%,#e5eef4 93.3%,#e2edf3 95.3%,#d8e9f1 97.6%,#d0e4ef 98.5%,#b9d9e9 100%)}.g24f{background:linear-gradient(90deg,#fae9df 0%,#f9eee8 1.8%,#f8f2ee 3.7%,#f8f3f0 6%,#f8f3f0 13.5%,#f9efea 20%,#fae9df 27.4%,#fce0d0 35.2%,#fcdbc8 38.1%,#f9c5ab 46.3%,#f9c6ac 46.6%,#fbd0b9 47.2%,#fbe5d8 48.2%,#f8f3f0 49.2%,#f7f5f4 49.5%,#f6f7f7 50.2%,#f6f7f7 51.8%,#f0f4f6 52.4%,#dbeaf2 53.4%,#c1ddec 54.4%,#b8d8e9 55%,#b9d9e9 56%,#cce3ee 61.5%,#d7e8f1 66.1%,#e3edf3 72.9%,#ebf1f5 80%,#f1f4f6 88.5%,#f1f4f6 94%,#edf2f5 97.6%,#e4eef3 100%)}.g250{background:linear-gradient(90deg,#f7f5f4 0%,#f7f6f6 5%,#f7f6f5 25.2%,#f8f2ef 36.5%,#faeae1 46.6%,#f9ebe3 47.2%,#f7f5f4 49.2%,#f6f7f7 50.2%,#f6f6f7 52.1%,#e7eff4 54.4%,#e5eff4 55%,#eff3f5 62.8%,#f4f5f6 71.6%,#f6f7f7 85.9%,#f4f6f6 100%)}</style></head><body><div id="fig"><div class=p style="left:96px;top:40px"><div class=q><i class=g0></i><i class=g0></i><i class=g0></i><i class=g1></i><i class=g2></i><i class=g3></i><i class=g4></i><i class=g5></i><i class=g6></i><i class=g7></i><i class=g8></i><i class=g9></i><i class=ga></i><i class=gb></i><i class=gc></i><i class=gd></i><i class=ge></i><i class=gf></i><i class=g10></i><i class=g11></i><i class=g12></i><i class=g13></i><i class=g14></i><i class=g15></i><i class=g16></i><i class=g17></i><i class=g18></i><i class=g19></i><i class=g1a></i><i class=g1b></i><i class=g1c></i><i class=g1d></i><i class=g1e></i><i class=g1f></i><i class=g20></i><i class=g21></i><i class=g22></i><i class=g23></i><i class=g24></i><i class=g25></i><i class=g26></i><i class=g27></i><i class=g28></i><i class=g29></i><i class=g2a></i><i class=g2b></i><i class=g2c></i><i class=g2d></i><i class=g2e></i><i class=g2f></i><i class=g30></i><i class=g31></i><i class=g32></i><i class=g32></i><i class=g31></i><i class=g30></i><i class=g2f></i><i class=g2e></i><i class=g2d></i><i class=g2c></i><i class=g2b></i><i class=g2a></i><i class=g29></i><i class=g28></i><i class=g27></i><i class=g26></i><i class=g25></i><i class=g24></i><i class=g23></i><i class=g22></i><i class=g21></i><i class=g20></i><i class=g1f></i><i class=g1e></i><i class=g1d></i><i class=g1c></i><i class=g1b></i><i class=g1a></i><i class=g19></i><i class=g18></i><i class=g17></i><i class=g16></i><i class=g15></i><i class=g14></i><i class=g13></i><i class=g12></i><i class=g11></i><i class=g10></i><i class=gf></i><i class=ge></i><i class=gd></i><i class=gc></i><i class=gb></i><i class=ga></i><i class=g9></i><i class=g8></i><i class=g7></i><i class=g6></i><i class=g5></i><i class=g4></i><i class=g3></i><i class=g2></i><i class=g1></i><i class=g0></i><i class=g0></i><i class=g0></i></div></div><div class=p style="left:464px;top:40px"><div class=q><i class=g33></i><i class=g33></i><i class=g33></i><i class=g34></i><i class=g35></i><i class=g36></i><i class=g37></i><i class=g38></i><i class=g39></i><i class=g3a></i><i class=g3b></i><i class=g3c></i><i class=g3d></i><i class=g3e></i><i class=g3f></i><i class=g40></i><i class=g41></i><i class=g42></i><i class=g43></i><i class=g44></i><i class=g45></i><i class=g46></i><i class=g47></i><i class=g48></i><i class=g49></i><i class=g4a></i><i class=g4b></i><i class=g4c></i><i class=g4d></i><i class=g4e></i><i class=g4f></i><i class=g50></i><i class=g51></i><i class=g52></i><i class=g53></i><i class=g54></i><i class=g55></i><i class=g56></i><i class=g57></i><i class=g58></i><i class=g59></i><i class=g5a></i><i class=g5b></i><i class=g5c></i><i class=g5d></i><i class=g5e></i><i class=g5f></i><i class=g60></i><i class=g61></i><i class=g62></i><i class=g63></i><i class=g64></i><i class=g65></i><i class=g65></i><i class=g64></i><i class=g63></i><i class=g62></i><i class=g61></i><i class=g60></i><i class=g5f></i><i class=g5e></i><i class=g5d></i><i class=g5c></i><i class=g5b></i><i class=g5a></i><i class=g59></i><i class=g58></i><i class=g57></i><i class=g56></i><i class=g55></i><i class=g54></i><i class=g53></i><i class=g52></i><i class=g51></i><i class=g50></i><i class=g4f></i><i class=g4e></i><i class=g4d></i><i class=g4c></i><i class=g4b></i><i class=g4a></i><i class=g49></i><i class=g48></i><i class=g47></i><i class=g46></i><i class=g45></i><i class=g44></i><i class=g43></i><i class=g42></i><i class=g41></i><i class=g40></i><i class=g3f></i><i class=g3e></i><i class=g3d></i><i class=g3c></i><i class=g3b></i><i class=g3a></i><i class=g39></i><i class=g38></i><i class=g37></i><i class=g36></i><i class=g35></i><i class=g34></i><i class=g33></i><i class=g33></i><i class=g33></i></div></div><div class=p style="left:831px;top:40px"><div class=q><i class=g66></i><i class=g66></i><i class=g66></i><i class=g67></i><i class=g68></i><i class=g69></i><i class=g6a></i><i class=g6b></i><i class=g6c></i><i class=g6d></i><i class=g6e></i><i class=g6f></i><i class=g70></i><i class=g71></i><i class=g71></i><i class=g71></i><i class=g71></i><i class=g71></i><i class=g71></i><i class=g71></i><i class=g72></i><i class=g73></i><i class=g74></i><i class=g75></i><i class=g76></i><i class=g76></i><i class=g76></i><i class=g76></i><i class=g76></i><i class=g76></i><i class=g76></i><i class=g76></i><i class=g76></i><i class=g76></i><i class=g76></i><i class=g76></i><i class=g76></i><i class=g76></i><i class=g77></i><i class=g78></i><i class=g79></i><i class=g7a></i><i class=g7b></i><i class=g7c></i><i class=g7d></i><i class=g7e></i><i class=g7f></i><i class=g80></i><i class=g81></i><i class=g82></i><i class=g83></i><i class=g84></i><i class=g85></i><i class=g85></i><i class=g84></i><i class=g83></i><i class=g82></i><i class=g81></i><i class=g80></i><i class=g7f></i><i class=g7e></i><i class=g7d></i><i class=g7c></i><i class=g7b></i><i class=g7a></i><i class=g79></i><i class=g78></i><i class=g77></i><i class=g76></i><i class=g76></i><i class=g76></i><i class=g76></i><i class=g76></i><i class=g76></i><i class=g76></i><i class=g76></i><i class=g76></i><i class=g76></i><i class=g76></i><i class=g76></i><i class=g76></i><i class=g76></i><i class=g75></i><i class=g74></i><i class=g73></i><i class=g72></i><i class=g71></i><i class=g71></i><i class=g71></i><i class=g71></i><i class=g71></i><i class=g71></i><i class=g71></i><i class=g70></i><i class=g6f></i><i class=g6e></i><i class=g6d></i><i class=g6c></i><i class=g6b></i><i class=g6a></i><i class=g69></i><i class=g68></i><i class=g67></i><i class=g66></i><i class=g66></i><i class=g66></i></div></div><div class=p style="left:96px;top:409px"><div class=q><i class=g0></i><i class=g0></i><i class=g0></i><i class=g1></i><i class=g2></i><i class=g3></i><i class=g4></i><i class=g5></i><i class=g6></i><i class=g7></i><i class=g8></i><i class=g9></i><i class=ga></i><i class=gb></i><i class=gc></i><i class=gd></i><i class=ge></i><i class=gf></i><i class=g10></i><i class=g11></i><i class=g12></i><i class=g13></i><i class=g14></i><i class=g15></i><i class=g16></i><i class=g17></i><i class=g18></i><i class=g19></i><i class=g1a></i><i class=g1b></i><i class=g1c></i><i class=g1d></i><i class=g1e></i><i class=g1f></i><i class=g20></i><i class=g21></i><i class=g22></i><i class=g23></i><i class=g24></i><i class=g25></i><i class=g26></i><i class=g27></i><i class=g28></i><i class=g29></i><i class=g2a></i><i class=g2b></i><i class=g2c></i><i class=g2d></i><i class=g2e></i><i class=g2f></i><i class=g30></i><i class=g31></i><i class=g32></i><i class=g32></i><i class=g31></i><i class=g30></i><i class=g2f></i><i class=g2e></i><i class=g2d></i><i class=g2c></i><i class=g2b></i><i class=g2a></i><i class=g29></i><i class=g28></i><i class=g27></i><i class=g26></i><i class=g25></i><i class=g24></i><i class=g23></i><i class=g22></i><i class=g21></i><i class=g20></i><i class=g1f></i><i class=g1e></i><i class=g1d></i><i class=g1c></i><i class=g1b></i><i class=g1a></i><i class=g19></i><i class=g18></i><i class=g17></i><i class=g16></i><i class=g15></i><i class=g14></i><i class=g13></i><i class=g12></i><i class=g11></i><i class=g10></i><i class=gf></i><i class=ge></i><i class=gd></i><i class=gc></i><i class=gb></i><i class=ga></i><i class=g9></i><i class=g8></i><i class=g7></i><i class=g6></i><i class=g5></i><i class=g4></i><i class=g3></i><i class=g2></i><i class=g1></i><i class=g0></i><i class=g0></i><i class=g0></i></div></div><div class=p style="left:464px;top:409px"><div class=q><i class=g76></i><i class=g76></i><i class=g76></i><i class=g76></i><i class=g76></i><i class=g76></i><i class=g76></i><i class=g76></i><i class=g76></i><i class=g76></i><i class=g76></i><i class=g76></i><i class=g76></i><i class=g76></i><i class=g76></i><i class=g76></i><i class=g76></i><i class=g76></i><i class=g76></i><i class=g76></i><i class=g76></i><i class=g76></i><i class=g76></i><i class=g76></i><i class=g76></i><i class=g76></i><i class=g76></i><i class=g76></i><i class=g76></i><i class=g76></i><i class=g76></i><i class=g76></i><i class=g76></i><i class=g76></i><i class=g76></i><i class=g76></i><i class=g76></i><i class=g76></i><i class=g76></i><i class=g76></i><i class=g76></i><i class=g76></i><i class=g76></i><i class=g76></i><i class=g76></i><i class=g76></i><i class=g76></i><i class=g76></i><i class=g76></i><i class=g86></i><i class=g76></i><i class=g87></i><i class=g88></i><i class=g88></i><i class=g87></i><i class=g76></i><i class=g86></i><i class=g76></i><i class=g76></i><i class=g76></i><i class=g76></i><i class=g76></i><i class=g76></i><i class=g76></i><i class=g76></i><i class=g76></i><i class=g76></i><i class=g76></i><i class=g76></i><i class=g76></i><i class=g76></i><i class=g76></i><i class=g76></i><i class=g76></i><i class=g76></i><i class=g76></i><i class=g76></i><i class=g76></i><i class=g76></i><i class=g76></i><i class=g76></i><i class=g76></i><i class=g76></i><i class=g76></i><i class=g76></i><i class=g76></i><i class=g76></i><i class=g76></i><i class=g76></i><i class=g76></i><i class=g76></i><i class=g76></i><i class=g76></i><i class=g76></i><i class=g76></i><i class=g76></i><i class=g76></i><i class=g76></i><i class=g76></i><i class=g76></i><i class=g76></i><i class=g76></i><i class=g76></i><i class=g76></i><i class=g76></i><i class=g76></i></div></div><div class=p style="left:831px;top:409px"><div class=q><i class=g89></i><i class=g89></i><i class=g89></i><i class=g8a></i><i class=g8b></i><i class=g8c></i><i class=g8d></i><i class=g8e></i><i class=g8f></i><i class=g90></i><i class=g91></i><i class=g92></i><i class=g93></i><i class=g94></i><i class=g95></i><i class=g96></i><i class=g97></i><i class=g98></i><i class=g99></i><i class=g9a></i><i class=g9b></i><i class=g9c></i><i class=g9d></i><i class=g9e></i><i class=g9f></i><i class=ga0></i><i class=ga1></i><i class=ga2></i><i class=ga3></i><i class=ga4></i><i class=ga5></i><i class=ga6></i><i class=ga7></i><i class=ga8></i><i class=ga9></i><i class=gaa></i><i class=gab></i><i class=gac></i><i class=gad></i><i class=gae></i><i class=gaf></i><i class=gb0></i><i class=gb1></i><i class=gb2></i><i class=gb3></i><i class=gb4></i><i class=gb5></i><i class=gb6></i><i class=gb7></i><i class=gb8></i><i class=gb9></i><i class=gba></i><i class=gbb></i><i class=gbb></i><i class=gba></i><i class=gb9></i><i class=gb8></i><i class=gb7></i><i class=gb6></i><i class=gb5></i><i class=gb4></i><i class=gb3></i><i class=gb2></i><i class=gb1></i><i class=gb0></i><i class=gaf></i><i class=gae></i><i class=gad></i><i class=gac></i><i class=gab></i><i class=gaa></i><i class=ga9></i><i class=ga8></i><i class=ga7></i><i class=ga6></i><i class=ga5></i><i class=ga4></i><i class=ga3></i><i class=ga2></i><i class=ga1></i><i class=ga0></i><i class=g9f></i><i class=g9e></i><i class=g9d></i><i class=g9c></i><i class=g9b></i><i class=g9a></i><i class=g99></i><i class=g98></i><i class=g97></i><i class=g96></i><i class=g95></i><i class=g94></i><i class=g93></i><i class=g92></i><i class=g91></i><i class=g90></i><i class=g8f></i><i class=g8e></i><i class=g8d></i><i class=g8c></i><i class=g8b></i><i class=g8a></i><i class=g89></i><i class=g89></i><i class=g89></i></div></div><div class=p style="left:1199px;top:409px"><div class=q><i class=gbc></i><i class=gbc></i><i class=gbc></i><i class=gbd></i><i class=gbe></i><i class=gbf></i><i class=gc0></i><i class=gc1></i><i class=gc2></i><i class=gc3></i><i class=gc4></i><i class=gc5></i><i class=gc6></i><i class=gc7></i><i class=gc8></i><i class=gc9></i><i class=gca></i><i class=gcb></i><i class=gcc></i><i class=gcd></i><i class=gce></i><i class=gcf></i><i class=gd0></i><i class=gd1></i><i class=gd2></i><i class=gd3></i><i class=gd4></i><i class=gd5></i><i class=gd6></i><i class=gd7></i><i class=gd8></i><i class=gd9></i><i class=gda></i><i class=gdb></i><i class=gdc></i><i class=gdd></i><i class=gde></i><i class=gdf></i><i class=ge0></i><i class=ge1></i><i class=ge2></i><i class=ge3></i><i class=ge4></i><i class=ge5></i><i class=ge6></i><i class=ge7></i><i class=ge8></i><i class=ge9></i><i class=gea></i><i class=geb></i><i class=gec></i><i class=ged></i><i class=gee></i><i class=gee></i><i class=ged></i><i class=gec></i><i class=geb></i><i class=gea></i><i class=ge9></i><i class=ge8></i><i class=ge7></i><i class=ge6></i><i class=ge5></i><i class=ge4></i><i class=ge3></i><i class=ge2></i><i class=ge1></i><i class=ge0></i><i class=gdf></i><i class=gde></i><i class=gdd></i><i class=gdc></i><i class=gdb></i><i class=gda></i><i class=gd9></i><i class=gd8></i><i class=gd7></i><i class=gd6></i><i class=gd5></i><i class=gd4></i><i class=gd3></i><i class=gd2></i><i class=gd1></i><i class=gd0></i><i class=gcf></i><i class=gce></i><i class=gcd></i><i class=gcc></i><i class=gcb></i><i class=gca></i><i class=gc9></i><i class=gc8></i><i class=gc7></i><i class=gc6></i><i class=gc5></i><i class=gc4></i><i class=gc3></i><i class=gc2></i><i class=gc1></i><i class=gc0></i><i class=gbf></i><i class=gbe></i><i class=gbd></i><i class=gbc></i><i class=gbc></i><i class=gbc></i></div></div><div class=p style="left:96px;top:776px"><div class=q><i class=gef></i><i class=gef></i><i class=gef></i><i class=gf0></i><i class=gf1></i><i class=gf2></i><i class=gf3></i><i class=gf4></i><i class=gf5></i><i class=gf6></i><i class=gf7></i><i class=gf8></i><i class=gf9></i><i class=gfa></i><i class=gfb></i><i class=gfc></i><i class=gfd></i><i class=gfe></i><i class=gff></i><i class=g100></i><i class=g101></i><i class=g102></i><i class=g103></i><i class=g104></i><i class=g105></i><i class=g106></i><i class=g107></i><i class=g108></i><i class=g109></i><i class=g10a></i><i class=g10b></i><i class=g10c></i><i class=g10d></i><i class=g10e></i><i class=g10f></i><i class=g110></i><i class=g111></i><i class=g112></i><i class=g113></i><i class=g114></i><i class=g115></i><i class=g116></i><i class=g117></i><i class=g118></i><i class=g119></i><i class=g11a></i><i class=g11b></i><i class=g11c></i><i class=g11d></i><i class=g11e></i><i class=g11f></i><i class=g120></i><i class=g121></i><i class="g121 f"></i><i class="g120 f"></i><i class="g11f f"></i><i class="g11e f"></i><i class="g11d f"></i><i class="g11c f"></i><i class="g11b f"></i><i class="g11a f"></i><i class="g119 f"></i><i class="g118 f"></i><i class="g117 f"></i><i class="g116 f"></i><i class="g115 f"></i><i class="g114 f"></i><i class="g113 f"></i><i class="g112 f"></i><i class="g111 f"></i><i class="g110 f"></i><i class="g10f f"></i><i class="g10e f"></i><i class="g10d f"></i><i class="g10c f"></i><i class="g10b f"></i><i class="g10a f"></i><i class="g109 f"></i><i class="g108 f"></i><i class="g107 f"></i><i class="g106 f"></i><i class="g105 f"></i><i class="g104 f"></i><i class="g103 f"></i><i class="g102 f"></i><i class="g101 f"></i><i class="g100 f"></i><i class="gff f"></i><i class="gfe f"></i><i class="gfd f"></i><i class="gfc f"></i><i class="gfb f"></i><i class="gfa f"></i><i class="gf9 f"></i><i class="gf8 f"></i><i class="gf7 f"></i><i class="gf6 f"></i><i class="gf5 f"></i><i class="gf4 f"></i><i class="gf3 f"></i><i class="gf2 f"></i><i class="gf1 f"></i><i class="gf0 f"></i><i class="gef f"></i><i class="gef f"></i><i class="gef f"></i></div></div><div class=p style="left:464px;top:776px"><div class=q><i class=g122></i><i class=g122></i><i class=g122></i><i class=g123></i><i class=g124></i><i class=g125></i><i class=g126></i><i class=g127></i><i class=g128></i><i class=g129></i><i class=g12a></i><i class=g12b></i><i class=g12c></i><i class=g12d></i><i class=g12e></i><i class=g12f></i><i class=g130></i><i class=g131></i><i class=g132></i><i class=g133></i><i class=g134></i><i class=g135></i><i class=g136></i><i class=g137></i><i class=g138></i><i class=g139></i><i class=g13a></i><i class=g13b></i><i class=g13c></i><i class=g13d></i><i class=g13e></i><i class=g13f></i><i class=g140></i><i class=g141></i><i class=g142></i><i class=g143></i><i class=g144></i><i class=g145></i><i class=g146></i><i class=g147></i><i class=g148></i><i class=g149></i><i class=g14a></i><i class=g14b></i><i class=g14c></i><i class=g14d></i><i class=g14e></i><i class=g14f></i><i class=g150></i><i class=g151></i><i class=g152></i><i class=g153></i><i class=g154></i><i class="g154 f"></i><i class="g153 f"></i><i class="g152 f"></i><i class="g151 f"></i><i class="g150 f"></i><i class="g14f f"></i><i class="g14e f"></i><i class="g14d f"></i><i class="g14c f"></i><i class="g14b f"></i><i class="g14a f"></i><i class="g149 f"></i><i class="g148 f"></i><i class="g147 f"></i><i class="g146 f"></i><i class="g145 f"></i><i class="g144 f"></i><i class="g143 f"></i><i class="g142 f"></i><i class="g141 f"></i><i class="g140 f"></i><i class="g13f f"></i><i class="g13e f"></i><i class="g13d f"></i><i class="g13c f"></i><i class="g13b f"></i><i class="g13a f"></i><i class="g139 f"></i><i class="g138 f"></i><i class="g137 f"></i><i class="g136 f"></i><i class="g135 f"></i><i class="g134 f"></i><i class="g133 f"></i><i class="g132 f"></i><i class="g131 f"></i><i class="g130 f"></i><i class="g12f f"></i><i class="g12e f"></i><i class="g12d f"></i><i class="g12c f"></i><i class="g12b f"></i><i class="g12a f"></i><i class="g129 f"></i><i class="g128 f"></i><i class="g127 f"></i><i class="g126 f"></i><i class="g125 f"></i><i class="g124 f"></i><i class="g123 f"></i><i class="g122 f"></i><i class="g122 f"></i><i class="g122 f"></i></div></div><div class=p style="left:831px;top:776px"><div class=q><i class=g155></i><i class=g155></i><i class=g155></i><i class=g156></i><i class=g157></i><i class=g158></i><i class=g159></i><i class=g15a></i><i class=g15b></i><i class=g15c></i><i class=g15d></i><i class=g15e></i><i class=g15f></i><i class=g160></i><i class=g161></i><i class=g162></i><i class=g163></i><i class=g164></i><i class=g165></i><i class=g166></i><i class=g167></i><i class=g168></i><i class=g169></i><i class=g16a></i><i class=g16b></i><i class=g16c></i><i class=g16d></i><i class=g16e></i><i class=g16f></i><i class=g170></i><i class=g171></i><i class=g172></i><i class=g173></i><i class=g174></i><i class=g175></i><i class=g176></i><i class=g177></i><i class=g178></i><i class=g179></i><i class=g17a></i><i class=g17b></i><i class=g17c></i><i class=g17d></i><i class=g17e></i><i class=g17f></i><i class=g180></i><i class=g181></i><i class=g182></i><i class=g183></i><i class=g184></i><i class=g185></i><i class=g186></i><i class=g187></i><i class=g187></i><i class=g186></i><i class=g185></i><i class=g184></i><i class=g183></i><i class=g182></i><i class=g181></i><i class=g180></i><i class=g17f></i><i class=g17e></i><i class=g17d></i><i class=g17c></i><i class=g17b></i><i class=g17a></i><i class=g179></i><i class=g178></i><i class=g177></i><i class=g176></i><i class=g175></i><i class=g174></i><i class=g173></i><i class=g172></i><i class=g171></i><i class=g170></i><i class=g16f></i><i class=g16e></i><i class=g16d></i><i class=g16c></i><i class=g16b></i><i class=g16a></i><i class=g169></i><i class=g168></i><i class=g167></i><i class=g166></i><i class=g165></i><i class=g164></i><i class=g163></i><i class=g162></i><i class=g161></i><i class=g160></i><i class=g15f></i><i class=g15e></i><i class=g15d></i><i class=g15c></i><i class=g15b></i><i class=g15a></i><i class=g159></i><i class=g158></i><i class=g157></i><i class=g156></i><i class=g155></i><i class=g155></i><i class=g155></i></div></div><div class=p style="left:96px;top:1144px"><div class=q><i class=g188></i><i class=g188></i><i class=g188></i><i class=g189></i><i class=g18a></i><i class=g18b></i><i class=g18c></i><i class=g18d></i><i class=g18e></i><i class=g18f></i><i class=g190></i><i class=g191></i><i class=g192></i><i class=g193></i><i class=g194></i><i class=g195></i><i class=g196></i><i class=g197></i><i class=g198></i><i class=g199></i><i class=g19a></i><i class=g19b></i><i class=g19c></i><i class=g19d></i><i class=g19e></i><i class=g19f></i><i class=g1a0></i><i class=g1a1></i><i class=g1a2></i><i class=g1a3></i><i class=g1a4></i><i class=g1a5></i><i class=g1a6></i><i class=g1a7></i><i class=g1a8></i><i class=g1a9></i><i class=g1aa></i><i class=g1ab></i><i class=g1ac></i><i class=g1ad></i><i class=g1ae></i><i class=g1af></i><i class=g1b0></i><i class=g1b1></i><i class=g1b2></i><i class=g1b3></i><i class=g1b4></i><i class=g1b5></i><i class=g1b6></i><i class=g1b7></i><i class=g1b8></i><i class=g1b9></i><i class=g1ba></i><i class="g1ba f"></i><i class="g1b9 f"></i><i class="g1b8 f"></i><i class="g1b7 f"></i><i class="g1b6 f"></i><i class="g1b5 f"></i><i class="g1b4 f"></i><i class="g1b3 f"></i><i class="g1b2 f"></i><i class="g1b1 f"></i><i class="g1b0 f"></i><i class="g1af f"></i><i class="g1ae f"></i><i class="g1ad f"></i><i class="g1ac f"></i><i class="g1ab f"></i><i class="g1aa f"></i><i class="g1a9 f"></i><i class="g1a8 f"></i><i class="g1a7 f"></i><i class="g1a6 f"></i><i class="g1a5 f"></i><i class="g1a4 f"></i><i class="g1a3 f"></i><i class="g1a2 f"></i><i class="g1a1 f"></i><i class="g1a0 f"></i><i class="g19f f"></i><i class="g19e f"></i><i class="g19d f"></i><i class="g19c f"></i><i class="g19b f"></i><i class="g19a f"></i><i class="g199 f"></i><i class="g198 f"></i><i class="g197 f"></i><i class="g196 f"></i><i class="g195 f"></i><i class="g194 f"></i><i class="g193 f"></i><i class="g192 f"></i><i class="g191 f"></i><i class="g190 f"></i><i class="g18f f"></i><i class="g18e f"></i><i class="g18d f"></i><i class="g18c f"></i><i class="g18b f"></i><i class="g18a f"></i><i class="g189 f"></i><i class="g188 f"></i><i class="g188 f"></i><i class="g188 f"></i></div></div><div class=p style="left:464px;top:1144px"><div class=q><i class=g1bb></i><i class=g1bb></i><i class=g1bb></i><i class=g1bc></i><i class=g1bd></i><i class=g1be></i><i class=g1bf></i><i class=g1c0></i><i class=g1c1></i><i class=g1c2></i><i class=g1c3></i><i class=g1c4></i><i class=g1c5></i><i class=g1c6></i><i class=g1c7></i><i class=g1c8></i><i class=g1c9></i><i class=g1ca></i><i class=g1cb></i><i class=g1cc></i><i class=g1cd></i><i class=g1ce></i><i class=g1cf></i><i class=g1d0></i><i class=g1d1></i><i class=g1d2></i><i class=g1d3></i><i class=g1d4></i><i class=g1d5></i><i class=g1d6></i><i class=g1d7></i><i class=g1d8></i><i class=g1d9></i><i class=g1da></i><i class=g1db></i><i class=g1dc></i><i class=g1dd></i><i class=g1de></i><i class=g1df></i><i class=g1e0></i><i class=g1e1></i><i class=g1e2></i><i class=g1e3></i><i class=g1e4></i><i class=g1e5></i><i class=g1e6></i><i class=g1e7></i><i class=g1e8></i><i class=g1e9></i><i class=g1ea></i><i class=g1eb></i><i class=g1ec></i><i class=g1ed></i><i class="g1ed f"></i><i class="g1ec f"></i><i class="g1eb f"></i><i class="g1ea f"></i><i class="g1e9 f"></i><i class="g1e8 f"></i><i class="g1e7 f"></i><i class="g1e6 f"></i><i class="g1e5 f"></i><i class="g1e4 f"></i><i class="g1e3 f"></i><i class="g1e2 f"></i><i class="g1e1 f"></i><i class="g1e0 f"></i><i class="g1df f"></i><i class="g1de f"></i><i class="g1dd f"></i><i class="g1dc f"></i><i class="g1db f"></i><i class="g1da f"></i><i class="g1d9 f"></i><i class="g1d8 f"></i><i class="g1d7 f"></i><i class="g1d6 f"></i><i class="g1d5 f"></i><i class="g1d4 f"></i><i class="g1d3 f"></i><i class="g1d2 f"></i><i class="g1d1 f"></i><i class="g1d0 f"></i><i class="g1cf f"></i><i class="g1ce f"></i><i class="g1cd f"></i><i class="g1cc f"></i><i class="g1cb f"></i><i class="g1ca f"></i><i class="g1c9 f"></i><i class="g1c8 f"></i><i class="g1c7 f"></i><i class="g1c6 f"></i><i class="g1c5 f"></i><i class="g1c4 f"></i><i class="g1c3 f"></i><i class="g1c2 f"></i><i class="g1c1 f"></i><i class="g1c0 f"></i><i class="g1bf f"></i><i class="g1be f"></i><i class="g1bd f"></i><i class="g1bc f"></i><i class="g1bb f"></i><i class="g1bb f"></i><i class="g1bb f"></i></div></div><div class=p style="left:831px;top:1144px"><div class=q><i class=g1ee></i><i class=g1ee></i><i class=g1ee></i><i class=g1ef></i><i class=g1f0></i><i class=g1f1></i><i class=g1f2></i><i class=g1f3></i><i class=g1f4></i><i class=g1f5></i><i class=g1f6></i><i class=g1f7></i><i class=g1f8></i><i class=g1f9></i><i class=g1fa></i><i class=g1fb></i><i class=g1fc></i><i class=g1fd></i><i class=g1fe></i><i class=g1ff></i><i class=g200></i><i class=g201></i><i class=g202></i><i class=g203></i><i class=g204></i><i class=g205></i><i class=g206></i><i class=g207></i><i class=g208></i><i class=g209></i><i class=g20a></i><i class=g20b></i><i class=g20c></i><i class=g20d></i><i class=g20e></i><i class=g20f></i><i class=g210></i><i class=g211></i><i class=g212></i><i class=g213></i><i class=g214></i><i class=g215></i><i class=g216></i><i class=g217></i><i class=g218></i><i class=g219></i><i class=g21a></i><i class=g21b></i><i class=g21c></i><i class=g21d></i><i class=g21e></i><i class=g21f></i><i class=g220></i><i class="g220 f"></i><i class="g21f f"></i><i class="g21e f"></i><i class="g21d f"></i><i class="g21c f"></i><i class="g21b f"></i><i class="g21a f"></i><i class="g219 f"></i><i class="g218 f"></i><i class="g217 f"></i><i class="g216 f"></i><i class="g215 f"></i><i class="g214 f"></i><i class="g213 f"></i><i class="g212 f"></i><i class="g211 f"></i><i class="g210 f"></i><i class="g20f f"></i><i class="g20e f"></i><i class="g20d f"></i><i class="g20c f"></i><i class="g20b f"></i><i class="g20a f"></i><i class="g209 f"></i><i class="g208 f"></i><i class="g207 f"></i><i class="g206 f"></i><i class="g205 f"></i><i class="g204 f"></i><i class="g203 f"></i><i class="g202 f"></i><i class="g201 f"></i><i class="g200 f"></i><i class="g1ff f"></i><i class="g1fe f"></i><i class="g1fd f"></i><i class="g1fc f"></i><i class="g1fb f"></i><i class="g1fa f"></i><i class="g1f9 f"></i><i class="g1f8 f"></i><i class="g1f7 f"></i><i class="g1f6 f"></i><i class="g1f5 f"></i><i class="g1f4 f"></i><i class="g1f3 f"></i><i class="g1f2 f"></i><i class="g1f1 f"></i><i class="g1f0 f"></i><i class="g1ef f"></i><i class="g1ee f"></i><i class="g1ee f"></i><i class="g1ee f"></i></div></div><div class=p style="left:1199px;top:1144px"><div class=q><i class=g221></i><i class=g221></i><i class=g221></i><i class=g222></i><i class=g223></i><i class=g224></i><i class=g225></i><i class=g226></i><i class=g227></i><i class=g228></i><i class=g229></i><i class=g22a></i><i class=g22b></i><i class=g22c></i><i class=g22d></i><i class=g22e></i><i class=g22f></i><i class=g230></i><i class=g231></i><i class=g232></i><i class=g233></i><i class=g234></i><i class=g235></i><i class=g236></i><i class=g237></i><i class=g238></i><i class=g239></i><i class=g23a></i><i class=g23b></i><i class=g23c></i><i class=g23d></i><i class=g23e></i><i class=g23f></i><i class=g240></i><i class=g241></i><i class=g241></i><i class=g242></i><i class=g242></i><i class=g242></i><i class=g243></i><i class=g244></i><i class=g245></i><i class=g246></i><i class=g247></i><i class=g248></i><i class=g249></i><i class=g24a></i><i class=g24b></i><i class=g24c></i><i class=g24d></i><i class=g24e></i><i class=g24f></i><i class=g250></i><i class="g250 f"></i><i class="g24f f"></i><i class="g24e f"></i><i class="g24d f"></i><i class="g24c f"></i><i class="g24b f"></i><i class="g24a f"></i><i class="g249 f"></i><i class="g248 f"></i><i class="g247 f"></i><i class="g246 f"></i><i class="g245 f"></i><i class="g244 f"></i><i class="g243 f"></i><i class="g242 f"></i><i class="g242 f"></i><i class="g242 f"></i><i class="g241 f"></i><i class="g241 f"></i><i class="g240 f"></i><i class="g23f f"></i><i class="g23e f"></i><i class="g23d f"></i><i class="g23c f"></i><i class="g23b f"></i><i class="g23a f"></i><i class="g239 f"></i><i class="g238 f"></i><i class="g237 f"></i><i class="g236 f"></i><i class="g235 f"></i><i class="g234 f"></i><i class="g233 f"></i><i class="g232 f"></i><i class="g231 f"></i><i class="g230 f"></i><i class="g22f f"></i><i class="g22e f"></i><i class="g22d f"></i><i class="g22c f"></i><i class="g22b f"></i><i class="g22a f"></i><i class="g229 f"></i><i class="g228 f"></i><i class="g227 f"></i><i class="g226 f"></i><i class="g225 f"></i><i class="g224 f"></i><i class="g223 f"></i><i class="g222 f"></i><i class="g221 f"></i><i class="g221 f"></i><i class="g221 f"></i></div></div><svg width="1529" height="1520" viewBox="0 0 1529 1520" style="position:absolute;left:0;top:0"><defs><filter id="vb" x="0" y="0" width="1" height="1" color-interpolation-filters="sRGB"><feGaussianBlur stdDeviation="0 1.6"/></filter><linearGradient id="cb" x1="0" y1="0" x2="0" y2="1"><stop offset="0%" stop-color="#053061"/><stop offset="3.1%" stop-color="#0d3f76"/><stop offset="6.2%" stop-color="#15508d"/><stop offset="9.4%" stop-color="#1e61a5"/><stop offset="12.5%" stop-color="#2870b1"/><stop offset="15.6%" stop-color="#337eb8"/><stop offset="18.8%" stop-color="#3e8cbf"/><stop offset="21.9%" stop-color="#4f9bc7"/><stop offset="25%" stop-color="#68abd0"/><stop offset="28.1%" stop-color="#81bad8"/><stop offset="31.2%" stop-color="#98c8e0"/><stop offset="34.4%" stop-color="#acd2e5"/><stop offset="37.5%" stop-color="#c0dceb"/><stop offset="40.6%" stop-color="#d2e6f0"/><stop offset="43.8%" stop-color="#deebf2"/><stop offset="46.9%" stop-color="#eaf1f5"/><stop offset="50%" stop-color="#f6f7f7"/><stop offset="53.1%" stop-color="#f9efe9"/><stop offset="56.2%" stop-color="#fbe6da"/><stop offset="59.4%" stop-color="#fdddcb"/><stop offset="62.5%" stop-color="#fbceb7"/><stop offset="65.6%" stop-color="#f8bda1"/><stop offset="68.8%" stop-color="#f5ac8b"/><stop offset="71.9%" stop-color="#ef9979"/><stop offset="75%" stop-color="#e58368"/><stop offset="78.1%" stop-color="#dc6e57"/><stop offset="81.2%" stop-color="#d25849"/><stop offset="84.4%" stop-color="#c6413e"/><stop offset="87.5%" stop-color="#bb2a34"/><stop offset="90.6%" stop-color="#ae172a"/><stop offset="93.8%" stop-color="#960f27"/><stop offset="96.9%" stop-color="#7f0823"/><stop offset="100%" stop-color="#67001f"/></linearGradient></defs><rect x="1197.95" y="40.50" width="21.6" height="306.85" fill="url(#cb)" stroke="#000" stroke-width="2.1"/><path d="M1219.55 193.52h-9.3" stroke="#000" stroke-width="1.7"/><text x="1227.85" y="202.92" class="t">0</text><rect x="1197.95" y="776.25" width="21.6" height="306.35" fill="url(#cb)" stroke="#000" stroke-width="2.1"/><path d="M1219.55 929.02h-9.3" stroke="#000" stroke-width="1.7"/><text x="1227.85" y="938.42" class="t">0</text><path d="M171.85 40.30v9.6M171.85 347.15v-9.6M95.80 270.18h9.6M401.90 270.18h-9.6M248.30 40.30v9.6M248.30 347.15v-9.6M95.80 193.37h9.6M401.90 193.37h-9.6M324.75 40.30v9.6M324.75 347.15v-9.6M95.80 116.57h9.6M401.90 116.57h-9.6" stroke="#000" stroke-width="1.9" fill="none"/><path d="M133.63 40.30v4.8M133.63 347.15v-4.8M95.80 308.59h4.8M401.90 308.59h-4.8M210.08 40.30v4.8M210.08 347.15v-4.8M95.80 231.78h4.8M401.90 231.78h-4.8M286.52 40.30v4.8M286.52 347.15v-4.8M95.80 154.97h4.8M401.90 154.97h-4.8M362.97 40.30v4.8M362.97 347.15v-4.8M95.80 78.16h4.8M401.90 78.16h-4.8" stroke="#000" stroke-width="1.45" fill="none"/><rect x="95.80" y="40.30" width="306.10" height="306.85" fill="none" stroke="#000" stroke-width="2.2"/><path d="M539.85 40.30v9.6M539.85 347.15v-9.6M463.80 270.18h9.6M769.90 270.18h-9.6M616.30 40.30v9.6M616.30 347.15v-9.6M463.80 193.37h9.6M769.90 193.37h-9.6M692.75 40.30v9.6M692.75 347.15v-9.6M463.80 116.57h9.6M769.90 116.57h-9.6" stroke="#000" stroke-width="1.9" fill="none"/><path d="M501.63 40.30v4.8M501.63 347.15v-4.8M463.80 308.59h4.8M769.90 308.59h-4.8M578.08 40.30v4.8M578.08 347.15v-4.8M463.80 231.78h4.8M769.90 231.78h-4.8M654.52 40.30v4.8M654.52 347.15v-4.8M463.80 154.97h4.8M769.90 154.97h-4.8M730.97 40.30v4.8M730.97 347.15v-4.8M463.80 78.16h4.8M769.90 78.16h-4.8" stroke="#000" stroke-width="1.45" fill="none"/><rect x="463.80" y="40.30" width="306.10" height="306.85" fill="none" stroke="#000" stroke-width="2.2"/><path d="M906.86 40.30v9.6M906.86 347.15v-9.6M830.80 270.18h9.6M1136.95 270.18h-9.6M983.33 40.30v9.6M983.33 347.15v-9.6M830.80 193.37h9.6M1136.95 193.37h-9.6M1059.79 40.30v9.6M1059.79 347.15v-9.6M830.80 116.57h9.6M1136.95 116.57h-9.6" stroke="#000" stroke-width="1.9" fill="none"/><path d="M868.63 40.30v4.8M868.63 347.15v-4.8M830.80 308.59h4.8M1136.95 308.59h-4.8M945.09 40.30v4.8M945.09 347.15v-4.8M830.80 231.78h4.8M1136.95 231.78h-4.8M1021.56 40.30v4.8M1021.56 347.15v-4.8M830.80 154.97h4.8M1136.95 154.97h-4.8M1098.02 40.30v4.8M1098.02 347.15v-4.8M830.80 78.16h4.8M1136.95 78.16h-4.8" stroke="#000" stroke-width="1.45" fill="none"/><rect x="830.80" y="40.30" width="306.15" height="306.85" fill="none" stroke="#000" stroke-width="2.2"/><path d="M171.85 408.80v9.6M171.85 715.10v-9.6M95.80 638.27h9.6M401.90 638.27h-9.6M248.30 408.80v9.6M248.30 715.10v-9.6M95.80 561.60h9.6M401.90 561.60h-9.6M324.75 408.80v9.6M324.75 715.10v-9.6M95.80 484.93h9.6M401.90 484.93h-9.6" stroke="#000" stroke-width="1.9" fill="none"/><path d="M133.63 408.80v4.8M133.63 715.10v-4.8M95.80 676.61h4.8M401.90 676.61h-4.8M210.08 408.80v4.8M210.08 715.10v-4.8M95.80 599.94h4.8M401.90 599.94h-4.8M286.52 408.80v4.8M286.52 715.10v-4.8M95.80 523.26h4.8M401.90 523.26h-4.8M362.97 408.80v4.8M362.97 715.10v-4.8M95.80 446.59h4.8M401.90 446.59h-4.8" stroke="#000" stroke-width="1.45" fill="none"/><rect x="95.80" y="408.80" width="306.10" height="306.30" fill="none" stroke="#000" stroke-width="2.2"/><path d="M539.85 408.80v9.6M539.85 715.10v-9.6M463.80 638.27h9.6M769.90 638.27h-9.6M616.30 408.80v9.6M616.30 715.10v-9.6M463.80 561.60h9.6M769.90 561.60h-9.6M692.75 408.80v9.6M692.75 715.10v-9.6M463.80 484.93h9.6M769.90 484.93h-9.6" stroke="#000" stroke-width="1.9" fill="none"/><path d="M501.63 408.80v4.8M501.63 715.10v-4.8M463.80 676.61h4.8M769.90 676.61h-4.8M578.08 408.80v4.8M578.08 715.10v-4.8M463.80 599.94h4.8M769.90 599.94h-4.8M654.52 408.80v4.8M654.52 715.10v-4.8M463.80 523.26h4.8M769.90 523.26h-4.8M730.97 408.80v4.8M730.97 715.10v-4.8M463.80 446.59h4.8M769.90 446.59h-4.8" stroke="#000" stroke-width="1.45" fill="none"/><rect x="463.80" y="408.80" width="306.10" height="306.30" fill="none" stroke="#000" stroke-width="2.2"/><path d="M906.86 408.80v9.6M906.86 715.10v-9.6M830.80 638.27h9.6M1136.95 638.27h-9.6M983.33 408.80v9.6M983.33 715.10v-9.6M830.80 561.60h9.6M1136.95 561.60h-9.6M1059.79 408.80v9.6M1059.79 715.10v-9.6M830.80 484.93h9.6M1136.95 484.93h-9.6" stroke="#000" stroke-width="1.9" fill="none"/><path d="M868.63 408.80v4.8M868.63 715.10v-4.8M830.80 676.61h4.8M1136.95 676.61h-4.8M945.09 408.80v4.8M945.09 715.10v-4.8M830.80 599.94h4.8M1136.95 599.94h-4.8M1021.56 408.80v4.8M1021.56 715.10v-4.8M830.80 523.26h4.8M1136.95 523.26h-4.8M1098.02 408.80v4.8M1098.02 715.10v-4.8M830.80 446.59h4.8M1136.95 446.59h-4.8" stroke="#000" stroke-width="1.45" fill="none"/><rect x="830.80" y="408.80" width="306.15" height="306.30" fill="none" stroke="#000" stroke-width="2.2"/><path d="M1274.93 408.80v9.6M1274.93 715.10v-9.6M1198.85 638.27h9.6M1505.05 638.27h-9.6M1351.40 408.80v9.6M1351.40 715.10v-9.6M1198.85 561.60h9.6M1505.05 561.60h-9.6M1427.87 408.80v9.6M1427.87 715.10v-9.6M1198.85 484.93h9.6M1505.05 484.93h-9.6" stroke="#000" stroke-width="1.9" fill="none"/><path d="M1236.69 408.80v4.8M1236.69 715.10v-4.8M1198.85 676.61h4.8M1505.05 676.61h-4.8M1313.16 408.80v4.8M1313.16 715.10v-4.8M1198.85 599.94h4.8M1505.05 599.94h-4.8M1389.64 408.80v4.8M1389.64 715.10v-4.8M1198.85 523.26h4.8M1505.05 523.26h-4.8M1466.11 408.80v4.8M1466.11 715.10v-4.8M1198.85 446.59h4.8M1505.05 446.59h-4.8" stroke="#000" stroke-width="1.45" fill="none"/><rect x="1198.85" y="408.80" width="306.20" height="306.30" fill="none" stroke="#000" stroke-width="2.2"/><path d="M171.85 776.05v9.6M171.85 1082.40v-9.6M95.80 1005.56h9.6M401.90 1005.56h-9.6M248.30 776.05v9.6M248.30 1082.40v-9.6M95.80 928.88h9.6M401.90 928.88h-9.6M324.75 776.05v9.6M324.75 1082.40v-9.6M95.80 852.19h9.6M401.90 852.19h-9.6" stroke="#000" stroke-width="1.9" fill="none"/><path d="M133.63 776.05v4.8M133.63 1082.40v-4.8M95.80 1043.90h4.8M401.90 1043.90h-4.8M210.08 776.05v4.8M210.08 1082.40v-4.8M95.80 967.22h4.8M401.90 967.22h-4.8M286.52 776.05v4.8M286.52 1082.40v-4.8M95.80 890.53h4.8M401.90 890.53h-4.8M362.97 776.05v4.8M362.97 1082.40v-4.8M95.80 813.85h4.8M401.90 813.85h-4.8" stroke="#000" stroke-width="1.45" fill="none"/><rect x="95.80" y="776.05" width="306.10" height="306.35" fill="none" stroke="#000" stroke-width="2.2"/><path d="M539.85 776.05v9.6M539.85 1082.40v-9.6M463.80 1005.56h9.6M769.90 1005.56h-9.6M616.30 776.05v9.6M616.30 1082.40v-9.6M463.80 928.88h9.6M769.90 928.88h-9.6M692.75 776.05v9.6M692.75 1082.40v-9.6M463.80 852.19h9.6M769.90 852.19h-9.6" stroke="#000" stroke-width="1.9" fill="none"/><path d="M501.63 776.05v4.8M501.63 1082.40v-4.8M463.80 1043.90h4.8M769.90 1043.90h-4.8M578.08 776.05v4.8M578.08 1082.40v-4.8M463.80 967.22h4.8M769.90 967.22h-4.8M654.52 776.05v4.8M654.52 1082.40v-4.8M463.80 890.53h4.8M769.90 890.53h-4.8M730.97 776.05v4.8M730.97 1082.40v-4.8M463.80 813.85h4.8M769.90 813.85h-4.8" stroke="#000" stroke-width="1.45" fill="none"/><rect x="463.80" y="776.05" width="306.10" height="306.35" fill="none" stroke="#000" stroke-width="2.2"/><path d="M906.86 776.05v9.6M906.86 1082.40v-9.6M830.80 1005.56h9.6M1136.95 1005.56h-9.6M983.33 776.05v9.6M983.33 1082.40v-9.6M830.80 928.88h9.6M1136.95 928.88h-9.6M1059.79 776.05v9.6M1059.79 1082.40v-9.6M830.80 852.19h9.6M1136.95 852.19h-9.6" stroke="#000" stroke-width="1.9" fill="none"/><path d="M868.63 776.05v4.8M868.63 1082.40v-4.8M830.80 1043.90h4.8M1136.95 1043.90h-4.8M945.09 776.05v4.8M945.09 1082.40v-4.8M830.80 967.22h4.8M1136.95 967.22h-4.8M1021.56 776.05v4.8M1021.56 1082.40v-4.8M830.80 890.53h4.8M1136.95 890.53h-4.8M1098.02 776.05v4.8M1098.02 1082.40v-4.8M830.80 813.85h4.8M1136.95 813.85h-4.8" stroke="#000" stroke-width="1.45" fill="none"/><rect x="830.80" y="776.05" width="306.15" height="306.35" fill="none" stroke="#000" stroke-width="2.2"/><path d="M171.85 1144.10v9.6M171.85 1450.70v-9.6M95.80 1373.80h9.6M401.90 1373.80h-9.6M248.30 1144.10v9.6M248.30 1450.70v-9.6M95.80 1297.05h9.6M401.90 1297.05h-9.6M324.75 1144.10v9.6M324.75 1450.70v-9.6M95.80 1220.30h9.6M401.90 1220.30h-9.6" stroke="#000" stroke-width="1.9" fill="none"/><path d="M133.63 1144.10v4.8M133.63 1450.70v-4.8M95.80 1412.17h4.8M401.90 1412.17h-4.8M210.08 1144.10v4.8M210.08 1450.70v-4.8M95.80 1335.42h4.8M401.90 1335.42h-4.8M286.52 1144.10v4.8M286.52 1450.70v-4.8M95.80 1258.68h4.8M401.90 1258.68h-4.8M362.97 1144.10v4.8M362.97 1450.70v-4.8M95.80 1181.93h4.8M401.90 1181.93h-4.8" stroke="#000" stroke-width="1.45" fill="none"/><rect x="95.80" y="1144.10" width="306.10" height="306.60" fill="none" stroke="#000" stroke-width="2.2"/><path d="M539.85 1144.10v9.6M539.85 1450.70v-9.6M463.80 1373.80h9.6M769.90 1373.80h-9.6M616.30 1144.10v9.6M616.30 1450.70v-9.6M463.80 1297.05h9.6M769.90 1297.05h-9.6M692.75 1144.10v9.6M692.75 1450.70v-9.6M463.80 1220.30h9.6M769.90 1220.30h-9.6" stroke="#000" stroke-width="1.9" fill="none"/><path d="M501.63 1144.10v4.8M501.63 1450.70v-4.8M463.80 1412.17h4.8M769.90 1412.17h-4.8M578.08 1144.10v4.8M578.08 1450.70v-4.8M463.80 1335.42h4.8M769.90 1335.42h-4.8M654.52 1144.10v4.8M654.52 1450.70v-4.8M463.80 1258.68h4.8M769.90 1258.68h-4.8M730.97 1144.10v4.8M730.97 1450.70v-4.8M463.80 1181.93h4.8M769.90 1181.93h-4.8" stroke="#000" stroke-width="1.45" fill="none"/><rect x="463.80" y="1144.10" width="306.10" height="306.60" fill="none" stroke="#000" stroke-width="2.2"/><path d="M906.86 1144.10v9.6M906.86 1450.70v-9.6M830.80 1373.80h9.6M1136.95 1373.80h-9.6M983.33 1144.10v9.6M983.33 1450.70v-9.6M830.80 1297.05h9.6M1136.95 1297.05h-9.6M1059.79 1144.10v9.6M1059.79 1450.70v-9.6M830.80 1220.30h9.6M1136.95 1220.30h-9.6" stroke="#000" stroke-width="1.9" fill="none"/><path d="M868.63 1144.10v4.8M868.63 1450.70v-4.8M830.80 1412.17h4.8M1136.95 1412.17h-4.8M945.09 1144.10v4.8M945.09 1450.70v-4.8M830.80 1335.42h4.8M1136.95 1335.42h-4.8M1021.56 1144.10v4.8M1021.56 1450.70v-4.8M830.80 1258.68h4.8M1136.95 1258.68h-4.8M1098.02 1144.10v4.8M1098.02 1450.70v-4.8M830.80 1181.93h4.8M1136.95 1181.93h-4.8" stroke="#000" stroke-width="1.45" fill="none"/><rect x="830.80" y="1144.10" width="306.15" height="306.60" fill="none" stroke="#000" stroke-width="2.2"/><path d="M1274.93 1144.10v9.6M1274.93 1450.70v-9.6M1198.85 1373.80h9.6M1505.05 1373.80h-9.6M1351.40 1144.10v9.6M1351.40 1450.70v-9.6M1198.85 1297.05h9.6M1505.05 1297.05h-9.6M1427.87 1144.10v9.6M1427.87 1450.70v-9.6M1198.85 1220.30h9.6M1505.05 1220.30h-9.6" stroke="#000" stroke-width="1.9" fill="none"/><path d="M1236.69 1144.10v4.8M1236.69 1450.70v-4.8M1198.85 1412.17h4.8M1505.05 1412.17h-4.8M1313.16 1144.10v4.8M1313.16 1450.70v-4.8M1198.85 1335.42h4.8M1505.05 1335.42h-4.8M1389.64 1144.10v4.8M1389.64 1450.70v-4.8M1198.85 1258.68h4.8M1505.05 1258.68h-4.8M1466.11 1144.10v4.8M1466.11 1450.70v-4.8M1198.85 1181.93h4.8M1505.05 1181.93h-4.8" stroke="#000" stroke-width="1.45" fill="none"/><rect x="1198.85" y="1144.10" width="306.20" height="306.60" fill="none" stroke="#000" stroke-width="2.2"/><text x="88.80" y="356.14" class="t" text-anchor="end">−20</text><text x="88.80" y="279.33" class="t" text-anchor="end">−10</text><text x="88.80" y="202.52" class="t" text-anchor="end">0</text><text x="88.80" y="125.72" class="t" text-anchor="end">10</text><text x="88.80" y="48.91" class="t" text-anchor="end">20</text><text transform="translate(25.40 194.02) rotate(-90)" class="t" text-anchor="middle">z / mm</text><text x="88.80" y="724.09" class="t" text-anchor="end">−20</text><text x="88.80" y="647.42" class="t" text-anchor="end">−10</text><text x="88.80" y="570.75" class="t" text-anchor="end">0</text><text x="88.80" y="494.08" class="t" text-anchor="end">10</text><text x="88.80" y="417.41" class="t" text-anchor="end">20</text><text transform="translate(25.40 562.25) rotate(-90)" class="t" text-anchor="middle">z / mm</text><text x="88.80" y="1091.39" class="t" text-anchor="end">−20</text><text x="88.80" y="1014.71" class="t" text-anchor="end">−10</text><text x="88.80" y="938.02" class="t" text-anchor="end">0</text><text x="88.80" y="861.34" class="t" text-anchor="end">10</text><text x="88.80" y="784.66" class="t" text-anchor="end">20</text><text transform="translate(25.40 929.52) rotate(-90)" class="t" text-anchor="middle">z / mm</text><text x="88.80" y="1459.69" class="t" text-anchor="end">−20</text><text x="88.80" y="1382.95" class="t" text-anchor="end">−10</text><text x="88.80" y="1306.20" class="t" text-anchor="end">0</text><text x="88.80" y="1229.45" class="t" text-anchor="end">10</text><text x="88.80" y="1152.71" class="t" text-anchor="end">20</text><text transform="translate(25.40 1297.70) rotate(-90)" class="t" text-anchor="middle">z / mm</text><text x="96.90" y="1478.00" class="t" text-anchor="middle">−20</text><text x="172.45" y="1478.00" class="t" text-anchor="middle">−10</text><text x="248.90" y="1478.00" class="t" text-anchor="middle">0</text><text x="325.35" y="1478.00" class="t" text-anchor="middle">10</text><text x="401.80" y="1478.00" class="t" text-anchor="middle">20</text><text x="249.85" y="1509.20" class="t" text-anchor="middle">x / mm</text><text x="464.90" y="1478.00" class="t" text-anchor="middle">−20</text><text x="540.45" y="1478.00" class="t" text-anchor="middle">−10</text><text x="616.90" y="1478.00" class="t" text-anchor="middle">0</text><text x="693.35" y="1478.00" class="t" text-anchor="middle">10</text><text x="769.80" y="1478.00" class="t" text-anchor="middle">20</text><text x="617.85" y="1509.20" class="t" text-anchor="middle">x / mm</text><text x="831.90" y="1478.00" class="t" text-anchor="middle">−20</text><text x="907.46" y="1478.00" class="t" text-anchor="middle">−10</text><text x="983.93" y="1478.00" class="t" text-anchor="middle">0</text><text x="1060.39" y="1478.00" class="t" text-anchor="middle">10</text><text x="1136.85" y="1478.00" class="t" text-anchor="middle">20</text><text x="984.88" y="1509.20" class="t" text-anchor="middle">x / mm</text><text x="1199.95" y="1478.00" class="t" text-anchor="middle">−20</text><text x="1275.53" y="1478.00" class="t" text-anchor="middle">−10</text><text x="1352.00" y="1478.00" class="t" text-anchor="middle">0</text><text x="1428.47" y="1478.00" class="t" text-anchor="middle">10</text><text x="1504.95" y="1478.00" class="t" text-anchor="middle">20</text><text x="1352.95" y="1509.20" class="t" text-anchor="middle">x / mm</text><rect x="54.55" y="351.40" width="54.10" height="44.7" fill="#fff" fill-opacity="0.8"/><text x="54.55" y="387.00" class="L">(a)</text><rect x="421.85" y="351.40" width="54.94" height="44.7" fill="#fff" fill-opacity="0.8"/><text x="421.85" y="387.00" class="L">(b)</text><rect x="789.80" y="351.40" width="51.68" height="44.7" fill="#fff" fill-opacity="0.8"/><text x="789.80" y="387.00" class="L">(c)</text><rect x="54.55" y="719.35" width="54.94" height="44.7" fill="#fff" fill-opacity="0.8"/><text x="54.55" y="754.95" class="L">(d)</text><rect x="421.85" y="719.35" width="54.19" height="44.7" fill="#fff" fill-opacity="0.8"/><text x="421.85" y="754.95" class="L">(e)</text><rect x="789.80" y="719.35" width="44.08" height="44.7" fill="#fff" fill-opacity="0.8"/><text x="789.80" y="754.95" class="L">(f)</text><rect x="1156.80" y="719.35" width="54.94" height="44.7" fill="#fff" fill-opacity="0.8"/><text x="1156.80" y="754.95" class="L">(g)</text><rect x="54.55" y="1086.65" width="54.90" height="44.7" fill="#fff" fill-opacity="0.8"/><text x="54.55" y="1122.25" class="L">(h)</text><rect x="421.85" y="1086.65" width="41.24" height="44.7" fill="#fff" fill-opacity="0.8"/><text x="421.85" y="1122.25" class="L">(i)</text><rect x="789.80" y="1086.65" width="41.24" height="44.7" fill="#fff" fill-opacity="0.8"/><text x="789.80" y="1122.25" class="L">(j)</text><rect x="54.55" y="1454.95" width="52.80" height="44.7" fill="#fff" fill-opacity="0.8"/><text x="54.55" y="1490.55" class="L">(k)</text><rect x="421.85" y="1454.95" width="41.24" height="44.7" fill="#fff" fill-opacity="0.8"/><text x="421.85" y="1490.55" class="L">(l)</text><rect x="789.80" y="1454.95" width="67.96" height="44.7" fill="#fff" fill-opacity="0.8"/><text x="789.80" y="1490.55" class="L">(m)</text><rect x="1156.80" y="1454.95" width="54.90" height="44.7" fill="#fff" fill-opacity="0.8"/><text x="1156.80" y="1490.55" class="L">(n)</text><text x="250.15" y="29.50" class="T" text-anchor="middle">colinear PSF (22 nm)</text><text x="617.45" y="29.50" class="T" text-anchor="middle">colinear PSF (30 nm)</text><text x="984.75" y="29.50" class="T" text-anchor="middle">distrib. function x4</text><text x="250.15" y="398.00" class="T" text-anchor="middle">convolved (b)*(c)</text><text x="617.45" y="398.00" class="T" text-anchor="middle">diff. (a)-(d), x4</text><text x="984.75" y="398.00" class="T" text-anchor="middle">convolved (b)*(j)</text><text x="1352.05" y="398.00" class="T" text-anchor="middle">difference (a)-(f), x4</text><text x="250.15" y="765.25" class="T" text-anchor="middle">transv. PSF (22 nm)</text><text x="617.45" y="765.25" class="T" text-anchor="middle">transv. PSF (30 nm)</text><text x="984.75" y="765.25" class="T" text-anchor="middle">distrib. function x4</text><text x="250.15" y="1133.30" class="T" text-anchor="middle">convolved (i)*(j)</text><text x="617.45" y="1133.30" class="T" text-anchor="middle">diff. (h)-(k), x4</text><text x="984.75" y="1133.30" class="T" text-anchor="middle">convolved (i)*(c)</text><text x="1352.05" y="1133.30" class="T" text-anchor="middle">difference (h)-(m), x4</text><path d="M2 1517.5H1526.7" stroke="#000" stroke-width="1.1"/></svg></div></body></html>
